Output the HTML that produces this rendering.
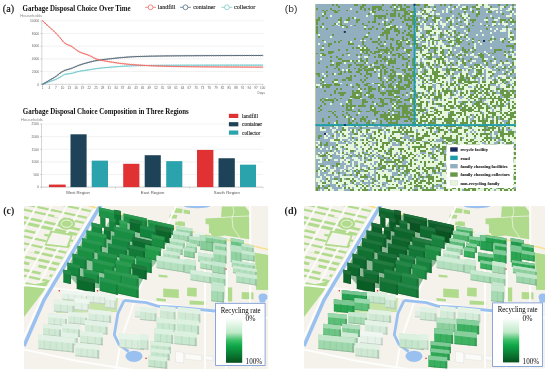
<!DOCTYPE html>
<html><head><meta charset="utf-8"><style>
html,body{margin:0;padding:0;background:#fff;}
body{width:550px;height:373px;overflow:hidden;}
svg{display:block;}
</style></head><body>
<svg width="550" height="373" viewBox="0 0 550 373">
<text x="2.8" y="12.2" font-family='"Liberation Serif", "Times New Roman", serif' font-size="10.5" fill="#111" stroke="#111" stroke-width="0.15" textLength="11.3" lengthAdjust="spacingAndGlyphs">(a)</text>
<text x="22.6" y="10.6" font-family='"Liberation Serif", "Times New Roman", serif' font-size="7.25" font-weight="bold" fill="#111" textLength="108" lengthAdjust="spacingAndGlyphs">Garbage Disposal Choice Over Time</text>
<text x="20.2" y="17.2" font-family='"Liberation Sans", Arial, sans-serif' font-size="4.1" fill="#888" textLength="21.8" lengthAdjust="spacingAndGlyphs">Households</text>
<text x="39.2" y="85.50" font-family='"Liberation Sans", Arial, sans-serif' font-size="3.3" fill="#666" text-anchor="end">0</text>
<line x1="40.3" y1="84.30" x2="41.8" y2="84.30" stroke="#999" stroke-width="0.4"/>
<line x1="42" y1="71.60" x2="263.5" y2="71.60" stroke="#e4e4e4" stroke-width="0.5"/>
<text x="39.2" y="72.80" font-family='"Liberation Sans", Arial, sans-serif' font-size="3.3" fill="#666" text-anchor="end">2000</text>
<line x1="40.3" y1="71.60" x2="41.8" y2="71.60" stroke="#999" stroke-width="0.4"/>
<line x1="42" y1="58.90" x2="263.5" y2="58.90" stroke="#e4e4e4" stroke-width="0.5"/>
<text x="39.2" y="60.10" font-family='"Liberation Sans", Arial, sans-serif' font-size="3.3" fill="#666" text-anchor="end">4000</text>
<line x1="40.3" y1="58.90" x2="41.8" y2="58.90" stroke="#999" stroke-width="0.4"/>
<line x1="42" y1="46.20" x2="263.5" y2="46.20" stroke="#e4e4e4" stroke-width="0.5"/>
<text x="39.2" y="47.40" font-family='"Liberation Sans", Arial, sans-serif' font-size="3.3" fill="#666" text-anchor="end">6000</text>
<line x1="40.3" y1="46.20" x2="41.8" y2="46.20" stroke="#999" stroke-width="0.4"/>
<line x1="42" y1="33.50" x2="263.5" y2="33.50" stroke="#e4e4e4" stroke-width="0.5"/>
<text x="39.2" y="34.70" font-family='"Liberation Sans", Arial, sans-serif' font-size="3.3" fill="#666" text-anchor="end">8000</text>
<line x1="40.3" y1="33.50" x2="41.8" y2="33.50" stroke="#999" stroke-width="0.4"/>
<line x1="42" y1="20.80" x2="263.5" y2="20.80" stroke="#e4e4e4" stroke-width="0.5"/>
<text x="39.2" y="22.00" font-family='"Liberation Sans", Arial, sans-serif' font-size="3.3" fill="#666" text-anchor="end">10000</text>
<line x1="40.3" y1="20.80" x2="41.8" y2="20.80" stroke="#999" stroke-width="0.4"/>
<line x1="41.8" y1="20.5" x2="41.8" y2="84.5" stroke="#aaa" stroke-width="0.5"/>
<line x1="41.8" y1="84.3" x2="263.5" y2="84.3" stroke="#aaa" stroke-width="0.5"/>
<line x1="42.60" y1="84.3" x2="42.60" y2="85.6" stroke="#999" stroke-width="0.35"/>
<text x="42.60" y="89.0" font-family='"Liberation Sans", Arial, sans-serif' font-size="3.2" fill="#666" text-anchor="middle">1</text>
<line x1="49.27" y1="84.3" x2="49.27" y2="85.6" stroke="#999" stroke-width="0.35"/>
<text x="49.27" y="89.0" font-family='"Liberation Sans", Arial, sans-serif' font-size="3.2" fill="#666" text-anchor="middle">4</text>
<line x1="55.93" y1="84.3" x2="55.93" y2="85.6" stroke="#999" stroke-width="0.35"/>
<text x="55.93" y="89.0" font-family='"Liberation Sans", Arial, sans-serif' font-size="3.2" fill="#666" text-anchor="middle">7</text>
<line x1="62.60" y1="84.3" x2="62.60" y2="85.6" stroke="#999" stroke-width="0.35"/>
<text x="62.60" y="89.0" font-family='"Liberation Sans", Arial, sans-serif' font-size="3.2" fill="#666" text-anchor="middle">10</text>
<line x1="69.27" y1="84.3" x2="69.27" y2="85.6" stroke="#999" stroke-width="0.35"/>
<text x="69.27" y="89.0" font-family='"Liberation Sans", Arial, sans-serif' font-size="3.2" fill="#666" text-anchor="middle">13</text>
<line x1="75.93" y1="84.3" x2="75.93" y2="85.6" stroke="#999" stroke-width="0.35"/>
<text x="75.93" y="89.0" font-family='"Liberation Sans", Arial, sans-serif' font-size="3.2" fill="#666" text-anchor="middle">16</text>
<line x1="82.60" y1="84.3" x2="82.60" y2="85.6" stroke="#999" stroke-width="0.35"/>
<text x="82.60" y="89.0" font-family='"Liberation Sans", Arial, sans-serif' font-size="3.2" fill="#666" text-anchor="middle">19</text>
<line x1="89.27" y1="84.3" x2="89.27" y2="85.6" stroke="#999" stroke-width="0.35"/>
<text x="89.27" y="89.0" font-family='"Liberation Sans", Arial, sans-serif' font-size="3.2" fill="#666" text-anchor="middle">22</text>
<line x1="95.93" y1="84.3" x2="95.93" y2="85.6" stroke="#999" stroke-width="0.35"/>
<text x="95.93" y="89.0" font-family='"Liberation Sans", Arial, sans-serif' font-size="3.2" fill="#666" text-anchor="middle">25</text>
<line x1="102.60" y1="84.3" x2="102.60" y2="85.6" stroke="#999" stroke-width="0.35"/>
<text x="102.60" y="89.0" font-family='"Liberation Sans", Arial, sans-serif' font-size="3.2" fill="#666" text-anchor="middle">28</text>
<line x1="109.27" y1="84.3" x2="109.27" y2="85.6" stroke="#999" stroke-width="0.35"/>
<text x="109.27" y="89.0" font-family='"Liberation Sans", Arial, sans-serif' font-size="3.2" fill="#666" text-anchor="middle">31</text>
<line x1="115.93" y1="84.3" x2="115.93" y2="85.6" stroke="#999" stroke-width="0.35"/>
<text x="115.93" y="89.0" font-family='"Liberation Sans", Arial, sans-serif' font-size="3.2" fill="#666" text-anchor="middle">34</text>
<line x1="122.60" y1="84.3" x2="122.60" y2="85.6" stroke="#999" stroke-width="0.35"/>
<text x="122.60" y="89.0" font-family='"Liberation Sans", Arial, sans-serif' font-size="3.2" fill="#666" text-anchor="middle">37</text>
<line x1="129.27" y1="84.3" x2="129.27" y2="85.6" stroke="#999" stroke-width="0.35"/>
<text x="129.27" y="89.0" font-family='"Liberation Sans", Arial, sans-serif' font-size="3.2" fill="#666" text-anchor="middle">40</text>
<line x1="135.93" y1="84.3" x2="135.93" y2="85.6" stroke="#999" stroke-width="0.35"/>
<text x="135.93" y="89.0" font-family='"Liberation Sans", Arial, sans-serif' font-size="3.2" fill="#666" text-anchor="middle">43</text>
<line x1="142.60" y1="84.3" x2="142.60" y2="85.6" stroke="#999" stroke-width="0.35"/>
<text x="142.60" y="89.0" font-family='"Liberation Sans", Arial, sans-serif' font-size="3.2" fill="#666" text-anchor="middle">46</text>
<line x1="149.27" y1="84.3" x2="149.27" y2="85.6" stroke="#999" stroke-width="0.35"/>
<text x="149.27" y="89.0" font-family='"Liberation Sans", Arial, sans-serif' font-size="3.2" fill="#666" text-anchor="middle">49</text>
<line x1="155.93" y1="84.3" x2="155.93" y2="85.6" stroke="#999" stroke-width="0.35"/>
<text x="155.93" y="89.0" font-family='"Liberation Sans", Arial, sans-serif' font-size="3.2" fill="#666" text-anchor="middle">52</text>
<line x1="162.60" y1="84.3" x2="162.60" y2="85.6" stroke="#999" stroke-width="0.35"/>
<text x="162.60" y="89.0" font-family='"Liberation Sans", Arial, sans-serif' font-size="3.2" fill="#666" text-anchor="middle">55</text>
<line x1="169.27" y1="84.3" x2="169.27" y2="85.6" stroke="#999" stroke-width="0.35"/>
<text x="169.27" y="89.0" font-family='"Liberation Sans", Arial, sans-serif' font-size="3.2" fill="#666" text-anchor="middle">58</text>
<line x1="175.93" y1="84.3" x2="175.93" y2="85.6" stroke="#999" stroke-width="0.35"/>
<text x="175.93" y="89.0" font-family='"Liberation Sans", Arial, sans-serif' font-size="3.2" fill="#666" text-anchor="middle">61</text>
<line x1="182.60" y1="84.3" x2="182.60" y2="85.6" stroke="#999" stroke-width="0.35"/>
<text x="182.60" y="89.0" font-family='"Liberation Sans", Arial, sans-serif' font-size="3.2" fill="#666" text-anchor="middle">64</text>
<line x1="189.27" y1="84.3" x2="189.27" y2="85.6" stroke="#999" stroke-width="0.35"/>
<text x="189.27" y="89.0" font-family='"Liberation Sans", Arial, sans-serif' font-size="3.2" fill="#666" text-anchor="middle">67</text>
<line x1="195.93" y1="84.3" x2="195.93" y2="85.6" stroke="#999" stroke-width="0.35"/>
<text x="195.93" y="89.0" font-family='"Liberation Sans", Arial, sans-serif' font-size="3.2" fill="#666" text-anchor="middle">70</text>
<line x1="202.60" y1="84.3" x2="202.60" y2="85.6" stroke="#999" stroke-width="0.35"/>
<text x="202.60" y="89.0" font-family='"Liberation Sans", Arial, sans-serif' font-size="3.2" fill="#666" text-anchor="middle">73</text>
<line x1="209.26" y1="84.3" x2="209.26" y2="85.6" stroke="#999" stroke-width="0.35"/>
<text x="209.26" y="89.0" font-family='"Liberation Sans", Arial, sans-serif' font-size="3.2" fill="#666" text-anchor="middle">76</text>
<line x1="215.93" y1="84.3" x2="215.93" y2="85.6" stroke="#999" stroke-width="0.35"/>
<text x="215.93" y="89.0" font-family='"Liberation Sans", Arial, sans-serif' font-size="3.2" fill="#666" text-anchor="middle">79</text>
<line x1="222.60" y1="84.3" x2="222.60" y2="85.6" stroke="#999" stroke-width="0.35"/>
<text x="222.60" y="89.0" font-family='"Liberation Sans", Arial, sans-serif' font-size="3.2" fill="#666" text-anchor="middle">82</text>
<line x1="229.26" y1="84.3" x2="229.26" y2="85.6" stroke="#999" stroke-width="0.35"/>
<text x="229.26" y="89.0" font-family='"Liberation Sans", Arial, sans-serif' font-size="3.2" fill="#666" text-anchor="middle">85</text>
<line x1="235.93" y1="84.3" x2="235.93" y2="85.6" stroke="#999" stroke-width="0.35"/>
<text x="235.93" y="89.0" font-family='"Liberation Sans", Arial, sans-serif' font-size="3.2" fill="#666" text-anchor="middle">88</text>
<line x1="242.60" y1="84.3" x2="242.60" y2="85.6" stroke="#999" stroke-width="0.35"/>
<text x="242.60" y="89.0" font-family='"Liberation Sans", Arial, sans-serif' font-size="3.2" fill="#666" text-anchor="middle">91</text>
<line x1="249.26" y1="84.3" x2="249.26" y2="85.6" stroke="#999" stroke-width="0.35"/>
<text x="249.26" y="89.0" font-family='"Liberation Sans", Arial, sans-serif' font-size="3.2" fill="#666" text-anchor="middle">94</text>
<line x1="255.93" y1="84.3" x2="255.93" y2="85.6" stroke="#999" stroke-width="0.35"/>
<text x="255.93" y="89.0" font-family='"Liberation Sans", Arial, sans-serif' font-size="3.2" fill="#666" text-anchor="middle">97</text>
<line x1="262.60" y1="84.3" x2="262.60" y2="85.6" stroke="#999" stroke-width="0.35"/>
<text x="262.60" y="89.0" font-family='"Liberation Sans", Arial, sans-serif' font-size="3.2" fill="#666" text-anchor="middle">100</text>
<text x="257.5" y="94.2" font-family='"Liberation Sans", Arial, sans-serif' font-size="3.2" fill="#666">Days</text>
<polyline points="42.60,84.30 44.82,83.45 47.04,82.59 49.27,81.76 51.49,81.00 53.71,80.27 55.93,79.41 58.16,78.28 60.38,77.00 62.60,75.52 64.82,74.39 67.04,73.98 69.27,73.71 71.49,73.38 73.71,72.83 75.93,72.17 78.16,71.56 80.38,71.11 82.60,70.74 84.82,70.41 87.04,70.09 89.27,69.75 91.49,69.39 93.71,69.03 95.93,68.69 98.16,68.40 100.38,68.14 102.60,67.89 104.82,67.67 107.04,67.47 109.27,67.28 111.49,67.11 113.71,66.94 115.93,66.77 118.15,66.60 120.38,66.45 122.60,66.30 124.82,66.16 127.04,66.03 129.27,65.92 131.49,65.83 133.71,65.75 135.93,65.69 138.15,65.65 140.38,65.61 142.60,65.57 144.82,65.53 147.04,65.50 149.27,65.46 151.49,65.43 153.71,65.41 155.93,65.38 158.15,65.36 160.38,65.34 162.60,65.32 164.82,65.30 167.04,65.28 169.27,65.27 171.49,65.26 173.71,65.25 175.93,65.24 178.15,65.23 180.38,65.23 182.60,65.22 184.82,65.21 187.04,65.21 189.27,65.20 191.49,65.20 193.71,65.19 195.93,65.19 198.15,65.18 200.38,65.18 202.60,65.18 204.82,65.17 207.04,65.17 209.26,65.17 211.49,65.16 213.71,65.16 215.93,65.16 218.15,65.15 220.38,65.15 222.60,65.15 224.82,65.15 227.04,65.15 229.26,65.14 231.49,65.14 233.71,65.14 235.93,65.14 238.15,65.14 240.38,65.14 242.60,65.14 244.82,65.13 247.04,65.13 249.26,65.13 251.49,65.13 253.71,65.13 255.93,65.13 258.15,65.13 260.38,65.12 262.60,65.12" fill="none" stroke="#74cbcd" stroke-width="1.0" stroke-linejoin="round"/>
<path d="M42.00 84.30a0.6 0.6 0 1 0 1.2 0a0.6 0.6 0 1 0 -1.2 0M44.22 83.45a0.6 0.6 0 1 0 1.2 0a0.6 0.6 0 1 0 -1.2 0M46.44 82.59a0.6 0.6 0 1 0 1.2 0a0.6 0.6 0 1 0 -1.2 0M48.67 81.76a0.6 0.6 0 1 0 1.2 0a0.6 0.6 0 1 0 -1.2 0M50.89 81.00a0.6 0.6 0 1 0 1.2 0a0.6 0.6 0 1 0 -1.2 0M53.11 80.27a0.6 0.6 0 1 0 1.2 0a0.6 0.6 0 1 0 -1.2 0M55.33 79.41a0.6 0.6 0 1 0 1.2 0a0.6 0.6 0 1 0 -1.2 0M57.56 78.28a0.6 0.6 0 1 0 1.2 0a0.6 0.6 0 1 0 -1.2 0M59.78 77.00a0.6 0.6 0 1 0 1.2 0a0.6 0.6 0 1 0 -1.2 0M62.00 75.52a0.6 0.6 0 1 0 1.2 0a0.6 0.6 0 1 0 -1.2 0M64.22 74.39a0.6 0.6 0 1 0 1.2 0a0.6 0.6 0 1 0 -1.2 0M66.44 73.98a0.6 0.6 0 1 0 1.2 0a0.6 0.6 0 1 0 -1.2 0M68.67 73.71a0.6 0.6 0 1 0 1.2 0a0.6 0.6 0 1 0 -1.2 0M70.89 73.38a0.6 0.6 0 1 0 1.2 0a0.6 0.6 0 1 0 -1.2 0M73.11 72.83a0.6 0.6 0 1 0 1.2 0a0.6 0.6 0 1 0 -1.2 0M75.33 72.17a0.6 0.6 0 1 0 1.2 0a0.6 0.6 0 1 0 -1.2 0M77.56 71.56a0.6 0.6 0 1 0 1.2 0a0.6 0.6 0 1 0 -1.2 0M79.78 71.11a0.6 0.6 0 1 0 1.2 0a0.6 0.6 0 1 0 -1.2 0M82.00 70.74a0.6 0.6 0 1 0 1.2 0a0.6 0.6 0 1 0 -1.2 0M84.22 70.41a0.6 0.6 0 1 0 1.2 0a0.6 0.6 0 1 0 -1.2 0M86.44 70.09a0.6 0.6 0 1 0 1.2 0a0.6 0.6 0 1 0 -1.2 0M88.67 69.75a0.6 0.6 0 1 0 1.2 0a0.6 0.6 0 1 0 -1.2 0M90.89 69.39a0.6 0.6 0 1 0 1.2 0a0.6 0.6 0 1 0 -1.2 0M93.11 69.03a0.6 0.6 0 1 0 1.2 0a0.6 0.6 0 1 0 -1.2 0M95.33 68.69a0.6 0.6 0 1 0 1.2 0a0.6 0.6 0 1 0 -1.2 0M97.56 68.40a0.6 0.6 0 1 0 1.2 0a0.6 0.6 0 1 0 -1.2 0M99.78 68.14a0.6 0.6 0 1 0 1.2 0a0.6 0.6 0 1 0 -1.2 0M102.00 67.89a0.6 0.6 0 1 0 1.2 0a0.6 0.6 0 1 0 -1.2 0M104.22 67.67a0.6 0.6 0 1 0 1.2 0a0.6 0.6 0 1 0 -1.2 0M106.44 67.47a0.6 0.6 0 1 0 1.2 0a0.6 0.6 0 1 0 -1.2 0M108.67 67.28a0.6 0.6 0 1 0 1.2 0a0.6 0.6 0 1 0 -1.2 0M110.89 67.11a0.6 0.6 0 1 0 1.2 0a0.6 0.6 0 1 0 -1.2 0M113.11 66.94a0.6 0.6 0 1 0 1.2 0a0.6 0.6 0 1 0 -1.2 0M115.33 66.77a0.6 0.6 0 1 0 1.2 0a0.6 0.6 0 1 0 -1.2 0M117.55 66.60a0.6 0.6 0 1 0 1.2 0a0.6 0.6 0 1 0 -1.2 0M119.78 66.45a0.6 0.6 0 1 0 1.2 0a0.6 0.6 0 1 0 -1.2 0M122.00 66.30a0.6 0.6 0 1 0 1.2 0a0.6 0.6 0 1 0 -1.2 0M124.22 66.16a0.6 0.6 0 1 0 1.2 0a0.6 0.6 0 1 0 -1.2 0M126.44 66.03a0.6 0.6 0 1 0 1.2 0a0.6 0.6 0 1 0 -1.2 0M128.67 65.92a0.6 0.6 0 1 0 1.2 0a0.6 0.6 0 1 0 -1.2 0M130.89 65.83a0.6 0.6 0 1 0 1.2 0a0.6 0.6 0 1 0 -1.2 0M133.11 65.75a0.6 0.6 0 1 0 1.2 0a0.6 0.6 0 1 0 -1.2 0M135.33 65.69a0.6 0.6 0 1 0 1.2 0a0.6 0.6 0 1 0 -1.2 0M137.55 65.65a0.6 0.6 0 1 0 1.2 0a0.6 0.6 0 1 0 -1.2 0M139.78 65.61a0.6 0.6 0 1 0 1.2 0a0.6 0.6 0 1 0 -1.2 0M142.00 65.57a0.6 0.6 0 1 0 1.2 0a0.6 0.6 0 1 0 -1.2 0M144.22 65.53a0.6 0.6 0 1 0 1.2 0a0.6 0.6 0 1 0 -1.2 0M146.44 65.50a0.6 0.6 0 1 0 1.2 0a0.6 0.6 0 1 0 -1.2 0M148.67 65.46a0.6 0.6 0 1 0 1.2 0a0.6 0.6 0 1 0 -1.2 0M150.89 65.43a0.6 0.6 0 1 0 1.2 0a0.6 0.6 0 1 0 -1.2 0M153.11 65.41a0.6 0.6 0 1 0 1.2 0a0.6 0.6 0 1 0 -1.2 0M155.33 65.38a0.6 0.6 0 1 0 1.2 0a0.6 0.6 0 1 0 -1.2 0M157.55 65.36a0.6 0.6 0 1 0 1.2 0a0.6 0.6 0 1 0 -1.2 0M159.78 65.34a0.6 0.6 0 1 0 1.2 0a0.6 0.6 0 1 0 -1.2 0M162.00 65.32a0.6 0.6 0 1 0 1.2 0a0.6 0.6 0 1 0 -1.2 0M164.22 65.30a0.6 0.6 0 1 0 1.2 0a0.6 0.6 0 1 0 -1.2 0M166.44 65.28a0.6 0.6 0 1 0 1.2 0a0.6 0.6 0 1 0 -1.2 0M168.67 65.27a0.6 0.6 0 1 0 1.2 0a0.6 0.6 0 1 0 -1.2 0M170.89 65.26a0.6 0.6 0 1 0 1.2 0a0.6 0.6 0 1 0 -1.2 0M173.11 65.25a0.6 0.6 0 1 0 1.2 0a0.6 0.6 0 1 0 -1.2 0M175.33 65.24a0.6 0.6 0 1 0 1.2 0a0.6 0.6 0 1 0 -1.2 0M177.55 65.23a0.6 0.6 0 1 0 1.2 0a0.6 0.6 0 1 0 -1.2 0M179.78 65.23a0.6 0.6 0 1 0 1.2 0a0.6 0.6 0 1 0 -1.2 0M182.00 65.22a0.6 0.6 0 1 0 1.2 0a0.6 0.6 0 1 0 -1.2 0M184.22 65.21a0.6 0.6 0 1 0 1.2 0a0.6 0.6 0 1 0 -1.2 0M186.44 65.21a0.6 0.6 0 1 0 1.2 0a0.6 0.6 0 1 0 -1.2 0M188.67 65.20a0.6 0.6 0 1 0 1.2 0a0.6 0.6 0 1 0 -1.2 0M190.89 65.20a0.6 0.6 0 1 0 1.2 0a0.6 0.6 0 1 0 -1.2 0M193.11 65.19a0.6 0.6 0 1 0 1.2 0a0.6 0.6 0 1 0 -1.2 0M195.33 65.19a0.6 0.6 0 1 0 1.2 0a0.6 0.6 0 1 0 -1.2 0M197.55 65.18a0.6 0.6 0 1 0 1.2 0a0.6 0.6 0 1 0 -1.2 0M199.78 65.18a0.6 0.6 0 1 0 1.2 0a0.6 0.6 0 1 0 -1.2 0M202.00 65.18a0.6 0.6 0 1 0 1.2 0a0.6 0.6 0 1 0 -1.2 0M204.22 65.17a0.6 0.6 0 1 0 1.2 0a0.6 0.6 0 1 0 -1.2 0M206.44 65.17a0.6 0.6 0 1 0 1.2 0a0.6 0.6 0 1 0 -1.2 0M208.66 65.17a0.6 0.6 0 1 0 1.2 0a0.6 0.6 0 1 0 -1.2 0M210.89 65.16a0.6 0.6 0 1 0 1.2 0a0.6 0.6 0 1 0 -1.2 0M213.11 65.16a0.6 0.6 0 1 0 1.2 0a0.6 0.6 0 1 0 -1.2 0M215.33 65.16a0.6 0.6 0 1 0 1.2 0a0.6 0.6 0 1 0 -1.2 0M217.55 65.15a0.6 0.6 0 1 0 1.2 0a0.6 0.6 0 1 0 -1.2 0M219.78 65.15a0.6 0.6 0 1 0 1.2 0a0.6 0.6 0 1 0 -1.2 0M222.00 65.15a0.6 0.6 0 1 0 1.2 0a0.6 0.6 0 1 0 -1.2 0M224.22 65.15a0.6 0.6 0 1 0 1.2 0a0.6 0.6 0 1 0 -1.2 0M226.44 65.15a0.6 0.6 0 1 0 1.2 0a0.6 0.6 0 1 0 -1.2 0M228.66 65.14a0.6 0.6 0 1 0 1.2 0a0.6 0.6 0 1 0 -1.2 0M230.89 65.14a0.6 0.6 0 1 0 1.2 0a0.6 0.6 0 1 0 -1.2 0M233.11 65.14a0.6 0.6 0 1 0 1.2 0a0.6 0.6 0 1 0 -1.2 0M235.33 65.14a0.6 0.6 0 1 0 1.2 0a0.6 0.6 0 1 0 -1.2 0M237.55 65.14a0.6 0.6 0 1 0 1.2 0a0.6 0.6 0 1 0 -1.2 0M239.78 65.14a0.6 0.6 0 1 0 1.2 0a0.6 0.6 0 1 0 -1.2 0M242.00 65.14a0.6 0.6 0 1 0 1.2 0a0.6 0.6 0 1 0 -1.2 0M244.22 65.13a0.6 0.6 0 1 0 1.2 0a0.6 0.6 0 1 0 -1.2 0M246.44 65.13a0.6 0.6 0 1 0 1.2 0a0.6 0.6 0 1 0 -1.2 0M248.66 65.13a0.6 0.6 0 1 0 1.2 0a0.6 0.6 0 1 0 -1.2 0M250.89 65.13a0.6 0.6 0 1 0 1.2 0a0.6 0.6 0 1 0 -1.2 0M253.11 65.13a0.6 0.6 0 1 0 1.2 0a0.6 0.6 0 1 0 -1.2 0M255.33 65.13a0.6 0.6 0 1 0 1.2 0a0.6 0.6 0 1 0 -1.2 0M257.55 65.13a0.6 0.6 0 1 0 1.2 0a0.6 0.6 0 1 0 -1.2 0M259.78 65.12a0.6 0.6 0 1 0 1.2 0a0.6 0.6 0 1 0 -1.2 0M262.00 65.12a0.6 0.6 0 1 0 1.2 0a0.6 0.6 0 1 0 -1.2 0" fill="none" stroke="#74cbcd" stroke-width="0.45" opacity="0.9"/>
<polyline points="42.60,84.30 44.82,82.99 47.04,81.68 49.27,80.36 51.49,79.10 53.71,77.83 55.93,76.43 58.16,74.63 60.38,72.87 62.60,71.49 64.82,70.39 67.04,69.67 69.27,69.08 71.49,68.42 73.71,67.53 75.93,66.52 78.16,65.56 80.38,64.78 82.60,64.07 84.82,63.41 87.04,62.79 89.27,62.22 91.49,61.66 93.71,61.13 95.93,60.66 98.16,60.26 100.38,59.94 102.60,59.65 104.82,59.39 107.04,59.15 109.27,58.90 111.49,58.65 113.71,58.39 115.93,58.15 118.15,57.91 120.38,57.70 122.60,57.50 124.82,57.32 127.04,57.14 129.27,56.98 131.49,56.83 133.71,56.71 135.93,56.61 138.15,56.54 140.38,56.47 142.60,56.41 144.82,56.35 147.04,56.29 149.27,56.23 151.49,56.18 153.71,56.14 155.93,56.09 158.15,56.05 160.38,56.02 162.60,55.98 164.82,55.95 167.04,55.92 169.27,55.90 171.49,55.87 173.71,55.85 175.93,55.83 178.15,55.81 180.38,55.80 182.60,55.78 184.82,55.76 187.04,55.75 189.27,55.73 191.49,55.72 193.71,55.71 195.93,55.70 198.15,55.68 200.38,55.67 202.60,55.66 204.82,55.65 207.04,55.64 209.26,55.63 211.49,55.62 213.71,55.62 215.93,55.61 218.15,55.60 220.38,55.59 222.60,55.58 224.82,55.57 227.04,55.57 229.26,55.56 231.49,55.55 233.71,55.55 235.93,55.54 238.15,55.54 240.38,55.53 242.60,55.52 244.82,55.52 247.04,55.51 249.26,55.51 251.49,55.50 253.71,55.50 255.93,55.49 258.15,55.48 260.38,55.48 262.60,55.47" fill="none" stroke="#5a6b7a" stroke-width="1.0" stroke-linejoin="round"/>
<path d="M42.00 84.30a0.6 0.6 0 1 0 1.2 0a0.6 0.6 0 1 0 -1.2 0M44.22 82.99a0.6 0.6 0 1 0 1.2 0a0.6 0.6 0 1 0 -1.2 0M46.44 81.68a0.6 0.6 0 1 0 1.2 0a0.6 0.6 0 1 0 -1.2 0M48.67 80.36a0.6 0.6 0 1 0 1.2 0a0.6 0.6 0 1 0 -1.2 0M50.89 79.10a0.6 0.6 0 1 0 1.2 0a0.6 0.6 0 1 0 -1.2 0M53.11 77.83a0.6 0.6 0 1 0 1.2 0a0.6 0.6 0 1 0 -1.2 0M55.33 76.43a0.6 0.6 0 1 0 1.2 0a0.6 0.6 0 1 0 -1.2 0M57.56 74.63a0.6 0.6 0 1 0 1.2 0a0.6 0.6 0 1 0 -1.2 0M59.78 72.87a0.6 0.6 0 1 0 1.2 0a0.6 0.6 0 1 0 -1.2 0M62.00 71.49a0.6 0.6 0 1 0 1.2 0a0.6 0.6 0 1 0 -1.2 0M64.22 70.39a0.6 0.6 0 1 0 1.2 0a0.6 0.6 0 1 0 -1.2 0M66.44 69.67a0.6 0.6 0 1 0 1.2 0a0.6 0.6 0 1 0 -1.2 0M68.67 69.08a0.6 0.6 0 1 0 1.2 0a0.6 0.6 0 1 0 -1.2 0M70.89 68.42a0.6 0.6 0 1 0 1.2 0a0.6 0.6 0 1 0 -1.2 0M73.11 67.53a0.6 0.6 0 1 0 1.2 0a0.6 0.6 0 1 0 -1.2 0M75.33 66.52a0.6 0.6 0 1 0 1.2 0a0.6 0.6 0 1 0 -1.2 0M77.56 65.56a0.6 0.6 0 1 0 1.2 0a0.6 0.6 0 1 0 -1.2 0M79.78 64.78a0.6 0.6 0 1 0 1.2 0a0.6 0.6 0 1 0 -1.2 0M82.00 64.07a0.6 0.6 0 1 0 1.2 0a0.6 0.6 0 1 0 -1.2 0M84.22 63.41a0.6 0.6 0 1 0 1.2 0a0.6 0.6 0 1 0 -1.2 0M86.44 62.79a0.6 0.6 0 1 0 1.2 0a0.6 0.6 0 1 0 -1.2 0M88.67 62.22a0.6 0.6 0 1 0 1.2 0a0.6 0.6 0 1 0 -1.2 0M90.89 61.66a0.6 0.6 0 1 0 1.2 0a0.6 0.6 0 1 0 -1.2 0M93.11 61.13a0.6 0.6 0 1 0 1.2 0a0.6 0.6 0 1 0 -1.2 0M95.33 60.66a0.6 0.6 0 1 0 1.2 0a0.6 0.6 0 1 0 -1.2 0M97.56 60.26a0.6 0.6 0 1 0 1.2 0a0.6 0.6 0 1 0 -1.2 0M99.78 59.94a0.6 0.6 0 1 0 1.2 0a0.6 0.6 0 1 0 -1.2 0M102.00 59.65a0.6 0.6 0 1 0 1.2 0a0.6 0.6 0 1 0 -1.2 0M104.22 59.39a0.6 0.6 0 1 0 1.2 0a0.6 0.6 0 1 0 -1.2 0M106.44 59.15a0.6 0.6 0 1 0 1.2 0a0.6 0.6 0 1 0 -1.2 0M108.67 58.90a0.6 0.6 0 1 0 1.2 0a0.6 0.6 0 1 0 -1.2 0M110.89 58.65a0.6 0.6 0 1 0 1.2 0a0.6 0.6 0 1 0 -1.2 0M113.11 58.39a0.6 0.6 0 1 0 1.2 0a0.6 0.6 0 1 0 -1.2 0M115.33 58.15a0.6 0.6 0 1 0 1.2 0a0.6 0.6 0 1 0 -1.2 0M117.55 57.91a0.6 0.6 0 1 0 1.2 0a0.6 0.6 0 1 0 -1.2 0M119.78 57.70a0.6 0.6 0 1 0 1.2 0a0.6 0.6 0 1 0 -1.2 0M122.00 57.50a0.6 0.6 0 1 0 1.2 0a0.6 0.6 0 1 0 -1.2 0M124.22 57.32a0.6 0.6 0 1 0 1.2 0a0.6 0.6 0 1 0 -1.2 0M126.44 57.14a0.6 0.6 0 1 0 1.2 0a0.6 0.6 0 1 0 -1.2 0M128.67 56.98a0.6 0.6 0 1 0 1.2 0a0.6 0.6 0 1 0 -1.2 0M130.89 56.83a0.6 0.6 0 1 0 1.2 0a0.6 0.6 0 1 0 -1.2 0M133.11 56.71a0.6 0.6 0 1 0 1.2 0a0.6 0.6 0 1 0 -1.2 0M135.33 56.61a0.6 0.6 0 1 0 1.2 0a0.6 0.6 0 1 0 -1.2 0M137.55 56.54a0.6 0.6 0 1 0 1.2 0a0.6 0.6 0 1 0 -1.2 0M139.78 56.47a0.6 0.6 0 1 0 1.2 0a0.6 0.6 0 1 0 -1.2 0M142.00 56.41a0.6 0.6 0 1 0 1.2 0a0.6 0.6 0 1 0 -1.2 0M144.22 56.35a0.6 0.6 0 1 0 1.2 0a0.6 0.6 0 1 0 -1.2 0M146.44 56.29a0.6 0.6 0 1 0 1.2 0a0.6 0.6 0 1 0 -1.2 0M148.67 56.23a0.6 0.6 0 1 0 1.2 0a0.6 0.6 0 1 0 -1.2 0M150.89 56.18a0.6 0.6 0 1 0 1.2 0a0.6 0.6 0 1 0 -1.2 0M153.11 56.14a0.6 0.6 0 1 0 1.2 0a0.6 0.6 0 1 0 -1.2 0M155.33 56.09a0.6 0.6 0 1 0 1.2 0a0.6 0.6 0 1 0 -1.2 0M157.55 56.05a0.6 0.6 0 1 0 1.2 0a0.6 0.6 0 1 0 -1.2 0M159.78 56.02a0.6 0.6 0 1 0 1.2 0a0.6 0.6 0 1 0 -1.2 0M162.00 55.98a0.6 0.6 0 1 0 1.2 0a0.6 0.6 0 1 0 -1.2 0M164.22 55.95a0.6 0.6 0 1 0 1.2 0a0.6 0.6 0 1 0 -1.2 0M166.44 55.92a0.6 0.6 0 1 0 1.2 0a0.6 0.6 0 1 0 -1.2 0M168.67 55.90a0.6 0.6 0 1 0 1.2 0a0.6 0.6 0 1 0 -1.2 0M170.89 55.87a0.6 0.6 0 1 0 1.2 0a0.6 0.6 0 1 0 -1.2 0M173.11 55.85a0.6 0.6 0 1 0 1.2 0a0.6 0.6 0 1 0 -1.2 0M175.33 55.83a0.6 0.6 0 1 0 1.2 0a0.6 0.6 0 1 0 -1.2 0M177.55 55.81a0.6 0.6 0 1 0 1.2 0a0.6 0.6 0 1 0 -1.2 0M179.78 55.80a0.6 0.6 0 1 0 1.2 0a0.6 0.6 0 1 0 -1.2 0M182.00 55.78a0.6 0.6 0 1 0 1.2 0a0.6 0.6 0 1 0 -1.2 0M184.22 55.76a0.6 0.6 0 1 0 1.2 0a0.6 0.6 0 1 0 -1.2 0M186.44 55.75a0.6 0.6 0 1 0 1.2 0a0.6 0.6 0 1 0 -1.2 0M188.67 55.73a0.6 0.6 0 1 0 1.2 0a0.6 0.6 0 1 0 -1.2 0M190.89 55.72a0.6 0.6 0 1 0 1.2 0a0.6 0.6 0 1 0 -1.2 0M193.11 55.71a0.6 0.6 0 1 0 1.2 0a0.6 0.6 0 1 0 -1.2 0M195.33 55.70a0.6 0.6 0 1 0 1.2 0a0.6 0.6 0 1 0 -1.2 0M197.55 55.68a0.6 0.6 0 1 0 1.2 0a0.6 0.6 0 1 0 -1.2 0M199.78 55.67a0.6 0.6 0 1 0 1.2 0a0.6 0.6 0 1 0 -1.2 0M202.00 55.66a0.6 0.6 0 1 0 1.2 0a0.6 0.6 0 1 0 -1.2 0M204.22 55.65a0.6 0.6 0 1 0 1.2 0a0.6 0.6 0 1 0 -1.2 0M206.44 55.64a0.6 0.6 0 1 0 1.2 0a0.6 0.6 0 1 0 -1.2 0M208.66 55.63a0.6 0.6 0 1 0 1.2 0a0.6 0.6 0 1 0 -1.2 0M210.89 55.62a0.6 0.6 0 1 0 1.2 0a0.6 0.6 0 1 0 -1.2 0M213.11 55.62a0.6 0.6 0 1 0 1.2 0a0.6 0.6 0 1 0 -1.2 0M215.33 55.61a0.6 0.6 0 1 0 1.2 0a0.6 0.6 0 1 0 -1.2 0M217.55 55.60a0.6 0.6 0 1 0 1.2 0a0.6 0.6 0 1 0 -1.2 0M219.78 55.59a0.6 0.6 0 1 0 1.2 0a0.6 0.6 0 1 0 -1.2 0M222.00 55.58a0.6 0.6 0 1 0 1.2 0a0.6 0.6 0 1 0 -1.2 0M224.22 55.57a0.6 0.6 0 1 0 1.2 0a0.6 0.6 0 1 0 -1.2 0M226.44 55.57a0.6 0.6 0 1 0 1.2 0a0.6 0.6 0 1 0 -1.2 0M228.66 55.56a0.6 0.6 0 1 0 1.2 0a0.6 0.6 0 1 0 -1.2 0M230.89 55.55a0.6 0.6 0 1 0 1.2 0a0.6 0.6 0 1 0 -1.2 0M233.11 55.55a0.6 0.6 0 1 0 1.2 0a0.6 0.6 0 1 0 -1.2 0M235.33 55.54a0.6 0.6 0 1 0 1.2 0a0.6 0.6 0 1 0 -1.2 0M237.55 55.54a0.6 0.6 0 1 0 1.2 0a0.6 0.6 0 1 0 -1.2 0M239.78 55.53a0.6 0.6 0 1 0 1.2 0a0.6 0.6 0 1 0 -1.2 0M242.00 55.52a0.6 0.6 0 1 0 1.2 0a0.6 0.6 0 1 0 -1.2 0M244.22 55.52a0.6 0.6 0 1 0 1.2 0a0.6 0.6 0 1 0 -1.2 0M246.44 55.51a0.6 0.6 0 1 0 1.2 0a0.6 0.6 0 1 0 -1.2 0M248.66 55.51a0.6 0.6 0 1 0 1.2 0a0.6 0.6 0 1 0 -1.2 0M250.89 55.50a0.6 0.6 0 1 0 1.2 0a0.6 0.6 0 1 0 -1.2 0M253.11 55.50a0.6 0.6 0 1 0 1.2 0a0.6 0.6 0 1 0 -1.2 0M255.33 55.49a0.6 0.6 0 1 0 1.2 0a0.6 0.6 0 1 0 -1.2 0M257.55 55.48a0.6 0.6 0 1 0 1.2 0a0.6 0.6 0 1 0 -1.2 0M259.78 55.48a0.6 0.6 0 1 0 1.2 0a0.6 0.6 0 1 0 -1.2 0M262.00 55.47a0.6 0.6 0 1 0 1.2 0a0.6 0.6 0 1 0 -1.2 0" fill="none" stroke="#5a6b7a" stroke-width="0.45" opacity="0.9"/>
<polyline points="42.60,20.80 44.82,22.88 47.04,24.95 49.27,27.02 51.49,29.04 53.71,31.05 55.93,33.18 58.16,35.56 60.38,38.07 62.60,40.88 64.82,43.22 67.04,44.43 69.27,45.39 71.49,46.33 73.71,47.81 75.93,49.61 78.16,51.23 80.38,52.31 82.60,53.14 84.82,53.88 87.04,54.62 89.27,55.49 91.49,56.57 93.71,57.75 95.93,58.82 98.16,59.60 100.38,60.14 102.60,60.59 104.82,60.97 107.04,61.33 109.27,61.69 111.49,62.06 113.71,62.42 115.93,62.77 118.15,63.10 120.38,63.40 122.60,63.66 124.82,63.90 127.04,64.13 129.27,64.34 131.49,64.54 133.71,64.71 135.93,64.87 138.15,65.02 140.38,65.16 142.60,65.29 144.82,65.43 147.04,65.55 149.27,65.67 151.49,65.78 153.71,65.89 155.93,65.98 158.15,66.06 160.38,66.14 162.60,66.20 164.82,66.26 167.04,66.31 169.27,66.36 171.49,66.41 173.71,66.46 175.93,66.50 178.15,66.54 180.38,66.58 182.60,66.61 184.82,66.65 187.04,66.68 189.27,66.70 191.49,66.73 193.71,66.75 195.93,66.77 198.15,66.79 200.38,66.81 202.60,66.83 204.82,66.85 207.04,66.86 209.26,66.88 211.49,66.89 213.71,66.91 215.93,66.92 218.15,66.93 220.38,66.95 222.60,66.96 224.82,66.97 227.04,66.98 229.26,66.99 231.49,67.00 233.71,67.01 235.93,67.02 238.15,67.03 240.38,67.04 242.60,67.05 244.82,67.07 247.04,67.08 249.26,67.09 251.49,67.10 253.71,67.11 255.93,67.12 258.15,67.13 260.38,67.14 262.60,67.16" fill="none" stroke="#f2706a" stroke-width="1.0" stroke-linejoin="round"/>
<path d="M42.00 20.80a0.6 0.6 0 1 0 1.2 0a0.6 0.6 0 1 0 -1.2 0M44.22 22.88a0.6 0.6 0 1 0 1.2 0a0.6 0.6 0 1 0 -1.2 0M46.44 24.95a0.6 0.6 0 1 0 1.2 0a0.6 0.6 0 1 0 -1.2 0M48.67 27.02a0.6 0.6 0 1 0 1.2 0a0.6 0.6 0 1 0 -1.2 0M50.89 29.04a0.6 0.6 0 1 0 1.2 0a0.6 0.6 0 1 0 -1.2 0M53.11 31.05a0.6 0.6 0 1 0 1.2 0a0.6 0.6 0 1 0 -1.2 0M55.33 33.18a0.6 0.6 0 1 0 1.2 0a0.6 0.6 0 1 0 -1.2 0M57.56 35.56a0.6 0.6 0 1 0 1.2 0a0.6 0.6 0 1 0 -1.2 0M59.78 38.07a0.6 0.6 0 1 0 1.2 0a0.6 0.6 0 1 0 -1.2 0M62.00 40.88a0.6 0.6 0 1 0 1.2 0a0.6 0.6 0 1 0 -1.2 0M64.22 43.22a0.6 0.6 0 1 0 1.2 0a0.6 0.6 0 1 0 -1.2 0M66.44 44.43a0.6 0.6 0 1 0 1.2 0a0.6 0.6 0 1 0 -1.2 0M68.67 45.39a0.6 0.6 0 1 0 1.2 0a0.6 0.6 0 1 0 -1.2 0M70.89 46.33a0.6 0.6 0 1 0 1.2 0a0.6 0.6 0 1 0 -1.2 0M73.11 47.81a0.6 0.6 0 1 0 1.2 0a0.6 0.6 0 1 0 -1.2 0M75.33 49.61a0.6 0.6 0 1 0 1.2 0a0.6 0.6 0 1 0 -1.2 0M77.56 51.23a0.6 0.6 0 1 0 1.2 0a0.6 0.6 0 1 0 -1.2 0M79.78 52.31a0.6 0.6 0 1 0 1.2 0a0.6 0.6 0 1 0 -1.2 0M82.00 53.14a0.6 0.6 0 1 0 1.2 0a0.6 0.6 0 1 0 -1.2 0M84.22 53.88a0.6 0.6 0 1 0 1.2 0a0.6 0.6 0 1 0 -1.2 0M86.44 54.62a0.6 0.6 0 1 0 1.2 0a0.6 0.6 0 1 0 -1.2 0M88.67 55.49a0.6 0.6 0 1 0 1.2 0a0.6 0.6 0 1 0 -1.2 0M90.89 56.57a0.6 0.6 0 1 0 1.2 0a0.6 0.6 0 1 0 -1.2 0M93.11 57.75a0.6 0.6 0 1 0 1.2 0a0.6 0.6 0 1 0 -1.2 0M95.33 58.82a0.6 0.6 0 1 0 1.2 0a0.6 0.6 0 1 0 -1.2 0M97.56 59.60a0.6 0.6 0 1 0 1.2 0a0.6 0.6 0 1 0 -1.2 0M99.78 60.14a0.6 0.6 0 1 0 1.2 0a0.6 0.6 0 1 0 -1.2 0M102.00 60.59a0.6 0.6 0 1 0 1.2 0a0.6 0.6 0 1 0 -1.2 0M104.22 60.97a0.6 0.6 0 1 0 1.2 0a0.6 0.6 0 1 0 -1.2 0M106.44 61.33a0.6 0.6 0 1 0 1.2 0a0.6 0.6 0 1 0 -1.2 0M108.67 61.69a0.6 0.6 0 1 0 1.2 0a0.6 0.6 0 1 0 -1.2 0M110.89 62.06a0.6 0.6 0 1 0 1.2 0a0.6 0.6 0 1 0 -1.2 0M113.11 62.42a0.6 0.6 0 1 0 1.2 0a0.6 0.6 0 1 0 -1.2 0M115.33 62.77a0.6 0.6 0 1 0 1.2 0a0.6 0.6 0 1 0 -1.2 0M117.55 63.10a0.6 0.6 0 1 0 1.2 0a0.6 0.6 0 1 0 -1.2 0M119.78 63.40a0.6 0.6 0 1 0 1.2 0a0.6 0.6 0 1 0 -1.2 0M122.00 63.66a0.6 0.6 0 1 0 1.2 0a0.6 0.6 0 1 0 -1.2 0M124.22 63.90a0.6 0.6 0 1 0 1.2 0a0.6 0.6 0 1 0 -1.2 0M126.44 64.13a0.6 0.6 0 1 0 1.2 0a0.6 0.6 0 1 0 -1.2 0M128.67 64.34a0.6 0.6 0 1 0 1.2 0a0.6 0.6 0 1 0 -1.2 0M130.89 64.54a0.6 0.6 0 1 0 1.2 0a0.6 0.6 0 1 0 -1.2 0M133.11 64.71a0.6 0.6 0 1 0 1.2 0a0.6 0.6 0 1 0 -1.2 0M135.33 64.87a0.6 0.6 0 1 0 1.2 0a0.6 0.6 0 1 0 -1.2 0M137.55 65.02a0.6 0.6 0 1 0 1.2 0a0.6 0.6 0 1 0 -1.2 0M139.78 65.16a0.6 0.6 0 1 0 1.2 0a0.6 0.6 0 1 0 -1.2 0M142.00 65.29a0.6 0.6 0 1 0 1.2 0a0.6 0.6 0 1 0 -1.2 0M144.22 65.43a0.6 0.6 0 1 0 1.2 0a0.6 0.6 0 1 0 -1.2 0M146.44 65.55a0.6 0.6 0 1 0 1.2 0a0.6 0.6 0 1 0 -1.2 0M148.67 65.67a0.6 0.6 0 1 0 1.2 0a0.6 0.6 0 1 0 -1.2 0M150.89 65.78a0.6 0.6 0 1 0 1.2 0a0.6 0.6 0 1 0 -1.2 0M153.11 65.89a0.6 0.6 0 1 0 1.2 0a0.6 0.6 0 1 0 -1.2 0M155.33 65.98a0.6 0.6 0 1 0 1.2 0a0.6 0.6 0 1 0 -1.2 0M157.55 66.06a0.6 0.6 0 1 0 1.2 0a0.6 0.6 0 1 0 -1.2 0M159.78 66.14a0.6 0.6 0 1 0 1.2 0a0.6 0.6 0 1 0 -1.2 0M162.00 66.20a0.6 0.6 0 1 0 1.2 0a0.6 0.6 0 1 0 -1.2 0M164.22 66.26a0.6 0.6 0 1 0 1.2 0a0.6 0.6 0 1 0 -1.2 0M166.44 66.31a0.6 0.6 0 1 0 1.2 0a0.6 0.6 0 1 0 -1.2 0M168.67 66.36a0.6 0.6 0 1 0 1.2 0a0.6 0.6 0 1 0 -1.2 0M170.89 66.41a0.6 0.6 0 1 0 1.2 0a0.6 0.6 0 1 0 -1.2 0M173.11 66.46a0.6 0.6 0 1 0 1.2 0a0.6 0.6 0 1 0 -1.2 0M175.33 66.50a0.6 0.6 0 1 0 1.2 0a0.6 0.6 0 1 0 -1.2 0M177.55 66.54a0.6 0.6 0 1 0 1.2 0a0.6 0.6 0 1 0 -1.2 0M179.78 66.58a0.6 0.6 0 1 0 1.2 0a0.6 0.6 0 1 0 -1.2 0M182.00 66.61a0.6 0.6 0 1 0 1.2 0a0.6 0.6 0 1 0 -1.2 0M184.22 66.65a0.6 0.6 0 1 0 1.2 0a0.6 0.6 0 1 0 -1.2 0M186.44 66.68a0.6 0.6 0 1 0 1.2 0a0.6 0.6 0 1 0 -1.2 0M188.67 66.70a0.6 0.6 0 1 0 1.2 0a0.6 0.6 0 1 0 -1.2 0M190.89 66.73a0.6 0.6 0 1 0 1.2 0a0.6 0.6 0 1 0 -1.2 0M193.11 66.75a0.6 0.6 0 1 0 1.2 0a0.6 0.6 0 1 0 -1.2 0M195.33 66.77a0.6 0.6 0 1 0 1.2 0a0.6 0.6 0 1 0 -1.2 0M197.55 66.79a0.6 0.6 0 1 0 1.2 0a0.6 0.6 0 1 0 -1.2 0M199.78 66.81a0.6 0.6 0 1 0 1.2 0a0.6 0.6 0 1 0 -1.2 0M202.00 66.83a0.6 0.6 0 1 0 1.2 0a0.6 0.6 0 1 0 -1.2 0M204.22 66.85a0.6 0.6 0 1 0 1.2 0a0.6 0.6 0 1 0 -1.2 0M206.44 66.86a0.6 0.6 0 1 0 1.2 0a0.6 0.6 0 1 0 -1.2 0M208.66 66.88a0.6 0.6 0 1 0 1.2 0a0.6 0.6 0 1 0 -1.2 0M210.89 66.89a0.6 0.6 0 1 0 1.2 0a0.6 0.6 0 1 0 -1.2 0M213.11 66.91a0.6 0.6 0 1 0 1.2 0a0.6 0.6 0 1 0 -1.2 0M215.33 66.92a0.6 0.6 0 1 0 1.2 0a0.6 0.6 0 1 0 -1.2 0M217.55 66.93a0.6 0.6 0 1 0 1.2 0a0.6 0.6 0 1 0 -1.2 0M219.78 66.95a0.6 0.6 0 1 0 1.2 0a0.6 0.6 0 1 0 -1.2 0M222.00 66.96a0.6 0.6 0 1 0 1.2 0a0.6 0.6 0 1 0 -1.2 0M224.22 66.97a0.6 0.6 0 1 0 1.2 0a0.6 0.6 0 1 0 -1.2 0M226.44 66.98a0.6 0.6 0 1 0 1.2 0a0.6 0.6 0 1 0 -1.2 0M228.66 66.99a0.6 0.6 0 1 0 1.2 0a0.6 0.6 0 1 0 -1.2 0M230.89 67.00a0.6 0.6 0 1 0 1.2 0a0.6 0.6 0 1 0 -1.2 0M233.11 67.01a0.6 0.6 0 1 0 1.2 0a0.6 0.6 0 1 0 -1.2 0M235.33 67.02a0.6 0.6 0 1 0 1.2 0a0.6 0.6 0 1 0 -1.2 0M237.55 67.03a0.6 0.6 0 1 0 1.2 0a0.6 0.6 0 1 0 -1.2 0M239.78 67.04a0.6 0.6 0 1 0 1.2 0a0.6 0.6 0 1 0 -1.2 0M242.00 67.05a0.6 0.6 0 1 0 1.2 0a0.6 0.6 0 1 0 -1.2 0M244.22 67.07a0.6 0.6 0 1 0 1.2 0a0.6 0.6 0 1 0 -1.2 0M246.44 67.08a0.6 0.6 0 1 0 1.2 0a0.6 0.6 0 1 0 -1.2 0M248.66 67.09a0.6 0.6 0 1 0 1.2 0a0.6 0.6 0 1 0 -1.2 0M250.89 67.10a0.6 0.6 0 1 0 1.2 0a0.6 0.6 0 1 0 -1.2 0M253.11 67.11a0.6 0.6 0 1 0 1.2 0a0.6 0.6 0 1 0 -1.2 0M255.33 67.12a0.6 0.6 0 1 0 1.2 0a0.6 0.6 0 1 0 -1.2 0M257.55 67.13a0.6 0.6 0 1 0 1.2 0a0.6 0.6 0 1 0 -1.2 0M259.78 67.14a0.6 0.6 0 1 0 1.2 0a0.6 0.6 0 1 0 -1.2 0M262.00 67.16a0.6 0.6 0 1 0 1.2 0a0.6 0.6 0 1 0 -1.2 0" fill="none" stroke="#f2706a" stroke-width="0.45" opacity="0.9"/>
<line x1="145.2" y1="7.3" x2="156.0" y2="7.3" stroke="#f47c74" stroke-width="0.9"/>
<circle cx="150.6" cy="7.3" r="2.4" fill="#fff" stroke="#f47c74" stroke-width="0.9"/>
<text x="157.7" y="9.2" font-family='"Liberation Serif", "Times New Roman", serif' font-size="5.8" fill="#222" stroke="#222" stroke-width="0.12" textLength="17.8" lengthAdjust="spacingAndGlyphs">landfill</text>
<line x1="180.1" y1="7.3" x2="190.9" y2="7.3" stroke="#687d8c" stroke-width="0.9"/>
<circle cx="185.5" cy="7.3" r="2.4" fill="#fff" stroke="#687d8c" stroke-width="0.9"/>
<text x="193.2" y="9.2" font-family='"Liberation Serif", "Times New Roman", serif' font-size="5.8" fill="#222" stroke="#222" stroke-width="0.12" textLength="22" lengthAdjust="spacingAndGlyphs">container</text>
<line x1="221.5" y1="7.3" x2="232.3" y2="7.3" stroke="#86d0d0" stroke-width="0.9"/>
<circle cx="226.9" cy="7.3" r="2.4" fill="#fff" stroke="#86d0d0" stroke-width="0.9"/>
<text x="234.0" y="9.2" font-family='"Liberation Serif", "Times New Roman", serif' font-size="5.8" fill="#222" stroke="#222" stroke-width="0.12" textLength="21.4" lengthAdjust="spacingAndGlyphs">collector</text>
<text x="22.8" y="113.6" font-family='"Liberation Serif", "Times New Roman", serif' font-size="7.25" font-weight="bold" fill="#111" textLength="166" lengthAdjust="spacingAndGlyphs">Garbage Disposal Choice Composition in Three Regions</text>
<text x="21" y="120.5" font-family='"Liberation Sans", Arial, sans-serif' font-size="4.1" fill="#888" textLength="21.8" lengthAdjust="spacingAndGlyphs">Households</text>
<text x="38.9" y="188.30" font-family='"Liberation Sans", Arial, sans-serif' font-size="3.3" fill="#666" text-anchor="end">0</text>
<line x1="40" y1="187.10" x2="41.5" y2="187.10" stroke="#999" stroke-width="0.4"/>
<line x1="41.5" y1="174.50" x2="263" y2="174.50" stroke="#e4e4e4" stroke-width="0.5"/>
<text x="38.9" y="175.70" font-family='"Liberation Sans", Arial, sans-serif' font-size="3.3" fill="#666" text-anchor="end">500</text>
<line x1="40" y1="174.50" x2="41.5" y2="174.50" stroke="#999" stroke-width="0.4"/>
<line x1="41.5" y1="161.90" x2="263" y2="161.90" stroke="#e4e4e4" stroke-width="0.5"/>
<text x="38.9" y="163.10" font-family='"Liberation Sans", Arial, sans-serif' font-size="3.3" fill="#666" text-anchor="end">1000</text>
<line x1="40" y1="161.90" x2="41.5" y2="161.90" stroke="#999" stroke-width="0.4"/>
<line x1="41.5" y1="149.30" x2="263" y2="149.30" stroke="#e4e4e4" stroke-width="0.5"/>
<text x="38.9" y="150.50" font-family='"Liberation Sans", Arial, sans-serif' font-size="3.3" fill="#666" text-anchor="end">1500</text>
<line x1="40" y1="149.30" x2="41.5" y2="149.30" stroke="#999" stroke-width="0.4"/>
<line x1="41.5" y1="136.70" x2="263" y2="136.70" stroke="#e4e4e4" stroke-width="0.5"/>
<text x="38.9" y="137.90" font-family='"Liberation Sans", Arial, sans-serif' font-size="3.3" fill="#666" text-anchor="end">2000</text>
<line x1="40" y1="136.70" x2="41.5" y2="136.70" stroke="#999" stroke-width="0.4"/>
<line x1="41.5" y1="124.10" x2="263" y2="124.10" stroke="#e4e4e4" stroke-width="0.5"/>
<text x="38.9" y="125.30" font-family='"Liberation Sans", Arial, sans-serif' font-size="3.3" fill="#666" text-anchor="end">2500</text>
<line x1="40" y1="124.10" x2="41.5" y2="124.10" stroke="#999" stroke-width="0.4"/>
<line x1="41.5" y1="123.5" x2="41.5" y2="187.3" stroke="#aaa" stroke-width="0.5"/>
<line x1="41.5" y1="187.1" x2="263" y2="187.1" stroke="#999" stroke-width="0.5"/>
<line x1="41.5" y1="187.1" x2="41.5" y2="188.6" stroke="#999" stroke-width="0.4"/>
<line x1="115.5" y1="187.1" x2="115.5" y2="188.6" stroke="#999" stroke-width="0.4"/>
<line x1="189.5" y1="187.1" x2="189.5" y2="188.6" stroke="#999" stroke-width="0.4"/>
<line x1="263" y1="187.1" x2="263" y2="188.6" stroke="#999" stroke-width="0.4"/>
<rect x="49.0" y="184.58" width="16.70" height="2.52" fill="#e03232"/>
<rect x="70.5" y="134.31" width="16.10" height="52.79" fill="#1e4257"/>
<rect x="91.7" y="160.64" width="16.30" height="26.46" fill="#2aa3ad"/>
<rect x="123.2" y="163.79" width="16.20" height="23.31" fill="#e03232"/>
<rect x="144.7" y="155.22" width="16.10" height="31.88" fill="#1e4257"/>
<rect x="166.2" y="161.14" width="16.10" height="25.96" fill="#2aa3ad"/>
<rect x="197.0" y="149.93" width="16.40" height="37.17" fill="#e03232"/>
<rect x="218.5" y="158.25" width="16.30" height="28.85" fill="#1e4257"/>
<rect x="240.0" y="164.67" width="16.00" height="22.43" fill="#2aa3ad"/>
<text x="65.9" y="194.0" font-family='"Liberation Sans", Arial, sans-serif' font-size="4.0" fill="#555" textLength="24" lengthAdjust="spacingAndGlyphs">West Region</text>
<text x="140.85" y="194.0" font-family='"Liberation Sans", Arial, sans-serif' font-size="4.0" fill="#555" textLength="23.5" lengthAdjust="spacingAndGlyphs">East Region</text>
<text x="213.8" y="194.0" font-family='"Liberation Sans", Arial, sans-serif' font-size="4.0" fill="#555" textLength="26" lengthAdjust="spacingAndGlyphs">South Region</text>
<rect x="228.9" y="113.80" width="9.4" height="4.2" fill="#e03232"/>
<text x="242.1" y="117.80" font-family='"Liberation Serif", "Times New Roman", serif' font-size="5.4" fill="#222" stroke="#222" stroke-width="0.12" textLength="15.9" lengthAdjust="spacingAndGlyphs">landfill</text>
<rect x="228.9" y="122.15" width="9.4" height="4.2" fill="#1e4257"/>
<text x="242.1" y="126.15" font-family='"Liberation Serif", "Times New Roman", serif' font-size="5.4" fill="#222" stroke="#222" stroke-width="0.12" textLength="19.9" lengthAdjust="spacingAndGlyphs">container</text>
<rect x="228.9" y="130.50" width="9.4" height="4.2" fill="#2aa3ad"/>
<text x="242.1" y="134.50" font-family='"Liberation Serif", "Times New Roman", serif' font-size="5.4" fill="#222" stroke="#222" stroke-width="0.12" textLength="18.2" lengthAdjust="spacingAndGlyphs">collector</text>
<text x="284.8" y="12.1" font-family='"Liberation Sans", Arial, sans-serif' font-size="9.2" fill="#333" textLength="12.6" lengthAdjust="spacingAndGlyphs">(b)</text>
<filter id="gb" x="-2%" y="-2%" width="104%" height="104%"><feGaussianBlur stdDeviation="0.5"/></filter>
<rect x="315.5" y="4.0" width="200.4" height="187.0" fill="#689847"/>
<g shape-rendering="crispEdges" filter="url(#gb)">
<path fill="#91afbf" d="M315.5 4.00h16.0v1.87h-16.0zM333.5 4.00h2.0v1.87h-2.0zM337.5 4.00h16.0v1.87h-16.0zM357.6 4.00h4.0v1.87h-4.0zM365.6 4.00h16.0v1.87h-16.0zM383.6 4.00h8.0v1.87h-8.0zM395.7 4.00h2.0v1.87h-2.0zM401.7 4.00h2.0v1.87h-2.0zM405.7 4.00h8.0v1.87h-8.0zM419.7 4.00h4.0v1.87h-4.0zM433.7 4.00h6.0v1.87h-6.0zM441.8 4.00h2.0v1.87h-2.0zM445.8 4.00h4.0v1.87h-4.0zM451.8 4.00h6.0v1.87h-6.0zM459.8 4.00h16.0v1.87h-16.0zM487.8 4.00h10.0v1.87h-10.0zM499.9 4.00h6.0v1.87h-6.0zM507.9 4.00h4.0v1.87h-4.0zM513.9 4.00h2.0v1.87h-2.0zM315.5 5.87h22.0v1.87h-22.0zM339.5 5.87h20.0v1.87h-20.0zM363.6 5.87h8.0v1.87h-8.0zM381.6 5.87h8.0v1.87h-8.0zM391.7 5.87h2.0v1.87h-2.0zM397.7 5.87h2.0v1.87h-2.0zM401.7 5.87h4.0v1.87h-4.0zM409.7 5.87h4.0v1.87h-4.0zM415.7 5.87h8.0v1.87h-8.0zM425.7 5.87h2.0v1.87h-2.0zM429.7 5.87h4.0v1.87h-4.0zM435.7 5.87h12.0v1.87h-12.0zM449.8 5.87h4.0v1.87h-4.0zM457.8 5.87h4.0v1.87h-4.0zM467.8 5.87h4.0v1.87h-4.0zM479.8 5.87h4.0v1.87h-4.0zM491.9 5.87h8.0v1.87h-8.0zM505.9 5.87h4.0v1.87h-4.0zM511.9 5.87h2.0v1.87h-2.0zM317.5 7.74h12.0v1.87h-12.0zM331.5 7.74h18.0v1.87h-18.0zM351.6 7.74h8.0v1.87h-8.0zM361.6 7.74h2.0v1.87h-2.0zM365.6 7.74h2.0v1.87h-2.0zM369.6 7.74h2.0v1.87h-2.0zM375.6 7.74h2.0v1.87h-2.0zM381.6 7.74h12.0v1.87h-12.0zM395.7 7.74h2.0v1.87h-2.0zM405.7 7.74h14.0v1.87h-14.0zM421.7 7.74h2.0v1.87h-2.0zM431.7 7.74h2.0v1.87h-2.0zM435.7 7.74h10.0v1.87h-10.0zM447.8 7.74h4.0v1.87h-4.0zM453.8 7.74h6.0v1.87h-6.0zM467.8 7.74h2.0v1.87h-2.0zM471.8 7.74h4.0v1.87h-4.0zM479.8 7.74h8.0v1.87h-8.0zM497.9 7.74h2.0v1.87h-2.0zM501.9 7.74h6.0v1.87h-6.0zM513.9 7.74h2.0v1.87h-2.0zM315.5 9.61h6.0v1.87h-6.0zM323.5 9.61h2.0v1.87h-2.0zM327.5 9.61h4.0v1.87h-4.0zM335.5 9.61h2.0v1.87h-2.0zM339.5 9.61h6.0v1.87h-6.0zM347.6 9.61h16.0v1.87h-16.0zM365.6 9.61h6.0v1.87h-6.0zM373.6 9.61h4.0v1.87h-4.0zM379.6 9.61h2.0v1.87h-2.0zM383.6 9.61h2.0v1.87h-2.0zM387.6 9.61h4.0v1.87h-4.0zM405.7 9.61h2.0v1.87h-2.0zM409.7 9.61h12.0v1.87h-12.0zM435.7 9.61h6.0v1.87h-6.0zM443.8 9.61h2.0v1.87h-2.0zM447.8 9.61h16.0v1.87h-16.0zM465.8 9.61h4.0v1.87h-4.0zM473.8 9.61h18.0v1.87h-18.0zM493.9 9.61h12.0v1.87h-12.0zM509.9 9.61h6.0v1.87h-6.0zM315.5 11.48h8.0v1.87h-8.0zM325.5 11.48h8.0v1.87h-8.0zM337.5 11.48h18.0v1.87h-18.0zM357.6 11.48h12.0v1.87h-12.0zM375.6 11.48h18.0v1.87h-18.0zM395.7 11.48h8.0v1.87h-8.0zM407.7 11.48h2.0v1.87h-2.0zM413.7 11.48h4.0v1.87h-4.0zM419.7 11.48h2.0v1.87h-2.0zM429.7 11.48h2.0v1.87h-2.0zM433.7 11.48h8.0v1.87h-8.0zM443.8 11.48h2.0v1.87h-2.0zM447.8 11.48h2.0v1.87h-2.0zM451.8 11.48h12.0v1.87h-12.0zM465.8 11.48h6.0v1.87h-6.0zM473.8 11.48h2.0v1.87h-2.0zM479.8 11.48h6.0v1.87h-6.0zM491.9 11.48h4.0v1.87h-4.0zM497.9 11.48h2.0v1.87h-2.0zM501.9 11.48h8.0v1.87h-8.0zM513.9 11.48h2.0v1.87h-2.0zM315.5 13.35h6.0v1.87h-6.0zM325.5 13.35h42.1v1.87h-42.1zM369.6 13.35h2.0v1.87h-2.0zM373.6 13.35h12.0v1.87h-12.0zM387.6 13.35h2.0v1.87h-2.0zM395.7 13.35h2.0v1.87h-2.0zM399.7 13.35h4.0v1.87h-4.0zM411.7 13.35h2.0v1.87h-2.0zM423.7 13.35h2.0v1.87h-2.0zM427.7 13.35h2.0v1.87h-2.0zM433.7 13.35h2.0v1.87h-2.0zM439.7 13.35h18.0v1.87h-18.0zM459.8 13.35h2.0v1.87h-2.0zM463.8 13.35h2.0v1.87h-2.0zM467.8 13.35h8.0v1.87h-8.0zM479.8 13.35h22.0v1.87h-22.0zM503.9 13.35h6.0v1.87h-6.0zM511.9 13.35h2.0v1.87h-2.0zM315.5 15.22h6.0v1.87h-6.0zM323.5 15.22h6.0v1.87h-6.0zM331.5 15.22h34.1v1.87h-34.1zM367.6 15.22h6.0v1.87h-6.0zM385.6 15.22h4.0v1.87h-4.0zM395.7 15.22h2.0v1.87h-2.0zM399.7 15.22h2.0v1.87h-2.0zM405.7 15.22h4.0v1.87h-4.0zM415.7 15.22h6.0v1.87h-6.0zM431.7 15.22h2.0v1.87h-2.0zM435.7 15.22h16.0v1.87h-16.0zM453.8 15.22h6.0v1.87h-6.0zM469.8 15.22h6.0v1.87h-6.0zM477.8 15.22h12.0v1.87h-12.0zM491.9 15.22h14.0v1.87h-14.0zM511.9 15.22h4.0v1.87h-4.0zM315.5 17.09h2.0v1.87h-2.0zM319.5 17.09h6.0v1.87h-6.0zM327.5 17.09h12.0v1.87h-12.0zM341.6 17.09h6.0v1.87h-6.0zM349.6 17.09h2.0v1.87h-2.0zM355.6 17.09h18.0v1.87h-18.0zM375.6 17.09h2.0v1.87h-2.0zM381.6 17.09h2.0v1.87h-2.0zM385.6 17.09h14.0v1.87h-14.0zM401.7 17.09h2.0v1.87h-2.0zM405.7 17.09h2.0v1.87h-2.0zM409.7 17.09h2.0v1.87h-2.0zM417.7 17.09h2.0v1.87h-2.0zM421.7 17.09h2.0v1.87h-2.0zM427.7 17.09h4.0v1.87h-4.0zM441.8 17.09h4.0v1.87h-4.0zM451.8 17.09h4.0v1.87h-4.0zM457.8 17.09h4.0v1.87h-4.0zM465.8 17.09h2.0v1.87h-2.0zM469.8 17.09h16.0v1.87h-16.0zM487.8 17.09h4.0v1.87h-4.0zM493.9 17.09h4.0v1.87h-4.0zM499.9 17.09h10.0v1.87h-10.0zM511.9 17.09h4.0v1.87h-4.0zM319.5 18.96h18.0v1.87h-18.0zM341.6 18.96h4.0v1.87h-4.0zM349.6 18.96h6.0v1.87h-6.0zM359.6 18.96h14.0v1.87h-14.0zM375.6 18.96h10.0v1.87h-10.0zM387.6 18.96h4.0v1.87h-4.0zM393.7 18.96h10.0v1.87h-10.0zM413.7 18.96h2.0v1.87h-2.0zM419.7 18.96h6.0v1.87h-6.0zM427.7 18.96h4.0v1.87h-4.0zM439.7 18.96h6.0v1.87h-6.0zM449.8 18.96h2.0v1.87h-2.0zM453.8 18.96h4.0v1.87h-4.0zM459.8 18.96h4.0v1.87h-4.0zM467.8 18.96h2.0v1.87h-2.0zM475.8 18.96h8.0v1.87h-8.0zM487.8 18.96h6.0v1.87h-6.0zM497.9 18.96h2.0v1.87h-2.0zM505.9 18.96h2.0v1.87h-2.0zM513.9 18.96h2.0v1.87h-2.0zM317.5 20.83h20.0v1.87h-20.0zM341.6 20.83h2.0v1.87h-2.0zM347.6 20.83h8.0v1.87h-8.0zM357.6 20.83h10.0v1.87h-10.0zM369.6 20.83h2.0v1.87h-2.0zM375.6 20.83h6.0v1.87h-6.0zM385.6 20.83h4.0v1.87h-4.0zM391.7 20.83h10.0v1.87h-10.0zM403.7 20.83h8.0v1.87h-8.0zM415.7 20.83h6.0v1.87h-6.0zM425.7 20.83h8.0v1.87h-8.0zM437.7 20.83h2.0v1.87h-2.0zM441.8 20.83h4.0v1.87h-4.0zM447.8 20.83h2.0v1.87h-2.0zM453.8 20.83h6.0v1.87h-6.0zM461.8 20.83h2.0v1.87h-2.0zM467.8 20.83h4.0v1.87h-4.0zM473.8 20.83h12.0v1.87h-12.0zM487.8 20.83h4.0v1.87h-4.0zM495.9 20.83h4.0v1.87h-4.0zM503.9 20.83h2.0v1.87h-2.0zM507.9 20.83h2.0v1.87h-2.0zM317.5 22.70h4.0v1.87h-4.0zM323.5 22.70h10.0v1.87h-10.0zM337.5 22.70h2.0v1.87h-2.0zM341.6 22.70h20.0v1.87h-20.0zM363.6 22.70h14.0v1.87h-14.0zM379.6 22.70h4.0v1.87h-4.0zM385.6 22.70h2.0v1.87h-2.0zM389.6 22.70h16.0v1.87h-16.0zM407.7 22.70h4.0v1.87h-4.0zM413.7 22.70h2.0v1.87h-2.0zM421.7 22.70h2.0v1.87h-2.0zM425.7 22.70h4.0v1.87h-4.0zM431.7 22.70h2.0v1.87h-2.0zM437.7 22.70h2.0v1.87h-2.0zM445.8 22.70h4.0v1.87h-4.0zM451.8 22.70h4.0v1.87h-4.0zM457.8 22.70h8.0v1.87h-8.0zM469.8 22.70h10.0v1.87h-10.0zM481.8 22.70h10.0v1.87h-10.0zM495.9 22.70h2.0v1.87h-2.0zM499.9 22.70h2.0v1.87h-2.0zM507.9 22.70h4.0v1.87h-4.0zM513.9 22.70h2.0v1.87h-2.0zM315.5 24.57h16.0v1.87h-16.0zM333.5 24.57h4.0v1.87h-4.0zM345.6 24.57h4.0v1.87h-4.0zM351.6 24.57h2.0v1.87h-2.0zM355.6 24.57h8.0v1.87h-8.0zM367.6 24.57h16.0v1.87h-16.0zM387.6 24.57h2.0v1.87h-2.0zM391.7 24.57h2.0v1.87h-2.0zM395.7 24.57h10.0v1.87h-10.0zM411.7 24.57h12.0v1.87h-12.0zM425.7 24.57h2.0v1.87h-2.0zM429.7 24.57h4.0v1.87h-4.0zM437.7 24.57h4.0v1.87h-4.0zM445.8 24.57h4.0v1.87h-4.0zM451.8 24.57h4.0v1.87h-4.0zM457.8 24.57h2.0v1.87h-2.0zM461.8 24.57h10.0v1.87h-10.0zM473.8 24.57h10.0v1.87h-10.0zM489.8 24.57h2.0v1.87h-2.0zM495.9 24.57h8.0v1.87h-8.0zM505.9 24.57h4.0v1.87h-4.0zM511.9 24.57h4.0v1.87h-4.0zM317.5 26.44h2.0v1.87h-2.0zM323.5 26.44h18.0v1.87h-18.0zM343.6 26.44h2.0v1.87h-2.0zM347.6 26.44h16.0v1.87h-16.0zM365.6 26.44h6.0v1.87h-6.0zM373.6 26.44h12.0v1.87h-12.0zM397.7 26.44h2.0v1.87h-2.0zM401.7 26.44h6.0v1.87h-6.0zM411.7 26.44h4.0v1.87h-4.0zM419.7 26.44h4.0v1.87h-4.0zM429.7 26.44h2.0v1.87h-2.0zM437.7 26.44h4.0v1.87h-4.0zM443.8 26.44h4.0v1.87h-4.0zM453.8 26.44h6.0v1.87h-6.0zM463.8 26.44h2.0v1.87h-2.0zM467.8 26.44h38.1v1.87h-38.1zM507.9 26.44h8.0v1.87h-8.0zM317.5 28.31h8.0v1.87h-8.0zM327.5 28.31h36.1v1.87h-36.1zM365.6 28.31h2.0v1.87h-2.0zM371.6 28.31h4.0v1.87h-4.0zM377.6 28.31h4.0v1.87h-4.0zM383.6 28.31h2.0v1.87h-2.0zM391.7 28.31h2.0v1.87h-2.0zM397.7 28.31h10.0v1.87h-10.0zM409.7 28.31h4.0v1.87h-4.0zM421.7 28.31h2.0v1.87h-2.0zM433.7 28.31h2.0v1.87h-2.0zM439.7 28.31h12.0v1.87h-12.0zM455.8 28.31h12.0v1.87h-12.0zM469.8 28.31h16.0v1.87h-16.0zM487.8 28.31h2.0v1.87h-2.0zM491.9 28.31h4.0v1.87h-4.0zM497.9 28.31h4.0v1.87h-4.0zM505.9 28.31h2.0v1.87h-2.0zM511.9 28.31h2.0v1.87h-2.0zM317.5 30.18h66.1v1.87h-66.1zM389.6 30.18h4.0v1.87h-4.0zM399.7 30.18h4.0v1.87h-4.0zM405.7 30.18h4.0v1.87h-4.0zM411.7 30.18h2.0v1.87h-2.0zM417.7 30.18h2.0v1.87h-2.0zM421.7 30.18h4.0v1.87h-4.0zM441.8 30.18h2.0v1.87h-2.0zM451.8 30.18h2.0v1.87h-2.0zM455.8 30.18h8.0v1.87h-8.0zM465.8 30.18h2.0v1.87h-2.0zM469.8 30.18h10.0v1.87h-10.0zM481.8 30.18h12.0v1.87h-12.0zM495.9 30.18h4.0v1.87h-4.0zM505.9 30.18h2.0v1.87h-2.0zM509.9 30.18h6.0v1.87h-6.0zM317.5 32.05h50.1v1.87h-50.1zM369.6 32.05h12.0v1.87h-12.0zM389.6 32.05h8.0v1.87h-8.0zM399.7 32.05h2.0v1.87h-2.0zM403.7 32.05h4.0v1.87h-4.0zM409.7 32.05h6.0v1.87h-6.0zM419.7 32.05h6.0v1.87h-6.0zM441.8 32.05h2.0v1.87h-2.0zM449.8 32.05h2.0v1.87h-2.0zM455.8 32.05h2.0v1.87h-2.0zM459.8 32.05h6.0v1.87h-6.0zM467.8 32.05h22.0v1.87h-22.0zM491.9 32.05h16.0v1.87h-16.0zM511.9 32.05h4.0v1.87h-4.0zM315.5 33.92h2.0v1.87h-2.0zM319.5 33.92h12.0v1.87h-12.0zM333.5 33.92h32.1v1.87h-32.1zM367.6 33.92h12.0v1.87h-12.0zM383.6 33.92h2.0v1.87h-2.0zM387.6 33.92h8.0v1.87h-8.0zM397.7 33.92h8.0v1.87h-8.0zM413.7 33.92h2.0v1.87h-2.0zM423.7 33.92h2.0v1.87h-2.0zM427.7 33.92h2.0v1.87h-2.0zM431.7 33.92h4.0v1.87h-4.0zM437.7 33.92h2.0v1.87h-2.0zM443.8 33.92h4.0v1.87h-4.0zM453.8 33.92h2.0v1.87h-2.0zM457.8 33.92h2.0v1.87h-2.0zM463.8 33.92h2.0v1.87h-2.0zM467.8 33.92h8.0v1.87h-8.0zM477.8 33.92h4.0v1.87h-4.0zM483.8 33.92h24.0v1.87h-24.0zM513.9 33.92h2.0v1.87h-2.0zM315.5 35.79h2.0v1.87h-2.0zM319.5 35.79h10.0v1.87h-10.0zM331.5 35.79h32.1v1.87h-32.1zM367.6 35.79h10.0v1.87h-10.0zM379.6 35.79h6.0v1.87h-6.0zM387.6 35.79h14.0v1.87h-14.0zM403.7 35.79h6.0v1.87h-6.0zM413.7 35.79h4.0v1.87h-4.0zM423.7 35.79h4.0v1.87h-4.0zM429.7 35.79h2.0v1.87h-2.0zM437.7 35.79h2.0v1.87h-2.0zM441.8 35.79h2.0v1.87h-2.0zM445.8 35.79h8.0v1.87h-8.0zM455.8 35.79h2.0v1.87h-2.0zM461.8 35.79h2.0v1.87h-2.0zM467.8 35.79h24.0v1.87h-24.0zM493.9 35.79h14.0v1.87h-14.0zM513.9 35.79h2.0v1.87h-2.0zM315.5 37.66h38.1v1.87h-38.1zM355.6 37.66h6.0v1.87h-6.0zM363.6 37.66h6.0v1.87h-6.0zM371.6 37.66h6.0v1.87h-6.0zM379.6 37.66h6.0v1.87h-6.0zM387.6 37.66h2.0v1.87h-2.0zM393.7 37.66h8.0v1.87h-8.0zM403.7 37.66h2.0v1.87h-2.0zM407.7 37.66h4.0v1.87h-4.0zM417.7 37.66h4.0v1.87h-4.0zM437.7 37.66h8.0v1.87h-8.0zM453.8 37.66h2.0v1.87h-2.0zM459.8 37.66h8.0v1.87h-8.0zM469.8 37.66h2.0v1.87h-2.0zM473.8 37.66h16.0v1.87h-16.0zM491.9 37.66h2.0v1.87h-2.0zM495.9 37.66h4.0v1.87h-4.0zM505.9 37.66h4.0v1.87h-4.0zM513.9 37.66h2.0v1.87h-2.0zM315.5 39.53h6.0v1.87h-6.0zM323.5 39.53h16.0v1.87h-16.0zM341.6 39.53h18.0v1.87h-18.0zM361.6 39.53h2.0v1.87h-2.0zM365.6 39.53h12.0v1.87h-12.0zM379.6 39.53h12.0v1.87h-12.0zM393.7 39.53h2.0v1.87h-2.0zM409.7 39.53h2.0v1.87h-2.0zM417.7 39.53h2.0v1.87h-2.0zM431.7 39.53h2.0v1.87h-2.0zM445.8 39.53h2.0v1.87h-2.0zM451.8 39.53h2.0v1.87h-2.0zM463.8 39.53h2.0v1.87h-2.0zM467.8 39.53h4.0v1.87h-4.0zM473.8 39.53h4.0v1.87h-4.0zM479.8 39.53h8.0v1.87h-8.0zM489.8 39.53h2.0v1.87h-2.0zM493.9 39.53h6.0v1.87h-6.0zM503.9 39.53h4.0v1.87h-4.0zM509.9 39.53h4.0v1.87h-4.0zM315.5 41.40h8.0v1.87h-8.0zM325.5 41.40h8.0v1.87h-8.0zM335.5 41.40h2.0v1.87h-2.0zM339.5 41.40h8.0v1.87h-8.0zM351.6 41.40h10.0v1.87h-10.0zM363.6 41.40h8.0v1.87h-8.0zM377.6 41.40h2.0v1.87h-2.0zM381.6 41.40h2.0v1.87h-2.0zM385.6 41.40h10.0v1.87h-10.0zM397.7 41.40h2.0v1.87h-2.0zM401.7 41.40h4.0v1.87h-4.0zM409.7 41.40h4.0v1.87h-4.0zM419.7 41.40h6.0v1.87h-6.0zM427.7 41.40h2.0v1.87h-2.0zM435.7 41.40h2.0v1.87h-2.0zM441.8 41.40h6.0v1.87h-6.0zM453.8 41.40h2.0v1.87h-2.0zM461.8 41.40h10.0v1.87h-10.0zM473.8 41.40h4.0v1.87h-4.0zM479.8 41.40h10.0v1.87h-10.0zM491.9 41.40h10.0v1.87h-10.0zM503.9 41.40h4.0v1.87h-4.0zM315.5 43.27h2.0v1.87h-2.0zM319.5 43.27h8.0v1.87h-8.0zM331.5 43.27h16.0v1.87h-16.0zM353.6 43.27h8.0v1.87h-8.0zM363.6 43.27h14.0v1.87h-14.0zM379.6 43.27h4.0v1.87h-4.0zM385.6 43.27h4.0v1.87h-4.0zM391.7 43.27h4.0v1.87h-4.0zM401.7 43.27h4.0v1.87h-4.0zM409.7 43.27h2.0v1.87h-2.0zM417.7 43.27h4.0v1.87h-4.0zM427.7 43.27h2.0v1.87h-2.0zM435.7 43.27h2.0v1.87h-2.0zM443.8 43.27h6.0v1.87h-6.0zM455.8 43.27h2.0v1.87h-2.0zM459.8 43.27h8.0v1.87h-8.0zM469.8 43.27h4.0v1.87h-4.0zM475.8 43.27h4.0v1.87h-4.0zM481.8 43.27h32.1v1.87h-32.1zM315.5 45.14h6.0v1.87h-6.0zM323.5 45.14h4.0v1.87h-4.0zM329.5 45.14h28.1v1.87h-28.1zM359.6 45.14h4.0v1.87h-4.0zM365.6 45.14h14.0v1.87h-14.0zM383.6 45.14h6.0v1.87h-6.0zM391.7 45.14h6.0v1.87h-6.0zM401.7 45.14h8.0v1.87h-8.0zM411.7 45.14h2.0v1.87h-2.0zM417.7 45.14h4.0v1.87h-4.0zM427.7 45.14h2.0v1.87h-2.0zM433.7 45.14h2.0v1.87h-2.0zM439.7 45.14h2.0v1.87h-2.0zM449.8 45.14h2.0v1.87h-2.0zM453.8 45.14h2.0v1.87h-2.0zM459.8 45.14h14.0v1.87h-14.0zM475.8 45.14h30.1v1.87h-30.1zM513.9 45.14h2.0v1.87h-2.0zM315.5 47.01h6.0v1.87h-6.0zM323.5 47.01h28.1v1.87h-28.1zM353.6 47.01h2.0v1.87h-2.0zM367.6 47.01h8.0v1.87h-8.0zM377.6 47.01h8.0v1.87h-8.0zM387.6 47.01h2.0v1.87h-2.0zM393.7 47.01h2.0v1.87h-2.0zM399.7 47.01h2.0v1.87h-2.0zM403.7 47.01h12.0v1.87h-12.0zM425.7 47.01h2.0v1.87h-2.0zM451.8 47.01h10.0v1.87h-10.0zM463.8 47.01h8.0v1.87h-8.0zM475.8 47.01h14.0v1.87h-14.0zM491.9 47.01h20.0v1.87h-20.0zM513.9 47.01h2.0v1.87h-2.0zM315.5 48.88h4.0v1.87h-4.0zM323.5 48.88h14.0v1.87h-14.0zM339.5 48.88h6.0v1.87h-6.0zM347.6 48.88h12.0v1.87h-12.0zM369.6 48.88h8.0v1.87h-8.0zM389.6 48.88h2.0v1.87h-2.0zM393.7 48.88h2.0v1.87h-2.0zM397.7 48.88h6.0v1.87h-6.0zM411.7 48.88h8.0v1.87h-8.0zM421.7 48.88h2.0v1.87h-2.0zM429.7 48.88h4.0v1.87h-4.0zM435.7 48.88h2.0v1.87h-2.0zM443.8 48.88h4.0v1.87h-4.0zM451.8 48.88h2.0v1.87h-2.0zM455.8 48.88h6.0v1.87h-6.0zM465.8 48.88h2.0v1.87h-2.0zM471.8 48.88h2.0v1.87h-2.0zM475.8 48.88h18.0v1.87h-18.0zM501.9 48.88h8.0v1.87h-8.0zM511.9 48.88h4.0v1.87h-4.0zM315.5 50.75h12.0v1.87h-12.0zM333.5 50.75h26.1v1.87h-26.1zM363.6 50.75h2.0v1.87h-2.0zM367.6 50.75h2.0v1.87h-2.0zM371.6 50.75h2.0v1.87h-2.0zM379.6 50.75h4.0v1.87h-4.0zM387.6 50.75h2.0v1.87h-2.0zM391.7 50.75h14.0v1.87h-14.0zM409.7 50.75h4.0v1.87h-4.0zM427.7 50.75h6.0v1.87h-6.0zM443.8 50.75h4.0v1.87h-4.0zM451.8 50.75h8.0v1.87h-8.0zM461.8 50.75h2.0v1.87h-2.0zM467.8 50.75h4.0v1.87h-4.0zM473.8 50.75h10.0v1.87h-10.0zM485.8 50.75h8.0v1.87h-8.0zM495.9 50.75h8.0v1.87h-8.0zM505.9 50.75h2.0v1.87h-2.0zM509.9 50.75h2.0v1.87h-2.0zM317.5 52.62h2.0v1.87h-2.0zM323.5 52.62h4.0v1.87h-4.0zM331.5 52.62h14.0v1.87h-14.0zM349.6 52.62h14.0v1.87h-14.0zM367.6 52.62h4.0v1.87h-4.0zM375.6 52.62h4.0v1.87h-4.0zM383.6 52.62h2.0v1.87h-2.0zM391.7 52.62h4.0v1.87h-4.0zM399.7 52.62h2.0v1.87h-2.0zM405.7 52.62h2.0v1.87h-2.0zM409.7 52.62h4.0v1.87h-4.0zM419.7 52.62h2.0v1.87h-2.0zM443.8 52.62h4.0v1.87h-4.0zM451.8 52.62h6.0v1.87h-6.0zM459.8 52.62h2.0v1.87h-2.0zM463.8 52.62h8.0v1.87h-8.0zM473.8 52.62h4.0v1.87h-4.0zM481.8 52.62h4.0v1.87h-4.0zM489.8 52.62h2.0v1.87h-2.0zM493.9 52.62h10.0v1.87h-10.0zM505.9 52.62h4.0v1.87h-4.0zM513.9 52.62h2.0v1.87h-2.0zM315.5 54.49h4.0v1.87h-4.0zM325.5 54.49h16.0v1.87h-16.0zM343.6 54.49h4.0v1.87h-4.0zM349.6 54.49h6.0v1.87h-6.0zM357.6 54.49h2.0v1.87h-2.0zM361.6 54.49h6.0v1.87h-6.0zM369.6 54.49h8.0v1.87h-8.0zM381.6 54.49h10.0v1.87h-10.0zM395.7 54.49h2.0v1.87h-2.0zM401.7 54.49h6.0v1.87h-6.0zM409.7 54.49h4.0v1.87h-4.0zM433.7 54.49h4.0v1.87h-4.0zM443.8 54.49h2.0v1.87h-2.0zM449.8 54.49h2.0v1.87h-2.0zM453.8 54.49h2.0v1.87h-2.0zM461.8 54.49h2.0v1.87h-2.0zM467.8 54.49h2.0v1.87h-2.0zM473.8 54.49h4.0v1.87h-4.0zM483.8 54.49h4.0v1.87h-4.0zM489.8 54.49h14.0v1.87h-14.0zM507.9 54.49h4.0v1.87h-4.0zM513.9 54.49h2.0v1.87h-2.0zM315.5 56.36h14.0v1.87h-14.0zM331.5 56.36h4.0v1.87h-4.0zM337.5 56.36h20.0v1.87h-20.0zM359.6 56.36h4.0v1.87h-4.0zM367.6 56.36h6.0v1.87h-6.0zM375.6 56.36h2.0v1.87h-2.0zM381.6 56.36h2.0v1.87h-2.0zM385.6 56.36h2.0v1.87h-2.0zM389.6 56.36h8.0v1.87h-8.0zM399.7 56.36h2.0v1.87h-2.0zM403.7 56.36h4.0v1.87h-4.0zM409.7 56.36h6.0v1.87h-6.0zM421.7 56.36h2.0v1.87h-2.0zM431.7 56.36h8.0v1.87h-8.0zM445.8 56.36h4.0v1.87h-4.0zM451.8 56.36h4.0v1.87h-4.0zM457.8 56.36h2.0v1.87h-2.0zM461.8 56.36h12.0v1.87h-12.0zM477.8 56.36h2.0v1.87h-2.0zM483.8 56.36h8.0v1.87h-8.0zM493.9 56.36h12.0v1.87h-12.0zM315.5 58.23h4.0v1.87h-4.0zM321.5 58.23h16.0v1.87h-16.0zM341.6 58.23h18.0v1.87h-18.0zM361.6 58.23h4.0v1.87h-4.0zM367.6 58.23h14.0v1.87h-14.0zM387.6 58.23h2.0v1.87h-2.0zM391.7 58.23h2.0v1.87h-2.0zM395.7 58.23h6.0v1.87h-6.0zM407.7 58.23h4.0v1.87h-4.0zM413.7 58.23h2.0v1.87h-2.0zM419.7 58.23h2.0v1.87h-2.0zM423.7 58.23h4.0v1.87h-4.0zM447.8 58.23h10.0v1.87h-10.0zM459.8 58.23h2.0v1.87h-2.0zM463.8 58.23h6.0v1.87h-6.0zM471.8 58.23h10.0v1.87h-10.0zM487.8 58.23h6.0v1.87h-6.0zM495.9 58.23h16.0v1.87h-16.0zM315.5 60.10h14.0v1.87h-14.0zM331.5 60.10h10.0v1.87h-10.0zM353.6 60.10h2.0v1.87h-2.0zM363.6 60.10h2.0v1.87h-2.0zM367.6 60.10h8.0v1.87h-8.0zM377.6 60.10h2.0v1.87h-2.0zM381.6 60.10h2.0v1.87h-2.0zM385.6 60.10h2.0v1.87h-2.0zM395.7 60.10h12.0v1.87h-12.0zM409.7 60.10h2.0v1.87h-2.0zM419.7 60.10h2.0v1.87h-2.0zM443.8 60.10h2.0v1.87h-2.0zM447.8 60.10h2.0v1.87h-2.0zM453.8 60.10h4.0v1.87h-4.0zM459.8 60.10h2.0v1.87h-2.0zM465.8 60.10h2.0v1.87h-2.0zM469.8 60.10h2.0v1.87h-2.0zM475.8 60.10h6.0v1.87h-6.0zM485.8 60.10h4.0v1.87h-4.0zM491.9 60.10h2.0v1.87h-2.0zM495.9 60.10h4.0v1.87h-4.0zM501.9 60.10h4.0v1.87h-4.0zM507.9 60.10h6.0v1.87h-6.0zM315.5 61.97h2.0v1.87h-2.0zM319.5 61.97h12.0v1.87h-12.0zM333.5 61.97h2.0v1.87h-2.0zM341.6 61.97h2.0v1.87h-2.0zM345.6 61.97h8.0v1.87h-8.0zM355.6 61.97h8.0v1.87h-8.0zM367.6 61.97h6.0v1.87h-6.0zM377.6 61.97h8.0v1.87h-8.0zM395.7 61.97h10.0v1.87h-10.0zM407.7 61.97h4.0v1.87h-4.0zM415.7 61.97h2.0v1.87h-2.0zM421.7 61.97h2.0v1.87h-2.0zM433.7 61.97h2.0v1.87h-2.0zM451.8 61.97h4.0v1.87h-4.0zM465.8 61.97h4.0v1.87h-4.0zM471.8 61.97h12.0v1.87h-12.0zM487.8 61.97h4.0v1.87h-4.0zM495.9 61.97h4.0v1.87h-4.0zM509.9 61.97h2.0v1.87h-2.0zM315.5 63.84h14.0v1.87h-14.0zM333.5 63.84h2.0v1.87h-2.0zM339.5 63.84h8.0v1.87h-8.0zM351.6 63.84h4.0v1.87h-4.0zM363.6 63.84h6.0v1.87h-6.0zM373.6 63.84h6.0v1.87h-6.0zM383.6 63.84h4.0v1.87h-4.0zM389.6 63.84h12.0v1.87h-12.0zM403.7 63.84h2.0v1.87h-2.0zM407.7 63.84h4.0v1.87h-4.0zM417.7 63.84h2.0v1.87h-2.0zM425.7 63.84h2.0v1.87h-2.0zM433.7 63.84h2.0v1.87h-2.0zM437.7 63.84h2.0v1.87h-2.0zM445.8 63.84h2.0v1.87h-2.0zM449.8 63.84h2.0v1.87h-2.0zM453.8 63.84h4.0v1.87h-4.0zM459.8 63.84h4.0v1.87h-4.0zM465.8 63.84h8.0v1.87h-8.0zM481.8 63.84h4.0v1.87h-4.0zM487.8 63.84h8.0v1.87h-8.0zM501.9 63.84h8.0v1.87h-8.0zM315.5 65.71h10.0v1.87h-10.0zM327.5 65.71h8.0v1.87h-8.0zM337.5 65.71h10.0v1.87h-10.0zM349.6 65.71h10.0v1.87h-10.0zM361.6 65.71h2.0v1.87h-2.0zM369.6 65.71h4.0v1.87h-4.0zM379.6 65.71h2.0v1.87h-2.0zM385.6 65.71h6.0v1.87h-6.0zM393.7 65.71h12.0v1.87h-12.0zM409.7 65.71h4.0v1.87h-4.0zM423.7 65.71h2.0v1.87h-2.0zM427.7 65.71h2.0v1.87h-2.0zM433.7 65.71h6.0v1.87h-6.0zM445.8 65.71h2.0v1.87h-2.0zM449.8 65.71h2.0v1.87h-2.0zM457.8 65.71h6.0v1.87h-6.0zM467.8 65.71h2.0v1.87h-2.0zM471.8 65.71h2.0v1.87h-2.0zM483.8 65.71h2.0v1.87h-2.0zM487.8 65.71h4.0v1.87h-4.0zM493.9 65.71h2.0v1.87h-2.0zM497.9 65.71h4.0v1.87h-4.0zM505.9 65.71h2.0v1.87h-2.0zM511.9 65.71h4.0v1.87h-4.0zM315.5 67.58h18.0v1.87h-18.0zM335.5 67.58h2.0v1.87h-2.0zM339.5 67.58h14.0v1.87h-14.0zM355.6 67.58h2.0v1.87h-2.0zM359.6 67.58h2.0v1.87h-2.0zM365.6 67.58h2.0v1.87h-2.0zM373.6 67.58h2.0v1.87h-2.0zM379.6 67.58h2.0v1.87h-2.0zM383.6 67.58h2.0v1.87h-2.0zM387.6 67.58h8.0v1.87h-8.0zM399.7 67.58h8.0v1.87h-8.0zM413.7 67.58h4.0v1.87h-4.0zM421.7 67.58h4.0v1.87h-4.0zM441.8 67.58h4.0v1.87h-4.0zM447.8 67.58h2.0v1.87h-2.0zM459.8 67.58h8.0v1.87h-8.0zM473.8 67.58h2.0v1.87h-2.0zM479.8 67.58h2.0v1.87h-2.0zM489.8 67.58h4.0v1.87h-4.0zM497.9 67.58h4.0v1.87h-4.0zM505.9 67.58h2.0v1.87h-2.0zM509.9 67.58h6.0v1.87h-6.0zM315.5 69.45h22.0v1.87h-22.0zM339.5 69.45h2.0v1.87h-2.0zM343.6 69.45h2.0v1.87h-2.0zM349.6 69.45h8.0v1.87h-8.0zM361.6 69.45h2.0v1.87h-2.0zM375.6 69.45h2.0v1.87h-2.0zM381.6 69.45h2.0v1.87h-2.0zM385.6 69.45h4.0v1.87h-4.0zM393.7 69.45h8.0v1.87h-8.0zM405.7 69.45h2.0v1.87h-2.0zM411.7 69.45h2.0v1.87h-2.0zM415.7 69.45h2.0v1.87h-2.0zM421.7 69.45h2.0v1.87h-2.0zM425.7 69.45h2.0v1.87h-2.0zM441.8 69.45h4.0v1.87h-4.0zM449.8 69.45h2.0v1.87h-2.0zM463.8 69.45h2.0v1.87h-2.0zM469.8 69.45h4.0v1.87h-4.0zM483.8 69.45h2.0v1.87h-2.0zM491.9 69.45h6.0v1.87h-6.0zM499.9 69.45h6.0v1.87h-6.0zM507.9 69.45h4.0v1.87h-4.0zM315.5 71.32h10.0v1.87h-10.0zM327.5 71.32h12.0v1.87h-12.0zM341.6 71.32h2.0v1.87h-2.0zM345.6 71.32h2.0v1.87h-2.0zM351.6 71.32h4.0v1.87h-4.0zM359.6 71.32h6.0v1.87h-6.0zM367.6 71.32h6.0v1.87h-6.0zM375.6 71.32h4.0v1.87h-4.0zM381.6 71.32h2.0v1.87h-2.0zM387.6 71.32h4.0v1.87h-4.0zM395.7 71.32h8.0v1.87h-8.0zM405.7 71.32h6.0v1.87h-6.0zM415.7 71.32h2.0v1.87h-2.0zM419.7 71.32h4.0v1.87h-4.0zM453.8 71.32h8.0v1.87h-8.0zM467.8 71.32h6.0v1.87h-6.0zM475.8 71.32h2.0v1.87h-2.0zM483.8 71.32h2.0v1.87h-2.0zM495.9 71.32h6.0v1.87h-6.0zM503.9 71.32h2.0v1.87h-2.0zM507.9 71.32h2.0v1.87h-2.0zM319.5 73.19h2.0v1.87h-2.0zM323.5 73.19h8.0v1.87h-8.0zM335.5 73.19h2.0v1.87h-2.0zM341.6 73.19h18.0v1.87h-18.0zM361.6 73.19h4.0v1.87h-4.0zM371.6 73.19h6.0v1.87h-6.0zM381.6 73.19h2.0v1.87h-2.0zM385.6 73.19h4.0v1.87h-4.0zM391.7 73.19h2.0v1.87h-2.0zM401.7 73.19h4.0v1.87h-4.0zM409.7 73.19h2.0v1.87h-2.0zM413.7 73.19h2.0v1.87h-2.0zM445.8 73.19h2.0v1.87h-2.0zM453.8 73.19h4.0v1.87h-4.0zM467.8 73.19h4.0v1.87h-4.0zM481.8 73.19h4.0v1.87h-4.0zM493.9 73.19h10.0v1.87h-10.0zM505.9 73.19h2.0v1.87h-2.0zM511.9 73.19h4.0v1.87h-4.0zM315.5 75.06h2.0v1.87h-2.0zM319.5 75.06h4.0v1.87h-4.0zM327.5 75.06h22.0v1.87h-22.0zM351.6 75.06h2.0v1.87h-2.0zM355.6 75.06h8.0v1.87h-8.0zM365.6 75.06h4.0v1.87h-4.0zM371.6 75.06h6.0v1.87h-6.0zM381.6 75.06h6.0v1.87h-6.0zM395.7 75.06h2.0v1.87h-2.0zM423.7 75.06h2.0v1.87h-2.0zM427.7 75.06h2.0v1.87h-2.0zM445.8 75.06h2.0v1.87h-2.0zM449.8 75.06h4.0v1.87h-4.0zM469.8 75.06h4.0v1.87h-4.0zM479.8 75.06h2.0v1.87h-2.0zM483.8 75.06h2.0v1.87h-2.0zM491.9 75.06h6.0v1.87h-6.0zM505.9 75.06h10.0v1.87h-10.0zM315.5 76.93h6.0v1.87h-6.0zM323.5 76.93h22.0v1.87h-22.0zM351.6 76.93h14.0v1.87h-14.0zM367.6 76.93h10.0v1.87h-10.0zM381.6 76.93h2.0v1.87h-2.0zM385.6 76.93h4.0v1.87h-4.0zM393.7 76.93h4.0v1.87h-4.0zM401.7 76.93h2.0v1.87h-2.0zM407.7 76.93h2.0v1.87h-2.0zM411.7 76.93h2.0v1.87h-2.0zM415.7 76.93h2.0v1.87h-2.0zM449.8 76.93h2.0v1.87h-2.0zM457.8 76.93h2.0v1.87h-2.0zM463.8 76.93h2.0v1.87h-2.0zM475.8 76.93h4.0v1.87h-4.0zM483.8 76.93h2.0v1.87h-2.0zM487.8 76.93h4.0v1.87h-4.0zM493.9 76.93h2.0v1.87h-2.0zM499.9 76.93h2.0v1.87h-2.0zM511.9 76.93h2.0v1.87h-2.0zM315.5 78.80h4.0v1.87h-4.0zM323.5 78.80h10.0v1.87h-10.0zM337.5 78.80h4.0v1.87h-4.0zM345.6 78.80h2.0v1.87h-2.0zM351.6 78.80h8.0v1.87h-8.0zM361.6 78.80h2.0v1.87h-2.0zM365.6 78.80h14.0v1.87h-14.0zM381.6 78.80h4.0v1.87h-4.0zM391.7 78.80h2.0v1.87h-2.0zM395.7 78.80h4.0v1.87h-4.0zM401.7 78.80h2.0v1.87h-2.0zM409.7 78.80h2.0v1.87h-2.0zM417.7 78.80h2.0v1.87h-2.0zM421.7 78.80h2.0v1.87h-2.0zM427.7 78.80h2.0v1.87h-2.0zM449.8 78.80h4.0v1.87h-4.0zM465.8 78.80h2.0v1.87h-2.0zM473.8 78.80h2.0v1.87h-2.0zM477.8 78.80h2.0v1.87h-2.0zM481.8 78.80h4.0v1.87h-4.0zM491.9 78.80h2.0v1.87h-2.0zM495.9 78.80h2.0v1.87h-2.0zM509.9 78.80h2.0v1.87h-2.0zM315.5 80.67h6.0v1.87h-6.0zM323.5 80.67h8.0v1.87h-8.0zM337.5 80.67h24.0v1.87h-24.0zM363.6 80.67h18.0v1.87h-18.0zM383.6 80.67h2.0v1.87h-2.0zM387.6 80.67h4.0v1.87h-4.0zM393.7 80.67h4.0v1.87h-4.0zM401.7 80.67h6.0v1.87h-6.0zM411.7 80.67h2.0v1.87h-2.0zM431.7 80.67h2.0v1.87h-2.0zM445.8 80.67h2.0v1.87h-2.0zM449.8 80.67h2.0v1.87h-2.0zM477.8 80.67h2.0v1.87h-2.0zM503.9 80.67h2.0v1.87h-2.0zM507.9 80.67h2.0v1.87h-2.0zM315.5 82.54h4.0v1.87h-4.0zM321.5 82.54h2.0v1.87h-2.0zM325.5 82.54h8.0v1.87h-8.0zM337.5 82.54h2.0v1.87h-2.0zM341.6 82.54h14.0v1.87h-14.0zM357.6 82.54h8.0v1.87h-8.0zM369.6 82.54h2.0v1.87h-2.0zM379.6 82.54h2.0v1.87h-2.0zM383.6 82.54h6.0v1.87h-6.0zM391.7 82.54h4.0v1.87h-4.0zM399.7 82.54h8.0v1.87h-8.0zM411.7 82.54h2.0v1.87h-2.0zM421.7 82.54h4.0v1.87h-4.0zM427.7 82.54h2.0v1.87h-2.0zM435.7 82.54h2.0v1.87h-2.0zM457.8 82.54h4.0v1.87h-4.0zM477.8 82.54h2.0v1.87h-2.0zM499.9 82.54h2.0v1.87h-2.0zM505.9 82.54h4.0v1.87h-4.0zM511.9 82.54h2.0v1.87h-2.0zM319.5 84.41h2.0v1.87h-2.0zM331.5 84.41h2.0v1.87h-2.0zM339.5 84.41h6.0v1.87h-6.0zM347.6 84.41h2.0v1.87h-2.0zM351.6 84.41h4.0v1.87h-4.0zM359.6 84.41h4.0v1.87h-4.0zM367.6 84.41h10.0v1.87h-10.0zM383.6 84.41h4.0v1.87h-4.0zM391.7 84.41h4.0v1.87h-4.0zM399.7 84.41h4.0v1.87h-4.0zM409.7 84.41h4.0v1.87h-4.0zM417.7 84.41h2.0v1.87h-2.0zM431.7 84.41h4.0v1.87h-4.0zM441.8 84.41h2.0v1.87h-2.0zM457.8 84.41h2.0v1.87h-2.0zM489.8 84.41h6.0v1.87h-6.0zM497.9 84.41h2.0v1.87h-2.0zM505.9 84.41h2.0v1.87h-2.0zM509.9 84.41h2.0v1.87h-2.0zM317.5 86.28h2.0v1.87h-2.0zM323.5 86.28h2.0v1.87h-2.0zM329.5 86.28h22.0v1.87h-22.0zM353.6 86.28h4.0v1.87h-4.0zM359.6 86.28h8.0v1.87h-8.0zM371.6 86.28h6.0v1.87h-6.0zM379.6 86.28h2.0v1.87h-2.0zM385.6 86.28h2.0v1.87h-2.0zM403.7 86.28h2.0v1.87h-2.0zM409.7 86.28h4.0v1.87h-4.0zM431.7 86.28h4.0v1.87h-4.0zM439.7 86.28h2.0v1.87h-2.0zM453.8 86.28h2.0v1.87h-2.0zM467.8 86.28h4.0v1.87h-4.0zM473.8 86.28h2.0v1.87h-2.0zM495.9 86.28h4.0v1.87h-4.0zM315.5 88.15h20.0v1.87h-20.0zM337.5 88.15h2.0v1.87h-2.0zM341.6 88.15h16.0v1.87h-16.0zM361.6 88.15h2.0v1.87h-2.0zM365.6 88.15h2.0v1.87h-2.0zM375.6 88.15h2.0v1.87h-2.0zM379.6 88.15h2.0v1.87h-2.0zM383.6 88.15h8.0v1.87h-8.0zM393.7 88.15h4.0v1.87h-4.0zM405.7 88.15h4.0v1.87h-4.0zM411.7 88.15h2.0v1.87h-2.0zM433.7 88.15h2.0v1.87h-2.0zM447.8 88.15h2.0v1.87h-2.0zM479.8 88.15h2.0v1.87h-2.0zM499.9 88.15h2.0v1.87h-2.0zM511.9 88.15h2.0v1.87h-2.0zM315.5 90.02h8.0v1.87h-8.0zM325.5 90.02h8.0v1.87h-8.0zM335.5 90.02h16.0v1.87h-16.0zM353.6 90.02h2.0v1.87h-2.0zM361.6 90.02h6.0v1.87h-6.0zM371.6 90.02h6.0v1.87h-6.0zM379.6 90.02h6.0v1.87h-6.0zM399.7 90.02h12.0v1.87h-12.0zM425.7 90.02h2.0v1.87h-2.0zM451.8 90.02h2.0v1.87h-2.0zM455.8 90.02h2.0v1.87h-2.0zM459.8 90.02h2.0v1.87h-2.0zM479.8 90.02h2.0v1.87h-2.0zM491.9 90.02h2.0v1.87h-2.0zM495.9 90.02h2.0v1.87h-2.0zM507.9 90.02h2.0v1.87h-2.0zM315.5 91.89h18.0v1.87h-18.0zM335.5 91.89h2.0v1.87h-2.0zM345.6 91.89h6.0v1.87h-6.0zM361.6 91.89h4.0v1.87h-4.0zM369.6 91.89h10.0v1.87h-10.0zM385.6 91.89h2.0v1.87h-2.0zM391.7 91.89h2.0v1.87h-2.0zM399.7 91.89h6.0v1.87h-6.0zM407.7 91.89h2.0v1.87h-2.0zM415.7 91.89h2.0v1.87h-2.0zM419.7 91.89h2.0v1.87h-2.0zM427.7 91.89h2.0v1.87h-2.0zM433.7 91.89h2.0v1.87h-2.0zM439.7 91.89h2.0v1.87h-2.0zM451.8 91.89h2.0v1.87h-2.0zM455.8 91.89h2.0v1.87h-2.0zM469.8 91.89h4.0v1.87h-4.0zM487.8 91.89h2.0v1.87h-2.0zM495.9 91.89h4.0v1.87h-4.0zM513.9 91.89h2.0v1.87h-2.0zM315.5 93.76h14.0v1.87h-14.0zM331.5 93.76h8.0v1.87h-8.0zM343.6 93.76h8.0v1.87h-8.0zM357.6 93.76h2.0v1.87h-2.0zM361.6 93.76h2.0v1.87h-2.0zM367.6 93.76h2.0v1.87h-2.0zM373.6 93.76h8.0v1.87h-8.0zM383.6 93.76h4.0v1.87h-4.0zM395.7 93.76h6.0v1.87h-6.0zM403.7 93.76h2.0v1.87h-2.0zM407.7 93.76h2.0v1.87h-2.0zM411.7 93.76h2.0v1.87h-2.0zM423.7 93.76h2.0v1.87h-2.0zM433.7 93.76h2.0v1.87h-2.0zM453.8 93.76h2.0v1.87h-2.0zM481.8 93.76h2.0v1.87h-2.0zM499.9 93.76h2.0v1.87h-2.0zM315.5 95.63h34.1v1.87h-34.1zM361.6 95.63h6.0v1.87h-6.0zM373.6 95.63h20.0v1.87h-20.0zM399.7 95.63h10.0v1.87h-10.0zM411.7 95.63h4.0v1.87h-4.0zM417.7 95.63h2.0v1.87h-2.0zM449.8 95.63h2.0v1.87h-2.0zM457.8 95.63h6.0v1.87h-6.0zM479.8 95.63h2.0v1.87h-2.0zM499.9 95.63h4.0v1.87h-4.0zM315.5 97.50h6.0v1.87h-6.0zM323.5 97.50h2.0v1.87h-2.0zM327.5 97.50h6.0v1.87h-6.0zM335.5 97.50h4.0v1.87h-4.0zM341.6 97.50h8.0v1.87h-8.0zM351.6 97.50h2.0v1.87h-2.0zM361.6 97.50h8.0v1.87h-8.0zM371.6 97.50h2.0v1.87h-2.0zM375.6 97.50h2.0v1.87h-2.0zM381.6 97.50h2.0v1.87h-2.0zM391.7 97.50h6.0v1.87h-6.0zM401.7 97.50h6.0v1.87h-6.0zM415.7 97.50h2.0v1.87h-2.0zM425.7 97.50h2.0v1.87h-2.0zM431.7 97.50h2.0v1.87h-2.0zM437.7 97.50h2.0v1.87h-2.0zM447.8 97.50h4.0v1.87h-4.0zM459.8 97.50h2.0v1.87h-2.0zM485.8 97.50h2.0v1.87h-2.0zM509.9 97.50h4.0v1.87h-4.0zM315.5 99.37h4.0v1.87h-4.0zM321.5 99.37h2.0v1.87h-2.0zM333.5 99.37h2.0v1.87h-2.0zM337.5 99.37h10.0v1.87h-10.0zM351.6 99.37h10.0v1.87h-10.0zM365.6 99.37h14.0v1.87h-14.0zM383.6 99.37h6.0v1.87h-6.0zM395.7 99.37h2.0v1.87h-2.0zM399.7 99.37h4.0v1.87h-4.0zM413.7 99.37h2.0v1.87h-2.0zM431.7 99.37h4.0v1.87h-4.0zM439.7 99.37h2.0v1.87h-2.0zM467.8 99.37h2.0v1.87h-2.0zM477.8 99.37h2.0v1.87h-2.0zM481.8 99.37h4.0v1.87h-4.0zM315.5 101.24h6.0v1.87h-6.0zM323.5 101.24h8.0v1.87h-8.0zM333.5 101.24h12.0v1.87h-12.0zM351.6 101.24h10.0v1.87h-10.0zM367.6 101.24h4.0v1.87h-4.0zM373.6 101.24h6.0v1.87h-6.0zM383.6 101.24h6.0v1.87h-6.0zM391.7 101.24h4.0v1.87h-4.0zM401.7 101.24h8.0v1.87h-8.0zM427.7 101.24h2.0v1.87h-2.0zM457.8 101.24h4.0v1.87h-4.0zM471.8 101.24h4.0v1.87h-4.0zM481.8 101.24h2.0v1.87h-2.0zM507.9 101.24h2.0v1.87h-2.0zM315.5 103.11h8.0v1.87h-8.0zM325.5 103.11h4.0v1.87h-4.0zM331.5 103.11h8.0v1.87h-8.0zM341.6 103.11h4.0v1.87h-4.0zM347.6 103.11h2.0v1.87h-2.0zM351.6 103.11h10.0v1.87h-10.0zM363.6 103.11h10.0v1.87h-10.0zM377.6 103.11h4.0v1.87h-4.0zM387.6 103.11h4.0v1.87h-4.0zM397.7 103.11h6.0v1.87h-6.0zM405.7 103.11h6.0v1.87h-6.0zM433.7 103.11h2.0v1.87h-2.0zM463.8 103.11h2.0v1.87h-2.0zM471.8 103.11h2.0v1.87h-2.0zM485.8 103.11h2.0v1.87h-2.0zM505.9 103.11h2.0v1.87h-2.0zM315.5 104.98h4.0v1.87h-4.0zM321.5 104.98h20.0v1.87h-20.0zM343.6 104.98h2.0v1.87h-2.0zM355.6 104.98h2.0v1.87h-2.0zM365.6 104.98h4.0v1.87h-4.0zM373.6 104.98h4.0v1.87h-4.0zM383.6 104.98h8.0v1.87h-8.0zM395.7 104.98h2.0v1.87h-2.0zM411.7 104.98h2.0v1.87h-2.0zM415.7 104.98h2.0v1.87h-2.0zM437.7 104.98h2.0v1.87h-2.0zM441.8 104.98h2.0v1.87h-2.0zM487.8 104.98h2.0v1.87h-2.0zM495.9 104.98h2.0v1.87h-2.0zM503.9 104.98h2.0v1.87h-2.0zM315.5 106.85h2.0v1.87h-2.0zM319.5 106.85h26.1v1.87h-26.1zM347.6 106.85h2.0v1.87h-2.0zM353.6 106.85h16.0v1.87h-16.0zM375.6 106.85h16.0v1.87h-16.0zM399.7 106.85h2.0v1.87h-2.0zM407.7 106.85h2.0v1.87h-2.0zM411.7 106.85h2.0v1.87h-2.0zM423.7 106.85h2.0v1.87h-2.0zM433.7 106.85h2.0v1.87h-2.0zM453.8 106.85h2.0v1.87h-2.0zM459.8 106.85h2.0v1.87h-2.0zM489.8 106.85h2.0v1.87h-2.0zM315.5 108.72h4.0v1.87h-4.0zM321.5 108.72h24.0v1.87h-24.0zM351.6 108.72h6.0v1.87h-6.0zM359.6 108.72h10.0v1.87h-10.0zM375.6 108.72h12.0v1.87h-12.0zM389.6 108.72h2.0v1.87h-2.0zM393.7 108.72h8.0v1.87h-8.0zM407.7 108.72h2.0v1.87h-2.0zM425.7 108.72h2.0v1.87h-2.0zM491.9 108.72h2.0v1.87h-2.0zM315.5 110.59h2.0v1.87h-2.0zM319.5 110.59h8.0v1.87h-8.0zM331.5 110.59h2.0v1.87h-2.0zM335.5 110.59h6.0v1.87h-6.0zM343.6 110.59h8.0v1.87h-8.0zM355.6 110.59h2.0v1.87h-2.0zM361.6 110.59h4.0v1.87h-4.0zM369.6 110.59h2.0v1.87h-2.0zM379.6 110.59h2.0v1.87h-2.0zM383.6 110.59h4.0v1.87h-4.0zM391.7 110.59h2.0v1.87h-2.0zM399.7 110.59h2.0v1.87h-2.0zM409.7 110.59h2.0v1.87h-2.0zM417.7 110.59h2.0v1.87h-2.0zM425.7 110.59h2.0v1.87h-2.0zM431.7 110.59h2.0v1.87h-2.0zM479.8 110.59h2.0v1.87h-2.0zM491.9 110.59h2.0v1.87h-2.0zM499.9 110.59h2.0v1.87h-2.0zM315.5 112.46h16.0v1.87h-16.0zM333.5 112.46h12.0v1.87h-12.0zM347.6 112.46h10.0v1.87h-10.0zM359.6 112.46h14.0v1.87h-14.0zM377.6 112.46h6.0v1.87h-6.0zM385.6 112.46h2.0v1.87h-2.0zM389.6 112.46h2.0v1.87h-2.0zM393.7 112.46h4.0v1.87h-4.0zM399.7 112.46h2.0v1.87h-2.0zM411.7 112.46h2.0v1.87h-2.0zM421.7 112.46h4.0v1.87h-4.0zM447.8 112.46h2.0v1.87h-2.0zM481.8 112.46h2.0v1.87h-2.0zM315.5 114.33h18.0v1.87h-18.0zM335.5 114.33h6.0v1.87h-6.0zM343.6 114.33h4.0v1.87h-4.0zM349.6 114.33h6.0v1.87h-6.0zM357.6 114.33h16.0v1.87h-16.0zM375.6 114.33h4.0v1.87h-4.0zM389.6 114.33h2.0v1.87h-2.0zM399.7 114.33h2.0v1.87h-2.0zM403.7 114.33h2.0v1.87h-2.0zM407.7 114.33h2.0v1.87h-2.0zM471.8 114.33h2.0v1.87h-2.0zM315.5 116.20h12.0v1.87h-12.0zM329.5 116.20h6.0v1.87h-6.0zM337.5 116.20h6.0v1.87h-6.0zM347.6 116.20h2.0v1.87h-2.0zM351.6 116.20h10.0v1.87h-10.0zM363.6 116.20h2.0v1.87h-2.0zM367.6 116.20h12.0v1.87h-12.0zM409.7 116.20h4.0v1.87h-4.0zM467.8 116.20h2.0v1.87h-2.0zM471.8 116.20h2.0v1.87h-2.0zM489.8 116.20h2.0v1.87h-2.0zM497.9 116.20h2.0v1.87h-2.0zM315.5 118.07h6.0v1.87h-6.0zM323.5 118.07h24.0v1.87h-24.0zM349.6 118.07h2.0v1.87h-2.0zM355.6 118.07h4.0v1.87h-4.0zM365.6 118.07h10.0v1.87h-10.0zM377.6 118.07h6.0v1.87h-6.0zM399.7 118.07h8.0v1.87h-8.0zM415.7 118.07h2.0v1.87h-2.0zM435.7 118.07h2.0v1.87h-2.0zM455.8 118.07h2.0v1.87h-2.0zM469.8 118.07h4.0v1.87h-4.0zM483.8 118.07h2.0v1.87h-2.0zM491.9 118.07h2.0v1.87h-2.0zM497.9 118.07h2.0v1.87h-2.0zM315.5 119.94h6.0v1.87h-6.0zM323.5 119.94h12.0v1.87h-12.0zM337.5 119.94h10.0v1.87h-10.0zM349.6 119.94h2.0v1.87h-2.0zM353.6 119.94h6.0v1.87h-6.0zM361.6 119.94h2.0v1.87h-2.0zM365.6 119.94h2.0v1.87h-2.0zM369.6 119.94h2.0v1.87h-2.0zM375.6 119.94h4.0v1.87h-4.0zM381.6 119.94h4.0v1.87h-4.0zM387.6 119.94h2.0v1.87h-2.0zM391.7 119.94h4.0v1.87h-4.0zM397.7 119.94h6.0v1.87h-6.0zM407.7 119.94h2.0v1.87h-2.0zM411.7 119.94h2.0v1.87h-2.0zM431.7 119.94h2.0v1.87h-2.0zM455.8 119.94h2.0v1.87h-2.0zM469.8 119.94h2.0v1.87h-2.0zM501.9 119.94h6.0v1.87h-6.0zM315.5 121.81h12.0v1.87h-12.0zM329.5 121.81h4.0v1.87h-4.0zM337.5 121.81h10.0v1.87h-10.0zM351.6 121.81h4.0v1.87h-4.0zM357.6 121.81h8.0v1.87h-8.0zM369.6 121.81h2.0v1.87h-2.0zM373.6 121.81h6.0v1.87h-6.0zM381.6 121.81h6.0v1.87h-6.0zM397.7 121.81h14.0v1.87h-14.0zM423.7 121.81h2.0v1.87h-2.0zM503.9 121.81h2.0v1.87h-2.0zM315.5 123.68h4.0v1.87h-4.0zM323.5 123.68h12.0v1.87h-12.0zM337.5 123.68h10.0v1.87h-10.0zM349.6 123.68h2.0v1.87h-2.0zM355.6 123.68h8.0v1.87h-8.0zM365.6 123.68h2.0v1.87h-2.0zM369.6 123.68h4.0v1.87h-4.0zM375.6 123.68h4.0v1.87h-4.0zM383.6 123.68h2.0v1.87h-2.0zM387.6 123.68h2.0v1.87h-2.0zM391.7 123.68h4.0v1.87h-4.0zM401.7 123.68h4.0v1.87h-4.0zM407.7 123.68h2.0v1.87h-2.0zM411.7 123.68h4.0v1.87h-4.0zM451.8 123.68h4.0v1.87h-4.0zM499.9 123.68h2.0v1.87h-2.0zM511.9 123.68h2.0v1.87h-2.0zM315.5 125.55h16.0v1.87h-16.0zM337.5 125.55h4.0v1.87h-4.0zM357.6 125.55h4.0v1.87h-4.0zM373.6 125.55h4.0v1.87h-4.0zM379.6 125.55h6.0v1.87h-6.0zM387.6 125.55h4.0v1.87h-4.0zM393.7 125.55h2.0v1.87h-2.0zM403.7 125.55h2.0v1.87h-2.0zM411.7 125.55h4.0v1.87h-4.0zM419.7 125.55h2.0v1.87h-2.0zM429.7 125.55h2.0v1.87h-2.0zM437.7 125.55h4.0v1.87h-4.0zM457.8 125.55h4.0v1.87h-4.0zM463.8 125.55h4.0v1.87h-4.0zM469.8 125.55h2.0v1.87h-2.0zM497.9 125.55h4.0v1.87h-4.0zM315.5 127.42h4.0v1.87h-4.0zM323.5 127.42h6.0v1.87h-6.0zM331.5 127.42h4.0v1.87h-4.0zM337.5 127.42h4.0v1.87h-4.0zM347.6 127.42h12.0v1.87h-12.0zM361.6 127.42h20.0v1.87h-20.0zM383.6 127.42h2.0v1.87h-2.0zM397.7 127.42h2.0v1.87h-2.0zM401.7 127.42h2.0v1.87h-2.0zM425.7 127.42h2.0v1.87h-2.0zM449.8 127.42h2.0v1.87h-2.0zM467.8 127.42h2.0v1.87h-2.0zM485.8 127.42h2.0v1.87h-2.0zM505.9 127.42h2.0v1.87h-2.0zM315.5 129.29h4.0v1.87h-4.0zM325.5 129.29h6.0v1.87h-6.0zM335.5 129.29h6.0v1.87h-6.0zM347.6 129.29h2.0v1.87h-2.0zM355.6 129.29h2.0v1.87h-2.0zM359.6 129.29h2.0v1.87h-2.0zM381.6 129.29h2.0v1.87h-2.0zM415.7 129.29h2.0v1.87h-2.0zM435.7 129.29h2.0v1.87h-2.0zM447.8 129.29h2.0v1.87h-2.0zM471.8 129.29h2.0v1.87h-2.0zM499.9 129.29h2.0v1.87h-2.0zM505.9 129.29h6.0v1.87h-6.0zM315.5 131.16h16.0v1.87h-16.0zM333.5 131.16h2.0v1.87h-2.0zM349.6 131.16h2.0v1.87h-2.0zM355.6 131.16h2.0v1.87h-2.0zM371.6 131.16h2.0v1.87h-2.0zM383.6 131.16h2.0v1.87h-2.0zM387.6 131.16h2.0v1.87h-2.0zM415.7 131.16h2.0v1.87h-2.0zM433.7 131.16h4.0v1.87h-4.0zM449.8 131.16h2.0v1.87h-2.0zM469.8 131.16h2.0v1.87h-2.0zM473.8 131.16h2.0v1.87h-2.0zM483.8 131.16h2.0v1.87h-2.0zM493.9 131.16h4.0v1.87h-4.0zM513.9 131.16h2.0v1.87h-2.0zM315.5 133.03h8.0v1.87h-8.0zM327.5 133.03h6.0v1.87h-6.0zM335.5 133.03h4.0v1.87h-4.0zM347.6 133.03h6.0v1.87h-6.0zM361.6 133.03h2.0v1.87h-2.0zM365.6 133.03h6.0v1.87h-6.0zM383.6 133.03h2.0v1.87h-2.0zM399.7 133.03h2.0v1.87h-2.0zM403.7 133.03h2.0v1.87h-2.0zM465.8 133.03h2.0v1.87h-2.0zM489.8 133.03h2.0v1.87h-2.0zM493.9 133.03h4.0v1.87h-4.0zM315.5 134.90h2.0v1.87h-2.0zM321.5 134.90h2.0v1.87h-2.0zM325.5 134.90h2.0v1.87h-2.0zM329.5 134.90h2.0v1.87h-2.0zM335.5 134.90h4.0v1.87h-4.0zM341.6 134.90h2.0v1.87h-2.0zM349.6 134.90h2.0v1.87h-2.0zM359.6 134.90h4.0v1.87h-4.0zM367.6 134.90h2.0v1.87h-2.0zM403.7 134.90h6.0v1.87h-6.0zM489.8 134.90h2.0v1.87h-2.0zM315.5 136.77h2.0v1.87h-2.0zM319.5 136.77h4.0v1.87h-4.0zM327.5 136.77h6.0v1.87h-6.0zM335.5 136.77h2.0v1.87h-2.0zM347.6 136.77h4.0v1.87h-4.0zM353.6 136.77h4.0v1.87h-4.0zM365.6 136.77h4.0v1.87h-4.0zM371.6 136.77h2.0v1.87h-2.0zM387.6 136.77h2.0v1.87h-2.0zM401.7 136.77h8.0v1.87h-8.0zM411.7 136.77h2.0v1.87h-2.0zM439.7 136.77h2.0v1.87h-2.0zM461.8 136.77h2.0v1.87h-2.0zM473.8 136.77h2.0v1.87h-2.0zM491.9 136.77h4.0v1.87h-4.0zM315.5 138.64h14.0v1.87h-14.0zM341.6 138.64h6.0v1.87h-6.0zM349.6 138.64h2.0v1.87h-2.0zM353.6 138.64h2.0v1.87h-2.0zM359.6 138.64h2.0v1.87h-2.0zM387.6 138.64h2.0v1.87h-2.0zM391.7 138.64h2.0v1.87h-2.0zM407.7 138.64h2.0v1.87h-2.0zM411.7 138.64h4.0v1.87h-4.0zM435.7 138.64h8.0v1.87h-8.0zM497.9 138.64h4.0v1.87h-4.0zM319.5 140.51h10.0v1.87h-10.0zM337.5 140.51h4.0v1.87h-4.0zM345.6 140.51h4.0v1.87h-4.0zM351.6 140.51h2.0v1.87h-2.0zM369.6 140.51h2.0v1.87h-2.0zM375.6 140.51h2.0v1.87h-2.0zM387.6 140.51h2.0v1.87h-2.0zM401.7 140.51h2.0v1.87h-2.0zM409.7 140.51h4.0v1.87h-4.0zM421.7 140.51h6.0v1.87h-6.0zM433.7 140.51h8.0v1.87h-8.0zM451.8 140.51h4.0v1.87h-4.0zM495.9 140.51h4.0v1.87h-4.0zM315.5 142.38h2.0v1.87h-2.0zM321.5 142.38h4.0v1.87h-4.0zM327.5 142.38h8.0v1.87h-8.0zM337.5 142.38h8.0v1.87h-8.0zM347.6 142.38h4.0v1.87h-4.0zM371.6 142.38h4.0v1.87h-4.0zM391.7 142.38h4.0v1.87h-4.0zM397.7 142.38h2.0v1.87h-2.0zM443.8 142.38h2.0v1.87h-2.0zM451.8 142.38h2.0v1.87h-2.0zM481.8 142.38h4.0v1.87h-4.0zM493.9 142.38h4.0v1.87h-4.0zM501.9 142.38h2.0v1.87h-2.0zM511.9 142.38h2.0v1.87h-2.0zM317.5 144.25h2.0v1.87h-2.0zM321.5 144.25h2.0v1.87h-2.0zM327.5 144.25h8.0v1.87h-8.0zM353.6 144.25h2.0v1.87h-2.0zM367.6 144.25h2.0v1.87h-2.0zM371.6 144.25h2.0v1.87h-2.0zM391.7 144.25h8.0v1.87h-8.0zM405.7 144.25h2.0v1.87h-2.0zM445.8 144.25h2.0v1.87h-2.0zM487.8 144.25h2.0v1.87h-2.0zM495.9 144.25h2.0v1.87h-2.0zM503.9 144.25h2.0v1.87h-2.0zM509.9 144.25h2.0v1.87h-2.0zM319.5 146.12h2.0v1.87h-2.0zM323.5 146.12h6.0v1.87h-6.0zM333.5 146.12h2.0v1.87h-2.0zM339.5 146.12h2.0v1.87h-2.0zM353.6 146.12h2.0v1.87h-2.0zM359.6 146.12h2.0v1.87h-2.0zM389.6 146.12h2.0v1.87h-2.0zM407.7 146.12h2.0v1.87h-2.0zM433.7 146.12h2.0v1.87h-2.0zM469.8 146.12h6.0v1.87h-6.0zM495.9 146.12h2.0v1.87h-2.0zM513.9 146.12h2.0v1.87h-2.0zM315.5 147.99h4.0v1.87h-4.0zM321.5 147.99h4.0v1.87h-4.0zM327.5 147.99h2.0v1.87h-2.0zM331.5 147.99h4.0v1.87h-4.0zM341.6 147.99h4.0v1.87h-4.0zM355.6 147.99h2.0v1.87h-2.0zM369.6 147.99h2.0v1.87h-2.0zM387.6 147.99h2.0v1.87h-2.0zM429.7 147.99h6.0v1.87h-6.0zM437.7 147.99h2.0v1.87h-2.0zM445.8 147.99h2.0v1.87h-2.0zM451.8 147.99h2.0v1.87h-2.0zM467.8 147.99h2.0v1.87h-2.0zM315.5 149.86h14.0v1.87h-14.0zM331.5 149.86h2.0v1.87h-2.0zM335.5 149.86h4.0v1.87h-4.0zM341.6 149.86h2.0v1.87h-2.0zM353.6 149.86h2.0v1.87h-2.0zM361.6 149.86h2.0v1.87h-2.0zM371.6 149.86h2.0v1.87h-2.0zM431.7 149.86h2.0v1.87h-2.0zM437.7 149.86h2.0v1.87h-2.0zM443.8 149.86h4.0v1.87h-4.0zM461.8 149.86h2.0v1.87h-2.0zM469.8 149.86h2.0v1.87h-2.0zM473.8 149.86h4.0v1.87h-4.0zM481.8 149.86h2.0v1.87h-2.0zM491.9 149.86h4.0v1.87h-4.0zM509.9 149.86h2.0v1.87h-2.0zM315.5 151.73h2.0v1.87h-2.0zM319.5 151.73h2.0v1.87h-2.0zM323.5 151.73h2.0v1.87h-2.0zM333.5 151.73h2.0v1.87h-2.0zM337.5 151.73h2.0v1.87h-2.0zM345.6 151.73h2.0v1.87h-2.0zM349.6 151.73h4.0v1.87h-4.0zM357.6 151.73h2.0v1.87h-2.0zM363.6 151.73h4.0v1.87h-4.0zM375.6 151.73h2.0v1.87h-2.0zM383.6 151.73h2.0v1.87h-2.0zM387.6 151.73h2.0v1.87h-2.0zM395.7 151.73h2.0v1.87h-2.0zM399.7 151.73h2.0v1.87h-2.0zM419.7 151.73h6.0v1.87h-6.0zM431.7 151.73h2.0v1.87h-2.0zM443.8 151.73h2.0v1.87h-2.0zM461.8 151.73h2.0v1.87h-2.0zM483.8 151.73h2.0v1.87h-2.0zM493.9 151.73h2.0v1.87h-2.0zM511.9 151.73h2.0v1.87h-2.0zM315.5 153.60h2.0v1.87h-2.0zM321.5 153.60h2.0v1.87h-2.0zM331.5 153.60h4.0v1.87h-4.0zM343.6 153.60h2.0v1.87h-2.0zM347.6 153.60h2.0v1.87h-2.0zM351.6 153.60h4.0v1.87h-4.0zM371.6 153.60h4.0v1.87h-4.0zM393.7 153.60h2.0v1.87h-2.0zM415.7 153.60h2.0v1.87h-2.0zM427.7 153.60h4.0v1.87h-4.0zM441.8 153.60h2.0v1.87h-2.0zM481.8 153.60h2.0v1.87h-2.0zM317.5 155.47h2.0v1.87h-2.0zM325.5 155.47h2.0v1.87h-2.0zM331.5 155.47h8.0v1.87h-8.0zM341.6 155.47h2.0v1.87h-2.0zM347.6 155.47h2.0v1.87h-2.0zM351.6 155.47h4.0v1.87h-4.0zM357.6 155.47h2.0v1.87h-2.0zM363.6 155.47h2.0v1.87h-2.0zM367.6 155.47h4.0v1.87h-4.0zM375.6 155.47h6.0v1.87h-6.0zM397.7 155.47h2.0v1.87h-2.0zM417.7 155.47h2.0v1.87h-2.0zM427.7 155.47h2.0v1.87h-2.0zM453.8 155.47h2.0v1.87h-2.0zM321.5 157.34h6.0v1.87h-6.0zM331.5 157.34h10.0v1.87h-10.0zM345.6 157.34h6.0v1.87h-6.0zM357.6 157.34h4.0v1.87h-4.0zM365.6 157.34h2.0v1.87h-2.0zM369.6 157.34h2.0v1.87h-2.0zM373.6 157.34h2.0v1.87h-2.0zM379.6 157.34h4.0v1.87h-4.0zM385.6 157.34h2.0v1.87h-2.0zM397.7 157.34h4.0v1.87h-4.0zM429.7 157.34h2.0v1.87h-2.0zM465.8 157.34h2.0v1.87h-2.0zM489.8 157.34h4.0v1.87h-4.0zM315.5 159.21h4.0v1.87h-4.0zM321.5 159.21h2.0v1.87h-2.0zM329.5 159.21h4.0v1.87h-4.0zM337.5 159.21h2.0v1.87h-2.0zM343.6 159.21h2.0v1.87h-2.0zM349.6 159.21h4.0v1.87h-4.0zM359.6 159.21h2.0v1.87h-2.0zM363.6 159.21h4.0v1.87h-4.0zM385.6 159.21h6.0v1.87h-6.0zM403.7 159.21h2.0v1.87h-2.0zM415.7 159.21h2.0v1.87h-2.0zM433.7 159.21h4.0v1.87h-4.0zM449.8 159.21h2.0v1.87h-2.0zM461.8 159.21h2.0v1.87h-2.0zM503.9 159.21h2.0v1.87h-2.0zM315.5 161.08h2.0v1.87h-2.0zM321.5 161.08h18.0v1.87h-18.0zM341.6 161.08h2.0v1.87h-2.0zM349.6 161.08h2.0v1.87h-2.0zM353.6 161.08h4.0v1.87h-4.0zM373.6 161.08h4.0v1.87h-4.0zM401.7 161.08h6.0v1.87h-6.0zM467.8 161.08h2.0v1.87h-2.0zM485.8 161.08h2.0v1.87h-2.0zM499.9 161.08h2.0v1.87h-2.0zM509.9 161.08h4.0v1.87h-4.0zM315.5 162.95h20.0v1.87h-20.0zM339.5 162.95h6.0v1.87h-6.0zM349.6 162.95h2.0v1.87h-2.0zM353.6 162.95h4.0v1.87h-4.0zM359.6 162.95h4.0v1.87h-4.0zM369.6 162.95h2.0v1.87h-2.0zM373.6 162.95h2.0v1.87h-2.0zM385.6 162.95h2.0v1.87h-2.0zM393.7 162.95h2.0v1.87h-2.0zM401.7 162.95h4.0v1.87h-4.0zM443.8 162.95h2.0v1.87h-2.0zM493.9 162.95h2.0v1.87h-2.0zM315.5 164.82h2.0v1.87h-2.0zM323.5 164.82h2.0v1.87h-2.0zM329.5 164.82h2.0v1.87h-2.0zM333.5 164.82h2.0v1.87h-2.0zM339.5 164.82h4.0v1.87h-4.0zM345.6 164.82h6.0v1.87h-6.0zM353.6 164.82h2.0v1.87h-2.0zM359.6 164.82h8.0v1.87h-8.0zM371.6 164.82h2.0v1.87h-2.0zM379.6 164.82h2.0v1.87h-2.0zM395.7 164.82h2.0v1.87h-2.0zM417.7 164.82h2.0v1.87h-2.0zM443.8 164.82h6.0v1.87h-6.0zM465.8 164.82h2.0v1.87h-2.0zM493.9 164.82h2.0v1.87h-2.0zM315.5 166.69h4.0v1.87h-4.0zM329.5 166.69h4.0v1.87h-4.0zM335.5 166.69h8.0v1.87h-8.0zM345.6 166.69h2.0v1.87h-2.0zM351.6 166.69h2.0v1.87h-2.0zM359.6 166.69h2.0v1.87h-2.0zM365.6 166.69h2.0v1.87h-2.0zM375.6 166.69h4.0v1.87h-4.0zM395.7 166.69h2.0v1.87h-2.0zM401.7 166.69h2.0v1.87h-2.0zM417.7 166.69h2.0v1.87h-2.0zM433.7 166.69h2.0v1.87h-2.0zM453.8 166.69h4.0v1.87h-4.0zM465.8 166.69h2.0v1.87h-2.0zM485.8 166.69h2.0v1.87h-2.0zM315.5 168.56h2.0v1.87h-2.0zM325.5 168.56h4.0v1.87h-4.0zM335.5 168.56h4.0v1.87h-4.0zM343.6 168.56h4.0v1.87h-4.0zM349.6 168.56h2.0v1.87h-2.0zM369.6 168.56h8.0v1.87h-8.0zM383.6 168.56h8.0v1.87h-8.0zM397.7 168.56h6.0v1.87h-6.0zM433.7 168.56h2.0v1.87h-2.0zM439.7 168.56h6.0v1.87h-6.0zM467.8 168.56h2.0v1.87h-2.0zM489.8 168.56h4.0v1.87h-4.0zM511.9 168.56h2.0v1.87h-2.0zM319.5 170.43h2.0v1.87h-2.0zM325.5 170.43h4.0v1.87h-4.0zM333.5 170.43h6.0v1.87h-6.0zM341.6 170.43h2.0v1.87h-2.0zM347.6 170.43h2.0v1.87h-2.0zM351.6 170.43h2.0v1.87h-2.0zM355.6 170.43h2.0v1.87h-2.0zM359.6 170.43h4.0v1.87h-4.0zM373.6 170.43h2.0v1.87h-2.0zM381.6 170.43h2.0v1.87h-2.0zM387.6 170.43h4.0v1.87h-4.0zM395.7 170.43h2.0v1.87h-2.0zM449.8 170.43h2.0v1.87h-2.0zM459.8 170.43h2.0v1.87h-2.0zM487.8 170.43h2.0v1.87h-2.0zM497.9 170.43h2.0v1.87h-2.0zM315.5 172.30h2.0v1.87h-2.0zM319.5 172.30h8.0v1.87h-8.0zM335.5 172.30h2.0v1.87h-2.0zM339.5 172.30h6.0v1.87h-6.0zM351.6 172.30h2.0v1.87h-2.0zM367.6 172.30h2.0v1.87h-2.0zM373.6 172.30h2.0v1.87h-2.0zM391.7 172.30h6.0v1.87h-6.0zM399.7 172.30h2.0v1.87h-2.0zM403.7 172.30h2.0v1.87h-2.0zM407.7 172.30h2.0v1.87h-2.0zM421.7 172.30h2.0v1.87h-2.0zM431.7 172.30h2.0v1.87h-2.0zM435.7 172.30h6.0v1.87h-6.0zM489.8 172.30h2.0v1.87h-2.0zM497.9 172.30h2.0v1.87h-2.0zM509.9 172.30h2.0v1.87h-2.0zM315.5 174.17h2.0v1.87h-2.0zM319.5 174.17h4.0v1.87h-4.0zM325.5 174.17h8.0v1.87h-8.0zM337.5 174.17h2.0v1.87h-2.0zM341.6 174.17h2.0v1.87h-2.0zM345.6 174.17h4.0v1.87h-4.0zM351.6 174.17h4.0v1.87h-4.0zM359.6 174.17h2.0v1.87h-2.0zM365.6 174.17h4.0v1.87h-4.0zM371.6 174.17h4.0v1.87h-4.0zM391.7 174.17h6.0v1.87h-6.0zM399.7 174.17h2.0v1.87h-2.0zM405.7 174.17h2.0v1.87h-2.0zM409.7 174.17h2.0v1.87h-2.0zM419.7 174.17h2.0v1.87h-2.0zM425.7 174.17h2.0v1.87h-2.0zM429.7 174.17h2.0v1.87h-2.0zM439.7 174.17h2.0v1.87h-2.0zM447.8 174.17h2.0v1.87h-2.0zM455.8 174.17h2.0v1.87h-2.0zM461.8 174.17h2.0v1.87h-2.0zM489.8 174.17h2.0v1.87h-2.0zM493.9 174.17h4.0v1.87h-4.0zM315.5 176.04h4.0v1.87h-4.0zM321.5 176.04h4.0v1.87h-4.0zM329.5 176.04h2.0v1.87h-2.0zM333.5 176.04h6.0v1.87h-6.0zM353.6 176.04h4.0v1.87h-4.0zM367.6 176.04h4.0v1.87h-4.0zM373.6 176.04h2.0v1.87h-2.0zM389.6 176.04h2.0v1.87h-2.0zM403.7 176.04h2.0v1.87h-2.0zM407.7 176.04h4.0v1.87h-4.0zM417.7 176.04h2.0v1.87h-2.0zM423.7 176.04h2.0v1.87h-2.0zM459.8 176.04h2.0v1.87h-2.0zM487.8 176.04h4.0v1.87h-4.0zM495.9 176.04h2.0v1.87h-2.0zM321.5 177.91h4.0v1.87h-4.0zM329.5 177.91h4.0v1.87h-4.0zM337.5 177.91h2.0v1.87h-2.0zM343.6 177.91h2.0v1.87h-2.0zM357.6 177.91h2.0v1.87h-2.0zM363.6 177.91h4.0v1.87h-4.0zM369.6 177.91h2.0v1.87h-2.0zM373.6 177.91h2.0v1.87h-2.0zM389.6 177.91h2.0v1.87h-2.0zM407.7 177.91h4.0v1.87h-4.0zM417.7 177.91h2.0v1.87h-2.0zM421.7 177.91h2.0v1.87h-2.0zM441.8 177.91h2.0v1.87h-2.0zM461.8 177.91h2.0v1.87h-2.0zM489.8 177.91h2.0v1.87h-2.0zM493.9 177.91h2.0v1.87h-2.0zM319.5 179.78h2.0v1.87h-2.0zM323.5 179.78h2.0v1.87h-2.0zM329.5 179.78h2.0v1.87h-2.0zM337.5 179.78h2.0v1.87h-2.0zM351.6 179.78h2.0v1.87h-2.0zM359.6 179.78h2.0v1.87h-2.0zM367.6 179.78h2.0v1.87h-2.0zM371.6 179.78h2.0v1.87h-2.0zM375.6 179.78h2.0v1.87h-2.0zM393.7 179.78h2.0v1.87h-2.0zM397.7 179.78h6.0v1.87h-6.0zM407.7 179.78h2.0v1.87h-2.0zM447.8 179.78h4.0v1.87h-4.0zM467.8 179.78h2.0v1.87h-2.0zM487.8 179.78h2.0v1.87h-2.0zM507.9 179.78h2.0v1.87h-2.0zM315.5 181.65h2.0v1.87h-2.0zM329.5 181.65h2.0v1.87h-2.0zM349.6 181.65h2.0v1.87h-2.0zM355.6 181.65h4.0v1.87h-4.0zM361.6 181.65h10.0v1.87h-10.0zM377.6 181.65h2.0v1.87h-2.0zM381.6 181.65h6.0v1.87h-6.0zM397.7 181.65h4.0v1.87h-4.0zM441.8 181.65h2.0v1.87h-2.0zM445.8 181.65h2.0v1.87h-2.0zM449.8 181.65h2.0v1.87h-2.0zM465.8 181.65h2.0v1.87h-2.0zM315.5 183.52h2.0v1.87h-2.0zM325.5 183.52h10.0v1.87h-10.0zM341.6 183.52h2.0v1.87h-2.0zM345.6 183.52h2.0v1.87h-2.0zM353.6 183.52h6.0v1.87h-6.0zM363.6 183.52h2.0v1.87h-2.0zM367.6 183.52h2.0v1.87h-2.0zM373.6 183.52h2.0v1.87h-2.0zM383.6 183.52h2.0v1.87h-2.0zM387.6 183.52h2.0v1.87h-2.0zM399.7 183.52h2.0v1.87h-2.0zM437.7 183.52h4.0v1.87h-4.0zM497.9 183.52h2.0v1.87h-2.0zM505.9 183.52h2.0v1.87h-2.0zM315.5 185.39h2.0v1.87h-2.0zM323.5 185.39h4.0v1.87h-4.0zM329.5 185.39h6.0v1.87h-6.0zM341.6 185.39h4.0v1.87h-4.0zM367.6 185.39h2.0v1.87h-2.0zM375.6 185.39h2.0v1.87h-2.0zM381.6 185.39h4.0v1.87h-4.0zM433.7 185.39h6.0v1.87h-6.0zM481.8 185.39h2.0v1.87h-2.0zM495.9 185.39h2.0v1.87h-2.0zM319.5 187.26h4.0v1.87h-4.0zM331.5 187.26h10.0v1.87h-10.0zM351.6 187.26h2.0v1.87h-2.0zM359.6 187.26h2.0v1.87h-2.0zM369.6 187.26h2.0v1.87h-2.0zM379.6 187.26h2.0v1.87h-2.0zM385.6 187.26h2.0v1.87h-2.0zM397.7 187.26h6.0v1.87h-6.0zM413.7 187.26h4.0v1.87h-4.0zM421.7 187.26h2.0v1.87h-2.0zM429.7 187.26h2.0v1.87h-2.0zM435.7 187.26h2.0v1.87h-2.0zM439.7 187.26h4.0v1.87h-4.0zM495.9 187.26h2.0v1.87h-2.0zM513.9 187.26h2.0v1.87h-2.0zM317.5 189.13h2.0v1.87h-2.0zM321.5 189.13h2.0v1.87h-2.0zM333.5 189.13h4.0v1.87h-4.0zM343.6 189.13h6.0v1.87h-6.0zM367.6 189.13h4.0v1.87h-4.0zM411.7 189.13h2.0v1.87h-2.0zM461.8 189.13h2.0v1.87h-2.0zM493.9 189.13h2.0v1.87h-2.0z"/>
<path fill="#689847" d="M331.5 4.00h2.0v1.87h-2.0zM335.5 4.00h2.0v1.87h-2.0zM353.6 4.00h4.0v1.87h-4.0zM361.6 4.00h4.0v1.87h-4.0zM381.6 4.00h2.0v1.87h-2.0zM391.7 4.00h4.0v1.87h-4.0zM397.7 4.00h4.0v1.87h-4.0zM403.7 4.00h2.0v1.87h-2.0zM415.7 4.00h4.0v1.87h-4.0zM423.7 4.00h4.0v1.87h-4.0zM439.7 4.00h2.0v1.87h-2.0zM443.8 4.00h2.0v1.87h-2.0zM449.8 4.00h2.0v1.87h-2.0zM475.8 4.00h2.0v1.87h-2.0zM481.8 4.00h2.0v1.87h-2.0zM497.9 4.00h2.0v1.87h-2.0zM505.9 4.00h2.0v1.87h-2.0zM511.9 4.00h2.0v1.87h-2.0zM337.5 5.87h2.0v1.87h-2.0zM359.6 5.87h4.0v1.87h-4.0zM371.6 5.87h10.0v1.87h-10.0zM389.6 5.87h2.0v1.87h-2.0zM395.7 5.87h2.0v1.87h-2.0zM399.7 5.87h2.0v1.87h-2.0zM405.7 5.87h4.0v1.87h-4.0zM423.7 5.87h2.0v1.87h-2.0zM427.7 5.87h2.0v1.87h-2.0zM433.7 5.87h2.0v1.87h-2.0zM453.8 5.87h2.0v1.87h-2.0zM465.8 5.87h2.0v1.87h-2.0zM471.8 5.87h4.0v1.87h-4.0zM489.8 5.87h2.0v1.87h-2.0zM503.9 5.87h2.0v1.87h-2.0zM315.5 7.74h2.0v1.87h-2.0zM329.5 7.74h2.0v1.87h-2.0zM359.6 7.74h2.0v1.87h-2.0zM363.6 7.74h2.0v1.87h-2.0zM367.6 7.74h2.0v1.87h-2.0zM371.6 7.74h4.0v1.87h-4.0zM377.6 7.74h4.0v1.87h-4.0zM393.7 7.74h2.0v1.87h-2.0zM399.7 7.74h6.0v1.87h-6.0zM419.7 7.74h2.0v1.87h-2.0zM461.8 7.74h6.0v1.87h-6.0zM475.8 7.74h4.0v1.87h-4.0zM487.8 7.74h2.0v1.87h-2.0zM511.9 7.74h2.0v1.87h-2.0zM321.5 9.61h2.0v1.87h-2.0zM325.5 9.61h2.0v1.87h-2.0zM331.5 9.61h4.0v1.87h-4.0zM337.5 9.61h2.0v1.87h-2.0zM345.6 9.61h2.0v1.87h-2.0zM363.6 9.61h2.0v1.87h-2.0zM371.6 9.61h2.0v1.87h-2.0zM377.6 9.61h2.0v1.87h-2.0zM381.6 9.61h2.0v1.87h-2.0zM385.6 9.61h2.0v1.87h-2.0zM391.7 9.61h14.0v1.87h-14.0zM407.7 9.61h2.0v1.87h-2.0zM421.7 9.61h4.0v1.87h-4.0zM431.7 9.61h4.0v1.87h-4.0zM471.8 9.61h2.0v1.87h-2.0zM323.5 11.48h2.0v1.87h-2.0zM333.5 11.48h4.0v1.87h-4.0zM355.6 11.48h2.0v1.87h-2.0zM371.6 11.48h4.0v1.87h-4.0zM393.7 11.48h2.0v1.87h-2.0zM403.7 11.48h4.0v1.87h-4.0zM409.7 11.48h4.0v1.87h-4.0zM423.7 11.48h2.0v1.87h-2.0zM449.8 11.48h2.0v1.87h-2.0zM463.8 11.48h2.0v1.87h-2.0zM471.8 11.48h2.0v1.87h-2.0zM477.8 11.48h2.0v1.87h-2.0zM487.8 11.48h4.0v1.87h-4.0zM509.9 11.48h2.0v1.87h-2.0zM323.5 13.35h2.0v1.87h-2.0zM367.6 13.35h2.0v1.87h-2.0zM385.6 13.35h2.0v1.87h-2.0zM389.6 13.35h6.0v1.87h-6.0zM397.7 13.35h2.0v1.87h-2.0zM403.7 13.35h6.0v1.87h-6.0zM413.7 13.35h2.0v1.87h-2.0zM421.7 13.35h2.0v1.87h-2.0zM425.7 13.35h2.0v1.87h-2.0zM457.8 13.35h2.0v1.87h-2.0zM475.8 13.35h4.0v1.87h-4.0zM501.9 13.35h2.0v1.87h-2.0zM321.5 15.22h2.0v1.87h-2.0zM373.6 15.22h12.0v1.87h-12.0zM389.6 15.22h6.0v1.87h-6.0zM397.7 15.22h2.0v1.87h-2.0zM401.7 15.22h4.0v1.87h-4.0zM409.7 15.22h6.0v1.87h-6.0zM427.7 15.22h4.0v1.87h-4.0zM433.7 15.22h2.0v1.87h-2.0zM459.8 15.22h2.0v1.87h-2.0zM467.8 15.22h2.0v1.87h-2.0zM475.8 15.22h2.0v1.87h-2.0zM317.5 17.09h2.0v1.87h-2.0zM325.5 17.09h2.0v1.87h-2.0zM339.5 17.09h2.0v1.87h-2.0zM347.6 17.09h2.0v1.87h-2.0zM351.6 17.09h2.0v1.87h-2.0zM373.6 17.09h2.0v1.87h-2.0zM377.6 17.09h4.0v1.87h-4.0zM383.6 17.09h2.0v1.87h-2.0zM399.7 17.09h2.0v1.87h-2.0zM403.7 17.09h2.0v1.87h-2.0zM407.7 17.09h2.0v1.87h-2.0zM411.7 17.09h2.0v1.87h-2.0zM415.7 17.09h2.0v1.87h-2.0zM419.7 17.09h2.0v1.87h-2.0zM425.7 17.09h2.0v1.87h-2.0zM433.7 17.09h6.0v1.87h-6.0zM445.8 17.09h4.0v1.87h-4.0zM455.8 17.09h2.0v1.87h-2.0zM461.8 17.09h2.0v1.87h-2.0zM485.8 17.09h2.0v1.87h-2.0zM491.9 17.09h2.0v1.87h-2.0zM509.9 17.09h2.0v1.87h-2.0zM315.5 18.96h4.0v1.87h-4.0zM337.5 18.96h4.0v1.87h-4.0zM345.6 18.96h4.0v1.87h-4.0zM355.6 18.96h4.0v1.87h-4.0zM373.6 18.96h2.0v1.87h-2.0zM391.7 18.96h2.0v1.87h-2.0zM403.7 18.96h10.0v1.87h-10.0zM415.7 18.96h2.0v1.87h-2.0zM425.7 18.96h2.0v1.87h-2.0zM431.7 18.96h4.0v1.87h-4.0zM445.8 18.96h2.0v1.87h-2.0zM463.8 18.96h2.0v1.87h-2.0zM469.8 18.96h6.0v1.87h-6.0zM499.9 18.96h6.0v1.87h-6.0zM507.9 18.96h2.0v1.87h-2.0zM511.9 18.96h2.0v1.87h-2.0zM315.5 20.83h2.0v1.87h-2.0zM339.5 20.83h2.0v1.87h-2.0zM355.6 20.83h2.0v1.87h-2.0zM367.6 20.83h2.0v1.87h-2.0zM371.6 20.83h4.0v1.87h-4.0zM383.6 20.83h2.0v1.87h-2.0zM389.6 20.83h2.0v1.87h-2.0zM401.7 20.83h2.0v1.87h-2.0zM411.7 20.83h4.0v1.87h-4.0zM423.7 20.83h2.0v1.87h-2.0zM433.7 20.83h2.0v1.87h-2.0zM449.8 20.83h2.0v1.87h-2.0zM459.8 20.83h2.0v1.87h-2.0zM471.8 20.83h2.0v1.87h-2.0zM485.8 20.83h2.0v1.87h-2.0zM491.9 20.83h4.0v1.87h-4.0zM499.9 20.83h2.0v1.87h-2.0zM505.9 20.83h2.0v1.87h-2.0zM509.9 20.83h6.0v1.87h-6.0zM315.5 22.70h2.0v1.87h-2.0zM321.5 22.70h2.0v1.87h-2.0zM333.5 22.70h2.0v1.87h-2.0zM339.5 22.70h2.0v1.87h-2.0zM361.6 22.70h2.0v1.87h-2.0zM377.6 22.70h2.0v1.87h-2.0zM383.6 22.70h2.0v1.87h-2.0zM387.6 22.70h2.0v1.87h-2.0zM405.7 22.70h2.0v1.87h-2.0zM411.7 22.70h2.0v1.87h-2.0zM415.7 22.70h4.0v1.87h-4.0zM449.8 22.70h2.0v1.87h-2.0zM455.8 22.70h2.0v1.87h-2.0zM467.8 22.70h2.0v1.87h-2.0zM331.5 24.57h2.0v1.87h-2.0zM339.5 24.57h6.0v1.87h-6.0zM353.6 24.57h2.0v1.87h-2.0zM363.6 24.57h4.0v1.87h-4.0zM383.6 24.57h4.0v1.87h-4.0zM393.7 24.57h2.0v1.87h-2.0zM405.7 24.57h6.0v1.87h-6.0zM427.7 24.57h2.0v1.87h-2.0zM435.7 24.57h2.0v1.87h-2.0zM449.8 24.57h2.0v1.87h-2.0zM459.8 24.57h2.0v1.87h-2.0zM471.8 24.57h2.0v1.87h-2.0zM483.8 24.57h2.0v1.87h-2.0zM487.8 24.57h2.0v1.87h-2.0zM493.9 24.57h2.0v1.87h-2.0zM315.5 26.44h2.0v1.87h-2.0zM319.5 26.44h2.0v1.87h-2.0zM345.6 26.44h2.0v1.87h-2.0zM371.6 26.44h2.0v1.87h-2.0zM389.6 26.44h6.0v1.87h-6.0zM407.7 26.44h4.0v1.87h-4.0zM415.7 26.44h2.0v1.87h-2.0zM431.7 26.44h2.0v1.87h-2.0zM447.8 26.44h2.0v1.87h-2.0zM465.8 26.44h2.0v1.87h-2.0zM505.9 26.44h2.0v1.87h-2.0zM315.5 28.31h2.0v1.87h-2.0zM325.5 28.31h2.0v1.87h-2.0zM363.6 28.31h2.0v1.87h-2.0zM367.6 28.31h4.0v1.87h-4.0zM375.6 28.31h2.0v1.87h-2.0zM381.6 28.31h2.0v1.87h-2.0zM385.6 28.31h6.0v1.87h-6.0zM393.7 28.31h4.0v1.87h-4.0zM407.7 28.31h2.0v1.87h-2.0zM415.7 28.31h2.0v1.87h-2.0zM431.7 28.31h2.0v1.87h-2.0zM437.7 28.31h2.0v1.87h-2.0zM467.8 28.31h2.0v1.87h-2.0zM485.8 28.31h2.0v1.87h-2.0zM513.9 28.31h2.0v1.87h-2.0zM315.5 30.18h2.0v1.87h-2.0zM383.6 30.18h6.0v1.87h-6.0zM393.7 30.18h6.0v1.87h-6.0zM403.7 30.18h2.0v1.87h-2.0zM409.7 30.18h2.0v1.87h-2.0zM415.7 30.18h2.0v1.87h-2.0zM425.7 30.18h6.0v1.87h-6.0zM445.8 30.18h2.0v1.87h-2.0zM453.8 30.18h2.0v1.87h-2.0zM467.8 30.18h2.0v1.87h-2.0zM315.5 32.05h2.0v1.87h-2.0zM367.6 32.05h2.0v1.87h-2.0zM381.6 32.05h8.0v1.87h-8.0zM397.7 32.05h2.0v1.87h-2.0zM401.7 32.05h2.0v1.87h-2.0zM407.7 32.05h2.0v1.87h-2.0zM425.7 32.05h4.0v1.87h-4.0zM433.7 32.05h2.0v1.87h-2.0zM439.7 32.05h2.0v1.87h-2.0zM447.8 32.05h2.0v1.87h-2.0zM453.8 32.05h2.0v1.87h-2.0zM457.8 32.05h2.0v1.87h-2.0zM509.9 32.05h2.0v1.87h-2.0zM331.5 33.92h2.0v1.87h-2.0zM379.6 33.92h4.0v1.87h-4.0zM385.6 33.92h2.0v1.87h-2.0zM395.7 33.92h2.0v1.87h-2.0zM405.7 33.92h8.0v1.87h-8.0zM421.7 33.92h2.0v1.87h-2.0zM429.7 33.92h2.0v1.87h-2.0zM439.7 33.92h4.0v1.87h-4.0zM449.8 33.92h2.0v1.87h-2.0zM455.8 33.92h2.0v1.87h-2.0zM465.8 33.92h2.0v1.87h-2.0zM317.5 35.79h2.0v1.87h-2.0zM363.6 35.79h4.0v1.87h-4.0zM385.6 35.79h2.0v1.87h-2.0zM401.7 35.79h2.0v1.87h-2.0zM409.7 35.79h4.0v1.87h-4.0zM419.7 35.79h4.0v1.87h-4.0zM439.7 35.79h2.0v1.87h-2.0zM453.8 35.79h2.0v1.87h-2.0zM459.8 35.79h2.0v1.87h-2.0zM463.8 35.79h2.0v1.87h-2.0zM509.9 35.79h4.0v1.87h-4.0zM353.6 37.66h2.0v1.87h-2.0zM361.6 37.66h2.0v1.87h-2.0zM369.6 37.66h2.0v1.87h-2.0zM377.6 37.66h2.0v1.87h-2.0zM385.6 37.66h2.0v1.87h-2.0zM389.6 37.66h4.0v1.87h-4.0zM401.7 37.66h2.0v1.87h-2.0zM405.7 37.66h2.0v1.87h-2.0zM411.7 37.66h4.0v1.87h-4.0zM423.7 37.66h2.0v1.87h-2.0zM429.7 37.66h4.0v1.87h-4.0zM447.8 37.66h2.0v1.87h-2.0zM455.8 37.66h4.0v1.87h-4.0zM471.8 37.66h2.0v1.87h-2.0zM489.8 37.66h2.0v1.87h-2.0zM493.9 37.66h2.0v1.87h-2.0zM503.9 37.66h2.0v1.87h-2.0zM511.9 37.66h2.0v1.87h-2.0zM321.5 39.53h2.0v1.87h-2.0zM339.5 39.53h2.0v1.87h-2.0zM377.6 39.53h2.0v1.87h-2.0zM391.7 39.53h2.0v1.87h-2.0zM395.7 39.53h4.0v1.87h-4.0zM401.7 39.53h6.0v1.87h-6.0zM411.7 39.53h6.0v1.87h-6.0zM421.7 39.53h4.0v1.87h-4.0zM427.7 39.53h2.0v1.87h-2.0zM433.7 39.53h6.0v1.87h-6.0zM441.8 39.53h4.0v1.87h-4.0zM449.8 39.53h2.0v1.87h-2.0zM453.8 39.53h6.0v1.87h-6.0zM461.8 39.53h2.0v1.87h-2.0zM477.8 39.53h2.0v1.87h-2.0zM487.8 39.53h2.0v1.87h-2.0zM501.9 39.53h2.0v1.87h-2.0zM333.5 41.40h2.0v1.87h-2.0zM337.5 41.40h2.0v1.87h-2.0zM347.6 41.40h2.0v1.87h-2.0zM361.6 41.40h2.0v1.87h-2.0zM371.6 41.40h6.0v1.87h-6.0zM379.6 41.40h2.0v1.87h-2.0zM383.6 41.40h2.0v1.87h-2.0zM395.7 41.40h2.0v1.87h-2.0zM399.7 41.40h2.0v1.87h-2.0zM407.7 41.40h2.0v1.87h-2.0zM413.7 41.40h2.0v1.87h-2.0zM431.7 41.40h2.0v1.87h-2.0zM447.8 41.40h4.0v1.87h-4.0zM455.8 41.40h6.0v1.87h-6.0zM471.8 41.40h2.0v1.87h-2.0zM501.9 41.40h2.0v1.87h-2.0zM507.9 41.40h2.0v1.87h-2.0zM327.5 43.27h4.0v1.87h-4.0zM347.6 43.27h6.0v1.87h-6.0zM361.6 43.27h2.0v1.87h-2.0zM377.6 43.27h2.0v1.87h-2.0zM389.6 43.27h2.0v1.87h-2.0zM395.7 43.27h6.0v1.87h-6.0zM405.7 43.27h4.0v1.87h-4.0zM411.7 43.27h6.0v1.87h-6.0zM431.7 43.27h2.0v1.87h-2.0zM453.8 43.27h2.0v1.87h-2.0zM457.8 43.27h2.0v1.87h-2.0zM467.8 43.27h2.0v1.87h-2.0zM513.9 43.27h2.0v1.87h-2.0zM321.5 45.14h2.0v1.87h-2.0zM327.5 45.14h2.0v1.87h-2.0zM363.6 45.14h2.0v1.87h-2.0zM379.6 45.14h4.0v1.87h-4.0zM389.6 45.14h2.0v1.87h-2.0zM397.7 45.14h4.0v1.87h-4.0zM415.7 45.14h2.0v1.87h-2.0zM421.7 45.14h4.0v1.87h-4.0zM445.8 45.14h4.0v1.87h-4.0zM451.8 45.14h2.0v1.87h-2.0zM505.9 45.14h8.0v1.87h-8.0zM351.6 47.01h2.0v1.87h-2.0zM355.6 47.01h4.0v1.87h-4.0zM361.6 47.01h2.0v1.87h-2.0zM365.6 47.01h2.0v1.87h-2.0zM375.6 47.01h2.0v1.87h-2.0zM385.6 47.01h2.0v1.87h-2.0zM389.6 47.01h4.0v1.87h-4.0zM395.7 47.01h4.0v1.87h-4.0zM401.7 47.01h2.0v1.87h-2.0zM415.7 47.01h6.0v1.87h-6.0zM423.7 47.01h2.0v1.87h-2.0zM429.7 47.01h8.0v1.87h-8.0zM439.7 47.01h2.0v1.87h-2.0zM461.8 47.01h2.0v1.87h-2.0zM471.8 47.01h2.0v1.87h-2.0zM511.9 47.01h2.0v1.87h-2.0zM319.5 48.88h4.0v1.87h-4.0zM337.5 48.88h2.0v1.87h-2.0zM345.6 48.88h2.0v1.87h-2.0zM359.6 48.88h10.0v1.87h-10.0zM377.6 48.88h12.0v1.87h-12.0zM391.7 48.88h2.0v1.87h-2.0zM395.7 48.88h2.0v1.87h-2.0zM405.7 48.88h6.0v1.87h-6.0zM419.7 48.88h2.0v1.87h-2.0zM427.7 48.88h2.0v1.87h-2.0zM433.7 48.88h2.0v1.87h-2.0zM441.8 48.88h2.0v1.87h-2.0zM447.8 48.88h2.0v1.87h-2.0zM461.8 48.88h4.0v1.87h-4.0zM467.8 48.88h2.0v1.87h-2.0zM473.8 48.88h2.0v1.87h-2.0zM493.9 48.88h8.0v1.87h-8.0zM327.5 50.75h6.0v1.87h-6.0zM361.6 50.75h2.0v1.87h-2.0zM365.6 50.75h2.0v1.87h-2.0zM369.6 50.75h2.0v1.87h-2.0zM373.6 50.75h6.0v1.87h-6.0zM383.6 50.75h4.0v1.87h-4.0zM389.6 50.75h2.0v1.87h-2.0zM405.7 50.75h4.0v1.87h-4.0zM419.7 50.75h2.0v1.87h-2.0zM433.7 50.75h2.0v1.87h-2.0zM439.7 50.75h4.0v1.87h-4.0zM449.8 50.75h2.0v1.87h-2.0zM463.8 50.75h4.0v1.87h-4.0zM471.8 50.75h2.0v1.87h-2.0zM493.9 50.75h2.0v1.87h-2.0zM503.9 50.75h2.0v1.87h-2.0zM507.9 50.75h2.0v1.87h-2.0zM511.9 50.75h2.0v1.87h-2.0zM315.5 52.62h2.0v1.87h-2.0zM319.5 52.62h4.0v1.87h-4.0zM327.5 52.62h4.0v1.87h-4.0zM345.6 52.62h4.0v1.87h-4.0zM363.6 52.62h4.0v1.87h-4.0zM371.6 52.62h4.0v1.87h-4.0zM381.6 52.62h2.0v1.87h-2.0zM385.6 52.62h2.0v1.87h-2.0zM389.6 52.62h2.0v1.87h-2.0zM395.7 52.62h4.0v1.87h-4.0zM401.7 52.62h4.0v1.87h-4.0zM407.7 52.62h2.0v1.87h-2.0zM415.7 52.62h2.0v1.87h-2.0zM425.7 52.62h6.0v1.87h-6.0zM433.7 52.62h4.0v1.87h-4.0zM439.7 52.62h4.0v1.87h-4.0zM449.8 52.62h2.0v1.87h-2.0zM479.8 52.62h2.0v1.87h-2.0zM487.8 52.62h2.0v1.87h-2.0zM491.9 52.62h2.0v1.87h-2.0zM321.5 54.49h4.0v1.87h-4.0zM341.6 54.49h2.0v1.87h-2.0zM355.6 54.49h2.0v1.87h-2.0zM359.6 54.49h2.0v1.87h-2.0zM367.6 54.49h2.0v1.87h-2.0zM377.6 54.49h4.0v1.87h-4.0zM391.7 54.49h4.0v1.87h-4.0zM397.7 54.49h4.0v1.87h-4.0zM421.7 54.49h4.0v1.87h-4.0zM429.7 54.49h2.0v1.87h-2.0zM441.8 54.49h2.0v1.87h-2.0zM447.8 54.49h2.0v1.87h-2.0zM451.8 54.49h2.0v1.87h-2.0zM457.8 54.49h4.0v1.87h-4.0zM463.8 54.49h2.0v1.87h-2.0zM477.8 54.49h6.0v1.87h-6.0zM503.9 54.49h2.0v1.87h-2.0zM329.5 56.36h2.0v1.87h-2.0zM335.5 56.36h2.0v1.87h-2.0zM373.6 56.36h2.0v1.87h-2.0zM377.6 56.36h4.0v1.87h-4.0zM383.6 56.36h2.0v1.87h-2.0zM397.7 56.36h2.0v1.87h-2.0zM401.7 56.36h2.0v1.87h-2.0zM407.7 56.36h2.0v1.87h-2.0zM415.7 56.36h2.0v1.87h-2.0zM425.7 56.36h6.0v1.87h-6.0zM439.7 56.36h2.0v1.87h-2.0zM443.8 56.36h2.0v1.87h-2.0zM455.8 56.36h2.0v1.87h-2.0zM479.8 56.36h4.0v1.87h-4.0zM507.9 56.36h4.0v1.87h-4.0zM337.5 58.23h4.0v1.87h-4.0zM359.6 58.23h2.0v1.87h-2.0zM365.6 58.23h2.0v1.87h-2.0zM381.6 58.23h6.0v1.87h-6.0zM389.6 58.23h2.0v1.87h-2.0zM393.7 58.23h2.0v1.87h-2.0zM401.7 58.23h6.0v1.87h-6.0zM411.7 58.23h2.0v1.87h-2.0zM427.7 58.23h4.0v1.87h-4.0zM435.7 58.23h8.0v1.87h-8.0zM457.8 58.23h2.0v1.87h-2.0zM461.8 58.23h2.0v1.87h-2.0zM469.8 58.23h2.0v1.87h-2.0zM481.8 58.23h2.0v1.87h-2.0zM493.9 58.23h2.0v1.87h-2.0zM511.9 58.23h4.0v1.87h-4.0zM329.5 60.10h2.0v1.87h-2.0zM341.6 60.10h8.0v1.87h-8.0zM351.6 60.10h2.0v1.87h-2.0zM355.6 60.10h2.0v1.87h-2.0zM359.6 60.10h4.0v1.87h-4.0zM365.6 60.10h2.0v1.87h-2.0zM375.6 60.10h2.0v1.87h-2.0zM379.6 60.10h2.0v1.87h-2.0zM383.6 60.10h2.0v1.87h-2.0zM387.6 60.10h8.0v1.87h-8.0zM407.7 60.10h2.0v1.87h-2.0zM411.7 60.10h2.0v1.87h-2.0zM433.7 60.10h2.0v1.87h-2.0zM437.7 60.10h2.0v1.87h-2.0zM441.8 60.10h2.0v1.87h-2.0zM461.8 60.10h2.0v1.87h-2.0zM467.8 60.10h2.0v1.87h-2.0zM481.8 60.10h4.0v1.87h-4.0zM489.8 60.10h2.0v1.87h-2.0zM499.9 60.10h2.0v1.87h-2.0zM505.9 60.10h2.0v1.87h-2.0zM317.5 61.97h2.0v1.87h-2.0zM335.5 61.97h6.0v1.87h-6.0zM353.6 61.97h2.0v1.87h-2.0zM363.6 61.97h2.0v1.87h-2.0zM373.6 61.97h4.0v1.87h-4.0zM387.6 61.97h8.0v1.87h-8.0zM405.7 61.97h2.0v1.87h-2.0zM411.7 61.97h2.0v1.87h-2.0zM419.7 61.97h2.0v1.87h-2.0zM425.7 61.97h4.0v1.87h-4.0zM437.7 61.97h2.0v1.87h-2.0zM441.8 61.97h4.0v1.87h-4.0zM449.8 61.97h2.0v1.87h-2.0zM455.8 61.97h2.0v1.87h-2.0zM461.8 61.97h4.0v1.87h-4.0zM485.8 61.97h2.0v1.87h-2.0zM501.9 61.97h2.0v1.87h-2.0zM511.9 61.97h2.0v1.87h-2.0zM329.5 63.84h4.0v1.87h-4.0zM335.5 63.84h4.0v1.87h-4.0zM347.6 63.84h4.0v1.87h-4.0zM355.6 63.84h8.0v1.87h-8.0zM369.6 63.84h2.0v1.87h-2.0zM379.6 63.84h4.0v1.87h-4.0zM387.6 63.84h2.0v1.87h-2.0zM401.7 63.84h2.0v1.87h-2.0zM405.7 63.84h2.0v1.87h-2.0zM411.7 63.84h6.0v1.87h-6.0zM419.7 63.84h4.0v1.87h-4.0zM427.7 63.84h2.0v1.87h-2.0zM431.7 63.84h2.0v1.87h-2.0zM435.7 63.84h2.0v1.87h-2.0zM443.8 63.84h2.0v1.87h-2.0zM447.8 63.84h2.0v1.87h-2.0zM451.8 63.84h2.0v1.87h-2.0zM463.8 63.84h2.0v1.87h-2.0zM473.8 63.84h6.0v1.87h-6.0zM485.8 63.84h2.0v1.87h-2.0zM495.9 63.84h2.0v1.87h-2.0zM511.9 63.84h2.0v1.87h-2.0zM325.5 65.71h2.0v1.87h-2.0zM335.5 65.71h2.0v1.87h-2.0zM347.6 65.71h2.0v1.87h-2.0zM359.6 65.71h2.0v1.87h-2.0zM363.6 65.71h4.0v1.87h-4.0zM373.6 65.71h6.0v1.87h-6.0zM381.6 65.71h4.0v1.87h-4.0zM391.7 65.71h2.0v1.87h-2.0zM405.7 65.71h2.0v1.87h-2.0zM413.7 65.71h2.0v1.87h-2.0zM419.7 65.71h4.0v1.87h-4.0zM429.7 65.71h2.0v1.87h-2.0zM439.7 65.71h2.0v1.87h-2.0zM469.8 65.71h2.0v1.87h-2.0zM475.8 65.71h2.0v1.87h-2.0zM479.8 65.71h2.0v1.87h-2.0zM491.9 65.71h2.0v1.87h-2.0zM503.9 65.71h2.0v1.87h-2.0zM509.9 65.71h2.0v1.87h-2.0zM333.5 67.58h2.0v1.87h-2.0zM337.5 67.58h2.0v1.87h-2.0zM353.6 67.58h2.0v1.87h-2.0zM357.6 67.58h2.0v1.87h-2.0zM361.6 67.58h4.0v1.87h-4.0zM367.6 67.58h6.0v1.87h-6.0zM375.6 67.58h4.0v1.87h-4.0zM381.6 67.58h2.0v1.87h-2.0zM385.6 67.58h2.0v1.87h-2.0zM395.7 67.58h4.0v1.87h-4.0zM407.7 67.58h6.0v1.87h-6.0zM417.7 67.58h2.0v1.87h-2.0zM429.7 67.58h4.0v1.87h-4.0zM435.7 67.58h2.0v1.87h-2.0zM445.8 67.58h2.0v1.87h-2.0zM449.8 67.58h8.0v1.87h-8.0zM471.8 67.58h2.0v1.87h-2.0zM481.8 67.58h2.0v1.87h-2.0zM495.9 67.58h2.0v1.87h-2.0zM501.9 67.58h4.0v1.87h-4.0zM507.9 67.58h2.0v1.87h-2.0zM337.5 69.45h2.0v1.87h-2.0zM347.6 69.45h2.0v1.87h-2.0zM357.6 69.45h4.0v1.87h-4.0zM363.6 69.45h10.0v1.87h-10.0zM379.6 69.45h2.0v1.87h-2.0zM383.6 69.45h2.0v1.87h-2.0zM389.6 69.45h4.0v1.87h-4.0zM401.7 69.45h4.0v1.87h-4.0zM407.7 69.45h4.0v1.87h-4.0zM423.7 69.45h2.0v1.87h-2.0zM431.7 69.45h2.0v1.87h-2.0zM435.7 69.45h2.0v1.87h-2.0zM445.8 69.45h4.0v1.87h-4.0zM451.8 69.45h4.0v1.87h-4.0zM457.8 69.45h4.0v1.87h-4.0zM467.8 69.45h2.0v1.87h-2.0zM475.8 69.45h6.0v1.87h-6.0zM497.9 69.45h2.0v1.87h-2.0zM511.9 69.45h2.0v1.87h-2.0zM325.5 71.32h2.0v1.87h-2.0zM339.5 71.32h2.0v1.87h-2.0zM343.6 71.32h2.0v1.87h-2.0zM347.6 71.32h4.0v1.87h-4.0zM355.6 71.32h4.0v1.87h-4.0zM365.6 71.32h2.0v1.87h-2.0zM373.6 71.32h2.0v1.87h-2.0zM379.6 71.32h2.0v1.87h-2.0zM383.6 71.32h4.0v1.87h-4.0zM391.7 71.32h4.0v1.87h-4.0zM403.7 71.32h2.0v1.87h-2.0zM411.7 71.32h2.0v1.87h-2.0zM423.7 71.32h4.0v1.87h-4.0zM431.7 71.32h8.0v1.87h-8.0zM445.8 71.32h4.0v1.87h-4.0zM477.8 71.32h4.0v1.87h-4.0zM487.8 71.32h4.0v1.87h-4.0zM505.9 71.32h2.0v1.87h-2.0zM511.9 71.32h2.0v1.87h-2.0zM315.5 73.19h4.0v1.87h-4.0zM331.5 73.19h2.0v1.87h-2.0zM337.5 73.19h4.0v1.87h-4.0zM359.6 73.19h2.0v1.87h-2.0zM365.6 73.19h6.0v1.87h-6.0zM379.6 73.19h2.0v1.87h-2.0zM383.6 73.19h2.0v1.87h-2.0zM389.6 73.19h2.0v1.87h-2.0zM393.7 73.19h2.0v1.87h-2.0zM405.7 73.19h4.0v1.87h-4.0zM411.7 73.19h2.0v1.87h-2.0zM415.7 73.19h2.0v1.87h-2.0zM421.7 73.19h4.0v1.87h-4.0zM431.7 73.19h6.0v1.87h-6.0zM443.8 73.19h2.0v1.87h-2.0zM447.8 73.19h2.0v1.87h-2.0zM451.8 73.19h2.0v1.87h-2.0zM459.8 73.19h2.0v1.87h-2.0zM465.8 73.19h2.0v1.87h-2.0zM475.8 73.19h6.0v1.87h-6.0zM491.9 73.19h2.0v1.87h-2.0zM503.9 73.19h2.0v1.87h-2.0zM509.9 73.19h2.0v1.87h-2.0zM317.5 75.06h2.0v1.87h-2.0zM325.5 75.06h2.0v1.87h-2.0zM349.6 75.06h2.0v1.87h-2.0zM353.6 75.06h2.0v1.87h-2.0zM363.6 75.06h2.0v1.87h-2.0zM369.6 75.06h2.0v1.87h-2.0zM379.6 75.06h2.0v1.87h-2.0zM387.6 75.06h8.0v1.87h-8.0zM397.7 75.06h4.0v1.87h-4.0zM403.7 75.06h12.0v1.87h-12.0zM417.7 75.06h4.0v1.87h-4.0zM425.7 75.06h2.0v1.87h-2.0zM429.7 75.06h2.0v1.87h-2.0zM433.7 75.06h10.0v1.87h-10.0zM459.8 75.06h4.0v1.87h-4.0zM465.8 75.06h2.0v1.87h-2.0zM473.8 75.06h4.0v1.87h-4.0zM489.8 75.06h2.0v1.87h-2.0zM321.5 76.93h2.0v1.87h-2.0zM345.6 76.93h6.0v1.87h-6.0zM365.6 76.93h2.0v1.87h-2.0zM377.6 76.93h4.0v1.87h-4.0zM389.6 76.93h4.0v1.87h-4.0zM397.7 76.93h4.0v1.87h-4.0zM403.7 76.93h4.0v1.87h-4.0zM409.7 76.93h2.0v1.87h-2.0zM419.7 76.93h4.0v1.87h-4.0zM429.7 76.93h2.0v1.87h-2.0zM433.7 76.93h4.0v1.87h-4.0zM441.8 76.93h4.0v1.87h-4.0zM451.8 76.93h4.0v1.87h-4.0zM459.8 76.93h4.0v1.87h-4.0zM465.8 76.93h4.0v1.87h-4.0zM471.8 76.93h4.0v1.87h-4.0zM481.8 76.93h2.0v1.87h-2.0zM497.9 76.93h2.0v1.87h-2.0zM505.9 76.93h4.0v1.87h-4.0zM513.9 76.93h2.0v1.87h-2.0zM319.5 78.80h2.0v1.87h-2.0zM333.5 78.80h4.0v1.87h-4.0zM341.6 78.80h4.0v1.87h-4.0zM347.6 78.80h4.0v1.87h-4.0zM359.6 78.80h2.0v1.87h-2.0zM363.6 78.80h2.0v1.87h-2.0zM379.6 78.80h2.0v1.87h-2.0zM387.6 78.80h4.0v1.87h-4.0zM393.7 78.80h2.0v1.87h-2.0zM399.7 78.80h2.0v1.87h-2.0zM403.7 78.80h6.0v1.87h-6.0zM411.7 78.80h2.0v1.87h-2.0zM423.7 78.80h2.0v1.87h-2.0zM429.7 78.80h6.0v1.87h-6.0zM437.7 78.80h2.0v1.87h-2.0zM457.8 78.80h8.0v1.87h-8.0zM467.8 78.80h2.0v1.87h-2.0zM493.9 78.80h2.0v1.87h-2.0zM499.9 78.80h6.0v1.87h-6.0zM321.5 80.67h2.0v1.87h-2.0zM331.5 80.67h2.0v1.87h-2.0zM361.6 80.67h2.0v1.87h-2.0zM381.6 80.67h2.0v1.87h-2.0zM385.6 80.67h2.0v1.87h-2.0zM391.7 80.67h2.0v1.87h-2.0zM397.7 80.67h4.0v1.87h-4.0zM407.7 80.67h4.0v1.87h-4.0zM413.7 80.67h2.0v1.87h-2.0zM421.7 80.67h2.0v1.87h-2.0zM425.7 80.67h2.0v1.87h-2.0zM433.7 80.67h2.0v1.87h-2.0zM441.8 80.67h2.0v1.87h-2.0zM453.8 80.67h2.0v1.87h-2.0zM457.8 80.67h4.0v1.87h-4.0zM463.8 80.67h14.0v1.87h-14.0zM481.8 80.67h4.0v1.87h-4.0zM489.8 80.67h2.0v1.87h-2.0zM493.9 80.67h4.0v1.87h-4.0zM501.9 80.67h2.0v1.87h-2.0zM505.9 80.67h2.0v1.87h-2.0zM513.9 80.67h2.0v1.87h-2.0zM319.5 82.54h2.0v1.87h-2.0zM333.5 82.54h4.0v1.87h-4.0zM355.6 82.54h2.0v1.87h-2.0zM365.6 82.54h4.0v1.87h-4.0zM373.6 82.54h6.0v1.87h-6.0zM381.6 82.54h2.0v1.87h-2.0zM389.6 82.54h2.0v1.87h-2.0zM397.7 82.54h2.0v1.87h-2.0zM407.7 82.54h4.0v1.87h-4.0zM429.7 82.54h2.0v1.87h-2.0zM437.7 82.54h4.0v1.87h-4.0zM445.8 82.54h2.0v1.87h-2.0zM449.8 82.54h6.0v1.87h-6.0zM461.8 82.54h2.0v1.87h-2.0zM467.8 82.54h4.0v1.87h-4.0zM489.8 82.54h6.0v1.87h-6.0zM503.9 82.54h2.0v1.87h-2.0zM513.9 82.54h2.0v1.87h-2.0zM321.5 84.41h10.0v1.87h-10.0zM333.5 84.41h6.0v1.87h-6.0zM345.6 84.41h2.0v1.87h-2.0zM355.6 84.41h4.0v1.87h-4.0zM363.6 84.41h4.0v1.87h-4.0zM379.6 84.41h4.0v1.87h-4.0zM387.6 84.41h4.0v1.87h-4.0zM395.7 84.41h4.0v1.87h-4.0zM403.7 84.41h6.0v1.87h-6.0zM421.7 84.41h2.0v1.87h-2.0zM439.7 84.41h2.0v1.87h-2.0zM445.8 84.41h2.0v1.87h-2.0zM449.8 84.41h4.0v1.87h-4.0zM455.8 84.41h2.0v1.87h-2.0zM463.8 84.41h4.0v1.87h-4.0zM475.8 84.41h2.0v1.87h-2.0zM479.8 84.41h2.0v1.87h-2.0zM483.8 84.41h2.0v1.87h-2.0zM487.8 84.41h2.0v1.87h-2.0zM507.9 84.41h2.0v1.87h-2.0zM513.9 84.41h2.0v1.87h-2.0zM315.5 86.28h2.0v1.87h-2.0zM321.5 86.28h2.0v1.87h-2.0zM325.5 86.28h4.0v1.87h-4.0zM351.6 86.28h2.0v1.87h-2.0zM357.6 86.28h2.0v1.87h-2.0zM367.6 86.28h4.0v1.87h-4.0zM377.6 86.28h2.0v1.87h-2.0zM381.6 86.28h4.0v1.87h-4.0zM387.6 86.28h6.0v1.87h-6.0zM395.7 86.28h8.0v1.87h-8.0zM405.7 86.28h4.0v1.87h-4.0zM413.7 86.28h2.0v1.87h-2.0zM419.7 86.28h6.0v1.87h-6.0zM427.7 86.28h4.0v1.87h-4.0zM447.8 86.28h2.0v1.87h-2.0zM457.8 86.28h2.0v1.87h-2.0zM461.8 86.28h2.0v1.87h-2.0zM475.8 86.28h2.0v1.87h-2.0zM479.8 86.28h4.0v1.87h-4.0zM487.8 86.28h2.0v1.87h-2.0zM505.9 86.28h4.0v1.87h-4.0zM511.9 86.28h2.0v1.87h-2.0zM335.5 88.15h2.0v1.87h-2.0zM339.5 88.15h2.0v1.87h-2.0zM359.6 88.15h2.0v1.87h-2.0zM363.6 88.15h2.0v1.87h-2.0zM367.6 88.15h8.0v1.87h-8.0zM377.6 88.15h2.0v1.87h-2.0zM391.7 88.15h2.0v1.87h-2.0zM397.7 88.15h8.0v1.87h-8.0zM409.7 88.15h2.0v1.87h-2.0zM423.7 88.15h2.0v1.87h-2.0zM427.7 88.15h4.0v1.87h-4.0zM441.8 88.15h2.0v1.87h-2.0zM445.8 88.15h2.0v1.87h-2.0zM453.8 88.15h2.0v1.87h-2.0zM457.8 88.15h6.0v1.87h-6.0zM473.8 88.15h2.0v1.87h-2.0zM477.8 88.15h2.0v1.87h-2.0zM483.8 88.15h6.0v1.87h-6.0zM495.9 88.15h4.0v1.87h-4.0zM501.9 88.15h2.0v1.87h-2.0zM323.5 90.02h2.0v1.87h-2.0zM333.5 90.02h2.0v1.87h-2.0zM351.6 90.02h2.0v1.87h-2.0zM355.6 90.02h4.0v1.87h-4.0zM367.6 90.02h4.0v1.87h-4.0zM377.6 90.02h2.0v1.87h-2.0zM385.6 90.02h14.0v1.87h-14.0zM411.7 90.02h4.0v1.87h-4.0zM427.7 90.02h2.0v1.87h-2.0zM433.7 90.02h2.0v1.87h-2.0zM437.7 90.02h2.0v1.87h-2.0zM441.8 90.02h10.0v1.87h-10.0zM453.8 90.02h2.0v1.87h-2.0zM465.8 90.02h2.0v1.87h-2.0zM469.8 90.02h8.0v1.87h-8.0zM481.8 90.02h2.0v1.87h-2.0zM485.8 90.02h2.0v1.87h-2.0zM489.8 90.02h2.0v1.87h-2.0zM499.9 90.02h8.0v1.87h-8.0zM509.9 90.02h6.0v1.87h-6.0zM333.5 91.89h2.0v1.87h-2.0zM337.5 91.89h8.0v1.87h-8.0zM351.6 91.89h10.0v1.87h-10.0zM365.6 91.89h4.0v1.87h-4.0zM379.6 91.89h6.0v1.87h-6.0zM387.6 91.89h4.0v1.87h-4.0zM393.7 91.89h6.0v1.87h-6.0zM405.7 91.89h2.0v1.87h-2.0zM413.7 91.89h2.0v1.87h-2.0zM417.7 91.89h2.0v1.87h-2.0zM421.7 91.89h2.0v1.87h-2.0zM431.7 91.89h2.0v1.87h-2.0zM437.7 91.89h2.0v1.87h-2.0zM443.8 91.89h4.0v1.87h-4.0zM449.8 91.89h2.0v1.87h-2.0zM459.8 91.89h4.0v1.87h-4.0zM465.8 91.89h2.0v1.87h-2.0zM473.8 91.89h2.0v1.87h-2.0zM477.8 91.89h4.0v1.87h-4.0zM483.8 91.89h4.0v1.87h-4.0zM491.9 91.89h4.0v1.87h-4.0zM499.9 91.89h4.0v1.87h-4.0zM505.9 91.89h4.0v1.87h-4.0zM511.9 91.89h2.0v1.87h-2.0zM329.5 93.76h2.0v1.87h-2.0zM339.5 93.76h4.0v1.87h-4.0zM351.6 93.76h4.0v1.87h-4.0zM359.6 93.76h2.0v1.87h-2.0zM363.6 93.76h2.0v1.87h-2.0zM369.6 93.76h4.0v1.87h-4.0zM381.6 93.76h2.0v1.87h-2.0zM387.6 93.76h6.0v1.87h-6.0zM401.7 93.76h2.0v1.87h-2.0zM409.7 93.76h2.0v1.87h-2.0zM413.7 93.76h4.0v1.87h-4.0zM421.7 93.76h2.0v1.87h-2.0zM425.7 93.76h2.0v1.87h-2.0zM429.7 93.76h4.0v1.87h-4.0zM437.7 93.76h4.0v1.87h-4.0zM443.8 93.76h2.0v1.87h-2.0zM449.8 93.76h4.0v1.87h-4.0zM459.8 93.76h2.0v1.87h-2.0zM463.8 93.76h2.0v1.87h-2.0zM469.8 93.76h4.0v1.87h-4.0zM475.8 93.76h2.0v1.87h-2.0zM485.8 93.76h4.0v1.87h-4.0zM491.9 93.76h2.0v1.87h-2.0zM501.9 93.76h10.0v1.87h-10.0zM513.9 93.76h2.0v1.87h-2.0zM349.6 95.63h12.0v1.87h-12.0zM367.6 95.63h6.0v1.87h-6.0zM393.7 95.63h6.0v1.87h-6.0zM409.7 95.63h2.0v1.87h-2.0zM415.7 95.63h2.0v1.87h-2.0zM419.7 95.63h2.0v1.87h-2.0zM423.7 95.63h2.0v1.87h-2.0zM427.7 95.63h2.0v1.87h-2.0zM433.7 95.63h8.0v1.87h-8.0zM467.8 95.63h4.0v1.87h-4.0zM473.8 95.63h4.0v1.87h-4.0zM483.8 95.63h2.0v1.87h-2.0zM489.8 95.63h2.0v1.87h-2.0zM493.9 95.63h2.0v1.87h-2.0zM497.9 95.63h2.0v1.87h-2.0zM503.9 95.63h6.0v1.87h-6.0zM513.9 95.63h2.0v1.87h-2.0zM321.5 97.50h2.0v1.87h-2.0zM333.5 97.50h2.0v1.87h-2.0zM339.5 97.50h2.0v1.87h-2.0zM353.6 97.50h6.0v1.87h-6.0zM369.6 97.50h2.0v1.87h-2.0zM373.6 97.50h2.0v1.87h-2.0zM377.6 97.50h4.0v1.87h-4.0zM383.6 97.50h8.0v1.87h-8.0zM399.7 97.50h2.0v1.87h-2.0zM407.7 97.50h6.0v1.87h-6.0zM419.7 97.50h2.0v1.87h-2.0zM427.7 97.50h2.0v1.87h-2.0zM433.7 97.50h4.0v1.87h-4.0zM439.7 97.50h2.0v1.87h-2.0zM453.8 97.50h4.0v1.87h-4.0zM465.8 97.50h2.0v1.87h-2.0zM469.8 97.50h4.0v1.87h-4.0zM477.8 97.50h8.0v1.87h-8.0zM487.8 97.50h14.0v1.87h-14.0zM505.9 97.50h2.0v1.87h-2.0zM319.5 99.37h2.0v1.87h-2.0zM323.5 99.37h10.0v1.87h-10.0zM335.5 99.37h2.0v1.87h-2.0zM347.6 99.37h4.0v1.87h-4.0zM361.6 99.37h4.0v1.87h-4.0zM379.6 99.37h4.0v1.87h-4.0zM389.6 99.37h6.0v1.87h-6.0zM397.7 99.37h2.0v1.87h-2.0zM403.7 99.37h6.0v1.87h-6.0zM411.7 99.37h2.0v1.87h-2.0zM417.7 99.37h2.0v1.87h-2.0zM435.7 99.37h2.0v1.87h-2.0zM443.8 99.37h2.0v1.87h-2.0zM453.8 99.37h2.0v1.87h-2.0zM473.8 99.37h2.0v1.87h-2.0zM479.8 99.37h2.0v1.87h-2.0zM491.9 99.37h2.0v1.87h-2.0zM497.9 99.37h6.0v1.87h-6.0zM505.9 99.37h4.0v1.87h-4.0zM321.5 101.24h2.0v1.87h-2.0zM331.5 101.24h2.0v1.87h-2.0zM347.6 101.24h4.0v1.87h-4.0zM361.6 101.24h6.0v1.87h-6.0zM371.6 101.24h2.0v1.87h-2.0zM379.6 101.24h4.0v1.87h-4.0zM389.6 101.24h2.0v1.87h-2.0zM395.7 101.24h6.0v1.87h-6.0zM411.7 101.24h4.0v1.87h-4.0zM419.7 101.24h4.0v1.87h-4.0zM425.7 101.24h2.0v1.87h-2.0zM431.7 101.24h2.0v1.87h-2.0zM447.8 101.24h4.0v1.87h-4.0zM453.8 101.24h2.0v1.87h-2.0zM461.8 101.24h6.0v1.87h-6.0zM469.8 101.24h2.0v1.87h-2.0zM475.8 101.24h6.0v1.87h-6.0zM489.8 101.24h4.0v1.87h-4.0zM495.9 101.24h2.0v1.87h-2.0zM499.9 101.24h2.0v1.87h-2.0zM503.9 101.24h2.0v1.87h-2.0zM511.9 101.24h2.0v1.87h-2.0zM323.5 103.11h2.0v1.87h-2.0zM345.6 103.11h2.0v1.87h-2.0zM349.6 103.11h2.0v1.87h-2.0zM361.6 103.11h2.0v1.87h-2.0zM375.6 103.11h2.0v1.87h-2.0zM381.6 103.11h6.0v1.87h-6.0zM391.7 103.11h2.0v1.87h-2.0zM395.7 103.11h2.0v1.87h-2.0zM403.7 103.11h2.0v1.87h-2.0zM411.7 103.11h2.0v1.87h-2.0zM415.7 103.11h6.0v1.87h-6.0zM425.7 103.11h2.0v1.87h-2.0zM431.7 103.11h2.0v1.87h-2.0zM435.7 103.11h6.0v1.87h-6.0zM445.8 103.11h2.0v1.87h-2.0zM453.8 103.11h2.0v1.87h-2.0zM459.8 103.11h4.0v1.87h-4.0zM473.8 103.11h6.0v1.87h-6.0zM481.8 103.11h4.0v1.87h-4.0zM489.8 103.11h2.0v1.87h-2.0zM495.9 103.11h2.0v1.87h-2.0zM499.9 103.11h4.0v1.87h-4.0zM507.9 103.11h2.0v1.87h-2.0zM513.9 103.11h2.0v1.87h-2.0zM319.5 104.98h2.0v1.87h-2.0zM341.6 104.98h2.0v1.87h-2.0zM345.6 104.98h10.0v1.87h-10.0zM357.6 104.98h8.0v1.87h-8.0zM369.6 104.98h4.0v1.87h-4.0zM377.6 104.98h6.0v1.87h-6.0zM393.7 104.98h2.0v1.87h-2.0zM397.7 104.98h14.0v1.87h-14.0zM413.7 104.98h2.0v1.87h-2.0zM417.7 104.98h4.0v1.87h-4.0zM425.7 104.98h2.0v1.87h-2.0zM439.7 104.98h2.0v1.87h-2.0zM443.8 104.98h2.0v1.87h-2.0zM447.8 104.98h6.0v1.87h-6.0zM455.8 104.98h6.0v1.87h-6.0zM463.8 104.98h4.0v1.87h-4.0zM471.8 104.98h2.0v1.87h-2.0zM475.8 104.98h6.0v1.87h-6.0zM485.8 104.98h2.0v1.87h-2.0zM491.9 104.98h4.0v1.87h-4.0zM497.9 104.98h6.0v1.87h-6.0zM507.9 104.98h2.0v1.87h-2.0zM511.9 104.98h2.0v1.87h-2.0zM317.5 106.85h2.0v1.87h-2.0zM345.6 106.85h2.0v1.87h-2.0zM349.6 106.85h2.0v1.87h-2.0zM369.6 106.85h2.0v1.87h-2.0zM373.6 106.85h2.0v1.87h-2.0zM391.7 106.85h2.0v1.87h-2.0zM395.7 106.85h4.0v1.87h-4.0zM401.7 106.85h6.0v1.87h-6.0zM413.7 106.85h2.0v1.87h-2.0zM419.7 106.85h2.0v1.87h-2.0zM429.7 106.85h4.0v1.87h-4.0zM443.8 106.85h2.0v1.87h-2.0zM449.8 106.85h4.0v1.87h-4.0zM457.8 106.85h2.0v1.87h-2.0zM461.8 106.85h4.0v1.87h-4.0zM467.8 106.85h4.0v1.87h-4.0zM473.8 106.85h2.0v1.87h-2.0zM477.8 106.85h6.0v1.87h-6.0zM485.8 106.85h4.0v1.87h-4.0zM493.9 106.85h2.0v1.87h-2.0zM499.9 106.85h2.0v1.87h-2.0zM507.9 106.85h2.0v1.87h-2.0zM511.9 106.85h4.0v1.87h-4.0zM319.5 108.72h2.0v1.87h-2.0zM345.6 108.72h6.0v1.87h-6.0zM357.6 108.72h2.0v1.87h-2.0zM369.6 108.72h6.0v1.87h-6.0zM387.6 108.72h2.0v1.87h-2.0zM391.7 108.72h2.0v1.87h-2.0zM401.7 108.72h6.0v1.87h-6.0zM409.7 108.72h4.0v1.87h-4.0zM415.7 108.72h10.0v1.87h-10.0zM433.7 108.72h4.0v1.87h-4.0zM443.8 108.72h6.0v1.87h-6.0zM459.8 108.72h14.0v1.87h-14.0zM477.8 108.72h2.0v1.87h-2.0zM485.8 108.72h2.0v1.87h-2.0zM499.9 108.72h2.0v1.87h-2.0zM509.9 108.72h2.0v1.87h-2.0zM317.5 110.59h2.0v1.87h-2.0zM327.5 110.59h4.0v1.87h-4.0zM333.5 110.59h2.0v1.87h-2.0zM341.6 110.59h2.0v1.87h-2.0zM351.6 110.59h4.0v1.87h-4.0zM357.6 110.59h4.0v1.87h-4.0zM365.6 110.59h4.0v1.87h-4.0zM371.6 110.59h8.0v1.87h-8.0zM381.6 110.59h2.0v1.87h-2.0zM389.6 110.59h2.0v1.87h-2.0zM393.7 110.59h6.0v1.87h-6.0zM401.7 110.59h8.0v1.87h-8.0zM411.7 110.59h2.0v1.87h-2.0zM419.7 110.59h4.0v1.87h-4.0zM429.7 110.59h2.0v1.87h-2.0zM435.7 110.59h6.0v1.87h-6.0zM449.8 110.59h4.0v1.87h-4.0zM461.8 110.59h4.0v1.87h-4.0zM467.8 110.59h4.0v1.87h-4.0zM473.8 110.59h6.0v1.87h-6.0zM485.8 110.59h4.0v1.87h-4.0zM495.9 110.59h4.0v1.87h-4.0zM507.9 110.59h2.0v1.87h-2.0zM513.9 110.59h2.0v1.87h-2.0zM331.5 112.46h2.0v1.87h-2.0zM345.6 112.46h2.0v1.87h-2.0zM373.6 112.46h4.0v1.87h-4.0zM383.6 112.46h2.0v1.87h-2.0zM387.6 112.46h2.0v1.87h-2.0zM397.7 112.46h2.0v1.87h-2.0zM401.7 112.46h10.0v1.87h-10.0zM413.7 112.46h2.0v1.87h-2.0zM417.7 112.46h2.0v1.87h-2.0zM425.7 112.46h2.0v1.87h-2.0zM433.7 112.46h4.0v1.87h-4.0zM439.7 112.46h2.0v1.87h-2.0zM449.8 112.46h4.0v1.87h-4.0zM455.8 112.46h6.0v1.87h-6.0zM463.8 112.46h2.0v1.87h-2.0zM479.8 112.46h2.0v1.87h-2.0zM487.8 112.46h8.0v1.87h-8.0zM499.9 112.46h2.0v1.87h-2.0zM503.9 112.46h4.0v1.87h-4.0zM509.9 112.46h6.0v1.87h-6.0zM333.5 114.33h2.0v1.87h-2.0zM341.6 114.33h2.0v1.87h-2.0zM347.6 114.33h2.0v1.87h-2.0zM355.6 114.33h2.0v1.87h-2.0zM373.6 114.33h2.0v1.87h-2.0zM379.6 114.33h10.0v1.87h-10.0zM391.7 114.33h8.0v1.87h-8.0zM401.7 114.33h2.0v1.87h-2.0zM405.7 114.33h2.0v1.87h-2.0zM409.7 114.33h8.0v1.87h-8.0zM421.7 114.33h2.0v1.87h-2.0zM425.7 114.33h8.0v1.87h-8.0zM437.7 114.33h2.0v1.87h-2.0zM447.8 114.33h8.0v1.87h-8.0zM459.8 114.33h2.0v1.87h-2.0zM463.8 114.33h2.0v1.87h-2.0zM469.8 114.33h2.0v1.87h-2.0zM475.8 114.33h2.0v1.87h-2.0zM481.8 114.33h2.0v1.87h-2.0zM485.8 114.33h2.0v1.87h-2.0zM491.9 114.33h4.0v1.87h-4.0zM501.9 114.33h2.0v1.87h-2.0zM505.9 114.33h8.0v1.87h-8.0zM327.5 116.20h2.0v1.87h-2.0zM335.5 116.20h2.0v1.87h-2.0zM343.6 116.20h2.0v1.87h-2.0zM349.6 116.20h2.0v1.87h-2.0zM361.6 116.20h2.0v1.87h-2.0zM365.6 116.20h2.0v1.87h-2.0zM379.6 116.20h8.0v1.87h-8.0zM389.6 116.20h2.0v1.87h-2.0zM393.7 116.20h16.0v1.87h-16.0zM419.7 116.20h6.0v1.87h-6.0zM427.7 116.20h2.0v1.87h-2.0zM433.7 116.20h2.0v1.87h-2.0zM441.8 116.20h2.0v1.87h-2.0zM447.8 116.20h4.0v1.87h-4.0zM457.8 116.20h2.0v1.87h-2.0zM465.8 116.20h2.0v1.87h-2.0zM473.8 116.20h2.0v1.87h-2.0zM477.8 116.20h2.0v1.87h-2.0zM481.8 116.20h2.0v1.87h-2.0zM485.8 116.20h4.0v1.87h-4.0zM491.9 116.20h2.0v1.87h-2.0zM495.9 116.20h2.0v1.87h-2.0zM499.9 116.20h2.0v1.87h-2.0zM503.9 116.20h2.0v1.87h-2.0zM509.9 116.20h6.0v1.87h-6.0zM321.5 118.07h2.0v1.87h-2.0zM347.6 118.07h2.0v1.87h-2.0zM353.6 118.07h2.0v1.87h-2.0zM359.6 118.07h6.0v1.87h-6.0zM375.6 118.07h2.0v1.87h-2.0zM383.6 118.07h16.0v1.87h-16.0zM407.7 118.07h8.0v1.87h-8.0zM419.7 118.07h2.0v1.87h-2.0zM425.7 118.07h2.0v1.87h-2.0zM431.7 118.07h4.0v1.87h-4.0zM437.7 118.07h4.0v1.87h-4.0zM443.8 118.07h10.0v1.87h-10.0zM461.8 118.07h2.0v1.87h-2.0zM465.8 118.07h2.0v1.87h-2.0zM477.8 118.07h2.0v1.87h-2.0zM481.8 118.07h2.0v1.87h-2.0zM485.8 118.07h2.0v1.87h-2.0zM495.9 118.07h2.0v1.87h-2.0zM499.9 118.07h4.0v1.87h-4.0zM507.9 118.07h4.0v1.87h-4.0zM321.5 119.94h2.0v1.87h-2.0zM335.5 119.94h2.0v1.87h-2.0zM347.6 119.94h2.0v1.87h-2.0zM351.6 119.94h2.0v1.87h-2.0zM359.6 119.94h2.0v1.87h-2.0zM363.6 119.94h2.0v1.87h-2.0zM367.6 119.94h2.0v1.87h-2.0zM379.6 119.94h2.0v1.87h-2.0zM385.6 119.94h2.0v1.87h-2.0zM389.6 119.94h2.0v1.87h-2.0zM395.7 119.94h2.0v1.87h-2.0zM403.7 119.94h4.0v1.87h-4.0zM409.7 119.94h2.0v1.87h-2.0zM415.7 119.94h2.0v1.87h-2.0zM419.7 119.94h8.0v1.87h-8.0zM429.7 119.94h2.0v1.87h-2.0zM433.7 119.94h2.0v1.87h-2.0zM443.8 119.94h12.0v1.87h-12.0zM461.8 119.94h2.0v1.87h-2.0zM465.8 119.94h2.0v1.87h-2.0zM471.8 119.94h4.0v1.87h-4.0zM477.8 119.94h10.0v1.87h-10.0zM489.8 119.94h4.0v1.87h-4.0zM495.9 119.94h2.0v1.87h-2.0zM507.9 119.94h2.0v1.87h-2.0zM513.9 119.94h2.0v1.87h-2.0zM327.5 121.81h2.0v1.87h-2.0zM335.5 121.81h2.0v1.87h-2.0zM347.6 121.81h4.0v1.87h-4.0zM355.6 121.81h2.0v1.87h-2.0zM365.6 121.81h4.0v1.87h-4.0zM371.6 121.81h2.0v1.87h-2.0zM379.6 121.81h2.0v1.87h-2.0zM387.6 121.81h10.0v1.87h-10.0zM411.7 121.81h4.0v1.87h-4.0zM417.7 121.81h4.0v1.87h-4.0zM427.7 121.81h8.0v1.87h-8.0zM441.8 121.81h2.0v1.87h-2.0zM445.8 121.81h6.0v1.87h-6.0zM453.8 121.81h2.0v1.87h-2.0zM459.8 121.81h8.0v1.87h-8.0zM469.8 121.81h2.0v1.87h-2.0zM473.8 121.81h2.0v1.87h-2.0zM481.8 121.81h4.0v1.87h-4.0zM489.8 121.81h4.0v1.87h-4.0zM495.9 121.81h2.0v1.87h-2.0zM499.9 121.81h2.0v1.87h-2.0zM505.9 121.81h4.0v1.87h-4.0zM513.9 121.81h2.0v1.87h-2.0zM321.5 123.68h2.0v1.87h-2.0zM335.5 123.68h2.0v1.87h-2.0zM347.6 123.68h2.0v1.87h-2.0zM351.6 123.68h4.0v1.87h-4.0zM363.6 123.68h2.0v1.87h-2.0zM367.6 123.68h2.0v1.87h-2.0zM373.6 123.68h2.0v1.87h-2.0zM379.6 123.68h4.0v1.87h-4.0zM385.6 123.68h2.0v1.87h-2.0zM389.6 123.68h2.0v1.87h-2.0zM395.7 123.68h6.0v1.87h-6.0zM405.7 123.68h2.0v1.87h-2.0zM409.7 123.68h2.0v1.87h-2.0zM415.7 123.68h2.0v1.87h-2.0zM421.7 123.68h4.0v1.87h-4.0zM427.7 123.68h2.0v1.87h-2.0zM435.7 123.68h2.0v1.87h-2.0zM449.8 123.68h2.0v1.87h-2.0zM461.8 123.68h2.0v1.87h-2.0zM475.8 123.68h4.0v1.87h-4.0zM483.8 123.68h8.0v1.87h-8.0zM497.9 123.68h2.0v1.87h-2.0zM501.9 123.68h2.0v1.87h-2.0zM507.9 123.68h2.0v1.87h-2.0zM331.5 125.55h2.0v1.87h-2.0zM353.6 125.55h2.0v1.87h-2.0zM365.6 125.55h2.0v1.87h-2.0zM385.6 125.55h2.0v1.87h-2.0zM399.7 125.55h2.0v1.87h-2.0zM407.7 125.55h2.0v1.87h-2.0zM417.7 125.55h2.0v1.87h-2.0zM423.7 125.55h2.0v1.87h-2.0zM433.7 125.55h2.0v1.87h-2.0zM443.8 125.55h12.0v1.87h-12.0zM467.8 125.55h2.0v1.87h-2.0zM473.8 125.55h2.0v1.87h-2.0zM477.8 125.55h10.0v1.87h-10.0zM491.9 125.55h2.0v1.87h-2.0zM495.9 125.55h2.0v1.87h-2.0zM503.9 125.55h2.0v1.87h-2.0zM513.9 125.55h2.0v1.87h-2.0zM321.5 127.42h2.0v1.87h-2.0zM341.6 127.42h2.0v1.87h-2.0zM359.6 127.42h2.0v1.87h-2.0zM393.7 127.42h2.0v1.87h-2.0zM399.7 127.42h2.0v1.87h-2.0zM403.7 127.42h2.0v1.87h-2.0zM409.7 127.42h2.0v1.87h-2.0zM427.7 127.42h6.0v1.87h-6.0zM435.7 127.42h4.0v1.87h-4.0zM445.8 127.42h2.0v1.87h-2.0zM455.8 127.42h6.0v1.87h-6.0zM469.8 127.42h2.0v1.87h-2.0zM483.8 127.42h2.0v1.87h-2.0zM487.8 127.42h8.0v1.87h-8.0zM497.9 127.42h2.0v1.87h-2.0zM501.9 127.42h2.0v1.87h-2.0zM507.9 127.42h2.0v1.87h-2.0zM341.6 129.29h4.0v1.87h-4.0zM351.6 129.29h2.0v1.87h-2.0zM357.6 129.29h2.0v1.87h-2.0zM365.6 129.29h4.0v1.87h-4.0zM377.6 129.29h4.0v1.87h-4.0zM385.6 129.29h4.0v1.87h-4.0zM397.7 129.29h2.0v1.87h-2.0zM401.7 129.29h2.0v1.87h-2.0zM405.7 129.29h2.0v1.87h-2.0zM409.7 129.29h2.0v1.87h-2.0zM421.7 129.29h2.0v1.87h-2.0zM429.7 129.29h2.0v1.87h-2.0zM437.7 129.29h6.0v1.87h-6.0zM449.8 129.29h2.0v1.87h-2.0zM453.8 129.29h4.0v1.87h-4.0zM463.8 129.29h4.0v1.87h-4.0zM477.8 129.29h2.0v1.87h-2.0zM481.8 129.29h8.0v1.87h-8.0zM491.9 129.29h2.0v1.87h-2.0zM497.9 129.29h2.0v1.87h-2.0zM501.9 129.29h2.0v1.87h-2.0zM335.5 131.16h2.0v1.87h-2.0zM339.5 131.16h2.0v1.87h-2.0zM351.6 131.16h2.0v1.87h-2.0zM359.6 131.16h2.0v1.87h-2.0zM365.6 131.16h2.0v1.87h-2.0zM373.6 131.16h2.0v1.87h-2.0zM377.6 131.16h2.0v1.87h-2.0zM391.7 131.16h10.0v1.87h-10.0zM403.7 131.16h10.0v1.87h-10.0zM425.7 131.16h2.0v1.87h-2.0zM429.7 131.16h2.0v1.87h-2.0zM437.7 131.16h2.0v1.87h-2.0zM443.8 131.16h4.0v1.87h-4.0zM451.8 131.16h6.0v1.87h-6.0zM463.8 131.16h2.0v1.87h-2.0zM489.8 131.16h2.0v1.87h-2.0zM497.9 131.16h6.0v1.87h-6.0zM507.9 131.16h6.0v1.87h-6.0zM341.6 133.03h2.0v1.87h-2.0zM353.6 133.03h4.0v1.87h-4.0zM373.6 133.03h2.0v1.87h-2.0zM379.6 133.03h2.0v1.87h-2.0zM391.7 133.03h2.0v1.87h-2.0zM401.7 133.03h2.0v1.87h-2.0zM405.7 133.03h2.0v1.87h-2.0zM415.7 133.03h4.0v1.87h-4.0zM423.7 133.03h4.0v1.87h-4.0zM431.7 133.03h4.0v1.87h-4.0zM443.8 133.03h2.0v1.87h-2.0zM457.8 133.03h4.0v1.87h-4.0zM471.8 133.03h2.0v1.87h-2.0zM475.8 133.03h2.0v1.87h-2.0zM479.8 133.03h10.0v1.87h-10.0zM499.9 133.03h14.0v1.87h-14.0zM317.5 134.90h4.0v1.87h-4.0zM331.5 134.90h2.0v1.87h-2.0zM343.6 134.90h2.0v1.87h-2.0zM363.6 134.90h2.0v1.87h-2.0zM369.6 134.90h2.0v1.87h-2.0zM377.6 134.90h2.0v1.87h-2.0zM383.6 134.90h2.0v1.87h-2.0zM389.6 134.90h2.0v1.87h-2.0zM409.7 134.90h4.0v1.87h-4.0zM415.7 134.90h2.0v1.87h-2.0zM421.7 134.90h8.0v1.87h-8.0zM435.7 134.90h2.0v1.87h-2.0zM441.8 134.90h2.0v1.87h-2.0zM449.8 134.90h2.0v1.87h-2.0zM455.8 134.90h2.0v1.87h-2.0zM465.8 134.90h2.0v1.87h-2.0zM473.8 134.90h2.0v1.87h-2.0zM479.8 134.90h2.0v1.87h-2.0zM485.8 134.90h2.0v1.87h-2.0zM495.9 134.90h2.0v1.87h-2.0zM499.9 134.90h4.0v1.87h-4.0zM507.9 134.90h2.0v1.87h-2.0zM511.9 134.90h2.0v1.87h-2.0zM317.5 136.77h2.0v1.87h-2.0zM351.6 136.77h2.0v1.87h-2.0zM369.6 136.77h2.0v1.87h-2.0zM373.6 136.77h2.0v1.87h-2.0zM383.6 136.77h2.0v1.87h-2.0zM391.7 136.77h4.0v1.87h-4.0zM399.7 136.77h2.0v1.87h-2.0zM415.7 136.77h8.0v1.87h-8.0zM441.8 136.77h10.0v1.87h-10.0zM455.8 136.77h2.0v1.87h-2.0zM459.8 136.77h2.0v1.87h-2.0zM483.8 136.77h8.0v1.87h-8.0zM495.9 136.77h4.0v1.87h-4.0zM501.9 136.77h2.0v1.87h-2.0zM513.9 136.77h2.0v1.87h-2.0zM333.5 138.64h6.0v1.87h-6.0zM355.6 138.64h2.0v1.87h-2.0zM361.6 138.64h2.0v1.87h-2.0zM365.6 138.64h2.0v1.87h-2.0zM371.6 138.64h2.0v1.87h-2.0zM375.6 138.64h2.0v1.87h-2.0zM379.6 138.64h2.0v1.87h-2.0zM389.6 138.64h2.0v1.87h-2.0zM393.7 138.64h6.0v1.87h-6.0zM403.7 138.64h2.0v1.87h-2.0zM409.7 138.64h2.0v1.87h-2.0zM415.7 138.64h6.0v1.87h-6.0zM427.7 138.64h2.0v1.87h-2.0zM431.7 138.64h2.0v1.87h-2.0zM445.8 138.64h12.0v1.87h-12.0zM459.8 138.64h2.0v1.87h-2.0zM465.8 138.64h2.0v1.87h-2.0zM469.8 138.64h4.0v1.87h-4.0zM481.8 138.64h2.0v1.87h-2.0zM485.8 138.64h2.0v1.87h-2.0zM489.8 138.64h2.0v1.87h-2.0zM493.9 138.64h2.0v1.87h-2.0zM501.9 138.64h4.0v1.87h-4.0zM507.9 138.64h2.0v1.87h-2.0zM343.6 140.51h2.0v1.87h-2.0zM367.6 140.51h2.0v1.87h-2.0zM379.6 140.51h2.0v1.87h-2.0zM389.6 140.51h2.0v1.87h-2.0zM395.7 140.51h6.0v1.87h-6.0zM413.7 140.51h2.0v1.87h-2.0zM429.7 140.51h2.0v1.87h-2.0zM441.8 140.51h4.0v1.87h-4.0zM447.8 140.51h4.0v1.87h-4.0zM455.8 140.51h2.0v1.87h-2.0zM467.8 140.51h4.0v1.87h-4.0zM473.8 140.51h4.0v1.87h-4.0zM479.8 140.51h2.0v1.87h-2.0zM483.8 140.51h2.0v1.87h-2.0zM487.8 140.51h2.0v1.87h-2.0zM503.9 140.51h2.0v1.87h-2.0zM509.9 140.51h2.0v1.87h-2.0zM319.5 142.38h2.0v1.87h-2.0zM325.5 142.38h2.0v1.87h-2.0zM353.6 142.38h2.0v1.87h-2.0zM361.6 142.38h2.0v1.87h-2.0zM365.6 142.38h2.0v1.87h-2.0zM375.6 142.38h2.0v1.87h-2.0zM381.6 142.38h8.0v1.87h-8.0zM399.7 142.38h4.0v1.87h-4.0zM407.7 142.38h2.0v1.87h-2.0zM411.7 142.38h2.0v1.87h-2.0zM415.7 142.38h4.0v1.87h-4.0zM423.7 142.38h6.0v1.87h-6.0zM441.8 142.38h2.0v1.87h-2.0zM445.8 142.38h2.0v1.87h-2.0zM453.8 142.38h4.0v1.87h-4.0zM463.8 142.38h4.0v1.87h-4.0zM471.8 142.38h4.0v1.87h-4.0zM487.8 142.38h2.0v1.87h-2.0zM497.9 142.38h2.0v1.87h-2.0zM505.9 142.38h6.0v1.87h-6.0zM319.5 144.25h2.0v1.87h-2.0zM323.5 144.25h4.0v1.87h-4.0zM335.5 144.25h2.0v1.87h-2.0zM345.6 144.25h2.0v1.87h-2.0zM355.6 144.25h2.0v1.87h-2.0zM363.6 144.25h2.0v1.87h-2.0zM375.6 144.25h2.0v1.87h-2.0zM381.6 144.25h2.0v1.87h-2.0zM385.6 144.25h2.0v1.87h-2.0zM399.7 144.25h2.0v1.87h-2.0zM419.7 144.25h2.0v1.87h-2.0zM423.7 144.25h2.0v1.87h-2.0zM429.7 144.25h2.0v1.87h-2.0zM433.7 144.25h2.0v1.87h-2.0zM437.7 144.25h2.0v1.87h-2.0zM447.8 144.25h4.0v1.87h-4.0zM455.8 144.25h4.0v1.87h-4.0zM465.8 144.25h14.0v1.87h-14.0zM483.8 144.25h4.0v1.87h-4.0zM489.8 144.25h6.0v1.87h-6.0zM505.9 144.25h4.0v1.87h-4.0zM513.9 144.25h2.0v1.87h-2.0zM315.5 146.12h2.0v1.87h-2.0zM331.5 146.12h2.0v1.87h-2.0zM341.6 146.12h2.0v1.87h-2.0zM369.6 146.12h2.0v1.87h-2.0zM379.6 146.12h4.0v1.87h-4.0zM411.7 146.12h14.0v1.87h-14.0zM431.7 146.12h2.0v1.87h-2.0zM435.7 146.12h4.0v1.87h-4.0zM441.8 146.12h6.0v1.87h-6.0zM455.8 146.12h4.0v1.87h-4.0zM461.8 146.12h4.0v1.87h-4.0zM467.8 146.12h2.0v1.87h-2.0zM477.8 146.12h2.0v1.87h-2.0zM481.8 146.12h2.0v1.87h-2.0zM485.8 146.12h4.0v1.87h-4.0zM497.9 146.12h4.0v1.87h-4.0zM511.9 146.12h2.0v1.87h-2.0zM335.5 147.99h2.0v1.87h-2.0zM345.6 147.99h2.0v1.87h-2.0zM361.6 147.99h2.0v1.87h-2.0zM367.6 147.99h2.0v1.87h-2.0zM373.6 147.99h4.0v1.87h-4.0zM381.6 147.99h2.0v1.87h-2.0zM389.6 147.99h4.0v1.87h-4.0zM397.7 147.99h6.0v1.87h-6.0zM407.7 147.99h2.0v1.87h-2.0zM413.7 147.99h2.0v1.87h-2.0zM417.7 147.99h2.0v1.87h-2.0zM425.7 147.99h2.0v1.87h-2.0zM439.7 147.99h6.0v1.87h-6.0zM447.8 147.99h2.0v1.87h-2.0zM453.8 147.99h2.0v1.87h-2.0zM463.8 147.99h2.0v1.87h-2.0zM473.8 147.99h10.0v1.87h-10.0zM489.8 147.99h2.0v1.87h-2.0zM497.9 147.99h2.0v1.87h-2.0zM501.9 147.99h2.0v1.87h-2.0zM509.9 147.99h2.0v1.87h-2.0zM513.9 147.99h2.0v1.87h-2.0zM329.5 149.86h2.0v1.87h-2.0zM349.6 149.86h4.0v1.87h-4.0zM365.6 149.86h2.0v1.87h-2.0zM377.6 149.86h4.0v1.87h-4.0zM383.6 149.86h2.0v1.87h-2.0zM387.6 149.86h4.0v1.87h-4.0zM399.7 149.86h2.0v1.87h-2.0zM403.7 149.86h2.0v1.87h-2.0zM413.7 149.86h2.0v1.87h-2.0zM419.7 149.86h6.0v1.87h-6.0zM435.7 149.86h2.0v1.87h-2.0zM441.8 149.86h2.0v1.87h-2.0zM449.8 149.86h2.0v1.87h-2.0zM457.8 149.86h2.0v1.87h-2.0zM465.8 149.86h2.0v1.87h-2.0zM477.8 149.86h2.0v1.87h-2.0zM489.8 149.86h2.0v1.87h-2.0zM495.9 149.86h2.0v1.87h-2.0zM499.9 149.86h2.0v1.87h-2.0zM503.9 149.86h2.0v1.87h-2.0zM325.5 151.73h2.0v1.87h-2.0zM341.6 151.73h2.0v1.87h-2.0zM361.6 151.73h2.0v1.87h-2.0zM369.6 151.73h2.0v1.87h-2.0zM385.6 151.73h2.0v1.87h-2.0zM389.6 151.73h2.0v1.87h-2.0zM405.7 151.73h2.0v1.87h-2.0zM409.7 151.73h2.0v1.87h-2.0zM427.7 151.73h4.0v1.87h-4.0zM439.7 151.73h4.0v1.87h-4.0zM451.8 151.73h2.0v1.87h-2.0zM459.8 151.73h2.0v1.87h-2.0zM463.8 151.73h2.0v1.87h-2.0zM469.8 151.73h2.0v1.87h-2.0zM477.8 151.73h2.0v1.87h-2.0zM481.8 151.73h2.0v1.87h-2.0zM489.8 151.73h2.0v1.87h-2.0zM495.9 151.73h2.0v1.87h-2.0zM499.9 151.73h2.0v1.87h-2.0zM505.9 151.73h2.0v1.87h-2.0zM509.9 151.73h2.0v1.87h-2.0zM513.9 151.73h2.0v1.87h-2.0zM317.5 153.60h2.0v1.87h-2.0zM323.5 153.60h2.0v1.87h-2.0zM327.5 153.60h2.0v1.87h-2.0zM345.6 153.60h2.0v1.87h-2.0zM357.6 153.60h2.0v1.87h-2.0zM363.6 153.60h6.0v1.87h-6.0zM377.6 153.60h2.0v1.87h-2.0zM385.6 153.60h6.0v1.87h-6.0zM395.7 153.60h2.0v1.87h-2.0zM399.7 153.60h2.0v1.87h-2.0zM407.7 153.60h6.0v1.87h-6.0zM421.7 153.60h2.0v1.87h-2.0zM431.7 153.60h4.0v1.87h-4.0zM439.7 153.60h2.0v1.87h-2.0zM443.8 153.60h16.0v1.87h-16.0zM461.8 153.60h2.0v1.87h-2.0zM471.8 153.60h2.0v1.87h-2.0zM479.8 153.60h2.0v1.87h-2.0zM483.8 153.60h2.0v1.87h-2.0zM493.9 153.60h6.0v1.87h-6.0zM503.9 153.60h2.0v1.87h-2.0zM513.9 153.60h2.0v1.87h-2.0zM319.5 155.47h6.0v1.87h-6.0zM329.5 155.47h2.0v1.87h-2.0zM349.6 155.47h2.0v1.87h-2.0zM355.6 155.47h2.0v1.87h-2.0zM359.6 155.47h2.0v1.87h-2.0zM371.6 155.47h2.0v1.87h-2.0zM381.6 155.47h2.0v1.87h-2.0zM389.6 155.47h2.0v1.87h-2.0zM393.7 155.47h2.0v1.87h-2.0zM401.7 155.47h4.0v1.87h-4.0zM407.7 155.47h2.0v1.87h-2.0zM413.7 155.47h2.0v1.87h-2.0zM423.7 155.47h2.0v1.87h-2.0zM431.7 155.47h2.0v1.87h-2.0zM435.7 155.47h2.0v1.87h-2.0zM443.8 155.47h2.0v1.87h-2.0zM451.8 155.47h2.0v1.87h-2.0zM455.8 155.47h6.0v1.87h-6.0zM463.8 155.47h2.0v1.87h-2.0zM469.8 155.47h8.0v1.87h-8.0zM487.8 155.47h10.0v1.87h-10.0zM499.9 155.47h2.0v1.87h-2.0zM503.9 155.47h6.0v1.87h-6.0zM341.6 157.34h2.0v1.87h-2.0zM363.6 157.34h2.0v1.87h-2.0zM377.6 157.34h2.0v1.87h-2.0zM383.6 157.34h2.0v1.87h-2.0zM387.6 157.34h2.0v1.87h-2.0zM391.7 157.34h2.0v1.87h-2.0zM401.7 157.34h6.0v1.87h-6.0zM411.7 157.34h2.0v1.87h-2.0zM421.7 157.34h2.0v1.87h-2.0zM431.7 157.34h4.0v1.87h-4.0zM443.8 157.34h2.0v1.87h-2.0zM457.8 157.34h8.0v1.87h-8.0zM467.8 157.34h2.0v1.87h-2.0zM475.8 157.34h2.0v1.87h-2.0zM479.8 157.34h2.0v1.87h-2.0zM483.8 157.34h4.0v1.87h-4.0zM495.9 157.34h4.0v1.87h-4.0zM511.9 157.34h4.0v1.87h-4.0zM323.5 159.21h2.0v1.87h-2.0zM327.5 159.21h2.0v1.87h-2.0zM367.6 159.21h4.0v1.87h-4.0zM379.6 159.21h4.0v1.87h-4.0zM393.7 159.21h6.0v1.87h-6.0zM401.7 159.21h2.0v1.87h-2.0zM409.7 159.21h2.0v1.87h-2.0zM413.7 159.21h2.0v1.87h-2.0zM443.8 159.21h2.0v1.87h-2.0zM451.8 159.21h4.0v1.87h-4.0zM463.8 159.21h2.0v1.87h-2.0zM475.8 159.21h4.0v1.87h-4.0zM481.8 159.21h4.0v1.87h-4.0zM489.8 159.21h4.0v1.87h-4.0zM495.9 159.21h4.0v1.87h-4.0zM505.9 159.21h8.0v1.87h-8.0zM347.6 161.08h2.0v1.87h-2.0zM363.6 161.08h2.0v1.87h-2.0zM379.6 161.08h2.0v1.87h-2.0zM383.6 161.08h12.0v1.87h-12.0zM397.7 161.08h4.0v1.87h-4.0zM409.7 161.08h2.0v1.87h-2.0zM419.7 161.08h2.0v1.87h-2.0zM423.7 161.08h2.0v1.87h-2.0zM427.7 161.08h2.0v1.87h-2.0zM431.7 161.08h2.0v1.87h-2.0zM439.7 161.08h2.0v1.87h-2.0zM457.8 161.08h2.0v1.87h-2.0zM461.8 161.08h2.0v1.87h-2.0zM465.8 161.08h2.0v1.87h-2.0zM471.8 161.08h2.0v1.87h-2.0zM493.9 161.08h2.0v1.87h-2.0zM497.9 161.08h2.0v1.87h-2.0zM501.9 161.08h2.0v1.87h-2.0zM335.5 162.95h4.0v1.87h-4.0zM377.6 162.95h4.0v1.87h-4.0zM395.7 162.95h2.0v1.87h-2.0zM407.7 162.95h4.0v1.87h-4.0zM413.7 162.95h2.0v1.87h-2.0zM423.7 162.95h2.0v1.87h-2.0zM437.7 162.95h6.0v1.87h-6.0zM449.8 162.95h2.0v1.87h-2.0zM455.8 162.95h2.0v1.87h-2.0zM463.8 162.95h2.0v1.87h-2.0zM473.8 162.95h2.0v1.87h-2.0zM477.8 162.95h2.0v1.87h-2.0zM483.8 162.95h4.0v1.87h-4.0zM489.8 162.95h4.0v1.87h-4.0zM499.9 162.95h2.0v1.87h-2.0zM503.9 162.95h2.0v1.87h-2.0zM509.9 162.95h2.0v1.87h-2.0zM319.5 164.82h4.0v1.87h-4.0zM331.5 164.82h2.0v1.87h-2.0zM335.5 164.82h2.0v1.87h-2.0zM355.6 164.82h2.0v1.87h-2.0zM377.6 164.82h2.0v1.87h-2.0zM381.6 164.82h4.0v1.87h-4.0zM387.6 164.82h2.0v1.87h-2.0zM391.7 164.82h4.0v1.87h-4.0zM397.7 164.82h10.0v1.87h-10.0zM409.7 164.82h2.0v1.87h-2.0zM423.7 164.82h2.0v1.87h-2.0zM435.7 164.82h2.0v1.87h-2.0zM441.8 164.82h2.0v1.87h-2.0zM451.8 164.82h2.0v1.87h-2.0zM455.8 164.82h4.0v1.87h-4.0zM463.8 164.82h2.0v1.87h-2.0zM467.8 164.82h4.0v1.87h-4.0zM473.8 164.82h2.0v1.87h-2.0zM479.8 164.82h4.0v1.87h-4.0zM491.9 164.82h2.0v1.87h-2.0zM495.9 164.82h10.0v1.87h-10.0zM507.9 164.82h8.0v1.87h-8.0zM325.5 166.69h2.0v1.87h-2.0zM367.6 166.69h2.0v1.87h-2.0zM373.6 166.69h2.0v1.87h-2.0zM379.6 166.69h6.0v1.87h-6.0zM391.7 166.69h2.0v1.87h-2.0zM397.7 166.69h2.0v1.87h-2.0zM405.7 166.69h2.0v1.87h-2.0zM415.7 166.69h2.0v1.87h-2.0zM421.7 166.69h2.0v1.87h-2.0zM425.7 166.69h8.0v1.87h-8.0zM435.7 166.69h4.0v1.87h-4.0zM445.8 166.69h2.0v1.87h-2.0zM461.8 166.69h2.0v1.87h-2.0zM475.8 166.69h4.0v1.87h-4.0zM481.8 166.69h2.0v1.87h-2.0zM493.9 166.69h2.0v1.87h-2.0zM499.9 166.69h4.0v1.87h-4.0zM317.5 168.56h2.0v1.87h-2.0zM321.5 168.56h2.0v1.87h-2.0zM355.6 168.56h2.0v1.87h-2.0zM359.6 168.56h4.0v1.87h-4.0zM367.6 168.56h2.0v1.87h-2.0zM377.6 168.56h4.0v1.87h-4.0zM391.7 168.56h2.0v1.87h-2.0zM395.7 168.56h2.0v1.87h-2.0zM405.7 168.56h6.0v1.87h-6.0zM413.7 168.56h2.0v1.87h-2.0zM417.7 168.56h2.0v1.87h-2.0zM421.7 168.56h4.0v1.87h-4.0zM427.7 168.56h2.0v1.87h-2.0zM431.7 168.56h2.0v1.87h-2.0zM437.7 168.56h2.0v1.87h-2.0zM445.8 168.56h2.0v1.87h-2.0zM449.8 168.56h2.0v1.87h-2.0zM453.8 168.56h4.0v1.87h-4.0zM461.8 168.56h6.0v1.87h-6.0zM469.8 168.56h10.0v1.87h-10.0zM481.8 168.56h2.0v1.87h-2.0zM497.9 168.56h2.0v1.87h-2.0zM501.9 168.56h2.0v1.87h-2.0zM509.9 168.56h2.0v1.87h-2.0zM513.9 168.56h2.0v1.87h-2.0zM315.5 170.43h2.0v1.87h-2.0zM323.5 170.43h2.0v1.87h-2.0zM345.6 170.43h2.0v1.87h-2.0zM353.6 170.43h2.0v1.87h-2.0zM357.6 170.43h2.0v1.87h-2.0zM363.6 170.43h4.0v1.87h-4.0zM397.7 170.43h2.0v1.87h-2.0zM403.7 170.43h6.0v1.87h-6.0zM411.7 170.43h4.0v1.87h-4.0zM423.7 170.43h4.0v1.87h-4.0zM431.7 170.43h4.0v1.87h-4.0zM437.7 170.43h2.0v1.87h-2.0zM441.8 170.43h4.0v1.87h-4.0zM447.8 170.43h2.0v1.87h-2.0zM451.8 170.43h2.0v1.87h-2.0zM463.8 170.43h2.0v1.87h-2.0zM469.8 170.43h2.0v1.87h-2.0zM473.8 170.43h10.0v1.87h-10.0zM489.8 170.43h2.0v1.87h-2.0zM495.9 170.43h2.0v1.87h-2.0zM499.9 170.43h4.0v1.87h-4.0zM505.9 170.43h4.0v1.87h-4.0zM331.5 172.30h2.0v1.87h-2.0zM337.5 172.30h2.0v1.87h-2.0zM355.6 172.30h4.0v1.87h-4.0zM375.6 172.30h2.0v1.87h-2.0zM401.7 172.30h2.0v1.87h-2.0zM405.7 172.30h2.0v1.87h-2.0zM415.7 172.30h4.0v1.87h-4.0zM425.7 172.30h2.0v1.87h-2.0zM433.7 172.30h2.0v1.87h-2.0zM445.8 172.30h2.0v1.87h-2.0zM449.8 172.30h2.0v1.87h-2.0zM453.8 172.30h2.0v1.87h-2.0zM459.8 172.30h8.0v1.87h-8.0zM471.8 172.30h6.0v1.87h-6.0zM487.8 172.30h2.0v1.87h-2.0zM495.9 172.30h2.0v1.87h-2.0zM505.9 172.30h2.0v1.87h-2.0zM513.9 172.30h2.0v1.87h-2.0zM343.6 174.17h2.0v1.87h-2.0zM349.6 174.17h2.0v1.87h-2.0zM355.6 174.17h2.0v1.87h-2.0zM363.6 174.17h2.0v1.87h-2.0zM377.6 174.17h2.0v1.87h-2.0zM383.6 174.17h2.0v1.87h-2.0zM397.7 174.17h2.0v1.87h-2.0zM403.7 174.17h2.0v1.87h-2.0zM413.7 174.17h2.0v1.87h-2.0zM417.7 174.17h2.0v1.87h-2.0zM427.7 174.17h2.0v1.87h-2.0zM451.8 174.17h2.0v1.87h-2.0zM463.8 174.17h2.0v1.87h-2.0zM469.8 174.17h4.0v1.87h-4.0zM475.8 174.17h2.0v1.87h-2.0zM479.8 174.17h2.0v1.87h-2.0zM485.8 174.17h4.0v1.87h-4.0zM497.9 174.17h6.0v1.87h-6.0zM505.9 174.17h2.0v1.87h-2.0zM511.9 174.17h2.0v1.87h-2.0zM359.6 176.04h8.0v1.87h-8.0zM377.6 176.04h2.0v1.87h-2.0zM381.6 176.04h6.0v1.87h-6.0zM391.7 176.04h2.0v1.87h-2.0zM413.7 176.04h2.0v1.87h-2.0zM419.7 176.04h4.0v1.87h-4.0zM425.7 176.04h8.0v1.87h-8.0zM435.7 176.04h2.0v1.87h-2.0zM449.8 176.04h2.0v1.87h-2.0zM463.8 176.04h2.0v1.87h-2.0zM467.8 176.04h4.0v1.87h-4.0zM481.8 176.04h2.0v1.87h-2.0zM485.8 176.04h2.0v1.87h-2.0zM491.9 176.04h4.0v1.87h-4.0zM497.9 176.04h4.0v1.87h-4.0zM507.9 176.04h8.0v1.87h-8.0zM325.5 177.91h2.0v1.87h-2.0zM333.5 177.91h4.0v1.87h-4.0zM339.5 177.91h2.0v1.87h-2.0zM345.6 177.91h4.0v1.87h-4.0zM351.6 177.91h2.0v1.87h-2.0zM371.6 177.91h2.0v1.87h-2.0zM377.6 177.91h2.0v1.87h-2.0zM385.6 177.91h2.0v1.87h-2.0zM393.7 177.91h6.0v1.87h-6.0zM401.7 177.91h2.0v1.87h-2.0zM411.7 177.91h2.0v1.87h-2.0zM415.7 177.91h2.0v1.87h-2.0zM427.7 177.91h6.0v1.87h-6.0zM439.7 177.91h2.0v1.87h-2.0zM455.8 177.91h2.0v1.87h-2.0zM463.8 177.91h2.0v1.87h-2.0zM467.8 177.91h2.0v1.87h-2.0zM471.8 177.91h4.0v1.87h-4.0zM479.8 177.91h2.0v1.87h-2.0zM483.8 177.91h2.0v1.87h-2.0zM491.9 177.91h2.0v1.87h-2.0zM499.9 177.91h4.0v1.87h-4.0zM505.9 177.91h10.0v1.87h-10.0zM327.5 179.78h2.0v1.87h-2.0zM339.5 179.78h2.0v1.87h-2.0zM349.6 179.78h2.0v1.87h-2.0zM353.6 179.78h2.0v1.87h-2.0zM361.6 179.78h2.0v1.87h-2.0zM373.6 179.78h2.0v1.87h-2.0zM385.6 179.78h6.0v1.87h-6.0zM405.7 179.78h2.0v1.87h-2.0zM413.7 179.78h4.0v1.87h-4.0zM419.7 179.78h6.0v1.87h-6.0zM427.7 179.78h2.0v1.87h-2.0zM431.7 179.78h2.0v1.87h-2.0zM435.7 179.78h6.0v1.87h-6.0zM443.8 179.78h2.0v1.87h-2.0zM451.8 179.78h14.0v1.87h-14.0zM471.8 179.78h4.0v1.87h-4.0zM481.8 179.78h2.0v1.87h-2.0zM485.8 179.78h2.0v1.87h-2.0zM489.8 179.78h4.0v1.87h-4.0zM495.9 179.78h6.0v1.87h-6.0zM321.5 181.65h4.0v1.87h-4.0zM335.5 181.65h2.0v1.87h-2.0zM343.6 181.65h2.0v1.87h-2.0zM351.6 181.65h2.0v1.87h-2.0zM371.6 181.65h2.0v1.87h-2.0zM403.7 181.65h2.0v1.87h-2.0zM409.7 181.65h2.0v1.87h-2.0zM413.7 181.65h2.0v1.87h-2.0zM417.7 181.65h4.0v1.87h-4.0zM425.7 181.65h6.0v1.87h-6.0zM443.8 181.65h2.0v1.87h-2.0zM447.8 181.65h2.0v1.87h-2.0zM457.8 181.65h2.0v1.87h-2.0zM473.8 181.65h2.0v1.87h-2.0zM477.8 181.65h6.0v1.87h-6.0zM491.9 181.65h2.0v1.87h-2.0zM495.9 181.65h4.0v1.87h-4.0zM505.9 181.65h6.0v1.87h-6.0zM513.9 181.65h2.0v1.87h-2.0zM343.6 183.52h2.0v1.87h-2.0zM359.6 183.52h2.0v1.87h-2.0zM381.6 183.52h2.0v1.87h-2.0zM391.7 183.52h2.0v1.87h-2.0zM395.7 183.52h2.0v1.87h-2.0zM407.7 183.52h4.0v1.87h-4.0zM415.7 183.52h2.0v1.87h-2.0zM427.7 183.52h2.0v1.87h-2.0zM431.7 183.52h2.0v1.87h-2.0zM435.7 183.52h2.0v1.87h-2.0zM449.8 183.52h4.0v1.87h-4.0zM455.8 183.52h2.0v1.87h-2.0zM459.8 183.52h4.0v1.87h-4.0zM467.8 183.52h2.0v1.87h-2.0zM473.8 183.52h2.0v1.87h-2.0zM479.8 183.52h6.0v1.87h-6.0zM489.8 183.52h2.0v1.87h-2.0zM493.9 183.52h2.0v1.87h-2.0zM499.9 183.52h2.0v1.87h-2.0zM511.9 183.52h2.0v1.87h-2.0zM317.5 185.39h2.0v1.87h-2.0zM321.5 185.39h2.0v1.87h-2.0zM327.5 185.39h2.0v1.87h-2.0zM337.5 185.39h2.0v1.87h-2.0zM355.6 185.39h2.0v1.87h-2.0zM361.6 185.39h2.0v1.87h-2.0zM365.6 185.39h2.0v1.87h-2.0zM371.6 185.39h2.0v1.87h-2.0zM377.6 185.39h2.0v1.87h-2.0zM395.7 185.39h2.0v1.87h-2.0zM403.7 185.39h2.0v1.87h-2.0zM413.7 185.39h8.0v1.87h-8.0zM423.7 185.39h2.0v1.87h-2.0zM431.7 185.39h2.0v1.87h-2.0zM439.7 185.39h2.0v1.87h-2.0zM451.8 185.39h2.0v1.87h-2.0zM455.8 185.39h2.0v1.87h-2.0zM461.8 185.39h4.0v1.87h-4.0zM469.8 185.39h4.0v1.87h-4.0zM483.8 185.39h2.0v1.87h-2.0zM487.8 185.39h2.0v1.87h-2.0zM491.9 185.39h2.0v1.87h-2.0zM499.9 185.39h2.0v1.87h-2.0zM503.9 185.39h6.0v1.87h-6.0zM315.5 187.26h4.0v1.87h-4.0zM323.5 187.26h4.0v1.87h-4.0zM343.6 187.26h2.0v1.87h-2.0zM347.6 187.26h2.0v1.87h-2.0zM363.6 187.26h2.0v1.87h-2.0zM387.6 187.26h8.0v1.87h-8.0zM403.7 187.26h2.0v1.87h-2.0zM409.7 187.26h2.0v1.87h-2.0zM419.7 187.26h2.0v1.87h-2.0zM425.7 187.26h2.0v1.87h-2.0zM431.7 187.26h2.0v1.87h-2.0zM443.8 187.26h2.0v1.87h-2.0zM451.8 187.26h4.0v1.87h-4.0zM457.8 187.26h2.0v1.87h-2.0zM463.8 187.26h2.0v1.87h-2.0zM467.8 187.26h8.0v1.87h-8.0zM477.8 187.26h2.0v1.87h-2.0zM483.8 187.26h4.0v1.87h-4.0zM489.8 187.26h2.0v1.87h-2.0zM497.9 187.26h6.0v1.87h-6.0zM507.9 187.26h2.0v1.87h-2.0zM511.9 187.26h2.0v1.87h-2.0zM315.5 189.13h2.0v1.87h-2.0zM327.5 189.13h2.0v1.87h-2.0zM349.6 189.13h4.0v1.87h-4.0zM357.6 189.13h2.0v1.87h-2.0zM361.6 189.13h6.0v1.87h-6.0zM373.6 189.13h2.0v1.87h-2.0zM377.6 189.13h4.0v1.87h-4.0zM383.6 189.13h2.0v1.87h-2.0zM387.6 189.13h2.0v1.87h-2.0zM399.7 189.13h2.0v1.87h-2.0zM407.7 189.13h2.0v1.87h-2.0zM413.7 189.13h4.0v1.87h-4.0zM421.7 189.13h14.0v1.87h-14.0zM443.8 189.13h4.0v1.87h-4.0zM449.8 189.13h2.0v1.87h-2.0zM457.8 189.13h2.0v1.87h-2.0zM463.8 189.13h6.0v1.87h-6.0zM471.8 189.13h4.0v1.87h-4.0zM483.8 189.13h2.0v1.87h-2.0zM487.8 189.13h2.0v1.87h-2.0zM499.9 189.13h2.0v1.87h-2.0zM503.9 189.13h4.0v1.87h-4.0zM509.9 189.13h2.0v1.87h-2.0zM513.9 189.13h2.0v1.87h-2.0z"/>
<path fill="#e6f6dd" d="M413.7 4.00h2.0v1.87h-2.0zM427.7 4.00h6.0v1.87h-6.0zM457.8 4.00h2.0v1.87h-2.0zM477.8 4.00h4.0v1.87h-4.0zM483.8 4.00h4.0v1.87h-4.0zM393.7 5.87h2.0v1.87h-2.0zM413.7 5.87h2.0v1.87h-2.0zM447.8 5.87h2.0v1.87h-2.0zM455.8 5.87h2.0v1.87h-2.0zM461.8 5.87h4.0v1.87h-4.0zM475.8 5.87h4.0v1.87h-4.0zM483.8 5.87h6.0v1.87h-6.0zM499.9 5.87h4.0v1.87h-4.0zM509.9 5.87h2.0v1.87h-2.0zM513.9 5.87h2.0v1.87h-2.0zM349.6 7.74h2.0v1.87h-2.0zM397.7 7.74h2.0v1.87h-2.0zM423.7 7.74h8.0v1.87h-8.0zM433.7 7.74h2.0v1.87h-2.0zM445.8 7.74h2.0v1.87h-2.0zM451.8 7.74h2.0v1.87h-2.0zM459.8 7.74h2.0v1.87h-2.0zM469.8 7.74h2.0v1.87h-2.0zM489.8 7.74h8.0v1.87h-8.0zM499.9 7.74h2.0v1.87h-2.0zM507.9 7.74h4.0v1.87h-4.0zM425.7 9.61h6.0v1.87h-6.0zM441.8 9.61h2.0v1.87h-2.0zM445.8 9.61h2.0v1.87h-2.0zM463.8 9.61h2.0v1.87h-2.0zM469.8 9.61h2.0v1.87h-2.0zM491.9 9.61h2.0v1.87h-2.0zM505.9 9.61h4.0v1.87h-4.0zM369.6 11.48h2.0v1.87h-2.0zM417.7 11.48h2.0v1.87h-2.0zM421.7 11.48h2.0v1.87h-2.0zM425.7 11.48h4.0v1.87h-4.0zM431.7 11.48h2.0v1.87h-2.0zM441.8 11.48h2.0v1.87h-2.0zM445.8 11.48h2.0v1.87h-2.0zM475.8 11.48h2.0v1.87h-2.0zM485.8 11.48h2.0v1.87h-2.0zM495.9 11.48h2.0v1.87h-2.0zM499.9 11.48h2.0v1.87h-2.0zM511.9 11.48h2.0v1.87h-2.0zM321.5 13.35h2.0v1.87h-2.0zM371.6 13.35h2.0v1.87h-2.0zM409.7 13.35h2.0v1.87h-2.0zM415.7 13.35h6.0v1.87h-6.0zM429.7 13.35h4.0v1.87h-4.0zM435.7 13.35h4.0v1.87h-4.0zM461.8 13.35h2.0v1.87h-2.0zM465.8 13.35h2.0v1.87h-2.0zM509.9 13.35h2.0v1.87h-2.0zM513.9 13.35h2.0v1.87h-2.0zM329.5 15.22h2.0v1.87h-2.0zM365.6 15.22h2.0v1.87h-2.0zM421.7 15.22h6.0v1.87h-6.0zM451.8 15.22h2.0v1.87h-2.0zM461.8 15.22h6.0v1.87h-6.0zM489.8 15.22h2.0v1.87h-2.0zM505.9 15.22h6.0v1.87h-6.0zM353.6 17.09h2.0v1.87h-2.0zM413.7 17.09h2.0v1.87h-2.0zM423.7 17.09h2.0v1.87h-2.0zM431.7 17.09h2.0v1.87h-2.0zM439.7 17.09h2.0v1.87h-2.0zM449.8 17.09h2.0v1.87h-2.0zM463.8 17.09h2.0v1.87h-2.0zM467.8 17.09h2.0v1.87h-2.0zM497.9 17.09h2.0v1.87h-2.0zM385.6 18.96h2.0v1.87h-2.0zM417.7 18.96h2.0v1.87h-2.0zM435.7 18.96h4.0v1.87h-4.0zM447.8 18.96h2.0v1.87h-2.0zM451.8 18.96h2.0v1.87h-2.0zM457.8 18.96h2.0v1.87h-2.0zM465.8 18.96h2.0v1.87h-2.0zM483.8 18.96h4.0v1.87h-4.0zM493.9 18.96h4.0v1.87h-4.0zM509.9 18.96h2.0v1.87h-2.0zM337.5 20.83h2.0v1.87h-2.0zM343.6 20.83h4.0v1.87h-4.0zM381.6 20.83h2.0v1.87h-2.0zM421.7 20.83h2.0v1.87h-2.0zM435.7 20.83h2.0v1.87h-2.0zM439.7 20.83h2.0v1.87h-2.0zM445.8 20.83h2.0v1.87h-2.0zM451.8 20.83h2.0v1.87h-2.0zM463.8 20.83h4.0v1.87h-4.0zM501.9 20.83h2.0v1.87h-2.0zM335.5 22.70h2.0v1.87h-2.0zM419.7 22.70h2.0v1.87h-2.0zM423.7 22.70h2.0v1.87h-2.0zM429.7 22.70h2.0v1.87h-2.0zM433.7 22.70h4.0v1.87h-4.0zM439.7 22.70h6.0v1.87h-6.0zM465.8 22.70h2.0v1.87h-2.0zM479.8 22.70h2.0v1.87h-2.0zM491.9 22.70h4.0v1.87h-4.0zM497.9 22.70h2.0v1.87h-2.0zM501.9 22.70h6.0v1.87h-6.0zM511.9 22.70h2.0v1.87h-2.0zM337.5 24.57h2.0v1.87h-2.0zM349.6 24.57h2.0v1.87h-2.0zM389.6 24.57h2.0v1.87h-2.0zM423.7 24.57h2.0v1.87h-2.0zM433.7 24.57h2.0v1.87h-2.0zM441.8 24.57h4.0v1.87h-4.0zM455.8 24.57h2.0v1.87h-2.0zM485.8 24.57h2.0v1.87h-2.0zM491.9 24.57h2.0v1.87h-2.0zM503.9 24.57h2.0v1.87h-2.0zM509.9 24.57h2.0v1.87h-2.0zM321.5 26.44h2.0v1.87h-2.0zM341.6 26.44h2.0v1.87h-2.0zM363.6 26.44h2.0v1.87h-2.0zM385.6 26.44h4.0v1.87h-4.0zM395.7 26.44h2.0v1.87h-2.0zM399.7 26.44h2.0v1.87h-2.0zM417.7 26.44h2.0v1.87h-2.0zM423.7 26.44h6.0v1.87h-6.0zM433.7 26.44h4.0v1.87h-4.0zM441.8 26.44h2.0v1.87h-2.0zM449.8 26.44h4.0v1.87h-4.0zM459.8 26.44h4.0v1.87h-4.0zM413.7 28.31h2.0v1.87h-2.0zM417.7 28.31h4.0v1.87h-4.0zM423.7 28.31h8.0v1.87h-8.0zM435.7 28.31h2.0v1.87h-2.0zM451.8 28.31h4.0v1.87h-4.0zM489.8 28.31h2.0v1.87h-2.0zM495.9 28.31h2.0v1.87h-2.0zM501.9 28.31h4.0v1.87h-4.0zM507.9 28.31h4.0v1.87h-4.0zM413.7 30.18h2.0v1.87h-2.0zM419.7 30.18h2.0v1.87h-2.0zM431.7 30.18h10.0v1.87h-10.0zM443.8 30.18h2.0v1.87h-2.0zM447.8 30.18h4.0v1.87h-4.0zM463.8 30.18h2.0v1.87h-2.0zM479.8 30.18h2.0v1.87h-2.0zM493.9 30.18h2.0v1.87h-2.0zM499.9 30.18h6.0v1.87h-6.0zM507.9 30.18h2.0v1.87h-2.0zM415.7 32.05h4.0v1.87h-4.0zM429.7 32.05h4.0v1.87h-4.0zM435.7 32.05h4.0v1.87h-4.0zM443.8 32.05h4.0v1.87h-4.0zM451.8 32.05h2.0v1.87h-2.0zM465.8 32.05h2.0v1.87h-2.0zM489.8 32.05h2.0v1.87h-2.0zM507.9 32.05h2.0v1.87h-2.0zM317.5 33.92h2.0v1.87h-2.0zM365.6 33.92h2.0v1.87h-2.0zM415.7 33.92h6.0v1.87h-6.0zM425.7 33.92h2.0v1.87h-2.0zM435.7 33.92h2.0v1.87h-2.0zM447.8 33.92h2.0v1.87h-2.0zM451.8 33.92h2.0v1.87h-2.0zM459.8 33.92h4.0v1.87h-4.0zM475.8 33.92h2.0v1.87h-2.0zM481.8 33.92h2.0v1.87h-2.0zM507.9 33.92h6.0v1.87h-6.0zM329.5 35.79h2.0v1.87h-2.0zM377.6 35.79h2.0v1.87h-2.0zM417.7 35.79h2.0v1.87h-2.0zM427.7 35.79h2.0v1.87h-2.0zM431.7 35.79h6.0v1.87h-6.0zM443.8 35.79h2.0v1.87h-2.0zM457.8 35.79h2.0v1.87h-2.0zM465.8 35.79h2.0v1.87h-2.0zM491.9 35.79h2.0v1.87h-2.0zM507.9 35.79h2.0v1.87h-2.0zM415.7 37.66h2.0v1.87h-2.0zM421.7 37.66h2.0v1.87h-2.0zM425.7 37.66h4.0v1.87h-4.0zM433.7 37.66h4.0v1.87h-4.0zM445.8 37.66h2.0v1.87h-2.0zM449.8 37.66h4.0v1.87h-4.0zM467.8 37.66h2.0v1.87h-2.0zM499.9 37.66h4.0v1.87h-4.0zM509.9 37.66h2.0v1.87h-2.0zM359.6 39.53h2.0v1.87h-2.0zM363.6 39.53h2.0v1.87h-2.0zM399.7 39.53h2.0v1.87h-2.0zM407.7 39.53h2.0v1.87h-2.0zM419.7 39.53h2.0v1.87h-2.0zM425.7 39.53h2.0v1.87h-2.0zM429.7 39.53h2.0v1.87h-2.0zM439.7 39.53h2.0v1.87h-2.0zM447.8 39.53h2.0v1.87h-2.0zM459.8 39.53h2.0v1.87h-2.0zM465.8 39.53h2.0v1.87h-2.0zM471.8 39.53h2.0v1.87h-2.0zM491.9 39.53h2.0v1.87h-2.0zM499.9 39.53h2.0v1.87h-2.0zM507.9 39.53h2.0v1.87h-2.0zM513.9 39.53h2.0v1.87h-2.0zM323.5 41.40h2.0v1.87h-2.0zM349.6 41.40h2.0v1.87h-2.0zM405.7 41.40h2.0v1.87h-2.0zM415.7 41.40h4.0v1.87h-4.0zM425.7 41.40h2.0v1.87h-2.0zM429.7 41.40h2.0v1.87h-2.0zM433.7 41.40h2.0v1.87h-2.0zM437.7 41.40h4.0v1.87h-4.0zM451.8 41.40h2.0v1.87h-2.0zM477.8 41.40h2.0v1.87h-2.0zM489.8 41.40h2.0v1.87h-2.0zM509.9 41.40h6.0v1.87h-6.0zM317.5 43.27h2.0v1.87h-2.0zM383.6 43.27h2.0v1.87h-2.0zM421.7 43.27h6.0v1.87h-6.0zM429.7 43.27h2.0v1.87h-2.0zM433.7 43.27h2.0v1.87h-2.0zM437.7 43.27h6.0v1.87h-6.0zM449.8 43.27h4.0v1.87h-4.0zM473.8 43.27h2.0v1.87h-2.0zM479.8 43.27h2.0v1.87h-2.0zM357.6 45.14h2.0v1.87h-2.0zM409.7 45.14h2.0v1.87h-2.0zM413.7 45.14h2.0v1.87h-2.0zM425.7 45.14h2.0v1.87h-2.0zM429.7 45.14h4.0v1.87h-4.0zM435.7 45.14h4.0v1.87h-4.0zM441.8 45.14h4.0v1.87h-4.0zM455.8 45.14h4.0v1.87h-4.0zM473.8 45.14h2.0v1.87h-2.0zM321.5 47.01h2.0v1.87h-2.0zM359.6 47.01h2.0v1.87h-2.0zM363.6 47.01h2.0v1.87h-2.0zM421.7 47.01h2.0v1.87h-2.0zM427.7 47.01h2.0v1.87h-2.0zM437.7 47.01h2.0v1.87h-2.0zM441.8 47.01h10.0v1.87h-10.0zM473.8 47.01h2.0v1.87h-2.0zM489.8 47.01h2.0v1.87h-2.0zM403.7 48.88h2.0v1.87h-2.0zM423.7 48.88h4.0v1.87h-4.0zM437.7 48.88h4.0v1.87h-4.0zM449.8 48.88h2.0v1.87h-2.0zM453.8 48.88h2.0v1.87h-2.0zM469.8 48.88h2.0v1.87h-2.0zM509.9 48.88h2.0v1.87h-2.0zM359.6 50.75h2.0v1.87h-2.0zM413.7 50.75h6.0v1.87h-6.0zM421.7 50.75h6.0v1.87h-6.0zM435.7 50.75h4.0v1.87h-4.0zM447.8 50.75h2.0v1.87h-2.0zM459.8 50.75h2.0v1.87h-2.0zM483.8 50.75h2.0v1.87h-2.0zM513.9 50.75h2.0v1.87h-2.0zM379.6 52.62h2.0v1.87h-2.0zM387.6 52.62h2.0v1.87h-2.0zM413.7 52.62h2.0v1.87h-2.0zM417.7 52.62h2.0v1.87h-2.0zM421.7 52.62h4.0v1.87h-4.0zM431.7 52.62h2.0v1.87h-2.0zM437.7 52.62h2.0v1.87h-2.0zM447.8 52.62h2.0v1.87h-2.0zM457.8 52.62h2.0v1.87h-2.0zM461.8 52.62h2.0v1.87h-2.0zM471.8 52.62h2.0v1.87h-2.0zM477.8 52.62h2.0v1.87h-2.0zM485.8 52.62h2.0v1.87h-2.0zM503.9 52.62h2.0v1.87h-2.0zM509.9 52.62h4.0v1.87h-4.0zM319.5 54.49h2.0v1.87h-2.0zM347.6 54.49h2.0v1.87h-2.0zM407.7 54.49h2.0v1.87h-2.0zM413.7 54.49h8.0v1.87h-8.0zM425.7 54.49h4.0v1.87h-4.0zM431.7 54.49h2.0v1.87h-2.0zM437.7 54.49h4.0v1.87h-4.0zM445.8 54.49h2.0v1.87h-2.0zM455.8 54.49h2.0v1.87h-2.0zM465.8 54.49h2.0v1.87h-2.0zM469.8 54.49h4.0v1.87h-4.0zM487.8 54.49h2.0v1.87h-2.0zM505.9 54.49h2.0v1.87h-2.0zM511.9 54.49h2.0v1.87h-2.0zM357.6 56.36h2.0v1.87h-2.0zM363.6 56.36h4.0v1.87h-4.0zM387.6 56.36h2.0v1.87h-2.0zM417.7 56.36h4.0v1.87h-4.0zM423.7 56.36h2.0v1.87h-2.0zM441.8 56.36h2.0v1.87h-2.0zM449.8 56.36h2.0v1.87h-2.0zM459.8 56.36h2.0v1.87h-2.0zM473.8 56.36h4.0v1.87h-4.0zM491.9 56.36h2.0v1.87h-2.0zM505.9 56.36h2.0v1.87h-2.0zM511.9 56.36h4.0v1.87h-4.0zM319.5 58.23h2.0v1.87h-2.0zM415.7 58.23h4.0v1.87h-4.0zM421.7 58.23h2.0v1.87h-2.0zM431.7 58.23h4.0v1.87h-4.0zM443.8 58.23h4.0v1.87h-4.0zM483.8 58.23h4.0v1.87h-4.0zM349.6 60.10h2.0v1.87h-2.0zM357.6 60.10h2.0v1.87h-2.0zM413.7 60.10h6.0v1.87h-6.0zM421.7 60.10h12.0v1.87h-12.0zM435.7 60.10h2.0v1.87h-2.0zM439.7 60.10h2.0v1.87h-2.0zM445.8 60.10h2.0v1.87h-2.0zM449.8 60.10h4.0v1.87h-4.0zM457.8 60.10h2.0v1.87h-2.0zM463.8 60.10h2.0v1.87h-2.0zM471.8 60.10h4.0v1.87h-4.0zM493.9 60.10h2.0v1.87h-2.0zM513.9 60.10h2.0v1.87h-2.0zM331.5 61.97h2.0v1.87h-2.0zM343.6 61.97h2.0v1.87h-2.0zM365.6 61.97h2.0v1.87h-2.0zM385.6 61.97h2.0v1.87h-2.0zM413.7 61.97h2.0v1.87h-2.0zM417.7 61.97h2.0v1.87h-2.0zM423.7 61.97h2.0v1.87h-2.0zM429.7 61.97h4.0v1.87h-4.0zM435.7 61.97h2.0v1.87h-2.0zM439.7 61.97h2.0v1.87h-2.0zM445.8 61.97h4.0v1.87h-4.0zM457.8 61.97h4.0v1.87h-4.0zM469.8 61.97h2.0v1.87h-2.0zM483.8 61.97h2.0v1.87h-2.0zM491.9 61.97h4.0v1.87h-4.0zM499.9 61.97h2.0v1.87h-2.0zM503.9 61.97h6.0v1.87h-6.0zM513.9 61.97h2.0v1.87h-2.0zM371.6 63.84h2.0v1.87h-2.0zM423.7 63.84h2.0v1.87h-2.0zM429.7 63.84h2.0v1.87h-2.0zM439.7 63.84h4.0v1.87h-4.0zM457.8 63.84h2.0v1.87h-2.0zM479.8 63.84h2.0v1.87h-2.0zM497.9 63.84h4.0v1.87h-4.0zM509.9 63.84h2.0v1.87h-2.0zM513.9 63.84h2.0v1.87h-2.0zM367.6 65.71h2.0v1.87h-2.0zM407.7 65.71h2.0v1.87h-2.0zM415.7 65.71h4.0v1.87h-4.0zM425.7 65.71h2.0v1.87h-2.0zM431.7 65.71h2.0v1.87h-2.0zM441.8 65.71h4.0v1.87h-4.0zM447.8 65.71h2.0v1.87h-2.0zM451.8 65.71h6.0v1.87h-6.0zM463.8 65.71h4.0v1.87h-4.0zM473.8 65.71h2.0v1.87h-2.0zM477.8 65.71h2.0v1.87h-2.0zM481.8 65.71h2.0v1.87h-2.0zM485.8 65.71h2.0v1.87h-2.0zM495.9 65.71h2.0v1.87h-2.0zM501.9 65.71h2.0v1.87h-2.0zM507.9 65.71h2.0v1.87h-2.0zM419.7 67.58h2.0v1.87h-2.0zM425.7 67.58h4.0v1.87h-4.0zM433.7 67.58h2.0v1.87h-2.0zM437.7 67.58h4.0v1.87h-4.0zM457.8 67.58h2.0v1.87h-2.0zM467.8 67.58h4.0v1.87h-4.0zM475.8 67.58h4.0v1.87h-4.0zM483.8 67.58h6.0v1.87h-6.0zM493.9 67.58h2.0v1.87h-2.0zM341.6 69.45h2.0v1.87h-2.0zM345.6 69.45h2.0v1.87h-2.0zM373.6 69.45h2.0v1.87h-2.0zM377.6 69.45h2.0v1.87h-2.0zM413.7 69.45h2.0v1.87h-2.0zM417.7 69.45h4.0v1.87h-4.0zM427.7 69.45h4.0v1.87h-4.0zM433.7 69.45h2.0v1.87h-2.0zM437.7 69.45h4.0v1.87h-4.0zM455.8 69.45h2.0v1.87h-2.0zM461.8 69.45h2.0v1.87h-2.0zM465.8 69.45h2.0v1.87h-2.0zM473.8 69.45h2.0v1.87h-2.0zM481.8 69.45h2.0v1.87h-2.0zM485.8 69.45h6.0v1.87h-6.0zM505.9 69.45h2.0v1.87h-2.0zM513.9 69.45h2.0v1.87h-2.0zM413.7 71.32h2.0v1.87h-2.0zM417.7 71.32h2.0v1.87h-2.0zM427.7 71.32h4.0v1.87h-4.0zM439.7 71.32h6.0v1.87h-6.0zM449.8 71.32h4.0v1.87h-4.0zM461.8 71.32h6.0v1.87h-6.0zM473.8 71.32h2.0v1.87h-2.0zM481.8 71.32h2.0v1.87h-2.0zM485.8 71.32h2.0v1.87h-2.0zM491.9 71.32h4.0v1.87h-4.0zM501.9 71.32h2.0v1.87h-2.0zM509.9 71.32h2.0v1.87h-2.0zM513.9 71.32h2.0v1.87h-2.0zM321.5 73.19h2.0v1.87h-2.0zM333.5 73.19h2.0v1.87h-2.0zM377.6 73.19h2.0v1.87h-2.0zM395.7 73.19h6.0v1.87h-6.0zM417.7 73.19h4.0v1.87h-4.0zM425.7 73.19h6.0v1.87h-6.0zM437.7 73.19h6.0v1.87h-6.0zM449.8 73.19h2.0v1.87h-2.0zM457.8 73.19h2.0v1.87h-2.0zM461.8 73.19h4.0v1.87h-4.0zM471.8 73.19h4.0v1.87h-4.0zM485.8 73.19h6.0v1.87h-6.0zM507.9 73.19h2.0v1.87h-2.0zM323.5 75.06h2.0v1.87h-2.0zM377.6 75.06h2.0v1.87h-2.0zM401.7 75.06h2.0v1.87h-2.0zM415.7 75.06h2.0v1.87h-2.0zM421.7 75.06h2.0v1.87h-2.0zM431.7 75.06h2.0v1.87h-2.0zM443.8 75.06h2.0v1.87h-2.0zM447.8 75.06h2.0v1.87h-2.0zM453.8 75.06h6.0v1.87h-6.0zM463.8 75.06h2.0v1.87h-2.0zM467.8 75.06h2.0v1.87h-2.0zM477.8 75.06h2.0v1.87h-2.0zM481.8 75.06h2.0v1.87h-2.0zM485.8 75.06h4.0v1.87h-4.0zM497.9 75.06h8.0v1.87h-8.0zM383.6 76.93h2.0v1.87h-2.0zM413.7 76.93h2.0v1.87h-2.0zM417.7 76.93h2.0v1.87h-2.0zM423.7 76.93h6.0v1.87h-6.0zM431.7 76.93h2.0v1.87h-2.0zM437.7 76.93h4.0v1.87h-4.0zM445.8 76.93h4.0v1.87h-4.0zM455.8 76.93h2.0v1.87h-2.0zM469.8 76.93h2.0v1.87h-2.0zM479.8 76.93h2.0v1.87h-2.0zM485.8 76.93h2.0v1.87h-2.0zM491.9 76.93h2.0v1.87h-2.0zM495.9 76.93h2.0v1.87h-2.0zM501.9 76.93h4.0v1.87h-4.0zM509.9 76.93h2.0v1.87h-2.0zM321.5 78.80h2.0v1.87h-2.0zM385.6 78.80h2.0v1.87h-2.0zM413.7 78.80h4.0v1.87h-4.0zM419.7 78.80h2.0v1.87h-2.0zM425.7 78.80h2.0v1.87h-2.0zM435.7 78.80h2.0v1.87h-2.0zM439.7 78.80h10.0v1.87h-10.0zM453.8 78.80h4.0v1.87h-4.0zM469.8 78.80h4.0v1.87h-4.0zM475.8 78.80h2.0v1.87h-2.0zM479.8 78.80h2.0v1.87h-2.0zM485.8 78.80h6.0v1.87h-6.0zM497.9 78.80h2.0v1.87h-2.0zM505.9 78.80h4.0v1.87h-4.0zM511.9 78.80h4.0v1.87h-4.0zM333.5 80.67h4.0v1.87h-4.0zM415.7 80.67h6.0v1.87h-6.0zM423.7 80.67h2.0v1.87h-2.0zM427.7 80.67h4.0v1.87h-4.0zM435.7 80.67h6.0v1.87h-6.0zM443.8 80.67h2.0v1.87h-2.0zM447.8 80.67h2.0v1.87h-2.0zM451.8 80.67h2.0v1.87h-2.0zM455.8 80.67h2.0v1.87h-2.0zM461.8 80.67h2.0v1.87h-2.0zM479.8 80.67h2.0v1.87h-2.0zM485.8 80.67h4.0v1.87h-4.0zM491.9 80.67h2.0v1.87h-2.0zM497.9 80.67h4.0v1.87h-4.0zM509.9 80.67h4.0v1.87h-4.0zM323.5 82.54h2.0v1.87h-2.0zM339.5 82.54h2.0v1.87h-2.0zM371.6 82.54h2.0v1.87h-2.0zM395.7 82.54h2.0v1.87h-2.0zM413.7 82.54h8.0v1.87h-8.0zM425.7 82.54h2.0v1.87h-2.0zM431.7 82.54h4.0v1.87h-4.0zM441.8 82.54h4.0v1.87h-4.0zM447.8 82.54h2.0v1.87h-2.0zM455.8 82.54h2.0v1.87h-2.0zM463.8 82.54h4.0v1.87h-4.0zM471.8 82.54h6.0v1.87h-6.0zM479.8 82.54h10.0v1.87h-10.0zM495.9 82.54h4.0v1.87h-4.0zM501.9 82.54h2.0v1.87h-2.0zM509.9 82.54h2.0v1.87h-2.0zM315.5 84.41h4.0v1.87h-4.0zM349.6 84.41h2.0v1.87h-2.0zM377.6 84.41h2.0v1.87h-2.0zM413.7 84.41h4.0v1.87h-4.0zM419.7 84.41h2.0v1.87h-2.0zM423.7 84.41h8.0v1.87h-8.0zM435.7 84.41h4.0v1.87h-4.0zM443.8 84.41h2.0v1.87h-2.0zM447.8 84.41h2.0v1.87h-2.0zM453.8 84.41h2.0v1.87h-2.0zM459.8 84.41h4.0v1.87h-4.0zM467.8 84.41h8.0v1.87h-8.0zM477.8 84.41h2.0v1.87h-2.0zM481.8 84.41h2.0v1.87h-2.0zM485.8 84.41h2.0v1.87h-2.0zM495.9 84.41h2.0v1.87h-2.0zM499.9 84.41h6.0v1.87h-6.0zM511.9 84.41h2.0v1.87h-2.0zM319.5 86.28h2.0v1.87h-2.0zM393.7 86.28h2.0v1.87h-2.0zM415.7 86.28h4.0v1.87h-4.0zM425.7 86.28h2.0v1.87h-2.0zM435.7 86.28h4.0v1.87h-4.0zM441.8 86.28h6.0v1.87h-6.0zM449.8 86.28h4.0v1.87h-4.0zM455.8 86.28h2.0v1.87h-2.0zM459.8 86.28h2.0v1.87h-2.0zM463.8 86.28h4.0v1.87h-4.0zM471.8 86.28h2.0v1.87h-2.0zM477.8 86.28h2.0v1.87h-2.0zM483.8 86.28h4.0v1.87h-4.0zM489.8 86.28h6.0v1.87h-6.0zM499.9 86.28h6.0v1.87h-6.0zM509.9 86.28h2.0v1.87h-2.0zM513.9 86.28h2.0v1.87h-2.0zM357.6 88.15h2.0v1.87h-2.0zM381.6 88.15h2.0v1.87h-2.0zM413.7 88.15h10.0v1.87h-10.0zM425.7 88.15h2.0v1.87h-2.0zM431.7 88.15h2.0v1.87h-2.0zM435.7 88.15h6.0v1.87h-6.0zM443.8 88.15h2.0v1.87h-2.0zM449.8 88.15h4.0v1.87h-4.0zM455.8 88.15h2.0v1.87h-2.0zM463.8 88.15h10.0v1.87h-10.0zM475.8 88.15h2.0v1.87h-2.0zM481.8 88.15h2.0v1.87h-2.0zM489.8 88.15h6.0v1.87h-6.0zM503.9 88.15h8.0v1.87h-8.0zM513.9 88.15h2.0v1.87h-2.0zM359.6 90.02h2.0v1.87h-2.0zM415.7 90.02h10.0v1.87h-10.0zM429.7 90.02h4.0v1.87h-4.0zM435.7 90.02h2.0v1.87h-2.0zM439.7 90.02h2.0v1.87h-2.0zM457.8 90.02h2.0v1.87h-2.0zM461.8 90.02h4.0v1.87h-4.0zM467.8 90.02h2.0v1.87h-2.0zM477.8 90.02h2.0v1.87h-2.0zM483.8 90.02h2.0v1.87h-2.0zM487.8 90.02h2.0v1.87h-2.0zM493.9 90.02h2.0v1.87h-2.0zM497.9 90.02h2.0v1.87h-2.0zM409.7 91.89h4.0v1.87h-4.0zM423.7 91.89h4.0v1.87h-4.0zM429.7 91.89h2.0v1.87h-2.0zM435.7 91.89h2.0v1.87h-2.0zM441.8 91.89h2.0v1.87h-2.0zM447.8 91.89h2.0v1.87h-2.0zM453.8 91.89h2.0v1.87h-2.0zM457.8 91.89h2.0v1.87h-2.0zM463.8 91.89h2.0v1.87h-2.0zM467.8 91.89h2.0v1.87h-2.0zM475.8 91.89h2.0v1.87h-2.0zM481.8 91.89h2.0v1.87h-2.0zM489.8 91.89h2.0v1.87h-2.0zM503.9 91.89h2.0v1.87h-2.0zM509.9 91.89h2.0v1.87h-2.0zM355.6 93.76h2.0v1.87h-2.0zM365.6 93.76h2.0v1.87h-2.0zM393.7 93.76h2.0v1.87h-2.0zM405.7 93.76h2.0v1.87h-2.0zM417.7 93.76h4.0v1.87h-4.0zM427.7 93.76h2.0v1.87h-2.0zM435.7 93.76h2.0v1.87h-2.0zM441.8 93.76h2.0v1.87h-2.0zM445.8 93.76h4.0v1.87h-4.0zM455.8 93.76h4.0v1.87h-4.0zM461.8 93.76h2.0v1.87h-2.0zM465.8 93.76h4.0v1.87h-4.0zM473.8 93.76h2.0v1.87h-2.0zM477.8 93.76h4.0v1.87h-4.0zM483.8 93.76h2.0v1.87h-2.0zM489.8 93.76h2.0v1.87h-2.0zM493.9 93.76h6.0v1.87h-6.0zM511.9 93.76h2.0v1.87h-2.0zM421.7 95.63h2.0v1.87h-2.0zM425.7 95.63h2.0v1.87h-2.0zM429.7 95.63h4.0v1.87h-4.0zM441.8 95.63h8.0v1.87h-8.0zM451.8 95.63h6.0v1.87h-6.0zM463.8 95.63h4.0v1.87h-4.0zM471.8 95.63h2.0v1.87h-2.0zM477.8 95.63h2.0v1.87h-2.0zM481.8 95.63h2.0v1.87h-2.0zM485.8 95.63h4.0v1.87h-4.0zM491.9 95.63h2.0v1.87h-2.0zM495.9 95.63h2.0v1.87h-2.0zM509.9 95.63h4.0v1.87h-4.0zM325.5 97.50h2.0v1.87h-2.0zM349.6 97.50h2.0v1.87h-2.0zM359.6 97.50h2.0v1.87h-2.0zM397.7 97.50h2.0v1.87h-2.0zM413.7 97.50h2.0v1.87h-2.0zM417.7 97.50h2.0v1.87h-2.0zM421.7 97.50h4.0v1.87h-4.0zM429.7 97.50h2.0v1.87h-2.0zM441.8 97.50h6.0v1.87h-6.0zM451.8 97.50h2.0v1.87h-2.0zM457.8 97.50h2.0v1.87h-2.0zM461.8 97.50h4.0v1.87h-4.0zM467.8 97.50h2.0v1.87h-2.0zM473.8 97.50h4.0v1.87h-4.0zM501.9 97.50h4.0v1.87h-4.0zM507.9 97.50h2.0v1.87h-2.0zM513.9 97.50h2.0v1.87h-2.0zM409.7 99.37h2.0v1.87h-2.0zM415.7 99.37h2.0v1.87h-2.0zM419.7 99.37h12.0v1.87h-12.0zM437.7 99.37h2.0v1.87h-2.0zM441.8 99.37h2.0v1.87h-2.0zM445.8 99.37h8.0v1.87h-8.0zM455.8 99.37h12.0v1.87h-12.0zM469.8 99.37h4.0v1.87h-4.0zM475.8 99.37h2.0v1.87h-2.0zM485.8 99.37h6.0v1.87h-6.0zM493.9 99.37h4.0v1.87h-4.0zM503.9 99.37h2.0v1.87h-2.0zM509.9 99.37h6.0v1.87h-6.0zM345.6 101.24h2.0v1.87h-2.0zM409.7 101.24h2.0v1.87h-2.0zM415.7 101.24h4.0v1.87h-4.0zM423.7 101.24h2.0v1.87h-2.0zM429.7 101.24h2.0v1.87h-2.0zM433.7 101.24h14.0v1.87h-14.0zM451.8 101.24h2.0v1.87h-2.0zM455.8 101.24h2.0v1.87h-2.0zM467.8 101.24h2.0v1.87h-2.0zM483.8 101.24h6.0v1.87h-6.0zM493.9 101.24h2.0v1.87h-2.0zM497.9 101.24h2.0v1.87h-2.0zM501.9 101.24h2.0v1.87h-2.0zM505.9 101.24h2.0v1.87h-2.0zM509.9 101.24h2.0v1.87h-2.0zM513.9 101.24h2.0v1.87h-2.0zM329.5 103.11h2.0v1.87h-2.0zM339.5 103.11h2.0v1.87h-2.0zM373.6 103.11h2.0v1.87h-2.0zM393.7 103.11h2.0v1.87h-2.0zM413.7 103.11h2.0v1.87h-2.0zM421.7 103.11h4.0v1.87h-4.0zM427.7 103.11h4.0v1.87h-4.0zM441.8 103.11h4.0v1.87h-4.0zM447.8 103.11h6.0v1.87h-6.0zM455.8 103.11h4.0v1.87h-4.0zM465.8 103.11h6.0v1.87h-6.0zM479.8 103.11h2.0v1.87h-2.0zM487.8 103.11h2.0v1.87h-2.0zM491.9 103.11h4.0v1.87h-4.0zM497.9 103.11h2.0v1.87h-2.0zM503.9 103.11h2.0v1.87h-2.0zM509.9 103.11h4.0v1.87h-4.0zM391.7 104.98h2.0v1.87h-2.0zM421.7 104.98h4.0v1.87h-4.0zM427.7 104.98h10.0v1.87h-10.0zM445.8 104.98h2.0v1.87h-2.0zM453.8 104.98h2.0v1.87h-2.0zM461.8 104.98h2.0v1.87h-2.0zM467.8 104.98h4.0v1.87h-4.0zM473.8 104.98h2.0v1.87h-2.0zM481.8 104.98h4.0v1.87h-4.0zM489.8 104.98h2.0v1.87h-2.0zM505.9 104.98h2.0v1.87h-2.0zM509.9 104.98h2.0v1.87h-2.0zM513.9 104.98h2.0v1.87h-2.0zM351.6 106.85h2.0v1.87h-2.0zM371.6 106.85h2.0v1.87h-2.0zM393.7 106.85h2.0v1.87h-2.0zM409.7 106.85h2.0v1.87h-2.0zM415.7 106.85h4.0v1.87h-4.0zM421.7 106.85h2.0v1.87h-2.0zM425.7 106.85h4.0v1.87h-4.0zM435.7 106.85h8.0v1.87h-8.0zM445.8 106.85h4.0v1.87h-4.0zM455.8 106.85h2.0v1.87h-2.0zM465.8 106.85h2.0v1.87h-2.0zM471.8 106.85h2.0v1.87h-2.0zM475.8 106.85h2.0v1.87h-2.0zM483.8 106.85h2.0v1.87h-2.0zM491.9 106.85h2.0v1.87h-2.0zM495.9 106.85h4.0v1.87h-4.0zM501.9 106.85h6.0v1.87h-6.0zM509.9 106.85h2.0v1.87h-2.0zM413.7 108.72h2.0v1.87h-2.0zM427.7 108.72h6.0v1.87h-6.0zM437.7 108.72h6.0v1.87h-6.0zM449.8 108.72h10.0v1.87h-10.0zM473.8 108.72h4.0v1.87h-4.0zM479.8 108.72h6.0v1.87h-6.0zM487.8 108.72h4.0v1.87h-4.0zM493.9 108.72h6.0v1.87h-6.0zM501.9 108.72h8.0v1.87h-8.0zM511.9 108.72h4.0v1.87h-4.0zM387.6 110.59h2.0v1.87h-2.0zM413.7 110.59h4.0v1.87h-4.0zM423.7 110.59h2.0v1.87h-2.0zM427.7 110.59h2.0v1.87h-2.0zM433.7 110.59h2.0v1.87h-2.0zM441.8 110.59h8.0v1.87h-8.0zM453.8 110.59h8.0v1.87h-8.0zM465.8 110.59h2.0v1.87h-2.0zM471.8 110.59h2.0v1.87h-2.0zM481.8 110.59h4.0v1.87h-4.0zM489.8 110.59h2.0v1.87h-2.0zM493.9 110.59h2.0v1.87h-2.0zM501.9 110.59h6.0v1.87h-6.0zM509.9 110.59h4.0v1.87h-4.0zM357.6 112.46h2.0v1.87h-2.0zM391.7 112.46h2.0v1.87h-2.0zM415.7 112.46h2.0v1.87h-2.0zM419.7 112.46h2.0v1.87h-2.0zM427.7 112.46h6.0v1.87h-6.0zM437.7 112.46h2.0v1.87h-2.0zM441.8 112.46h6.0v1.87h-6.0zM453.8 112.46h2.0v1.87h-2.0zM461.8 112.46h2.0v1.87h-2.0zM465.8 112.46h14.0v1.87h-14.0zM483.8 112.46h4.0v1.87h-4.0zM495.9 112.46h4.0v1.87h-4.0zM501.9 112.46h2.0v1.87h-2.0zM507.9 112.46h2.0v1.87h-2.0zM417.7 114.33h4.0v1.87h-4.0zM423.7 114.33h2.0v1.87h-2.0zM433.7 114.33h4.0v1.87h-4.0zM439.7 114.33h8.0v1.87h-8.0zM455.8 114.33h4.0v1.87h-4.0zM461.8 114.33h2.0v1.87h-2.0zM465.8 114.33h4.0v1.87h-4.0zM473.8 114.33h2.0v1.87h-2.0zM477.8 114.33h4.0v1.87h-4.0zM483.8 114.33h2.0v1.87h-2.0zM487.8 114.33h4.0v1.87h-4.0zM495.9 114.33h6.0v1.87h-6.0zM503.9 114.33h2.0v1.87h-2.0zM513.9 114.33h2.0v1.87h-2.0zM345.6 116.20h2.0v1.87h-2.0zM387.6 116.20h2.0v1.87h-2.0zM391.7 116.20h2.0v1.87h-2.0zM413.7 116.20h6.0v1.87h-6.0zM425.7 116.20h2.0v1.87h-2.0zM429.7 116.20h4.0v1.87h-4.0zM435.7 116.20h6.0v1.87h-6.0zM443.8 116.20h4.0v1.87h-4.0zM451.8 116.20h6.0v1.87h-6.0zM459.8 116.20h6.0v1.87h-6.0zM469.8 116.20h2.0v1.87h-2.0zM475.8 116.20h2.0v1.87h-2.0zM479.8 116.20h2.0v1.87h-2.0zM483.8 116.20h2.0v1.87h-2.0zM493.9 116.20h2.0v1.87h-2.0zM501.9 116.20h2.0v1.87h-2.0zM505.9 116.20h4.0v1.87h-4.0zM351.6 118.07h2.0v1.87h-2.0zM417.7 118.07h2.0v1.87h-2.0zM421.7 118.07h4.0v1.87h-4.0zM427.7 118.07h4.0v1.87h-4.0zM441.8 118.07h2.0v1.87h-2.0zM453.8 118.07h2.0v1.87h-2.0zM457.8 118.07h4.0v1.87h-4.0zM463.8 118.07h2.0v1.87h-2.0zM467.8 118.07h2.0v1.87h-2.0zM473.8 118.07h4.0v1.87h-4.0zM479.8 118.07h2.0v1.87h-2.0zM487.8 118.07h4.0v1.87h-4.0zM493.9 118.07h2.0v1.87h-2.0zM503.9 118.07h4.0v1.87h-4.0zM511.9 118.07h4.0v1.87h-4.0zM371.6 119.94h4.0v1.87h-4.0zM413.7 119.94h2.0v1.87h-2.0zM417.7 119.94h2.0v1.87h-2.0zM427.7 119.94h2.0v1.87h-2.0zM435.7 119.94h8.0v1.87h-8.0zM457.8 119.94h4.0v1.87h-4.0zM463.8 119.94h2.0v1.87h-2.0zM467.8 119.94h2.0v1.87h-2.0zM475.8 119.94h2.0v1.87h-2.0zM487.8 119.94h2.0v1.87h-2.0zM493.9 119.94h2.0v1.87h-2.0zM497.9 119.94h4.0v1.87h-4.0zM509.9 119.94h4.0v1.87h-4.0zM333.5 121.81h2.0v1.87h-2.0zM415.7 121.81h2.0v1.87h-2.0zM421.7 121.81h2.0v1.87h-2.0zM425.7 121.81h2.0v1.87h-2.0zM435.7 121.81h6.0v1.87h-6.0zM443.8 121.81h2.0v1.87h-2.0zM451.8 121.81h2.0v1.87h-2.0zM455.8 121.81h4.0v1.87h-4.0zM467.8 121.81h2.0v1.87h-2.0zM471.8 121.81h2.0v1.87h-2.0zM475.8 121.81h6.0v1.87h-6.0zM485.8 121.81h4.0v1.87h-4.0zM493.9 121.81h2.0v1.87h-2.0zM497.9 121.81h2.0v1.87h-2.0zM501.9 121.81h2.0v1.87h-2.0zM509.9 121.81h4.0v1.87h-4.0zM319.5 123.68h2.0v1.87h-2.0zM417.7 123.68h4.0v1.87h-4.0zM425.7 123.68h2.0v1.87h-2.0zM429.7 123.68h6.0v1.87h-6.0zM437.7 123.68h12.0v1.87h-12.0zM455.8 123.68h6.0v1.87h-6.0zM463.8 123.68h12.0v1.87h-12.0zM479.8 123.68h4.0v1.87h-4.0zM491.9 123.68h6.0v1.87h-6.0zM503.9 123.68h4.0v1.87h-4.0zM509.9 123.68h2.0v1.87h-2.0zM513.9 123.68h2.0v1.87h-2.0zM333.5 125.55h4.0v1.87h-4.0zM341.6 125.55h12.0v1.87h-12.0zM355.6 125.55h2.0v1.87h-2.0zM361.6 125.55h4.0v1.87h-4.0zM367.6 125.55h6.0v1.87h-6.0zM377.6 125.55h2.0v1.87h-2.0zM391.7 125.55h2.0v1.87h-2.0zM395.7 125.55h4.0v1.87h-4.0zM401.7 125.55h2.0v1.87h-2.0zM405.7 125.55h2.0v1.87h-2.0zM409.7 125.55h2.0v1.87h-2.0zM415.7 125.55h2.0v1.87h-2.0zM421.7 125.55h2.0v1.87h-2.0zM425.7 125.55h4.0v1.87h-4.0zM431.7 125.55h2.0v1.87h-2.0zM435.7 125.55h2.0v1.87h-2.0zM441.8 125.55h2.0v1.87h-2.0zM455.8 125.55h2.0v1.87h-2.0zM461.8 125.55h2.0v1.87h-2.0zM471.8 125.55h2.0v1.87h-2.0zM475.8 125.55h2.0v1.87h-2.0zM487.8 125.55h4.0v1.87h-4.0zM493.9 125.55h2.0v1.87h-2.0zM501.9 125.55h2.0v1.87h-2.0zM505.9 125.55h8.0v1.87h-8.0zM319.5 127.42h2.0v1.87h-2.0zM329.5 127.42h2.0v1.87h-2.0zM335.5 127.42h2.0v1.87h-2.0zM343.6 127.42h4.0v1.87h-4.0zM381.6 127.42h2.0v1.87h-2.0zM385.6 127.42h8.0v1.87h-8.0zM395.7 127.42h2.0v1.87h-2.0zM405.7 127.42h4.0v1.87h-4.0zM411.7 127.42h14.0v1.87h-14.0zM433.7 127.42h2.0v1.87h-2.0zM439.7 127.42h6.0v1.87h-6.0zM447.8 127.42h2.0v1.87h-2.0zM451.8 127.42h4.0v1.87h-4.0zM461.8 127.42h6.0v1.87h-6.0zM471.8 127.42h12.0v1.87h-12.0zM495.9 127.42h2.0v1.87h-2.0zM499.9 127.42h2.0v1.87h-2.0zM503.9 127.42h2.0v1.87h-2.0zM509.9 127.42h6.0v1.87h-6.0zM319.5 129.29h6.0v1.87h-6.0zM331.5 129.29h4.0v1.87h-4.0zM345.6 129.29h2.0v1.87h-2.0zM349.6 129.29h2.0v1.87h-2.0zM353.6 129.29h2.0v1.87h-2.0zM361.6 129.29h4.0v1.87h-4.0zM369.6 129.29h8.0v1.87h-8.0zM383.6 129.29h2.0v1.87h-2.0zM389.6 129.29h8.0v1.87h-8.0zM399.7 129.29h2.0v1.87h-2.0zM403.7 129.29h2.0v1.87h-2.0zM407.7 129.29h2.0v1.87h-2.0zM411.7 129.29h4.0v1.87h-4.0zM417.7 129.29h4.0v1.87h-4.0zM423.7 129.29h6.0v1.87h-6.0zM431.7 129.29h4.0v1.87h-4.0zM443.8 129.29h4.0v1.87h-4.0zM451.8 129.29h2.0v1.87h-2.0zM457.8 129.29h6.0v1.87h-6.0zM467.8 129.29h4.0v1.87h-4.0zM473.8 129.29h4.0v1.87h-4.0zM479.8 129.29h2.0v1.87h-2.0zM489.8 129.29h2.0v1.87h-2.0zM493.9 129.29h4.0v1.87h-4.0zM503.9 129.29h2.0v1.87h-2.0zM511.9 129.29h4.0v1.87h-4.0zM331.5 131.16h2.0v1.87h-2.0zM337.5 131.16h2.0v1.87h-2.0zM341.6 131.16h8.0v1.87h-8.0zM353.6 131.16h2.0v1.87h-2.0zM357.6 131.16h2.0v1.87h-2.0zM361.6 131.16h4.0v1.87h-4.0zM367.6 131.16h4.0v1.87h-4.0zM375.6 131.16h2.0v1.87h-2.0zM379.6 131.16h4.0v1.87h-4.0zM385.6 131.16h2.0v1.87h-2.0zM389.6 131.16h2.0v1.87h-2.0zM401.7 131.16h2.0v1.87h-2.0zM413.7 131.16h2.0v1.87h-2.0zM417.7 131.16h8.0v1.87h-8.0zM427.7 131.16h2.0v1.87h-2.0zM431.7 131.16h2.0v1.87h-2.0zM439.7 131.16h4.0v1.87h-4.0zM447.8 131.16h2.0v1.87h-2.0zM457.8 131.16h6.0v1.87h-6.0zM465.8 131.16h4.0v1.87h-4.0zM471.8 131.16h2.0v1.87h-2.0zM475.8 131.16h8.0v1.87h-8.0zM485.8 131.16h4.0v1.87h-4.0zM491.9 131.16h2.0v1.87h-2.0zM503.9 131.16h4.0v1.87h-4.0zM323.5 133.03h4.0v1.87h-4.0zM333.5 133.03h2.0v1.87h-2.0zM339.5 133.03h2.0v1.87h-2.0zM343.6 133.03h4.0v1.87h-4.0zM357.6 133.03h4.0v1.87h-4.0zM363.6 133.03h2.0v1.87h-2.0zM371.6 133.03h2.0v1.87h-2.0zM375.6 133.03h4.0v1.87h-4.0zM381.6 133.03h2.0v1.87h-2.0zM385.6 133.03h6.0v1.87h-6.0zM393.7 133.03h6.0v1.87h-6.0zM407.7 133.03h8.0v1.87h-8.0zM419.7 133.03h4.0v1.87h-4.0zM427.7 133.03h4.0v1.87h-4.0zM435.7 133.03h8.0v1.87h-8.0zM445.8 133.03h12.0v1.87h-12.0zM461.8 133.03h4.0v1.87h-4.0zM467.8 133.03h4.0v1.87h-4.0zM473.8 133.03h2.0v1.87h-2.0zM477.8 133.03h2.0v1.87h-2.0zM491.9 133.03h2.0v1.87h-2.0zM497.9 133.03h2.0v1.87h-2.0zM513.9 133.03h2.0v1.87h-2.0zM323.5 134.90h2.0v1.87h-2.0zM327.5 134.90h2.0v1.87h-2.0zM333.5 134.90h2.0v1.87h-2.0zM339.5 134.90h2.0v1.87h-2.0zM345.6 134.90h4.0v1.87h-4.0zM351.6 134.90h8.0v1.87h-8.0zM365.6 134.90h2.0v1.87h-2.0zM371.6 134.90h6.0v1.87h-6.0zM379.6 134.90h4.0v1.87h-4.0zM385.6 134.90h4.0v1.87h-4.0zM391.7 134.90h12.0v1.87h-12.0zM413.7 134.90h2.0v1.87h-2.0zM417.7 134.90h4.0v1.87h-4.0zM429.7 134.90h6.0v1.87h-6.0zM437.7 134.90h4.0v1.87h-4.0zM443.8 134.90h6.0v1.87h-6.0zM451.8 134.90h4.0v1.87h-4.0zM457.8 134.90h8.0v1.87h-8.0zM467.8 134.90h6.0v1.87h-6.0zM475.8 134.90h4.0v1.87h-4.0zM481.8 134.90h4.0v1.87h-4.0zM487.8 134.90h2.0v1.87h-2.0zM491.9 134.90h4.0v1.87h-4.0zM497.9 134.90h2.0v1.87h-2.0zM503.9 134.90h4.0v1.87h-4.0zM509.9 134.90h2.0v1.87h-2.0zM513.9 134.90h2.0v1.87h-2.0zM323.5 136.77h4.0v1.87h-4.0zM333.5 136.77h2.0v1.87h-2.0zM337.5 136.77h10.0v1.87h-10.0zM357.6 136.77h8.0v1.87h-8.0zM375.6 136.77h8.0v1.87h-8.0zM385.6 136.77h2.0v1.87h-2.0zM389.6 136.77h2.0v1.87h-2.0zM395.7 136.77h4.0v1.87h-4.0zM409.7 136.77h2.0v1.87h-2.0zM413.7 136.77h2.0v1.87h-2.0zM423.7 136.77h16.0v1.87h-16.0zM451.8 136.77h4.0v1.87h-4.0zM457.8 136.77h2.0v1.87h-2.0zM463.8 136.77h10.0v1.87h-10.0zM475.8 136.77h8.0v1.87h-8.0zM499.9 136.77h2.0v1.87h-2.0zM503.9 136.77h10.0v1.87h-10.0zM329.5 138.64h4.0v1.87h-4.0zM339.5 138.64h2.0v1.87h-2.0zM347.6 138.64h2.0v1.87h-2.0zM351.6 138.64h2.0v1.87h-2.0zM357.6 138.64h2.0v1.87h-2.0zM363.6 138.64h2.0v1.87h-2.0zM367.6 138.64h4.0v1.87h-4.0zM373.6 138.64h2.0v1.87h-2.0zM377.6 138.64h2.0v1.87h-2.0zM381.6 138.64h6.0v1.87h-6.0zM399.7 138.64h4.0v1.87h-4.0zM405.7 138.64h2.0v1.87h-2.0zM421.7 138.64h6.0v1.87h-6.0zM429.7 138.64h2.0v1.87h-2.0zM433.7 138.64h2.0v1.87h-2.0zM443.8 138.64h2.0v1.87h-2.0zM457.8 138.64h2.0v1.87h-2.0zM461.8 138.64h4.0v1.87h-4.0zM467.8 138.64h2.0v1.87h-2.0zM473.8 138.64h8.0v1.87h-8.0zM483.8 138.64h2.0v1.87h-2.0zM487.8 138.64h2.0v1.87h-2.0zM491.9 138.64h2.0v1.87h-2.0zM495.9 138.64h2.0v1.87h-2.0zM505.9 138.64h2.0v1.87h-2.0zM509.9 138.64h6.0v1.87h-6.0zM315.5 140.51h4.0v1.87h-4.0zM329.5 140.51h8.0v1.87h-8.0zM341.6 140.51h2.0v1.87h-2.0zM349.6 140.51h2.0v1.87h-2.0zM353.6 140.51h14.0v1.87h-14.0zM371.6 140.51h4.0v1.87h-4.0zM377.6 140.51h2.0v1.87h-2.0zM381.6 140.51h6.0v1.87h-6.0zM391.7 140.51h4.0v1.87h-4.0zM403.7 140.51h6.0v1.87h-6.0zM415.7 140.51h6.0v1.87h-6.0zM427.7 140.51h2.0v1.87h-2.0zM431.7 140.51h2.0v1.87h-2.0zM445.8 140.51h2.0v1.87h-2.0zM457.8 140.51h10.0v1.87h-10.0zM471.8 140.51h2.0v1.87h-2.0zM477.8 140.51h2.0v1.87h-2.0zM481.8 140.51h2.0v1.87h-2.0zM485.8 140.51h2.0v1.87h-2.0zM489.8 140.51h6.0v1.87h-6.0zM499.9 140.51h4.0v1.87h-4.0zM505.9 140.51h4.0v1.87h-4.0zM511.9 140.51h4.0v1.87h-4.0zM317.5 142.38h2.0v1.87h-2.0zM335.5 142.38h2.0v1.87h-2.0zM345.6 142.38h2.0v1.87h-2.0zM351.6 142.38h2.0v1.87h-2.0zM355.6 142.38h6.0v1.87h-6.0zM363.6 142.38h2.0v1.87h-2.0zM367.6 142.38h4.0v1.87h-4.0zM377.6 142.38h4.0v1.87h-4.0zM389.6 142.38h2.0v1.87h-2.0zM395.7 142.38h2.0v1.87h-2.0zM403.7 142.38h4.0v1.87h-4.0zM409.7 142.38h2.0v1.87h-2.0zM413.7 142.38h2.0v1.87h-2.0zM419.7 142.38h4.0v1.87h-4.0zM429.7 142.38h12.0v1.87h-12.0zM447.8 142.38h4.0v1.87h-4.0zM457.8 142.38h6.0v1.87h-6.0zM467.8 142.38h4.0v1.87h-4.0zM475.8 142.38h6.0v1.87h-6.0zM485.8 142.38h2.0v1.87h-2.0zM489.8 142.38h4.0v1.87h-4.0zM499.9 142.38h2.0v1.87h-2.0zM503.9 142.38h2.0v1.87h-2.0zM513.9 142.38h2.0v1.87h-2.0zM315.5 144.25h2.0v1.87h-2.0zM337.5 144.25h8.0v1.87h-8.0zM347.6 144.25h6.0v1.87h-6.0zM357.6 144.25h6.0v1.87h-6.0zM365.6 144.25h2.0v1.87h-2.0zM369.6 144.25h2.0v1.87h-2.0zM373.6 144.25h2.0v1.87h-2.0zM377.6 144.25h4.0v1.87h-4.0zM383.6 144.25h2.0v1.87h-2.0zM387.6 144.25h4.0v1.87h-4.0zM401.7 144.25h4.0v1.87h-4.0zM407.7 144.25h12.0v1.87h-12.0zM421.7 144.25h2.0v1.87h-2.0zM425.7 144.25h4.0v1.87h-4.0zM431.7 144.25h2.0v1.87h-2.0zM435.7 144.25h2.0v1.87h-2.0zM439.7 144.25h6.0v1.87h-6.0zM451.8 144.25h4.0v1.87h-4.0zM459.8 144.25h6.0v1.87h-6.0zM479.8 144.25h4.0v1.87h-4.0zM497.9 144.25h6.0v1.87h-6.0zM511.9 144.25h2.0v1.87h-2.0zM317.5 146.12h2.0v1.87h-2.0zM321.5 146.12h2.0v1.87h-2.0zM329.5 146.12h2.0v1.87h-2.0zM335.5 146.12h4.0v1.87h-4.0zM343.6 146.12h10.0v1.87h-10.0zM355.6 146.12h4.0v1.87h-4.0zM361.6 146.12h8.0v1.87h-8.0zM371.6 146.12h8.0v1.87h-8.0zM383.6 146.12h6.0v1.87h-6.0zM391.7 146.12h16.0v1.87h-16.0zM409.7 146.12h2.0v1.87h-2.0zM425.7 146.12h6.0v1.87h-6.0zM439.7 146.12h2.0v1.87h-2.0zM447.8 146.12h8.0v1.87h-8.0zM459.8 146.12h2.0v1.87h-2.0zM465.8 146.12h2.0v1.87h-2.0zM475.8 146.12h2.0v1.87h-2.0zM479.8 146.12h2.0v1.87h-2.0zM483.8 146.12h2.0v1.87h-2.0zM489.8 146.12h6.0v1.87h-6.0zM501.9 146.12h10.0v1.87h-10.0zM319.5 147.99h2.0v1.87h-2.0zM325.5 147.99h2.0v1.87h-2.0zM329.5 147.99h2.0v1.87h-2.0zM337.5 147.99h4.0v1.87h-4.0zM347.6 147.99h8.0v1.87h-8.0zM357.6 147.99h4.0v1.87h-4.0zM363.6 147.99h4.0v1.87h-4.0zM371.6 147.99h2.0v1.87h-2.0zM377.6 147.99h4.0v1.87h-4.0zM383.6 147.99h4.0v1.87h-4.0zM393.7 147.99h4.0v1.87h-4.0zM403.7 147.99h4.0v1.87h-4.0zM409.7 147.99h4.0v1.87h-4.0zM415.7 147.99h2.0v1.87h-2.0zM419.7 147.99h6.0v1.87h-6.0zM427.7 147.99h2.0v1.87h-2.0zM435.7 147.99h2.0v1.87h-2.0zM449.8 147.99h2.0v1.87h-2.0zM455.8 147.99h8.0v1.87h-8.0zM465.8 147.99h2.0v1.87h-2.0zM469.8 147.99h4.0v1.87h-4.0zM483.8 147.99h6.0v1.87h-6.0zM491.9 147.99h6.0v1.87h-6.0zM499.9 147.99h2.0v1.87h-2.0zM503.9 147.99h6.0v1.87h-6.0zM511.9 147.99h2.0v1.87h-2.0zM333.5 149.86h2.0v1.87h-2.0zM339.5 149.86h2.0v1.87h-2.0zM343.6 149.86h6.0v1.87h-6.0zM355.6 149.86h6.0v1.87h-6.0zM363.6 149.86h2.0v1.87h-2.0zM367.6 149.86h4.0v1.87h-4.0zM373.6 149.86h4.0v1.87h-4.0zM381.6 149.86h2.0v1.87h-2.0zM385.6 149.86h2.0v1.87h-2.0zM391.7 149.86h8.0v1.87h-8.0zM401.7 149.86h2.0v1.87h-2.0zM405.7 149.86h8.0v1.87h-8.0zM415.7 149.86h4.0v1.87h-4.0zM425.7 149.86h6.0v1.87h-6.0zM433.7 149.86h2.0v1.87h-2.0zM439.7 149.86h2.0v1.87h-2.0zM447.8 149.86h2.0v1.87h-2.0zM451.8 149.86h6.0v1.87h-6.0zM459.8 149.86h2.0v1.87h-2.0zM463.8 149.86h2.0v1.87h-2.0zM467.8 149.86h2.0v1.87h-2.0zM471.8 149.86h2.0v1.87h-2.0zM479.8 149.86h2.0v1.87h-2.0zM483.8 149.86h6.0v1.87h-6.0zM497.9 149.86h2.0v1.87h-2.0zM501.9 149.86h2.0v1.87h-2.0zM505.9 149.86h4.0v1.87h-4.0zM511.9 149.86h4.0v1.87h-4.0zM317.5 151.73h2.0v1.87h-2.0zM321.5 151.73h2.0v1.87h-2.0zM327.5 151.73h6.0v1.87h-6.0zM335.5 151.73h2.0v1.87h-2.0zM339.5 151.73h2.0v1.87h-2.0zM343.6 151.73h2.0v1.87h-2.0zM347.6 151.73h2.0v1.87h-2.0zM353.6 151.73h4.0v1.87h-4.0zM359.6 151.73h2.0v1.87h-2.0zM367.6 151.73h2.0v1.87h-2.0zM371.6 151.73h4.0v1.87h-4.0zM377.6 151.73h6.0v1.87h-6.0zM391.7 151.73h4.0v1.87h-4.0zM397.7 151.73h2.0v1.87h-2.0zM401.7 151.73h4.0v1.87h-4.0zM407.7 151.73h2.0v1.87h-2.0zM411.7 151.73h8.0v1.87h-8.0zM425.7 151.73h2.0v1.87h-2.0zM433.7 151.73h6.0v1.87h-6.0zM445.8 151.73h6.0v1.87h-6.0zM453.8 151.73h6.0v1.87h-6.0zM465.8 151.73h4.0v1.87h-4.0zM471.8 151.73h6.0v1.87h-6.0zM479.8 151.73h2.0v1.87h-2.0zM485.8 151.73h4.0v1.87h-4.0zM491.9 151.73h2.0v1.87h-2.0zM497.9 151.73h2.0v1.87h-2.0zM501.9 151.73h4.0v1.87h-4.0zM507.9 151.73h2.0v1.87h-2.0zM319.5 153.60h2.0v1.87h-2.0zM325.5 153.60h2.0v1.87h-2.0zM329.5 153.60h2.0v1.87h-2.0zM335.5 153.60h8.0v1.87h-8.0zM349.6 153.60h2.0v1.87h-2.0zM355.6 153.60h2.0v1.87h-2.0zM359.6 153.60h4.0v1.87h-4.0zM369.6 153.60h2.0v1.87h-2.0zM375.6 153.60h2.0v1.87h-2.0zM379.6 153.60h6.0v1.87h-6.0zM391.7 153.60h2.0v1.87h-2.0zM397.7 153.60h2.0v1.87h-2.0zM401.7 153.60h6.0v1.87h-6.0zM413.7 153.60h2.0v1.87h-2.0zM417.7 153.60h4.0v1.87h-4.0zM423.7 153.60h4.0v1.87h-4.0zM435.7 153.60h4.0v1.87h-4.0zM459.8 153.60h2.0v1.87h-2.0zM463.8 153.60h8.0v1.87h-8.0zM473.8 153.60h6.0v1.87h-6.0zM485.8 153.60h8.0v1.87h-8.0zM499.9 153.60h4.0v1.87h-4.0zM505.9 153.60h8.0v1.87h-8.0zM315.5 155.47h2.0v1.87h-2.0zM327.5 155.47h2.0v1.87h-2.0zM339.5 155.47h2.0v1.87h-2.0zM343.6 155.47h4.0v1.87h-4.0zM361.6 155.47h2.0v1.87h-2.0zM365.6 155.47h2.0v1.87h-2.0zM373.6 155.47h2.0v1.87h-2.0zM383.6 155.47h6.0v1.87h-6.0zM391.7 155.47h2.0v1.87h-2.0zM395.7 155.47h2.0v1.87h-2.0zM399.7 155.47h2.0v1.87h-2.0zM405.7 155.47h2.0v1.87h-2.0zM409.7 155.47h4.0v1.87h-4.0zM415.7 155.47h2.0v1.87h-2.0zM419.7 155.47h4.0v1.87h-4.0zM425.7 155.47h2.0v1.87h-2.0zM429.7 155.47h2.0v1.87h-2.0zM433.7 155.47h2.0v1.87h-2.0zM437.7 155.47h6.0v1.87h-6.0zM445.8 155.47h6.0v1.87h-6.0zM461.8 155.47h2.0v1.87h-2.0zM465.8 155.47h4.0v1.87h-4.0zM477.8 155.47h10.0v1.87h-10.0zM497.9 155.47h2.0v1.87h-2.0zM501.9 155.47h2.0v1.87h-2.0zM509.9 155.47h6.0v1.87h-6.0zM315.5 157.34h6.0v1.87h-6.0zM327.5 157.34h4.0v1.87h-4.0zM343.6 157.34h2.0v1.87h-2.0zM351.6 157.34h6.0v1.87h-6.0zM361.6 157.34h2.0v1.87h-2.0zM367.6 157.34h2.0v1.87h-2.0zM371.6 157.34h2.0v1.87h-2.0zM375.6 157.34h2.0v1.87h-2.0zM389.6 157.34h2.0v1.87h-2.0zM393.7 157.34h4.0v1.87h-4.0zM407.7 157.34h4.0v1.87h-4.0zM413.7 157.34h8.0v1.87h-8.0zM423.7 157.34h6.0v1.87h-6.0zM435.7 157.34h8.0v1.87h-8.0zM445.8 157.34h12.0v1.87h-12.0zM469.8 157.34h6.0v1.87h-6.0zM477.8 157.34h2.0v1.87h-2.0zM481.8 157.34h2.0v1.87h-2.0zM487.8 157.34h2.0v1.87h-2.0zM493.9 157.34h2.0v1.87h-2.0zM499.9 157.34h12.0v1.87h-12.0zM319.5 159.21h2.0v1.87h-2.0zM325.5 159.21h2.0v1.87h-2.0zM333.5 159.21h4.0v1.87h-4.0zM339.5 159.21h4.0v1.87h-4.0zM345.6 159.21h4.0v1.87h-4.0zM353.6 159.21h6.0v1.87h-6.0zM361.6 159.21h2.0v1.87h-2.0zM371.6 159.21h8.0v1.87h-8.0zM383.6 159.21h2.0v1.87h-2.0zM391.7 159.21h2.0v1.87h-2.0zM399.7 159.21h2.0v1.87h-2.0zM405.7 159.21h4.0v1.87h-4.0zM411.7 159.21h2.0v1.87h-2.0zM417.7 159.21h16.0v1.87h-16.0zM437.7 159.21h6.0v1.87h-6.0zM445.8 159.21h4.0v1.87h-4.0zM455.8 159.21h6.0v1.87h-6.0zM465.8 159.21h10.0v1.87h-10.0zM479.8 159.21h2.0v1.87h-2.0zM485.8 159.21h4.0v1.87h-4.0zM493.9 159.21h2.0v1.87h-2.0zM499.9 159.21h4.0v1.87h-4.0zM513.9 159.21h2.0v1.87h-2.0zM317.5 161.08h4.0v1.87h-4.0zM339.5 161.08h2.0v1.87h-2.0zM343.6 161.08h4.0v1.87h-4.0zM351.6 161.08h2.0v1.87h-2.0zM357.6 161.08h6.0v1.87h-6.0zM365.6 161.08h8.0v1.87h-8.0zM377.6 161.08h2.0v1.87h-2.0zM381.6 161.08h2.0v1.87h-2.0zM395.7 161.08h2.0v1.87h-2.0zM407.7 161.08h2.0v1.87h-2.0zM411.7 161.08h8.0v1.87h-8.0zM421.7 161.08h2.0v1.87h-2.0zM425.7 161.08h2.0v1.87h-2.0zM429.7 161.08h2.0v1.87h-2.0zM433.7 161.08h6.0v1.87h-6.0zM441.8 161.08h16.0v1.87h-16.0zM459.8 161.08h2.0v1.87h-2.0zM463.8 161.08h2.0v1.87h-2.0zM469.8 161.08h2.0v1.87h-2.0zM473.8 161.08h12.0v1.87h-12.0zM487.8 161.08h6.0v1.87h-6.0zM495.9 161.08h2.0v1.87h-2.0zM503.9 161.08h6.0v1.87h-6.0zM513.9 161.08h2.0v1.87h-2.0zM345.6 162.95h4.0v1.87h-4.0zM351.6 162.95h2.0v1.87h-2.0zM357.6 162.95h2.0v1.87h-2.0zM363.6 162.95h6.0v1.87h-6.0zM371.6 162.95h2.0v1.87h-2.0zM375.6 162.95h2.0v1.87h-2.0zM381.6 162.95h4.0v1.87h-4.0zM387.6 162.95h6.0v1.87h-6.0zM397.7 162.95h4.0v1.87h-4.0zM405.7 162.95h2.0v1.87h-2.0zM411.7 162.95h2.0v1.87h-2.0zM415.7 162.95h8.0v1.87h-8.0zM425.7 162.95h12.0v1.87h-12.0zM445.8 162.95h4.0v1.87h-4.0zM451.8 162.95h4.0v1.87h-4.0zM457.8 162.95h6.0v1.87h-6.0zM465.8 162.95h8.0v1.87h-8.0zM475.8 162.95h2.0v1.87h-2.0zM479.8 162.95h4.0v1.87h-4.0zM487.8 162.95h2.0v1.87h-2.0zM495.9 162.95h4.0v1.87h-4.0zM501.9 162.95h2.0v1.87h-2.0zM505.9 162.95h4.0v1.87h-4.0zM511.9 162.95h4.0v1.87h-4.0zM317.5 164.82h2.0v1.87h-2.0zM325.5 164.82h4.0v1.87h-4.0zM337.5 164.82h2.0v1.87h-2.0zM343.6 164.82h2.0v1.87h-2.0zM351.6 164.82h2.0v1.87h-2.0zM357.6 164.82h2.0v1.87h-2.0zM367.6 164.82h4.0v1.87h-4.0zM373.6 164.82h4.0v1.87h-4.0zM385.6 164.82h2.0v1.87h-2.0zM389.6 164.82h2.0v1.87h-2.0zM407.7 164.82h2.0v1.87h-2.0zM411.7 164.82h6.0v1.87h-6.0zM419.7 164.82h4.0v1.87h-4.0zM425.7 164.82h10.0v1.87h-10.0zM437.7 164.82h4.0v1.87h-4.0zM449.8 164.82h2.0v1.87h-2.0zM453.8 164.82h2.0v1.87h-2.0zM459.8 164.82h4.0v1.87h-4.0zM471.8 164.82h2.0v1.87h-2.0zM475.8 164.82h4.0v1.87h-4.0zM483.8 164.82h8.0v1.87h-8.0zM505.9 164.82h2.0v1.87h-2.0zM319.5 166.69h6.0v1.87h-6.0zM327.5 166.69h2.0v1.87h-2.0zM333.5 166.69h2.0v1.87h-2.0zM343.6 166.69h2.0v1.87h-2.0zM347.6 166.69h4.0v1.87h-4.0zM353.6 166.69h6.0v1.87h-6.0zM361.6 166.69h4.0v1.87h-4.0zM369.6 166.69h4.0v1.87h-4.0zM385.6 166.69h6.0v1.87h-6.0zM393.7 166.69h2.0v1.87h-2.0zM399.7 166.69h2.0v1.87h-2.0zM403.7 166.69h2.0v1.87h-2.0zM407.7 166.69h8.0v1.87h-8.0zM419.7 166.69h2.0v1.87h-2.0zM423.7 166.69h2.0v1.87h-2.0zM439.7 166.69h6.0v1.87h-6.0zM447.8 166.69h6.0v1.87h-6.0zM457.8 166.69h4.0v1.87h-4.0zM463.8 166.69h2.0v1.87h-2.0zM467.8 166.69h8.0v1.87h-8.0zM479.8 166.69h2.0v1.87h-2.0zM483.8 166.69h2.0v1.87h-2.0zM487.8 166.69h6.0v1.87h-6.0zM495.9 166.69h4.0v1.87h-4.0zM503.9 166.69h12.0v1.87h-12.0zM319.5 168.56h2.0v1.87h-2.0zM323.5 168.56h2.0v1.87h-2.0zM329.5 168.56h6.0v1.87h-6.0zM339.5 168.56h4.0v1.87h-4.0zM347.6 168.56h2.0v1.87h-2.0zM351.6 168.56h4.0v1.87h-4.0zM357.6 168.56h2.0v1.87h-2.0zM363.6 168.56h4.0v1.87h-4.0zM381.6 168.56h2.0v1.87h-2.0zM393.7 168.56h2.0v1.87h-2.0zM403.7 168.56h2.0v1.87h-2.0zM411.7 168.56h2.0v1.87h-2.0zM415.7 168.56h2.0v1.87h-2.0zM419.7 168.56h2.0v1.87h-2.0zM425.7 168.56h2.0v1.87h-2.0zM429.7 168.56h2.0v1.87h-2.0zM435.7 168.56h2.0v1.87h-2.0zM447.8 168.56h2.0v1.87h-2.0zM451.8 168.56h2.0v1.87h-2.0zM457.8 168.56h4.0v1.87h-4.0zM479.8 168.56h2.0v1.87h-2.0zM483.8 168.56h6.0v1.87h-6.0zM493.9 168.56h4.0v1.87h-4.0zM499.9 168.56h2.0v1.87h-2.0zM503.9 168.56h6.0v1.87h-6.0zM317.5 170.43h2.0v1.87h-2.0zM321.5 170.43h2.0v1.87h-2.0zM329.5 170.43h4.0v1.87h-4.0zM339.5 170.43h2.0v1.87h-2.0zM343.6 170.43h2.0v1.87h-2.0zM349.6 170.43h2.0v1.87h-2.0zM367.6 170.43h6.0v1.87h-6.0zM375.6 170.43h6.0v1.87h-6.0zM383.6 170.43h4.0v1.87h-4.0zM391.7 170.43h4.0v1.87h-4.0zM399.7 170.43h4.0v1.87h-4.0zM409.7 170.43h2.0v1.87h-2.0zM415.7 170.43h8.0v1.87h-8.0zM427.7 170.43h4.0v1.87h-4.0zM435.7 170.43h2.0v1.87h-2.0zM439.7 170.43h2.0v1.87h-2.0zM445.8 170.43h2.0v1.87h-2.0zM453.8 170.43h6.0v1.87h-6.0zM461.8 170.43h2.0v1.87h-2.0zM465.8 170.43h4.0v1.87h-4.0zM471.8 170.43h2.0v1.87h-2.0zM483.8 170.43h4.0v1.87h-4.0zM491.9 170.43h4.0v1.87h-4.0zM503.9 170.43h2.0v1.87h-2.0zM509.9 170.43h6.0v1.87h-6.0zM317.5 172.30h2.0v1.87h-2.0zM327.5 172.30h4.0v1.87h-4.0zM333.5 172.30h2.0v1.87h-2.0zM345.6 172.30h6.0v1.87h-6.0zM353.6 172.30h2.0v1.87h-2.0zM359.6 172.30h8.0v1.87h-8.0zM369.6 172.30h4.0v1.87h-4.0zM377.6 172.30h14.0v1.87h-14.0zM397.7 172.30h2.0v1.87h-2.0zM409.7 172.30h6.0v1.87h-6.0zM419.7 172.30h2.0v1.87h-2.0zM423.7 172.30h2.0v1.87h-2.0zM427.7 172.30h4.0v1.87h-4.0zM441.8 172.30h4.0v1.87h-4.0zM447.8 172.30h2.0v1.87h-2.0zM451.8 172.30h2.0v1.87h-2.0zM455.8 172.30h4.0v1.87h-4.0zM467.8 172.30h4.0v1.87h-4.0zM477.8 172.30h10.0v1.87h-10.0zM491.9 172.30h4.0v1.87h-4.0zM499.9 172.30h6.0v1.87h-6.0zM507.9 172.30h2.0v1.87h-2.0zM511.9 172.30h2.0v1.87h-2.0zM317.5 174.17h2.0v1.87h-2.0zM323.5 174.17h2.0v1.87h-2.0zM333.5 174.17h4.0v1.87h-4.0zM339.5 174.17h2.0v1.87h-2.0zM357.6 174.17h2.0v1.87h-2.0zM361.6 174.17h2.0v1.87h-2.0zM369.6 174.17h2.0v1.87h-2.0zM375.6 174.17h2.0v1.87h-2.0zM379.6 174.17h4.0v1.87h-4.0zM385.6 174.17h6.0v1.87h-6.0zM401.7 174.17h2.0v1.87h-2.0zM407.7 174.17h2.0v1.87h-2.0zM411.7 174.17h2.0v1.87h-2.0zM415.7 174.17h2.0v1.87h-2.0zM421.7 174.17h4.0v1.87h-4.0zM431.7 174.17h8.0v1.87h-8.0zM441.8 174.17h6.0v1.87h-6.0zM449.8 174.17h2.0v1.87h-2.0zM453.8 174.17h2.0v1.87h-2.0zM457.8 174.17h4.0v1.87h-4.0zM465.8 174.17h4.0v1.87h-4.0zM473.8 174.17h2.0v1.87h-2.0zM477.8 174.17h2.0v1.87h-2.0zM481.8 174.17h4.0v1.87h-4.0zM491.9 174.17h2.0v1.87h-2.0zM503.9 174.17h2.0v1.87h-2.0zM507.9 174.17h4.0v1.87h-4.0zM513.9 174.17h2.0v1.87h-2.0zM319.5 176.04h2.0v1.87h-2.0zM325.5 176.04h4.0v1.87h-4.0zM331.5 176.04h2.0v1.87h-2.0zM339.5 176.04h14.0v1.87h-14.0zM357.6 176.04h2.0v1.87h-2.0zM371.6 176.04h2.0v1.87h-2.0zM375.6 176.04h2.0v1.87h-2.0zM379.6 176.04h2.0v1.87h-2.0zM387.6 176.04h2.0v1.87h-2.0zM393.7 176.04h10.0v1.87h-10.0zM405.7 176.04h2.0v1.87h-2.0zM411.7 176.04h2.0v1.87h-2.0zM415.7 176.04h2.0v1.87h-2.0zM433.7 176.04h2.0v1.87h-2.0zM437.7 176.04h12.0v1.87h-12.0zM451.8 176.04h8.0v1.87h-8.0zM461.8 176.04h2.0v1.87h-2.0zM465.8 176.04h2.0v1.87h-2.0zM471.8 176.04h10.0v1.87h-10.0zM483.8 176.04h2.0v1.87h-2.0zM501.9 176.04h6.0v1.87h-6.0zM315.5 177.91h6.0v1.87h-6.0zM327.5 177.91h2.0v1.87h-2.0zM341.6 177.91h2.0v1.87h-2.0zM349.6 177.91h2.0v1.87h-2.0zM353.6 177.91h4.0v1.87h-4.0zM359.6 177.91h4.0v1.87h-4.0zM367.6 177.91h2.0v1.87h-2.0zM375.6 177.91h2.0v1.87h-2.0zM379.6 177.91h6.0v1.87h-6.0zM387.6 177.91h2.0v1.87h-2.0zM391.7 177.91h2.0v1.87h-2.0zM399.7 177.91h2.0v1.87h-2.0zM403.7 177.91h4.0v1.87h-4.0zM413.7 177.91h2.0v1.87h-2.0zM419.7 177.91h2.0v1.87h-2.0zM423.7 177.91h4.0v1.87h-4.0zM433.7 177.91h6.0v1.87h-6.0zM443.8 177.91h12.0v1.87h-12.0zM457.8 177.91h4.0v1.87h-4.0zM465.8 177.91h2.0v1.87h-2.0zM469.8 177.91h2.0v1.87h-2.0zM475.8 177.91h4.0v1.87h-4.0zM481.8 177.91h2.0v1.87h-2.0zM485.8 177.91h4.0v1.87h-4.0zM495.9 177.91h4.0v1.87h-4.0zM503.9 177.91h2.0v1.87h-2.0zM315.5 179.78h4.0v1.87h-4.0zM321.5 179.78h2.0v1.87h-2.0zM325.5 179.78h2.0v1.87h-2.0zM331.5 179.78h6.0v1.87h-6.0zM341.6 179.78h8.0v1.87h-8.0zM355.6 179.78h4.0v1.87h-4.0zM363.6 179.78h4.0v1.87h-4.0zM369.6 179.78h2.0v1.87h-2.0zM377.6 179.78h8.0v1.87h-8.0zM391.7 179.78h2.0v1.87h-2.0zM395.7 179.78h2.0v1.87h-2.0zM403.7 179.78h2.0v1.87h-2.0zM409.7 179.78h4.0v1.87h-4.0zM417.7 179.78h2.0v1.87h-2.0zM425.7 179.78h2.0v1.87h-2.0zM429.7 179.78h2.0v1.87h-2.0zM433.7 179.78h2.0v1.87h-2.0zM441.8 179.78h2.0v1.87h-2.0zM445.8 179.78h2.0v1.87h-2.0zM465.8 179.78h2.0v1.87h-2.0zM469.8 179.78h2.0v1.87h-2.0zM475.8 179.78h6.0v1.87h-6.0zM483.8 179.78h2.0v1.87h-2.0zM493.9 179.78h2.0v1.87h-2.0zM501.9 179.78h6.0v1.87h-6.0zM509.9 179.78h6.0v1.87h-6.0zM317.5 181.65h4.0v1.87h-4.0zM325.5 181.65h4.0v1.87h-4.0zM331.5 181.65h4.0v1.87h-4.0zM337.5 181.65h6.0v1.87h-6.0zM345.6 181.65h4.0v1.87h-4.0zM353.6 181.65h2.0v1.87h-2.0zM359.6 181.65h2.0v1.87h-2.0zM373.6 181.65h4.0v1.87h-4.0zM379.6 181.65h2.0v1.87h-2.0zM387.6 181.65h10.0v1.87h-10.0zM401.7 181.65h2.0v1.87h-2.0zM405.7 181.65h4.0v1.87h-4.0zM411.7 181.65h2.0v1.87h-2.0zM415.7 181.65h2.0v1.87h-2.0zM421.7 181.65h4.0v1.87h-4.0zM431.7 181.65h10.0v1.87h-10.0zM451.8 181.65h6.0v1.87h-6.0zM459.8 181.65h6.0v1.87h-6.0zM467.8 181.65h6.0v1.87h-6.0zM475.8 181.65h2.0v1.87h-2.0zM483.8 181.65h8.0v1.87h-8.0zM493.9 181.65h2.0v1.87h-2.0zM499.9 181.65h6.0v1.87h-6.0zM511.9 181.65h2.0v1.87h-2.0zM317.5 183.52h8.0v1.87h-8.0zM335.5 183.52h6.0v1.87h-6.0zM347.6 183.52h6.0v1.87h-6.0zM361.6 183.52h2.0v1.87h-2.0zM365.6 183.52h2.0v1.87h-2.0zM369.6 183.52h4.0v1.87h-4.0zM375.6 183.52h6.0v1.87h-6.0zM385.6 183.52h2.0v1.87h-2.0zM389.6 183.52h2.0v1.87h-2.0zM393.7 183.52h2.0v1.87h-2.0zM397.7 183.52h2.0v1.87h-2.0zM401.7 183.52h6.0v1.87h-6.0zM411.7 183.52h4.0v1.87h-4.0zM417.7 183.52h10.0v1.87h-10.0zM429.7 183.52h2.0v1.87h-2.0zM433.7 183.52h2.0v1.87h-2.0zM441.8 183.52h8.0v1.87h-8.0zM453.8 183.52h2.0v1.87h-2.0zM457.8 183.52h2.0v1.87h-2.0zM463.8 183.52h4.0v1.87h-4.0zM469.8 183.52h4.0v1.87h-4.0zM475.8 183.52h4.0v1.87h-4.0zM485.8 183.52h4.0v1.87h-4.0zM491.9 183.52h2.0v1.87h-2.0zM495.9 183.52h2.0v1.87h-2.0zM501.9 183.52h4.0v1.87h-4.0zM507.9 183.52h4.0v1.87h-4.0zM513.9 183.52h2.0v1.87h-2.0zM319.5 185.39h2.0v1.87h-2.0zM335.5 185.39h2.0v1.87h-2.0zM339.5 185.39h2.0v1.87h-2.0zM345.6 185.39h10.0v1.87h-10.0zM357.6 185.39h4.0v1.87h-4.0zM363.6 185.39h2.0v1.87h-2.0zM369.6 185.39h2.0v1.87h-2.0zM373.6 185.39h2.0v1.87h-2.0zM379.6 185.39h2.0v1.87h-2.0zM385.6 185.39h10.0v1.87h-10.0zM397.7 185.39h6.0v1.87h-6.0zM405.7 185.39h8.0v1.87h-8.0zM421.7 185.39h2.0v1.87h-2.0zM425.7 185.39h6.0v1.87h-6.0zM441.8 185.39h10.0v1.87h-10.0zM453.8 185.39h2.0v1.87h-2.0zM457.8 185.39h4.0v1.87h-4.0zM465.8 185.39h4.0v1.87h-4.0zM473.8 185.39h8.0v1.87h-8.0zM485.8 185.39h2.0v1.87h-2.0zM489.8 185.39h2.0v1.87h-2.0zM493.9 185.39h2.0v1.87h-2.0zM497.9 185.39h2.0v1.87h-2.0zM501.9 185.39h2.0v1.87h-2.0zM509.9 185.39h6.0v1.87h-6.0zM327.5 187.26h4.0v1.87h-4.0zM341.6 187.26h2.0v1.87h-2.0zM345.6 187.26h2.0v1.87h-2.0zM349.6 187.26h2.0v1.87h-2.0zM353.6 187.26h6.0v1.87h-6.0zM361.6 187.26h2.0v1.87h-2.0zM365.6 187.26h4.0v1.87h-4.0zM371.6 187.26h8.0v1.87h-8.0zM381.6 187.26h4.0v1.87h-4.0zM395.7 187.26h2.0v1.87h-2.0zM405.7 187.26h4.0v1.87h-4.0zM411.7 187.26h2.0v1.87h-2.0zM417.7 187.26h2.0v1.87h-2.0zM423.7 187.26h2.0v1.87h-2.0zM427.7 187.26h2.0v1.87h-2.0zM433.7 187.26h2.0v1.87h-2.0zM437.7 187.26h2.0v1.87h-2.0zM445.8 187.26h6.0v1.87h-6.0zM455.8 187.26h2.0v1.87h-2.0zM459.8 187.26h4.0v1.87h-4.0zM465.8 187.26h2.0v1.87h-2.0zM475.8 187.26h2.0v1.87h-2.0zM479.8 187.26h4.0v1.87h-4.0zM487.8 187.26h2.0v1.87h-2.0zM491.9 187.26h4.0v1.87h-4.0zM503.9 187.26h4.0v1.87h-4.0zM509.9 187.26h2.0v1.87h-2.0zM319.5 189.13h2.0v1.87h-2.0zM323.5 189.13h4.0v1.87h-4.0zM329.5 189.13h4.0v1.87h-4.0zM337.5 189.13h6.0v1.87h-6.0zM353.6 189.13h4.0v1.87h-4.0zM359.6 189.13h2.0v1.87h-2.0zM371.6 189.13h2.0v1.87h-2.0zM375.6 189.13h2.0v1.87h-2.0zM381.6 189.13h2.0v1.87h-2.0zM385.6 189.13h2.0v1.87h-2.0zM389.6 189.13h10.0v1.87h-10.0zM401.7 189.13h6.0v1.87h-6.0zM409.7 189.13h2.0v1.87h-2.0zM417.7 189.13h4.0v1.87h-4.0zM435.7 189.13h8.0v1.87h-8.0zM447.8 189.13h2.0v1.87h-2.0zM451.8 189.13h6.0v1.87h-6.0zM459.8 189.13h2.0v1.87h-2.0zM469.8 189.13h2.0v1.87h-2.0zM475.8 189.13h8.0v1.87h-8.0zM485.8 189.13h2.0v1.87h-2.0zM489.8 189.13h4.0v1.87h-4.0zM495.9 189.13h4.0v1.87h-4.0zM501.9 189.13h2.0v1.87h-2.0zM507.9 189.13h2.0v1.87h-2.0zM511.9 189.13h2.0v1.87h-2.0z"/>
</g>
<rect x="413.6" y="4.0" width="2" height="121.1" fill="#1f9ca8"/>
<rect x="315.5" y="124.14999999999999" width="200.4" height="1.9" fill="#1f9ca8"/>
<rect x="343.8" y="31" width="2" height="1.9" fill="#1b2d5c"/>
<rect x="483" y="40" width="2" height="1.9" fill="#1b2d5c"/>
<rect x="324" y="133" width="2" height="1.9" fill="#1b2d5c"/>
<rect x="413.6" y="3.8" width="2" height="1.9" fill="#1b2d5c"/>
<rect x="343.8" y="124.1" width="2" height="1.9" fill="#1b2d5c"/>
<rect x="446.5" y="144.4" width="67" height="43.6" fill="#fff"/>
<rect x="450.2" y="147.30" width="7.5" height="4.4" fill="#1b2d5c"/>
<text x="460.4" y="151.20" font-family='"Liberation Serif", "Times New Roman", serif' font-size="5.0" font-weight="bold" fill="#1a1a1a" stroke="#1a1a1a" stroke-width="0.08" textLength="27.6" lengthAdjust="spacingAndGlyphs">recycle facility</text>
<rect x="450.2" y="155.65" width="7.5" height="4.4" fill="#1f9ca8"/>
<text x="460.4" y="159.55" font-family='"Liberation Serif", "Times New Roman", serif' font-size="5.0" font-weight="bold" fill="#1a1a1a" stroke="#1a1a1a" stroke-width="0.08" textLength="9.4" lengthAdjust="spacingAndGlyphs">road</text>
<rect x="450.2" y="164.00" width="7.5" height="4.4" fill="#91afbf"/>
<text x="460.4" y="167.90" font-family='"Liberation Serif", "Times New Roman", serif' font-size="5.0" font-weight="bold" fill="#1a1a1a" stroke="#1a1a1a" stroke-width="0.08" textLength="47.2" lengthAdjust="spacingAndGlyphs">family choosing facilities</text>
<rect x="450.2" y="172.35" width="7.5" height="4.4" fill="#689847"/>
<text x="460.4" y="176.25" font-family='"Liberation Serif", "Times New Roman", serif' font-size="5.0" font-weight="bold" fill="#1a1a1a" stroke="#1a1a1a" stroke-width="0.08" textLength="49.4" lengthAdjust="spacingAndGlyphs">family choosing collectors</text>
<rect x="450.2" y="180.70" width="7.5" height="4.4" fill="#e6f6dd" stroke="#b8c8b0" stroke-width="0.3"/>
<text x="460.4" y="184.60" font-family='"Liberation Serif", "Times New Roman", serif' font-size="5.0" font-weight="bold" fill="#1a1a1a" stroke="#1a1a1a" stroke-width="0.08" textLength="39.2" lengthAdjust="spacingAndGlyphs">non-recycling family</text>
<text x="3.2" y="214.4" font-family='"Liberation Serif", "Times New Roman", serif' font-size="10.4" font-weight="bold" fill="#222" textLength="11" lengthAdjust="spacingAndGlyphs">(c)</text>
<text x="284.6" y="214.4" font-family='"Liberation Serif", "Times New Roman", serif' font-size="10.4" font-weight="bold" fill="#222" textLength="12.4" lengthAdjust="spacingAndGlyphs">(d)</text>
<svg x="24" y="206" width="244.2" height="163" viewBox="0 0 244.2 163">
<rect x="-1" y="-1" width="260" height="170" fill="#f5f2ec"/><clipPath id="cmp"><polygon points="-1.0,-1.0 70.5,-1.0 26.0,74.0 20.0,84.0 -1.0,112.0"/></clipPath><g clip-path="url(#cmp)"><rect x="-2" y="-2" width="80" height="130" fill="#b0db8c"/><line x1="-4.0" y1="-26.4" x2="76.0" y2="-8.8" stroke="#f5f2ec" stroke-width="3.3"/><line x1="-4.0" y1="-19.8" x2="76.0" y2="-2.2" stroke="#f5f2ec" stroke-width="4.8"/><line x1="-4.0" y1="-13.2" x2="76.0" y2="4.4" stroke="#f5f2ec" stroke-width="3.5"/><line x1="-4.0" y1="-6.6" x2="76.0" y2="11.0" stroke="#f5f2ec" stroke-width="5.1"/><line x1="-4.0" y1="0.0" x2="76.0" y2="17.6" stroke="#f5f2ec" stroke-width="3.4"/><line x1="-4.0" y1="6.6" x2="76.0" y2="24.2" stroke="#f5f2ec" stroke-width="5.1"/><line x1="-4.0" y1="13.2" x2="76.0" y2="30.8" stroke="#f5f2ec" stroke-width="2.4"/><line x1="-4.0" y1="19.8" x2="76.0" y2="37.4" stroke="#f5f2ec" stroke-width="4.5"/><line x1="-4.0" y1="26.4" x2="76.0" y2="44.0" stroke="#f5f2ec" stroke-width="3.7"/><line x1="-4.0" y1="33.0" x2="76.0" y2="50.6" stroke="#f5f2ec" stroke-width="4.7"/><line x1="-4.0" y1="39.6" x2="76.0" y2="57.2" stroke="#f5f2ec" stroke-width="3.7"/><line x1="-4.0" y1="46.2" x2="76.0" y2="63.8" stroke="#f5f2ec" stroke-width="4.0"/><line x1="-4.0" y1="52.8" x2="76.0" y2="70.4" stroke="#f5f2ec" stroke-width="3.1"/><line x1="-4.0" y1="59.4" x2="76.0" y2="77.0" stroke="#f5f2ec" stroke-width="4.1"/><line x1="-4.0" y1="66.0" x2="76.0" y2="83.6" stroke="#f5f2ec" stroke-width="3.2"/><line x1="-4.0" y1="72.6" x2="76.0" y2="90.2" stroke="#f5f2ec" stroke-width="4.6"/><line x1="-4.0" y1="79.2" x2="76.0" y2="96.8" stroke="#f5f2ec" stroke-width="2.4"/><line x1="-4.0" y1="85.8" x2="76.0" y2="103.4" stroke="#f5f2ec" stroke-width="4.1"/><line x1="-4.0" y1="92.4" x2="76.0" y2="110.0" stroke="#f5f2ec" stroke-width="2.8"/><line x1="-4.0" y1="99.0" x2="76.0" y2="116.6" stroke="#f5f2ec" stroke-width="5.1"/><line x1="-4.0" y1="105.6" x2="76.0" y2="123.2" stroke="#f5f2ec" stroke-width="3.5"/><line x1="-4.0" y1="112.2" x2="76.0" y2="129.8" stroke="#f5f2ec" stroke-width="4.0"/><line x1="-4.0" y1="118.8" x2="76.0" y2="136.4" stroke="#f5f2ec" stroke-width="3.5"/><line x1="-4.0" y1="125.4" x2="76.0" y2="143.0" stroke="#f5f2ec" stroke-width="4.0"/><line x1="-4.0" y1="132.0" x2="76.0" y2="149.6" stroke="#f5f2ec" stroke-width="3.3"/><line x1="-4.0" y1="138.6" x2="76.0" y2="156.2" stroke="#f5f2ec" stroke-width="4.0"/><polygon points="6.0,56.0 15.0,58.0 13.0,63.0 4.0,61.0" fill="#f5f2ec"/><polygon points="12.0,25.0 21.0,27.0 19.0,32.0 10.0,30.0" fill="#f5f2ec"/><polygon points="3.0,40.0 12.0,42.0 10.0,47.0 1.0,45.0" fill="#f5f2ec"/><polygon points="32.0,6.0 41.0,8.0 39.0,13.0 30.0,11.0" fill="#f5f2ec"/><polygon points="18.0,64.0 27.0,66.0 25.0,71.0 16.0,69.0" fill="#f5f2ec"/><line x1="-14.0" y1="-6.0" x2="-85.5" y2="124.0" stroke="#fbfaf6" stroke-width="2.2"/><line x1="1.0" y1="-6.0" x2="-70.5" y2="124.0" stroke="#fbfaf6" stroke-width="2.2"/><line x1="16.0" y1="-6.0" x2="-55.5" y2="124.0" stroke="#fbfaf6" stroke-width="2.2"/><line x1="31.0" y1="-6.0" x2="-40.5" y2="124.0" stroke="#fbfaf6" stroke-width="2.2"/><line x1="46.0" y1="-6.0" x2="-25.5" y2="124.0" stroke="#fbfaf6" stroke-width="2.2"/><line x1="61.0" y1="-6.0" x2="-10.5" y2="124.0" stroke="#fbfaf6" stroke-width="2.2"/><line x1="76.0" y1="-6.0" x2="4.5" y2="124.0" stroke="#fbfaf6" stroke-width="2.2"/><line x1="91.0" y1="-6.0" x2="19.5" y2="124.0" stroke="#fbfaf6" stroke-width="2.2"/><line x1="106.0" y1="-6.0" x2="34.5" y2="124.0" stroke="#fbfaf6" stroke-width="2.2"/><line x1="121.0" y1="-6.0" x2="49.5" y2="124.0" stroke="#fbfaf6" stroke-width="2.2"/><line x1="136.0" y1="-6.0" x2="64.5" y2="124.0" stroke="#fbfaf6" stroke-width="2.2"/></g><ellipse cx="42.7" cy="17.69999999999999" rx="8.5" ry="6" fill="#b0db8c"/><ellipse cx="42.7" cy="17.69999999999999" rx="5.5" ry="3.6" fill="none" stroke="#f7f6f0" stroke-width="0.9"/><polygon points="26.5,24.5 49.0,28.0 44.5,42.0 20.5,39.5" fill="#b0db8c"/><polygon points="28.2,26.6 46.7,29.8 42.7,40.2 22.5,37.8" fill="#f6f4ef"/><polygon points="-1.0,81.0 25.0,75.0 19.0,86.0 -1.0,112.0" fill="#b0db8c"/><polygon points="197.8,0.5 221.0,0.5 225.5,6.0 226.5,33.6 200.5,29.5 188.0,32.0 185.0,18.5 181.5,18.0 181.5,12.5 197.0,11.8" fill="#b0db8c"/><polyline points="209.0,0.5 210.0,6.0 208.0,12.0 209.0,22.0 216.0,32.0" fill="none" stroke="#eef3e6" stroke-width="0.8"/><polyline points="197.0,11.5 212.0,10.5 226.0,10.0" fill="none" stroke="#eef3e6" stroke-width="0.8"/><polygon points="149.6,1.8 158.7,3.0 158.0,7.3 149.0,6.5" fill="#b0db8c"/><polygon points="159.6,3.6 166.0,4.5 166.0,8.2 159.6,7.5" fill="#b0db8c"/><polygon points="146.0,8.2 153.3,9.0 152.5,12.7 145.0,12.0" fill="#b0db8c"/><polygon points="151.5,15.5 158.7,16.5 158.0,20.0 151.0,19.0" fill="#b0db8c"/><polygon points="184.9,19.5 198.0,20.0 198.0,29.3 185.0,27.0" fill="#b0db8c"/><polygon points="231.0,46.7 244.5,49.0 244.5,84.0 232.0,83.8" fill="#b0db8c"/><polygon points="139.2,82.4 154.8,83.5 154.8,91.9 139.2,91.0" fill="#b0db8c"/><polygon points="163.3,81.4 172.7,82.0 172.7,90.8 163.0,90.0" fill="#b0db8c"/><polygon points="165.6,94.4 182.2,95.5 182.2,99.1 165.6,98.5" fill="#b0db8c"/><polygon points="132.5,92.0 142.0,93.0 142.0,95.5 132.5,94.8" fill="#b0db8c"/><polygon points="203.5,81.4 208.2,81.4 208.2,95.5 203.5,95.5" fill="#b0db8c"/><polygon points="217.7,86.0 229.5,86.5 229.5,93.2 217.7,93.0" fill="#b0db8c"/><polygon points="233.0,79.0 241.0,79.5 241.0,83.7 233.0,83.5" fill="#b0db8c"/><polygon points="134.7,68.5 143.5,69.5 143.5,71.8 134.7,71.0" fill="#b0db8c"/><polygon points="154.4,15.0 160.9,16.0 160.9,20.5 154.4,19.5" fill="#b0db8c"/><polygon points="36.0,94.0 94.0,92.0 93.0,106.0 32.0,107.0" fill="#c6e4a8"/><polygon points="151.5,145.2 159.7,146.5 159.7,157.0 151.5,156.0" fill="#fbfbf9" stroke="#dcdcd6" stroke-width="0.4"/><polygon points="161.0,147.6 177.5,149.5 177.5,154.7 161.0,153.0" fill="#fbfbf9" stroke="#dcdcd6" stroke-width="0.4"/><polygon points="180.0,149.5 189.0,150.5 189.0,154.5 180.0,153.5" fill="#fbfbf9" stroke="#dcdcd6" stroke-width="0.4"/><polyline points="73.2,-1.0 17.2,93.0 -3.0,138.0" fill="none" stroke="#fdfdfb" stroke-width="2"/><polyline points="152.0,0.0 126.0,56.0 111.0,94.0 97.0,134.0 92.0,163.0" fill="none" stroke="#fdfdfb" stroke-width="2"/><polyline points="0.0,79.0 36.0,83.0 96.0,91.0 116.0,94.0" fill="none" stroke="#fdfdfb" stroke-width="2"/><polyline points="-2.0,143.0 56.0,155.5 116.0,165.0" fill="none" stroke="#fdfdfb" stroke-width="2"/><polyline points="226.2,0.0 226.2,163.0" fill="none" stroke="#fdfdfb" stroke-width="2"/><polyline points="116.0,94.0 186.0,106.0 244.0,112.0" fill="none" stroke="#fdfdfb" stroke-width="2"/><polyline points="181.0,64.0 181.0,163.0" fill="none" stroke="#fdfdfb" stroke-width="2"/><polyline points="203.0,62.0 202.0,163.0" fill="none" stroke="#fdfdfb" stroke-width="2"/><polyline points="65.0,0.0 150.0,21.5 244.0,43.5" fill="none" stroke="#fbe08e" stroke-width="1.6"/><polyline points="76.8,-1.0 20.0,94.0 0.0,140.0" fill="none" stroke="#9ac0f0" stroke-width="3.5"/><polyline points="100.2,94.3 122.5,96.7 133.3,100.2 154.8,101.4 190.5,105.0 206.0,105.0" fill="none" stroke="#9ac0f0" stroke-width="2.8"/><polyline points="100.2,94.3 93.9,107.4 90.3,128.9 95.0,138.4 104.6,145.6" fill="none" stroke="#9ac0f0" stroke-width="2.8"/><ellipse cx="110.0" cy="150.3" rx="8.5" ry="5.6" fill="#9ac0f0"/><ellipse cx="173.0" cy="0.0" rx="13" ry="2.2" fill="#9ac0f0"/><rect x="235.39999999999998" y="88.5" width="6" height="8" rx="1.5" fill="#9ac0f0"/><ellipse cx="239.0" cy="91.0" rx="4.5" ry="3.5" fill="#9ac0f0"/>
<polygon points="88.0,10.0 96.8,9.0 122.5,13.5 149.0,20.5 148.0,30.0 144.0,36.0 138.0,42.0 134.0,54.0 125.0,65.0 120.0,72.0 113.0,84.0 109.0,87.5 93.0,84.5 76.0,82.0 56.0,82.0 48.0,73.0 42.0,70.0 44.0,60.0 49.0,51.0 54.0,43.0 58.0,35.0 62.0,28.0 68.0,23.0 80.0,25.0 84.0,17.0" fill="#168a40" opacity="0.45"/>
<polygon points="74.9,1.3 96.5,6.1 96.5,14.9 74.9,10.1" fill="#1d9445"/><polygon points="74.9,1.3 96.5,6.1 96.5,8.7 74.9,4.0" fill="#2d9b52"/><polygon points="94.5,8.3 96.5,8.7 96.5,14.9 94.5,14.5" fill="#1a823d"/><polyline points="74.9,9.8 96.5,14.6" fill="none" stroke="#177336" stroke-width="0.6"/>
<polygon points="90.3,3.7 96.8,5.1 96.8,19.5 90.3,18.1" fill="#0e7531"/><polygon points="90.3,3.7 96.8,5.1 96.8,9.4 90.3,8.0" fill="#1f7f3f"/><polygon points="96.0,9.3 96.8,9.4 96.8,19.5 96.0,19.3" fill="#0c672b"/><polyline points="90.3,17.8 96.8,19.2" fill="none" stroke="#0b5b26" stroke-width="0.6"/>
<polygon points="99.6,7.5 122.8,12.6 122.8,21.1 99.6,16.0" fill="#1b9043"/><polygon points="99.6,7.5 122.8,12.6 122.8,15.2 99.6,10.0" fill="#2b9850"/><polygon points="120.8,14.7 122.8,15.2 122.8,21.1 120.8,20.7" fill="#187f3b"/><polyline points="99.6,15.7 122.8,20.8" fill="none" stroke="#157034" stroke-width="0.6"/>
<polygon points="76.2,7.6 81.3,8.7 81.3,22.1 76.2,21.0" fill="#198a3f"/><polygon points="76.2,7.6 81.3,8.7 81.3,12.7 76.2,11.6" fill="#29924c"/><polygon points="80.7,12.6 81.3,12.7 81.3,22.1 80.7,22.0" fill="#167937"/><polyline points="76.2,20.7 81.3,21.8" fill="none" stroke="#146c31" stroke-width="0.6"/>
<polygon points="85.2,11.4 91.6,12.8 91.6,25.9 85.2,24.5" fill="#15863d"/><polygon points="85.2,11.4 91.6,12.8 91.6,16.7 85.2,15.3" fill="#258e4b"/><polygon points="90.8,16.6 91.6,16.7 91.6,25.9 90.8,25.7" fill="#127636"/><polyline points="85.2,24.2 91.6,25.6" fill="none" stroke="#106930" stroke-width="0.6"/>
<polygon points="105.8,12.7 117.4,15.3 117.4,27.2 105.8,24.6" fill="#0c6a2c"/><polygon points="105.8,12.7 117.4,15.3 117.4,18.8 105.8,16.3" fill="#1d743b"/><polygon points="116.0,18.5 117.4,18.8 117.4,27.2 116.0,26.9" fill="#0b5d27"/><polyline points="105.8,24.3 117.4,26.9" fill="none" stroke="#095322" stroke-width="0.6"/>
<polygon points="124.3,13.7 149.8,19.3 149.8,28.8 124.3,23.2" fill="#1a8d42"/><polygon points="124.3,13.7 149.8,19.3 149.8,22.2 124.3,16.5" fill="#2a954f"/><polygon points="147.8,21.7 149.8,22.2 149.8,28.8 147.8,28.4" fill="#177c3a"/><polyline points="124.3,22.9 149.8,28.5" fill="none" stroke="#146e33" stroke-width="0.6"/>
<polygon points="95.5,14.0 103.2,15.7 103.2,25.9 95.5,24.2" fill="#289e4f"/><polygon points="95.5,14.0 103.2,15.7 103.2,18.8 95.5,17.1" fill="#37a55b"/><polygon points="102.3,18.6 103.2,18.8 103.2,25.9 102.3,25.7" fill="#238b46"/><polyline points="95.5,23.9 103.2,25.6" fill="none" stroke="#1f7b3e" stroke-width="0.6"/>
<polygon points="67.5,16.6 78.0,18.9 78.0,31.1 67.5,28.8" fill="#16883f"/><polygon points="67.5,16.6 78.0,18.9 78.0,22.6 67.5,20.3" fill="#26904c"/><polygon points="76.7,22.3 78.0,22.6 78.0,31.1 76.7,30.8" fill="#137837"/><polyline points="67.5,28.5 78.0,30.8" fill="none" stroke="#116a31" stroke-width="0.6"/>
<polygon points="116.0,19.2 131.5,22.6 131.5,33.7 116.0,30.3" fill="#12843d"/><polygon points="116.0,19.2 131.5,22.6 131.5,25.9 116.0,22.5" fill="#238d4b"/><polygon points="129.6,25.5 131.5,25.9 131.5,33.7 129.6,33.3" fill="#107436"/><polyline points="116.0,30.0 131.5,33.4" fill="none" stroke="#0e6730" stroke-width="0.6"/>
<polygon points="131.5,19.2 147.0,22.6 147.0,37.5 131.5,34.1" fill="#0c6629"/><polygon points="131.5,19.2 147.0,22.6 147.0,27.1 131.5,23.7" fill="#1d7138"/><polygon points="145.1,26.7 147.0,27.1 147.0,37.5 145.1,37.1" fill="#0b5a24"/><polyline points="131.5,33.8 147.0,37.2" fill="none" stroke="#095020" stroke-width="0.6"/>
<polygon points="80.0,20.4 86.5,21.8 86.5,33.7 80.0,32.3" fill="#0e7533"/><polygon points="80.0,20.4 86.5,21.8 86.5,25.4 80.0,24.0" fill="#1f7f41"/><polygon points="85.7,25.2 86.5,25.4 86.5,33.7 85.7,33.5" fill="#0c672d"/><polyline points="80.0,32.0 86.5,33.4" fill="none" stroke="#0b5b28" stroke-width="0.6"/>
<polygon points="90.3,20.4 110.9,24.9 110.9,36.2 90.3,31.7" fill="#198e42"/><polygon points="90.3,20.4 110.9,24.9 110.9,28.3 90.3,23.8" fill="#29964f"/><polygon points="108.9,27.9 110.9,28.3 110.9,36.2 108.9,35.8" fill="#167d3a"/><polyline points="90.3,31.4 110.9,35.9" fill="none" stroke="#146f33" stroke-width="0.6"/>
<polygon points="152.2,20.1 168.5,22.7 168.5,30.4 152.2,27.8" fill="#9ad7aa"/><polygon points="152.2,20.1 168.5,22.7 168.5,25.6 152.2,23.0" fill="#c0e6ca"/><line x1="157.6" y1="23.9" x2="157.6" y2="28.7" stroke="#92cca2" stroke-width="1.1"/><line x1="163.1" y1="24.8" x2="163.1" y2="29.5" stroke="#92cca2" stroke-width="1.1"/><polygon points="166.5,25.3 168.5,25.6 168.5,30.4 166.5,30.1" fill="#88bd96"/><polyline points="152.2,27.5 168.5,30.1" fill="none" stroke="#78a885" stroke-width="0.6"/>
<polygon points="62.5,24.3 82.3,28.7 82.3,41.4 62.5,37.0" fill="#1c9445"/><polygon points="62.5,24.3 82.3,28.7 82.3,32.5 62.5,28.1" fill="#2c9b52"/><polygon points="80.3,32.0 82.3,32.5 82.3,41.4 80.3,41.0" fill="#19823d"/><polyline points="62.5,36.7 82.3,41.1" fill="none" stroke="#167336" stroke-width="0.6"/>
<polygon points="148.9,24.5 165.3,27.1 165.3,35.8 148.9,33.2" fill="#a3d9b1"/><polygon points="148.9,24.5 165.3,27.1 165.3,30.4 148.9,27.8" fill="#c6e7cf"/><line x1="154.4" y1="28.7" x2="154.4" y2="34.1" stroke="#9bcea8" stroke-width="1.1"/><line x1="159.8" y1="29.5" x2="159.8" y2="34.9" stroke="#9bcea8" stroke-width="1.1"/><polygon points="163.3,30.1 165.3,30.4 165.3,35.8 163.3,35.5" fill="#8fbf9c"/><polyline points="148.9,32.9 165.3,35.5" fill="none" stroke="#7fa98a" stroke-width="0.6"/>
<polygon points="170.7,25.6 180.6,27.2 180.6,33.6 170.7,32.0" fill="#dcefe0"/><polygon points="170.7,25.6 180.6,27.2 180.6,29.6 170.7,28.0" fill="#e9f5ec"/><line x1="175.6" y1="28.8" x2="175.6" y2="32.8" stroke="#d1e3d5" stroke-width="1.1"/><polygon points="179.4,29.4 180.6,29.6 180.6,33.6 179.4,33.4" fill="#c2d2c5"/><polyline points="170.7,31.7 180.6,33.3" fill="none" stroke="#acbaaf" stroke-width="0.6"/>
<polygon points="127.6,28.2 140.5,31.0 140.5,42.7 127.6,39.9" fill="#198e42"/><polygon points="127.6,28.2 140.5,31.0 140.5,34.5 127.6,31.7" fill="#29964f"/><polygon points="139.0,34.2 140.5,34.5 140.5,42.7 139.0,42.4" fill="#167d3a"/><polyline points="127.6,39.6 140.5,42.4" fill="none" stroke="#146f33" stroke-width="0.6"/>
<polygon points="87.8,29.5 105.8,33.5 105.8,43.9 87.8,39.9" fill="#15873e"/><polygon points="87.8,29.5 105.8,33.5 105.8,36.6 87.8,32.6" fill="#258f4c"/><polygon points="103.8,36.2 105.8,36.6 105.8,43.9 103.8,43.5" fill="#127737"/><polyline points="87.8,39.6 105.8,43.6" fill="none" stroke="#106930" stroke-width="0.6"/>
<polygon points="108.3,30.7 127.6,34.9 127.6,46.5 108.3,42.3" fill="#0c6b2e"/><polygon points="108.3,30.7 127.6,34.9 127.6,38.4 108.3,34.2" fill="#1d753d"/><polygon points="125.6,38.0 127.6,38.4 127.6,46.5 125.6,46.1" fill="#0b5e28"/><polyline points="108.3,42.0 127.6,46.2" fill="none" stroke="#095324" stroke-width="0.6"/>
<polygon points="176.2,28.9 189.3,31.0 189.3,45.6 176.2,43.5" fill="#87cd99"/><polygon points="176.2,28.9 189.3,31.0 189.3,36.5 176.2,34.4" fill="#b5e0c0"/><line x1="182.8" y1="35.5" x2="182.8" y2="44.6" stroke="#80c391" stroke-width="1.1"/><polygon points="187.7,36.3 189.3,36.5 189.3,45.6 187.7,45.3" fill="#77b487"/><polyline points="176.2,43.2 189.3,45.3" fill="none" stroke="#69a077" stroke-width="0.6"/>
<polygon points="181.6,28.9 202.4,32.2 202.4,39.1 181.6,35.8" fill="#83cc96"/><polygon points="181.6,28.9 202.4,32.2 202.4,34.8 181.6,31.5" fill="#b2dfbe"/><line x1="188.5" y1="32.6" x2="188.5" y2="36.9" stroke="#7cc28e" stroke-width="1.1"/><line x1="195.5" y1="33.7" x2="195.5" y2="38.0" stroke="#7cc28e" stroke-width="1.1"/><polygon points="200.4,34.5 202.4,34.8 202.4,39.1 200.4,38.8" fill="#73b484"/><polyline points="181.6,35.5 202.4,38.8" fill="none" stroke="#669f75" stroke-width="0.6"/>
<polygon points="58.0,32.0 78.0,36.4 78.0,47.8 58.0,43.4" fill="#1a9043"/><polygon points="58.0,32.0 78.0,36.4 78.0,39.8 58.0,35.4" fill="#2a9850"/><polygon points="76.0,39.4 78.0,39.8 78.0,47.8 76.0,47.4" fill="#177f3b"/><polyline points="58.0,43.1 78.0,47.5" fill="none" stroke="#147034" stroke-width="0.6"/>
<polygon points="165.3,30.0 176.2,31.7 176.2,40.2 165.3,38.5" fill="#98d5a8"/><polygon points="165.3,30.0 176.2,31.7 176.2,35.0 165.3,33.2" fill="#bfe5c9"/><line x1="170.8" y1="34.1" x2="170.8" y2="39.3" stroke="#90caa0" stroke-width="1.1"/><polygon points="174.9,34.7 176.2,35.0 176.2,40.2 174.9,40.0" fill="#86bb94"/><polyline points="165.3,38.2 176.2,39.9" fill="none" stroke="#77a683" stroke-width="0.6"/>
<polygon points="145.6,32.1 160.9,34.5 160.9,42.4 145.6,40.0" fill="#a7dcb5"/><polygon points="145.6,32.1 160.9,34.5 160.9,37.5 145.6,35.1" fill="#c8e9d1"/><line x1="153.2" y1="36.3" x2="153.2" y2="41.2" stroke="#9fd1ac" stroke-width="1.1"/><polygon points="159.1,37.2 160.9,37.5 160.9,42.4 159.1,42.1" fill="#93c29f"/><polyline points="145.6,39.7 160.9,42.1" fill="none" stroke="#82ac8d" stroke-width="0.6"/>
<polygon points="206.7,32.1 219.8,34.2 219.8,42.4 206.7,40.3" fill="#6bc385"/><polygon points="206.7,32.1 219.8,34.2 219.8,37.3 206.7,35.2" fill="#a3dab3"/><line x1="213.2" y1="36.3" x2="213.2" y2="41.4" stroke="#66b97e" stroke-width="1.1"/><polygon points="218.2,37.1 219.8,37.3 219.8,42.4 218.2,42.1" fill="#5eac75"/><polyline points="206.7,40.0 219.8,42.1" fill="none" stroke="#539868" stroke-width="0.6"/>
<polygon points="83.9,37.2 103.2,41.4 103.2,53.0 83.9,48.8" fill="#15843d"/><polygon points="83.9,37.2 103.2,41.4 103.2,44.9 83.9,40.7" fill="#258d4b"/><polygon points="101.2,44.5 103.2,44.9 103.2,53.0 101.2,52.6" fill="#127436"/><polyline points="83.9,48.5 103.2,52.7" fill="none" stroke="#106730" stroke-width="0.6"/>
<polygon points="104.5,38.5 121.2,42.2 121.2,54.2 104.5,50.5" fill="#137a38"/><polygon points="104.5,38.5 121.2,42.2 121.2,45.8 104.5,42.1" fill="#248346"/><polygon points="119.2,45.3 121.2,45.8 121.2,54.2 119.2,53.8" fill="#116b31"/><polyline points="104.5,50.2 121.2,53.9" fill="none" stroke="#0f5f2c" stroke-width="0.6"/>
<polygon points="121.2,38.5 136.7,41.9 136.7,55.5 121.2,52.1" fill="#219a49"/><polygon points="121.2,38.5 136.7,41.9 136.7,46.0 121.2,42.6" fill="#31a156"/><polygon points="134.8,45.6 136.7,46.0 136.7,55.5 134.8,55.1" fill="#1d8840"/><polyline points="121.2,51.8 136.7,55.2" fill="none" stroke="#1a7839" stroke-width="0.6"/>
<polygon points="162.0,36.5 172.9,38.2 172.9,46.7 162.0,45.0" fill="#9ad7aa"/><polygon points="162.0,36.5 172.9,38.2 172.9,41.5 162.0,39.7" fill="#c0e6ca"/><line x1="167.4" y1="40.6" x2="167.4" y2="45.8" stroke="#92cca2" stroke-width="1.1"/><polygon points="171.6,41.2 172.9,41.5 172.9,46.7 171.6,46.5" fill="#88bd96"/><polyline points="162.0,44.7 172.9,46.4" fill="none" stroke="#78a885" stroke-width="0.6"/>
<polygon points="190.4,36.5 202.4,38.4 202.4,46.7 190.4,44.8" fill="#90d2a1"/><polygon points="190.4,36.5 202.4,38.4 202.4,41.6 190.4,39.6" fill="#bae3c5"/><line x1="196.4" y1="40.6" x2="196.4" y2="45.7" stroke="#89c899" stroke-width="1.1"/><polygon points="201.0,41.3 202.4,41.6 202.4,46.7 201.0,46.5" fill="#7fb98e"/><polyline points="190.4,44.5 202.4,46.4" fill="none" stroke="#70a47e" stroke-width="0.6"/>
<polygon points="53.5,39.7 70.2,43.4 70.2,55.5 53.5,51.8" fill="#1b9043"/><polygon points="53.5,39.7 70.2,43.4 70.2,47.0 53.5,43.3" fill="#2b9850"/><polygon points="68.2,46.6 70.2,47.0 70.2,55.5 68.2,55.1" fill="#187f3b"/><polyline points="53.5,51.5 70.2,55.2" fill="none" stroke="#157034" stroke-width="0.6"/>
<polygon points="142.4,37.6 158.7,40.2 158.7,48.9 142.4,46.3" fill="#aedeba"/><polygon points="142.4,37.6 158.7,40.2 158.7,43.5 142.4,40.9" fill="#cdebd4"/><line x1="147.8" y1="41.8" x2="147.8" y2="47.2" stroke="#a5d3b1" stroke-width="1.1"/><line x1="153.3" y1="42.6" x2="153.3" y2="48.0" stroke="#a5d3b1" stroke-width="1.1"/><polygon points="156.7,43.2 158.7,43.5 158.7,48.9 156.7,48.6" fill="#99c3a4"/><polyline points="142.4,46.0 158.7,48.6" fill="none" stroke="#88ad91" stroke-width="0.6"/>
<polygon points="217.6,37.6 229.6,39.5 229.6,46.7 217.6,44.8" fill="#a5dab3"/><polygon points="217.6,37.6 229.6,39.5 229.6,42.2 217.6,40.3" fill="#c7e8d0"/><line x1="223.6" y1="41.3" x2="223.6" y2="45.7" stroke="#9dcfaa" stroke-width="1.1"/><polygon points="228.2,42.0 229.6,42.2 229.6,46.7 228.2,46.5" fill="#91c09e"/><polyline points="217.6,44.5 229.6,46.4" fill="none" stroke="#81aa8c" stroke-width="0.6"/>
<polygon points="206.7,38.7 217.6,40.4 217.6,57.6 206.7,55.9" fill="#90d2a1"/><polygon points="206.7,38.7 217.6,40.4 217.6,47.0 206.7,45.2" fill="#bae3c5"/><line x1="212.1" y1="46.1" x2="212.1" y2="56.7" stroke="#89c899" stroke-width="1.1"/><polygon points="216.3,46.8 217.6,47.0 217.6,57.6 216.3,57.4" fill="#7fb98e"/><polyline points="206.7,55.6 217.6,57.3" fill="none" stroke="#70a47e" stroke-width="0.6"/>
<polygon points="159.8,40.9 170.7,42.6 170.7,52.2 159.8,50.5" fill="#90d2a1"/><polygon points="159.8,40.9 170.7,42.6 170.7,46.3 159.8,44.5" fill="#bae3c5"/><line x1="165.2" y1="45.4" x2="165.2" y2="51.3" stroke="#89c899" stroke-width="1.1"/><polygon points="169.4,46.1 170.7,46.3 170.7,52.2 169.4,52.0" fill="#7fb98e"/><polyline points="159.8,50.2 170.7,51.9" fill="none" stroke="#70a47e" stroke-width="0.6"/>
<polygon points="73.6,44.9 92.9,49.1 92.9,62.0 73.6,57.8" fill="#168c3f"/><polygon points="73.6,44.9 92.9,49.1 92.9,53.0 73.6,48.8" fill="#26944c"/><polygon points="90.9,52.6 92.9,53.0 92.9,62.0 90.9,61.6" fill="#137b37"/><polyline points="73.6,57.5 92.9,61.7" fill="none" stroke="#116d31" stroke-width="0.6"/>
<polygon points="189.3,43.0 202.4,45.1 202.4,57.6 189.3,55.5" fill="#9ad7aa"/><polygon points="189.3,43.0 202.4,45.1 202.4,49.8 189.3,47.8" fill="#c0e6ca"/><line x1="195.9" y1="48.8" x2="195.9" y2="56.6" stroke="#92cca2" stroke-width="1.1"/><polygon points="200.8,49.6 202.4,49.8 202.4,57.6 200.8,57.3" fill="#88bd96"/><polyline points="189.3,55.2 202.4,57.3" fill="none" stroke="#78a885" stroke-width="0.6"/>
<polygon points="139.1,44.1 155.5,46.7 155.5,55.5 139.1,52.9" fill="#b2dfbd"/><polygon points="139.1,44.1 155.5,46.7 155.5,50.1 139.1,47.4" fill="#cfebd6"/><line x1="144.6" y1="48.3" x2="144.6" y2="53.8" stroke="#a9d4b4" stroke-width="1.1"/><line x1="150.0" y1="49.2" x2="150.0" y2="54.6" stroke="#a9d4b4" stroke-width="1.1"/><polygon points="153.5,49.7 155.5,50.1 155.5,55.5 153.5,55.2" fill="#9dc4a6"/><polyline points="139.1,52.6 155.5,55.2" fill="none" stroke="#8bae93" stroke-width="0.6"/>
<polygon points="217.6,44.1 230.7,46.2 230.7,55.5 217.6,53.4" fill="#a7dcb5"/><polygon points="217.6,44.1 230.7,46.2 230.7,49.7 217.6,47.6" fill="#c8e9d1"/><line x1="224.1" y1="48.7" x2="224.1" y2="54.5" stroke="#9fd1ac" stroke-width="1.1"/><polygon points="229.1,49.5 230.7,49.7 230.7,55.5 229.1,55.2" fill="#93c29f"/><polyline points="217.6,53.1 230.7,55.2" fill="none" stroke="#82ac8d" stroke-width="0.6"/>
<polygon points="95.5,47.5 110.9,50.9 110.9,63.2 95.5,59.8" fill="#1d9445"/><polygon points="95.5,47.5 110.9,50.9 110.9,54.6 95.5,51.2" fill="#2d9b52"/><polygon points="109.1,54.2 110.9,54.6 110.9,63.2 109.1,62.8" fill="#1a823d"/><polyline points="95.5,59.5 110.9,62.9" fill="none" stroke="#177336" stroke-width="0.6"/>
<polygon points="48.5,47.5 62.5,50.6 62.5,63.2 48.5,60.1" fill="#15863d"/><polygon points="48.5,47.5 62.5,50.6 62.5,54.4 48.5,51.3" fill="#258e4b"/><polygon points="60.8,54.0 62.5,54.4 62.5,63.2 60.8,62.8" fill="#127636"/><polyline points="48.5,59.8 62.5,62.9" fill="none" stroke="#106930" stroke-width="0.6"/>
<polygon points="174.0,46.3 189.3,48.7 189.3,57.6 174.0,55.2" fill="#b5e1c0"/><polygon points="174.0,46.3 189.3,48.7 189.3,52.1 174.0,49.7" fill="#d1ecd8"/><line x1="181.7" y1="50.9" x2="181.7" y2="56.4" stroke="#acd6b6" stroke-width="1.1"/><polygon points="187.5,51.8 189.3,52.1 189.3,57.6 187.5,57.3" fill="#9fc6a9"/><polyline points="174.0,54.9 189.3,57.3" fill="none" stroke="#8db096" stroke-width="0.6"/>
<polygon points="112.2,50.0 127.6,53.4 127.6,67.1 112.2,63.7" fill="#198e42"/><polygon points="112.2,50.0 127.6,53.4 127.6,57.5 112.2,54.1" fill="#29964f"/><polygon points="125.8,57.1 127.6,57.5 127.6,67.1 125.8,66.7" fill="#167d3a"/><polyline points="112.2,63.4 127.6,66.8" fill="none" stroke="#146f33" stroke-width="0.6"/>
<polygon points="132.5,49.6 160.9,54.1 160.9,66.4 132.5,61.9" fill="#b5e1c0"/><polygon points="132.5,49.6 160.9,54.1 160.9,58.8 132.5,54.3" fill="#d1ecd8"/><line x1="139.6" y1="55.4" x2="139.6" y2="63.0" stroke="#acd6b6" stroke-width="1.1"/><line x1="146.7" y1="56.5" x2="146.7" y2="64.1" stroke="#acd6b6" stroke-width="1.1"/><line x1="153.8" y1="57.7" x2="153.8" y2="65.3" stroke="#acd6b6" stroke-width="1.1"/><polygon points="158.9,58.5 160.9,58.8 160.9,66.4 158.9,66.1" fill="#9fc6a9"/><polyline points="132.5,61.6 160.9,66.1" fill="none" stroke="#8db096" stroke-width="0.6"/>
<polygon points="68.5,52.6 90.3,57.4 90.3,69.7 68.5,64.9" fill="#1a9043"/><polygon points="68.5,52.6 90.3,57.4 90.3,61.1 68.5,56.3" fill="#2a9850"/><polygon points="88.3,60.6 90.3,61.1 90.3,69.7 88.3,69.3" fill="#177f3b"/><polyline points="68.5,64.6 90.3,69.4" fill="none" stroke="#147034" stroke-width="0.6"/>
<polygon points="91.6,53.9 107.0,57.3 107.0,71.0 91.6,67.6" fill="#1d9445"/><polygon points="91.6,53.9 107.0,57.3 107.0,61.4 91.6,58.0" fill="#2d9b52"/><polygon points="105.2,61.0 107.0,61.4 107.0,71.0 105.2,70.6" fill="#1a823d"/><polyline points="91.6,67.3 107.0,70.7" fill="none" stroke="#177336" stroke-width="0.6"/>
<polygon points="160.9,52.9 171.8,54.6 171.8,68.5 160.9,66.8" fill="#aedeba"/><polygon points="160.9,52.9 171.8,54.6 171.8,59.9 160.9,58.2" fill="#cdebd4"/><line x1="166.4" y1="59.0" x2="166.4" y2="67.6" stroke="#a5d3b1" stroke-width="1.1"/><polygon points="170.5,59.7 171.8,59.9 171.8,68.5 170.5,68.3" fill="#99c3a4"/><polyline points="160.9,66.5 171.8,68.2" fill="none" stroke="#88ad91" stroke-width="0.6"/>
<polygon points="176.2,54.0 188.2,55.9 188.2,64.2 176.2,62.3" fill="#aedeba"/><polygon points="176.2,54.0 188.2,55.9 188.2,59.1 176.2,57.1" fill="#cdebd4"/><line x1="182.2" y1="58.1" x2="182.2" y2="63.2" stroke="#a5d3b1" stroke-width="1.1"/><polygon points="186.8,58.8 188.2,59.1 188.2,64.2 186.8,64.0" fill="#99c3a4"/><polyline points="176.2,62.0 188.2,63.9" fill="none" stroke="#88ad91" stroke-width="0.6"/>
<polygon points="207.8,54.0 230.7,57.7 230.7,64.2 207.8,60.5" fill="#a7dcb5"/><polygon points="207.8,54.0 230.7,57.7 230.7,60.1 207.8,56.5" fill="#c8e9d1"/><line x1="213.5" y1="57.4" x2="213.5" y2="61.5" stroke="#9fd1ac" stroke-width="1.1"/><line x1="219.2" y1="58.3" x2="219.2" y2="62.4" stroke="#9fd1ac" stroke-width="1.1"/><line x1="225.0" y1="59.2" x2="225.0" y2="63.3" stroke="#9fd1ac" stroke-width="1.1"/><polygon points="228.7,59.8 230.7,60.1 230.7,64.2 228.7,63.9" fill="#93c29f"/><polyline points="207.8,60.2 230.7,63.9" fill="none" stroke="#82ac8d" stroke-width="0.6"/>
<polygon points="43.3,56.5 56.0,59.3 56.0,71.0 43.3,68.2" fill="#15863d"/><polygon points="43.3,56.5 56.0,59.3 56.0,62.8 43.3,60.0" fill="#258e4b"/><polygon points="54.5,62.5 56.0,62.8 56.0,71.0 54.5,70.7" fill="#127636"/><polyline points="43.3,67.9 56.0,70.7" fill="none" stroke="#106930" stroke-width="0.6"/>
<polygon points="188.2,55.0 201.3,57.1 201.3,68.5 188.2,66.4" fill="#a5dab3"/><polygon points="188.2,55.0 201.3,57.1 201.3,61.4 188.2,59.3" fill="#c7e8d0"/><line x1="194.8" y1="60.4" x2="194.8" y2="67.5" stroke="#9dcfaa" stroke-width="1.1"/><polygon points="199.7,61.2 201.3,61.4 201.3,68.5 199.7,68.2" fill="#91c09e"/><polyline points="188.2,66.1 201.3,68.2" fill="none" stroke="#81aa8c" stroke-width="0.6"/>
<polygon points="108.3,57.8 122.5,60.9 122.5,73.5 108.3,70.4" fill="#0e6e30"/><polygon points="108.3,57.8 122.5,60.9 122.5,64.7 108.3,61.6" fill="#1f783e"/><polygon points="120.8,64.3 122.5,64.7 122.5,73.5 120.8,73.1" fill="#0c612a"/><polyline points="108.3,70.1 122.5,73.2" fill="none" stroke="#0b5625" stroke-width="0.6"/>
<polygon points="208.9,59.4 232.9,63.2 232.9,70.7 208.9,66.9" fill="#b2dfbd"/><polygon points="208.9,59.4 232.9,63.2 232.9,66.1 208.9,62.2" fill="#cfebd6"/><line x1="214.9" y1="63.2" x2="214.9" y2="67.8" stroke="#a9d4b4" stroke-width="1.1"/><line x1="220.9" y1="64.2" x2="220.9" y2="68.8" stroke="#a9d4b4" stroke-width="1.1"/><line x1="226.9" y1="65.1" x2="226.9" y2="69.7" stroke="#a9d4b4" stroke-width="1.1"/><polygon points="230.9,65.8 232.9,66.1 232.9,70.7 230.9,70.4" fill="#9dc4a6"/><polyline points="208.9,66.6 232.9,70.4" fill="none" stroke="#8bae93" stroke-width="0.6"/>
<polygon points="59.5,62.9 74.9,66.3 74.9,77.4 59.5,74.0" fill="#198e42"/><polygon points="59.5,62.9 74.9,66.3 74.9,69.6 59.5,66.2" fill="#29964f"/><polygon points="73.1,69.2 74.9,69.6 74.9,77.4 73.1,77.0" fill="#167d3a"/><polyline points="59.5,73.7 74.9,77.1" fill="none" stroke="#146f33" stroke-width="0.6"/>
<polygon points="80.2,63.0 98.5,67.0 98.5,77.7 80.2,73.7" fill="#1d9445"/><polygon points="80.2,63.0 98.5,67.0 98.5,70.2 80.2,66.2" fill="#2d9b52"/><polygon points="96.5,69.8 98.5,70.2 98.5,77.7 96.5,77.3" fill="#1a823d"/><polyline points="80.2,73.4 98.5,77.4" fill="none" stroke="#177336" stroke-width="0.6"/>
<polygon points="39.3,63.5 47.0,65.2 47.0,78.0 39.3,76.3" fill="#13813c"/><polygon points="39.3,63.5 47.0,65.2 47.0,69.0 39.3,67.3" fill="#248a4a"/><polygon points="46.1,68.8 47.0,69.0 47.0,78.0 46.1,77.8" fill="#117235"/><polyline points="39.3,76.0 47.0,77.7" fill="none" stroke="#0f652f" stroke-width="0.6"/>
<polygon points="166.4,63.8 187.1,67.1 187.1,77.3 166.4,74.0" fill="#bde3c6"/><polygon points="166.4,63.8 187.1,67.1 187.1,71.0 166.4,67.7" fill="#d6eedc"/><line x1="173.3" y1="68.8" x2="173.3" y2="75.1" stroke="#b4d8bc" stroke-width="1.1"/><line x1="180.2" y1="69.9" x2="180.2" y2="76.2" stroke="#b4d8bc" stroke-width="1.1"/><polygon points="185.1,70.7 187.1,71.0 187.1,77.3 185.1,77.0" fill="#a6c8ae"/><polyline points="166.4,73.7 187.1,77.0" fill="none" stroke="#93b19a" stroke-width="0.6"/>
<polygon points="98.5,66.6 114.5,70.1 114.5,81.2 98.5,77.7" fill="#1f9347"/><polygon points="98.5,66.6 114.5,70.1 114.5,73.4 98.5,69.9" fill="#2f9b54"/><polygon points="112.6,73.0 114.5,73.4 114.5,81.2 112.6,80.8" fill="#1b813e"/><polyline points="98.5,77.4 114.5,80.9" fill="none" stroke="#187337" stroke-width="0.6"/>
<polygon points="212.2,66.0 232.9,69.3 232.9,79.5 212.2,76.2" fill="#b2dfbd"/><polygon points="212.2,66.0 232.9,69.3 232.9,73.2 212.2,69.9" fill="#cfebd6"/><line x1="219.1" y1="71.0" x2="219.1" y2="77.3" stroke="#a9d4b4" stroke-width="1.1"/><line x1="226.0" y1="72.1" x2="226.0" y2="78.4" stroke="#a9d4b4" stroke-width="1.1"/><polygon points="230.9,72.9 232.9,73.2 232.9,79.5 230.9,79.2" fill="#9dc4a6"/><polyline points="212.2,75.9 232.9,79.2" fill="none" stroke="#8bae93" stroke-width="0.6"/>
<polygon points="187.1,67.0 201.3,69.3 201.3,79.5 187.1,77.2" fill="#a7dcb5"/><polygon points="187.1,67.0 201.3,69.3 201.3,73.2 187.1,70.9" fill="#c8e9d1"/><line x1="194.2" y1="72.0" x2="194.2" y2="78.4" stroke="#9fd1ac" stroke-width="1.1"/><polygon points="199.6,72.9 201.3,73.2 201.3,79.5 199.6,79.2" fill="#93c29f"/><polyline points="187.1,76.9 201.3,79.2" fill="none" stroke="#82ac8d" stroke-width="0.6"/>
<polygon points="52.7,69.5 71.0,73.5 71.0,86.8 52.7,82.8" fill="#0c6a2c"/><polygon points="52.7,69.5 71.0,73.5 71.0,77.5 52.7,73.5" fill="#1d743b"/><polygon points="69.0,77.1 71.0,77.5 71.0,86.8 69.0,86.4" fill="#0b5d27"/><polyline points="52.7,82.5 71.0,86.5" fill="none" stroke="#095322" stroke-width="0.6"/>
<polygon points="75.6,71.0 93.9,75.0 93.9,88.7 75.6,84.7" fill="#198e42"/><polygon points="75.6,71.0 93.9,75.0 93.9,79.1 75.6,75.1" fill="#29964f"/><polygon points="91.9,78.7 93.9,79.1 93.9,88.7 91.9,88.3" fill="#167d3a"/><polyline points="75.6,84.4 93.9,88.4" fill="none" stroke="#146f33" stroke-width="0.6"/>
<polygon points="94.0,76.0 114.5,80.5 114.5,91.9 94.0,87.4" fill="#1b9043"/><polygon points="94.0,76.0 114.5,80.5 114.5,83.9 94.0,79.4" fill="#2b9850"/><polygon points="112.5,83.5 114.5,83.9 114.5,91.9 112.5,91.5" fill="#187f3b"/><polyline points="94.0,87.1 114.5,91.6" fill="none" stroke="#157034" stroke-width="0.6"/>
<polygon points="188.2,75.8 200.2,77.7 200.2,92.6 188.2,90.7" fill="#a7dcb5"/><polygon points="188.2,75.8 200.2,77.7 200.2,83.4 188.2,81.5" fill="#c8e9d1"/><line x1="194.2" y1="82.4" x2="194.2" y2="91.6" stroke="#9fd1ac" stroke-width="1.1"/><polygon points="198.8,83.1 200.2,83.4 200.2,92.6 198.8,92.4" fill="#93c29f"/><polyline points="188.2,90.4 200.2,92.3" fill="none" stroke="#82ac8d" stroke-width="0.6"/>
<polygon points="187.0,78.5 200.0,79.8 200.0,96.4 187.0,95.1" fill="#a5dab2"/><polygon points="187.0,78.5 200.0,79.8 200.0,86.1 187.0,84.8" fill="#c7e8cf"/><line x1="193.5" y1="85.5" x2="193.5" y2="95.7" stroke="#9dcfa9" stroke-width="1.1"/><polygon points="198.4,86.0 200.0,86.1 200.0,96.4 198.4,96.2" fill="#91c09d"/><polyline points="187.0,94.8 200.0,96.1" fill="none" stroke="#81aa8b" stroke-width="0.6"/>
<polygon points="37.8,84.1 64.1,86.7 64.1,96.0 37.8,93.4" fill="#e4f1e6"/><polygon points="37.8,84.1 64.1,86.7 64.1,90.3 37.8,87.6" fill="#eef6f0"/><line x1="44.4" y1="88.3" x2="44.4" y2="94.0" stroke="#d9e5da" stroke-width="1.1"/><line x1="50.9" y1="88.9" x2="50.9" y2="94.7" stroke="#d9e5da" stroke-width="1.1"/><line x1="57.5" y1="89.6" x2="57.5" y2="95.3" stroke="#d9e5da" stroke-width="1.1"/><polygon points="62.1,90.1 64.1,90.3 64.1,96.0 62.1,95.8" fill="#c9d4ca"/><polyline points="37.8,93.1 64.1,95.7" fill="none" stroke="#b2bcb3" stroke-width="0.6"/>
<polygon points="63.0,85.3 82.5,87.2 82.5,98.3 63.0,96.4" fill="#e2efe4"/><polygon points="63.0,85.3 82.5,87.2 82.5,91.4 63.0,89.5" fill="#edf5ee"/><line x1="69.5" y1="90.1" x2="69.5" y2="97.0" stroke="#d7e3d9" stroke-width="1.1"/><line x1="76.0" y1="90.8" x2="76.0" y2="97.7" stroke="#d7e3d9" stroke-width="1.1"/><polygon points="80.5,91.2 82.5,91.4 82.5,98.3 80.5,98.1" fill="#c7d2c9"/><polyline points="63.0,96.1 82.5,98.0" fill="none" stroke="#b0bab2" stroke-width="0.6"/>
<polygon points="81.3,88.7 91.6,89.7 91.6,102.7 81.3,101.7" fill="#dfeee2"/><polygon points="81.3,88.7 91.6,89.7 91.6,94.7 81.3,93.6" fill="#ebf4ed"/><line x1="86.4" y1="94.1" x2="86.4" y2="102.2" stroke="#d4e2d7" stroke-width="1.1"/><polygon points="90.4,94.5 91.6,94.7 91.6,102.7 90.4,102.6" fill="#c4d1c7"/><polyline points="81.3,101.4 91.6,102.4" fill="none" stroke="#aebab0" stroke-width="0.6"/>
<polygon points="50.4,92.1 65.3,93.6 65.3,105.2 50.4,103.7" fill="#e4f1e6"/><polygon points="50.4,92.1 65.3,93.6 65.3,98.0 50.4,96.5" fill="#eef6f0"/><line x1="57.8" y1="97.3" x2="57.8" y2="104.5" stroke="#d9e5da" stroke-width="1.1"/><polygon points="63.5,97.8 65.3,98.0 65.3,105.2 63.5,105.0" fill="#c9d4ca"/><polyline points="50.4,103.4 65.3,104.9" fill="none" stroke="#b2bcb3" stroke-width="0.6"/>
<polygon points="29.8,93.3 50.4,95.4 50.4,107.4 29.8,105.3" fill="#d5ebd9"/><polygon points="29.8,93.3 50.4,95.4 50.4,99.9 29.8,97.9" fill="#e5f3e7"/><line x1="36.7" y1="98.6" x2="36.7" y2="106.0" stroke="#cadfce" stroke-width="1.1"/><line x1="43.5" y1="99.2" x2="43.5" y2="106.7" stroke="#cadfce" stroke-width="1.1"/><polygon points="48.4,99.7 50.4,99.9 50.4,107.4 48.4,107.2" fill="#bbcfbf"/><polyline points="29.8,105.0 50.4,107.1" fill="none" stroke="#a6b7a9" stroke-width="0.6"/>
<polygon points="136.0,99.8 151.5,101.4 151.5,114.1 136.0,112.6" fill="#d0e9d5"/><polygon points="136.0,99.8 151.5,101.4 151.5,106.2 136.0,104.6" fill="#e2f1e5"/><line x1="143.8" y1="105.4" x2="143.8" y2="113.3" stroke="#c6ddca" stroke-width="1.1"/><polygon points="149.6,106.0 151.5,106.2 151.5,114.1 149.6,113.9" fill="#b7cdbb"/><polyline points="136.0,112.2 151.5,113.8" fill="none" stroke="#a2b6a6" stroke-width="0.6"/>
<polygon points="111.0,100.9 120.0,101.8 120.0,111.8 111.0,110.9" fill="#dfeee2"/><polygon points="111.0,100.9 120.0,101.8 120.0,105.6 111.0,104.7" fill="#ebf4ed"/><polygon points="118.9,105.5 120.0,105.6 120.0,111.8 118.9,111.7" fill="#c4d1c7"/><polyline points="111.0,110.6 120.0,111.5" fill="none" stroke="#aebab0" stroke-width="0.6"/>
<polygon points="116.0,101.0 132.5,102.6 132.5,115.3 116.0,113.7" fill="#d0e9d5"/><polygon points="116.0,101.0 132.5,102.6 132.5,107.5 116.0,105.8" fill="#e2f1e5"/><line x1="121.5" y1="106.4" x2="121.5" y2="114.2" stroke="#c6ddca" stroke-width="1.1"/><line x1="127.0" y1="106.9" x2="127.0" y2="114.8" stroke="#c6ddca" stroke-width="1.1"/><polygon points="130.5,107.3 132.5,107.5 132.5,115.3 130.5,115.1" fill="#b7cdbb"/><polyline points="116.0,113.4 132.5,115.0" fill="none" stroke="#a2b6a6" stroke-width="0.6"/>
<polygon points="153.8,101.0 176.3,103.2 176.3,116.5 153.8,114.2" fill="#d0e9d5"/><polygon points="153.8,101.0 176.3,103.2 176.3,108.3 153.8,106.0" fill="#e2f1e5"/><line x1="161.3" y1="106.8" x2="161.3" y2="115.0" stroke="#c6ddca" stroke-width="1.1"/><line x1="168.8" y1="107.5" x2="168.8" y2="115.8" stroke="#c6ddca" stroke-width="1.1"/><polygon points="174.3,108.1 176.3,108.3 176.3,116.5 174.3,116.3" fill="#b7cdbb"/><polyline points="153.8,113.9 176.3,116.2" fill="none" stroke="#a2b6a6" stroke-width="0.6"/>
<polygon points="64.4,103.3 87.1,105.6 87.1,116.6 64.4,114.3" fill="#d8ecdc"/><polygon points="64.4,103.3 87.1,105.6 87.1,109.8 64.4,107.5" fill="#e7f3e9"/><line x1="72.0" y1="108.2" x2="72.0" y2="115.1" stroke="#cde0d1" stroke-width="1.1"/><line x1="79.5" y1="109.0" x2="79.5" y2="115.8" stroke="#cde0d1" stroke-width="1.1"/><polygon points="85.1,109.6 87.1,109.8 87.1,116.6 85.1,116.4" fill="#bed0c2"/><polyline points="64.4,114.0 87.1,116.3" fill="none" stroke="#a8b8ac" stroke-width="0.6"/>
<polygon points="44.2,105.7 63.2,107.6 63.2,119.0 44.2,117.1" fill="#d5ebd9"/><polygon points="44.2,105.7 63.2,107.6 63.2,111.9 44.2,110.0" fill="#e5f3e7"/><line x1="50.5" y1="110.7" x2="50.5" y2="117.7" stroke="#cadfce" stroke-width="1.1"/><line x1="56.9" y1="111.3" x2="56.9" y2="118.4" stroke="#cadfce" stroke-width="1.1"/><polygon points="61.2,111.7 63.2,111.9 63.2,119.0 61.2,118.8" fill="#bbcfbf"/><polyline points="44.2,116.8 63.2,118.7" fill="none" stroke="#a6b7a9" stroke-width="0.6"/>
<polygon points="23.9,106.9 43.0,108.8 43.0,120.2 23.9,118.3" fill="#d8ecdc"/><polygon points="23.9,106.9 43.0,108.8 43.0,113.1 23.9,111.2" fill="#e7f3e9"/><line x1="30.3" y1="111.9" x2="30.3" y2="118.9" stroke="#cde0d1" stroke-width="1.1"/><line x1="36.6" y1="112.5" x2="36.6" y2="119.6" stroke="#cde0d1" stroke-width="1.1"/><polygon points="41.0,112.9 43.0,113.1 43.0,120.2 41.0,120.0" fill="#bed0c2"/><polyline points="23.9,118.0 43.0,119.9" fill="none" stroke="#a8b8ac" stroke-width="0.6"/>
<polygon points="132.5,111.6 151.5,113.5 151.5,126.0 132.5,124.1" fill="#c8e8cf"/><polygon points="132.5,111.6 151.5,113.5 151.5,118.2 132.5,116.4" fill="#ddf1e1"/><line x1="138.8" y1="117.0" x2="138.8" y2="124.7" stroke="#bedcc5" stroke-width="1.1"/><line x1="145.2" y1="117.6" x2="145.2" y2="125.4" stroke="#bedcc5" stroke-width="1.1"/><polygon points="149.5,118.1 151.5,118.2 151.5,126.0 149.5,125.8" fill="#b0ccb6"/><polyline points="132.5,123.8 151.5,125.7" fill="none" stroke="#9cb5a1" stroke-width="0.6"/>
<polygon points="152.6,112.8 175.1,115.1 175.1,128.3 152.6,126.1" fill="#c8e8cf"/><polygon points="152.6,112.8 175.1,115.1 175.1,120.1 152.6,117.8" fill="#ddf1e1"/><line x1="160.1" y1="118.6" x2="160.1" y2="126.8" stroke="#bedcc5" stroke-width="1.1"/><line x1="167.6" y1="119.3" x2="167.6" y2="127.6" stroke="#bedcc5" stroke-width="1.1"/><polygon points="173.1,119.9 175.1,120.1 175.1,128.3 173.1,128.1" fill="#b0ccb6"/><polyline points="152.6,125.8 175.1,128.0" fill="none" stroke="#9cb5a1" stroke-width="0.6"/>
<polygon points="60.9,114.1 83.5,116.4 83.5,128.5 60.9,126.2" fill="#d2ead6"/><polygon points="60.9,114.1 83.5,116.4 83.5,121.0 60.9,118.7" fill="#e3f2e6"/><line x1="68.4" y1="119.5" x2="68.4" y2="127.0" stroke="#c8decb" stroke-width="1.1"/><line x1="76.0" y1="120.2" x2="76.0" y2="127.7" stroke="#c8decb" stroke-width="1.1"/><polygon points="81.5,120.8 83.5,121.0 83.5,128.5 81.5,128.3" fill="#b9cebc"/><polyline points="60.9,125.9 83.5,128.2" fill="none" stroke="#a4b7a7" stroke-width="0.6"/>
<polygon points="19.1,117.7 37.0,119.5 37.0,130.9 19.1,129.1" fill="#cfe8d4"/><polygon points="19.1,117.7 37.0,119.5 37.0,123.8 19.1,122.0" fill="#e1f1e4"/><line x1="25.1" y1="122.6" x2="25.1" y2="129.7" stroke="#c5dcc9" stroke-width="1.1"/><line x1="31.0" y1="123.2" x2="31.0" y2="130.3" stroke="#c5dcc9" stroke-width="1.1"/><polygon points="35.0,123.6 37.0,123.8 37.0,130.9 35.0,130.7" fill="#b6ccbb"/><polyline points="19.1,128.8 37.0,130.6" fill="none" stroke="#a1b5a5" stroke-width="0.6"/>
<polygon points="38.2,117.7 56.1,119.5 56.1,130.9 38.2,129.1" fill="#d2ead6"/><polygon points="38.2,117.7 56.1,119.5 56.1,123.8 38.2,122.0" fill="#e3f2e6"/><line x1="44.2" y1="122.6" x2="44.2" y2="129.7" stroke="#c8decb" stroke-width="1.1"/><line x1="50.1" y1="123.2" x2="50.1" y2="130.3" stroke="#c8decb" stroke-width="1.1"/><polygon points="54.1,123.6 56.1,123.8 56.1,130.9 54.1,130.7" fill="#b9cebc"/><polyline points="38.2,128.8 56.1,130.6" fill="none" stroke="#a4b7a7" stroke-width="0.6"/>
<polygon points="130.2,122.2 149.1,124.1 149.1,137.7 130.2,135.8" fill="#c8e8cf"/><polygon points="130.2,122.2 149.1,124.1 149.1,129.3 130.2,127.4" fill="#ddf1e1"/><line x1="136.5" y1="128.0" x2="136.5" y2="136.4" stroke="#bedcc5" stroke-width="1.1"/><line x1="142.8" y1="128.6" x2="142.8" y2="137.1" stroke="#bedcc5" stroke-width="1.1"/><polygon points="147.1,129.1 149.1,129.3 149.1,137.7 147.1,137.5" fill="#b0ccb6"/><polyline points="130.2,135.5 149.1,137.4" fill="none" stroke="#9cb5a1" stroke-width="0.6"/>
<polygon points="150.3,124.6 172.7,126.8 172.7,140.1 150.3,137.9" fill="#c8e8cf"/><polygon points="150.3,124.6 172.7,126.8 172.7,131.9 150.3,129.6" fill="#ddf1e1"/><line x1="157.8" y1="130.4" x2="157.8" y2="138.6" stroke="#bedcc5" stroke-width="1.1"/><line x1="165.2" y1="131.1" x2="165.2" y2="139.4" stroke="#bedcc5" stroke-width="1.1"/><polygon points="170.7,131.7 172.7,131.9 172.7,140.1 170.7,139.9" fill="#b0ccb6"/><polyline points="150.3,137.6 172.7,139.8" fill="none" stroke="#9cb5a1" stroke-width="0.6"/>
<polygon points="56.1,124.8 78.8,127.1 78.8,139.2 56.1,136.9" fill="#d2ead6"/><polygon points="56.1,124.8 78.8,127.1 78.8,131.7 56.1,129.4" fill="#e3f2e6"/><line x1="63.7" y1="130.2" x2="63.7" y2="137.7" stroke="#c8decb" stroke-width="1.1"/><line x1="71.2" y1="130.9" x2="71.2" y2="138.4" stroke="#c8decb" stroke-width="1.1"/><polygon points="76.8,131.5 78.8,131.7 78.8,139.2 76.8,139.0" fill="#b9cebc"/><polyline points="56.1,136.6 78.8,138.9" fill="none" stroke="#a4b7a7" stroke-width="0.6"/>
<polygon points="37.0,126.0 53.7,127.7 53.7,139.2 37.0,137.5" fill="#d2ead6"/><polygon points="37.0,126.0 53.7,127.7 53.7,132.1 37.0,130.4" fill="#e3f2e6"/><line x1="42.6" y1="130.9" x2="42.6" y2="138.1" stroke="#c8decb" stroke-width="1.1"/><line x1="48.1" y1="131.5" x2="48.1" y2="138.6" stroke="#c8decb" stroke-width="1.1"/><polygon points="51.7,131.9 53.7,132.1 53.7,139.2 51.7,139.0" fill="#b9cebc"/><polyline points="37.0,137.2 53.7,138.9" fill="none" stroke="#a4b7a7" stroke-width="0.6"/>
<polygon points="95.5,127.2 120.0,129.6 120.0,144.0 95.5,141.6" fill="#d8eddb"/><polygon points="95.5,127.2 120.0,129.6 120.0,135.1 95.5,132.7" fill="#e7f4e9"/><line x1="101.6" y1="133.3" x2="101.6" y2="142.2" stroke="#cde1d0" stroke-width="1.1"/><line x1="107.8" y1="133.9" x2="107.8" y2="142.8" stroke="#cde1d0" stroke-width="1.1"/><line x1="113.9" y1="134.5" x2="113.9" y2="143.4" stroke="#cde1d0" stroke-width="1.1"/><polygon points="118.0,134.9 120.0,135.1 120.0,144.0 118.0,143.8" fill="#bed1c1"/><polyline points="95.5,141.2 120.0,143.7" fill="none" stroke="#a8b9ab" stroke-width="0.6"/>
<polygon points="116.0,128.1 124.3,128.9 124.3,143.6 116.0,142.8" fill="#cfe8d4"/><polygon points="116.0,128.1 124.3,128.9 124.3,134.5 116.0,133.7" fill="#e1f1e4"/><polygon points="123.3,134.4 124.3,134.5 124.3,143.6 123.3,143.5" fill="#b6ccbb"/><polyline points="116.0,142.5 124.3,143.3" fill="none" stroke="#a1b5a5" stroke-width="0.6"/>
<polygon points="14.3,128.4 50.1,132.0 50.1,146.4 14.3,142.8" fill="#d0e9d5"/><polygon points="14.3,128.4 50.1,132.0 50.1,137.5 14.3,133.9" fill="#e2f1e5"/><line x1="20.3" y1="134.5" x2="20.3" y2="143.4" stroke="#c6ddca" stroke-width="1.1"/><line x1="26.2" y1="135.1" x2="26.2" y2="144.0" stroke="#c6ddca" stroke-width="1.1"/><line x1="32.2" y1="135.7" x2="32.2" y2="144.6" stroke="#c6ddca" stroke-width="1.1"/><line x1="38.2" y1="136.3" x2="38.2" y2="145.2" stroke="#c6ddca" stroke-width="1.1"/><line x1="44.1" y1="136.9" x2="44.1" y2="145.8" stroke="#c6ddca" stroke-width="1.1"/><polygon points="48.1,137.3 50.1,137.5 50.1,146.4 48.1,146.2" fill="#b7cdbb"/><polyline points="14.3,142.5 50.1,146.1" fill="none" stroke="#a2b6a6" stroke-width="0.6"/>
<polygon points="126.6,135.2 146.7,137.2 146.7,147.2 126.6,145.2" fill="#c5e6cc"/><polygon points="126.6,135.2 146.7,137.2 146.7,141.0 126.6,139.0" fill="#dbf0df"/><line x1="133.3" y1="139.7" x2="133.3" y2="145.9" stroke="#bbdac2" stroke-width="1.1"/><line x1="140.0" y1="140.3" x2="140.0" y2="146.5" stroke="#bbdac2" stroke-width="1.1"/><polygon points="144.7,140.8 146.7,141.0 146.7,147.2 144.7,147.0" fill="#adcab4"/><polyline points="126.6,144.9 146.7,146.9" fill="none" stroke="#9ab39f" stroke-width="0.6"/>
<polygon points="51.3,136.7 75.2,139.1 75.2,152.4 51.3,150.0" fill="#d5ebd9"/><polygon points="51.3,136.7 75.2,139.1 75.2,144.1 51.3,141.8" fill="#e5f3e7"/><line x1="57.3" y1="142.4" x2="57.3" y2="150.6" stroke="#cadfce" stroke-width="1.1"/><line x1="63.2" y1="143.0" x2="63.2" y2="151.2" stroke="#cadfce" stroke-width="1.1"/><line x1="69.2" y1="143.6" x2="69.2" y2="151.8" stroke="#cadfce" stroke-width="1.1"/><polygon points="73.2,143.9 75.2,144.1 75.2,152.4 73.2,152.2" fill="#bbcfbf"/><polyline points="51.3,149.7 75.2,152.1" fill="none" stroke="#a6b7a9" stroke-width="0.6"/>
<polygon points="126.6,142.3 145.6,144.2 145.6,154.3 126.6,152.4" fill="#c5e6cc"/><polygon points="126.6,142.3 145.6,144.2 145.6,148.0 126.6,146.1" fill="#dbf0df"/><line x1="132.9" y1="146.8" x2="132.9" y2="153.0" stroke="#bbdac2" stroke-width="1.1"/><line x1="139.3" y1="147.4" x2="139.3" y2="153.7" stroke="#bbdac2" stroke-width="1.1"/><polygon points="143.6,147.8 145.6,148.0 145.6,154.3 143.6,154.1" fill="#adcab4"/><polyline points="126.6,152.1 145.6,154.0" fill="none" stroke="#9ab39f" stroke-width="0.6"/>
<polygon points="124.3,149.4 143.2,151.3 143.2,162.6 124.3,160.7" fill="#c5e6cc"/><polygon points="124.3,149.4 143.2,151.3 143.2,155.6 124.3,153.7" fill="#dbf0df"/><line x1="130.6" y1="154.3" x2="130.6" y2="161.3" stroke="#bbdac2" stroke-width="1.1"/><line x1="136.9" y1="155.0" x2="136.9" y2="162.0" stroke="#bbdac2" stroke-width="1.1"/><polygon points="141.2,155.4 143.2,155.6 143.2,162.6 141.2,162.4" fill="#adcab4"/><polyline points="124.3,160.4 143.2,162.3" fill="none" stroke="#9ab39f" stroke-width="0.6"/>
<rect x="201.4" y="62.4" width="1.3" height="1.3" fill="#e0242a"/>
<rect x="34.7" y="84.1" width="1.3" height="1.3" fill="#e0242a"/>
<rect x="72.9" y="84.1" width="1.3" height="1.3" fill="#e0242a"/>
<rect x="121.4" y="151.7" width="1.3" height="1.3" fill="#e0242a"/>
</svg>
<rect x="215.6" y="303.3" width="49.5" height="62.3" fill="#fff" stroke="#6f93d2" stroke-width="0.8"/><linearGradient id="grc" x1="0" y1="0" x2="0" y2="1"><stop offset="0" stop-color="#ffffff"/><stop offset="0.33" stop-color="#bfe9c8"/><stop offset="0.5" stop-color="#3cc068"/><stop offset="0.62" stop-color="#0fa848"/><stop offset="0.82" stop-color="#0a7a32"/><stop offset="1" stop-color="#064f1c"/></linearGradient><rect x="226.0" y="317.8" width="16.2" height="45" fill="url(#grc)"/><text x="220.7" y="312.6" font-family='"Liberation Serif", serif' font-size="7.6" fill="#000" textLength="40" lengthAdjust="spacingAndGlyphs">Recycling rate</text><text x="245.6" y="320.90000000000003" font-family='"Liberation Serif", serif' font-size="7.4" fill="#111" textLength="10" lengthAdjust="spacingAndGlyphs">0%</text><text x="245.6" y="364.1" font-family='"Liberation Serif", serif' font-size="7.2" fill="#111" textLength="16.6" lengthAdjust="spacingAndGlyphs">100%</text>
<svg x="304" y="206" width="241" height="162.5" viewBox="0 0 241 162.5">
<rect x="-1" y="-1" width="260" height="170" fill="#f5f2ec"/><clipPath id="cmp"><polygon points="-1.0,-1.0 70.5,-1.0 26.0,74.0 20.0,84.0 -1.0,112.0"/></clipPath><g clip-path="url(#cmp)"><rect x="-2" y="-2" width="80" height="130" fill="#b0db8c"/><line x1="-4.0" y1="-26.4" x2="76.0" y2="-8.8" stroke="#f5f2ec" stroke-width="3.3"/><line x1="-4.0" y1="-19.8" x2="76.0" y2="-2.2" stroke="#f5f2ec" stroke-width="4.8"/><line x1="-4.0" y1="-13.2" x2="76.0" y2="4.4" stroke="#f5f2ec" stroke-width="3.5"/><line x1="-4.0" y1="-6.6" x2="76.0" y2="11.0" stroke="#f5f2ec" stroke-width="5.1"/><line x1="-4.0" y1="0.0" x2="76.0" y2="17.6" stroke="#f5f2ec" stroke-width="3.4"/><line x1="-4.0" y1="6.6" x2="76.0" y2="24.2" stroke="#f5f2ec" stroke-width="5.1"/><line x1="-4.0" y1="13.2" x2="76.0" y2="30.8" stroke="#f5f2ec" stroke-width="2.4"/><line x1="-4.0" y1="19.8" x2="76.0" y2="37.4" stroke="#f5f2ec" stroke-width="4.5"/><line x1="-4.0" y1="26.4" x2="76.0" y2="44.0" stroke="#f5f2ec" stroke-width="3.7"/><line x1="-4.0" y1="33.0" x2="76.0" y2="50.6" stroke="#f5f2ec" stroke-width="4.7"/><line x1="-4.0" y1="39.6" x2="76.0" y2="57.2" stroke="#f5f2ec" stroke-width="3.7"/><line x1="-4.0" y1="46.2" x2="76.0" y2="63.8" stroke="#f5f2ec" stroke-width="4.0"/><line x1="-4.0" y1="52.8" x2="76.0" y2="70.4" stroke="#f5f2ec" stroke-width="3.1"/><line x1="-4.0" y1="59.4" x2="76.0" y2="77.0" stroke="#f5f2ec" stroke-width="4.1"/><line x1="-4.0" y1="66.0" x2="76.0" y2="83.6" stroke="#f5f2ec" stroke-width="3.2"/><line x1="-4.0" y1="72.6" x2="76.0" y2="90.2" stroke="#f5f2ec" stroke-width="4.6"/><line x1="-4.0" y1="79.2" x2="76.0" y2="96.8" stroke="#f5f2ec" stroke-width="2.4"/><line x1="-4.0" y1="85.8" x2="76.0" y2="103.4" stroke="#f5f2ec" stroke-width="4.1"/><line x1="-4.0" y1="92.4" x2="76.0" y2="110.0" stroke="#f5f2ec" stroke-width="2.8"/><line x1="-4.0" y1="99.0" x2="76.0" y2="116.6" stroke="#f5f2ec" stroke-width="5.1"/><line x1="-4.0" y1="105.6" x2="76.0" y2="123.2" stroke="#f5f2ec" stroke-width="3.5"/><line x1="-4.0" y1="112.2" x2="76.0" y2="129.8" stroke="#f5f2ec" stroke-width="4.0"/><line x1="-4.0" y1="118.8" x2="76.0" y2="136.4" stroke="#f5f2ec" stroke-width="3.5"/><line x1="-4.0" y1="125.4" x2="76.0" y2="143.0" stroke="#f5f2ec" stroke-width="4.0"/><line x1="-4.0" y1="132.0" x2="76.0" y2="149.6" stroke="#f5f2ec" stroke-width="3.3"/><line x1="-4.0" y1="138.6" x2="76.0" y2="156.2" stroke="#f5f2ec" stroke-width="4.0"/><polygon points="6.0,56.0 15.0,58.0 13.0,63.0 4.0,61.0" fill="#f5f2ec"/><polygon points="12.0,25.0 21.0,27.0 19.0,32.0 10.0,30.0" fill="#f5f2ec"/><polygon points="3.0,40.0 12.0,42.0 10.0,47.0 1.0,45.0" fill="#f5f2ec"/><polygon points="32.0,6.0 41.0,8.0 39.0,13.0 30.0,11.0" fill="#f5f2ec"/><polygon points="18.0,64.0 27.0,66.0 25.0,71.0 16.0,69.0" fill="#f5f2ec"/><line x1="-14.0" y1="-6.0" x2="-85.5" y2="124.0" stroke="#fbfaf6" stroke-width="2.2"/><line x1="1.0" y1="-6.0" x2="-70.5" y2="124.0" stroke="#fbfaf6" stroke-width="2.2"/><line x1="16.0" y1="-6.0" x2="-55.5" y2="124.0" stroke="#fbfaf6" stroke-width="2.2"/><line x1="31.0" y1="-6.0" x2="-40.5" y2="124.0" stroke="#fbfaf6" stroke-width="2.2"/><line x1="46.0" y1="-6.0" x2="-25.5" y2="124.0" stroke="#fbfaf6" stroke-width="2.2"/><line x1="61.0" y1="-6.0" x2="-10.5" y2="124.0" stroke="#fbfaf6" stroke-width="2.2"/><line x1="76.0" y1="-6.0" x2="4.5" y2="124.0" stroke="#fbfaf6" stroke-width="2.2"/><line x1="91.0" y1="-6.0" x2="19.5" y2="124.0" stroke="#fbfaf6" stroke-width="2.2"/><line x1="106.0" y1="-6.0" x2="34.5" y2="124.0" stroke="#fbfaf6" stroke-width="2.2"/><line x1="121.0" y1="-6.0" x2="49.5" y2="124.0" stroke="#fbfaf6" stroke-width="2.2"/><line x1="136.0" y1="-6.0" x2="64.5" y2="124.0" stroke="#fbfaf6" stroke-width="2.2"/></g><ellipse cx="42.7" cy="17.69999999999999" rx="8.5" ry="6" fill="#b0db8c"/><ellipse cx="42.7" cy="17.69999999999999" rx="5.5" ry="3.6" fill="none" stroke="#f7f6f0" stroke-width="0.9"/><polygon points="26.5,24.5 49.0,28.0 44.5,42.0 20.5,39.5" fill="#b0db8c"/><polygon points="28.2,26.6 46.7,29.8 42.7,40.2 22.5,37.8" fill="#f6f4ef"/><polygon points="-1.0,81.0 25.0,75.0 19.0,86.0 -1.0,112.0" fill="#b0db8c"/><polygon points="197.8,0.5 221.0,0.5 225.5,6.0 226.5,33.6 200.5,29.5 188.0,32.0 185.0,18.5 181.5,18.0 181.5,12.5 197.0,11.8" fill="#b0db8c"/><polyline points="209.0,0.5 210.0,6.0 208.0,12.0 209.0,22.0 216.0,32.0" fill="none" stroke="#eef3e6" stroke-width="0.8"/><polyline points="197.0,11.5 212.0,10.5 226.0,10.0" fill="none" stroke="#eef3e6" stroke-width="0.8"/><polygon points="149.6,1.8 158.7,3.0 158.0,7.3 149.0,6.5" fill="#b0db8c"/><polygon points="159.6,3.6 166.0,4.5 166.0,8.2 159.6,7.5" fill="#b0db8c"/><polygon points="146.0,8.2 153.3,9.0 152.5,12.7 145.0,12.0" fill="#b0db8c"/><polygon points="151.5,15.5 158.7,16.5 158.0,20.0 151.0,19.0" fill="#b0db8c"/><polygon points="184.9,19.5 198.0,20.0 198.0,29.3 185.0,27.0" fill="#b0db8c"/><polygon points="231.0,46.7 244.5,49.0 244.5,84.0 232.0,83.8" fill="#b0db8c"/><polygon points="139.2,82.4 154.8,83.5 154.8,91.9 139.2,91.0" fill="#b0db8c"/><polygon points="163.3,81.4 172.7,82.0 172.7,90.8 163.0,90.0" fill="#b0db8c"/><polygon points="165.6,94.4 182.2,95.5 182.2,99.1 165.6,98.5" fill="#b0db8c"/><polygon points="132.5,92.0 142.0,93.0 142.0,95.5 132.5,94.8" fill="#b0db8c"/><polygon points="203.5,81.4 208.2,81.4 208.2,95.5 203.5,95.5" fill="#b0db8c"/><polygon points="217.7,86.0 229.5,86.5 229.5,93.2 217.7,93.0" fill="#b0db8c"/><polygon points="233.0,79.0 241.0,79.5 241.0,83.7 233.0,83.5" fill="#b0db8c"/><polygon points="134.7,68.5 143.5,69.5 143.5,71.8 134.7,71.0" fill="#b0db8c"/><polygon points="154.4,15.0 160.9,16.0 160.9,20.5 154.4,19.5" fill="#b0db8c"/><polygon points="36.0,94.0 94.0,92.0 93.0,106.0 32.0,107.0" fill="#c6e4a8"/><polygon points="151.5,145.2 159.7,146.5 159.7,157.0 151.5,156.0" fill="#fbfbf9" stroke="#dcdcd6" stroke-width="0.4"/><polygon points="161.0,147.6 177.5,149.5 177.5,154.7 161.0,153.0" fill="#fbfbf9" stroke="#dcdcd6" stroke-width="0.4"/><polygon points="180.0,149.5 189.0,150.5 189.0,154.5 180.0,153.5" fill="#fbfbf9" stroke="#dcdcd6" stroke-width="0.4"/><polyline points="73.2,-1.0 17.2,93.0 -3.0,138.0" fill="none" stroke="#fdfdfb" stroke-width="2"/><polyline points="152.0,0.0 126.0,56.0 111.0,94.0 97.0,134.0 92.0,163.0" fill="none" stroke="#fdfdfb" stroke-width="2"/><polyline points="0.0,79.0 36.0,83.0 96.0,91.0 116.0,94.0" fill="none" stroke="#fdfdfb" stroke-width="2"/><polyline points="-2.0,143.0 56.0,155.5 116.0,165.0" fill="none" stroke="#fdfdfb" stroke-width="2"/><polyline points="226.2,0.0 226.2,163.0" fill="none" stroke="#fdfdfb" stroke-width="2"/><polyline points="116.0,94.0 186.0,106.0 244.0,112.0" fill="none" stroke="#fdfdfb" stroke-width="2"/><polyline points="181.0,64.0 181.0,163.0" fill="none" stroke="#fdfdfb" stroke-width="2"/><polyline points="203.0,62.0 202.0,163.0" fill="none" stroke="#fdfdfb" stroke-width="2"/><polyline points="65.0,0.0 150.0,21.5 244.0,43.5" fill="none" stroke="#fbe08e" stroke-width="1.6"/><polyline points="76.8,-1.0 20.0,94.0 0.0,140.0" fill="none" stroke="#9ac0f0" stroke-width="3.5"/><polyline points="100.2,94.3 122.5,96.7 133.3,100.2 154.8,101.4 190.5,105.0 206.0,105.0" fill="none" stroke="#9ac0f0" stroke-width="2.8"/><polyline points="100.2,94.3 93.9,107.4 90.3,128.9 95.0,138.4 104.6,145.6" fill="none" stroke="#9ac0f0" stroke-width="2.8"/><ellipse cx="110.0" cy="150.3" rx="8.5" ry="5.6" fill="#9ac0f0"/><ellipse cx="173.0" cy="0.0" rx="13" ry="2.2" fill="#9ac0f0"/><rect x="235.39999999999998" y="88.5" width="6" height="8" rx="1.5" fill="#9ac0f0"/><ellipse cx="239.0" cy="91.0" rx="4.5" ry="3.5" fill="#9ac0f0"/>
<polygon points="88.0,10.0 96.8,9.0 122.5,13.5 149.0,20.5 148.0,30.0 144.0,36.0 138.0,42.0 134.0,54.0 125.0,65.0 120.0,72.0 113.0,84.0 109.0,87.5 93.0,84.5 76.0,82.0 56.0,82.0 48.0,73.0 42.0,70.0 44.0,60.0 49.0,51.0 54.0,43.0 58.0,35.0 62.0,28.0 68.0,23.0 80.0,25.0 84.0,17.0" fill="#0f6e30" opacity="0.45"/>
<polygon points="74.9,1.3 96.5,6.1 96.5,14.9 74.9,10.1" fill="#0d662c"/><polygon points="74.9,1.3 96.5,6.1 96.5,8.7 74.9,4.0" fill="#1e713b"/><polygon points="94.5,8.3 96.5,8.7 96.5,14.9 94.5,14.5" fill="#0b5a27"/><polyline points="74.9,9.8 96.5,14.6" fill="none" stroke="#0a5022" stroke-width="0.6"/>
<polygon points="90.3,3.7 96.8,5.1 96.8,19.5 90.3,18.1" fill="#0a5422"/><polygon points="90.3,3.7 96.8,5.1 96.8,9.4 90.3,8.0" fill="#1b6031"/><polygon points="96.0,9.3 96.8,9.4 96.8,19.5 96.0,19.3" fill="#094a1e"/><polyline points="90.3,17.8 96.8,19.2" fill="none" stroke="#08421b" stroke-width="0.6"/>
<polygon points="99.6,7.5 122.8,12.6 122.8,21.1 99.6,16.0" fill="#0c632a"/><polygon points="99.6,7.5 122.8,12.6 122.8,15.2 99.6,10.0" fill="#1d6e39"/><polygon points="120.8,14.7 122.8,15.2 122.8,21.1 120.8,20.7" fill="#0b5725"/><polyline points="99.6,15.7 122.8,20.8" fill="none" stroke="#094d21" stroke-width="0.6"/>
<polygon points="76.2,7.6 81.3,8.7 81.3,22.1 76.2,21.0" fill="#0c6128"/><polygon points="76.2,7.6 81.3,8.7 81.3,12.7 76.2,11.6" fill="#1d6c37"/><polygon points="80.7,12.6 81.3,12.7 81.3,22.1 80.7,22.0" fill="#0b5523"/><polyline points="76.2,20.7 81.3,21.8" fill="none" stroke="#094c1f" stroke-width="0.6"/>
<polygon points="85.2,11.4 91.6,12.8 91.6,25.9 85.2,24.5" fill="#0b5d27"/><polygon points="85.2,11.4 91.6,12.8 91.6,16.7 85.2,15.3" fill="#1c6836"/><polygon points="90.8,16.6 91.6,16.7 91.6,25.9 90.8,25.7" fill="#0a5222"/><polyline points="85.2,24.2 91.6,25.6" fill="none" stroke="#09491e" stroke-width="0.6"/>
<polygon points="105.8,12.7 117.4,15.3 117.4,27.2 105.8,24.6" fill="#0a5221"/><polygon points="105.8,12.7 117.4,15.3 117.4,18.8 105.8,16.3" fill="#1b5e31"/><polygon points="116.0,18.5 117.4,18.8 117.4,27.2 116.0,26.9" fill="#09481d"/><polyline points="105.8,24.3 117.4,26.9" fill="none" stroke="#08401a" stroke-width="0.6"/>
<polygon points="124.3,13.7 149.8,19.3 149.8,28.8 124.3,23.2" fill="#0b5d27"/><polygon points="124.3,13.7 149.8,19.3 149.8,22.2 124.3,16.5" fill="#1c6836"/><polygon points="147.8,21.7 149.8,22.2 149.8,28.8 147.8,28.4" fill="#0a5222"/><polyline points="124.3,22.9 149.8,28.5" fill="none" stroke="#09491e" stroke-width="0.6"/>
<polygon points="95.5,14.0 103.2,15.7 103.2,25.9 95.5,24.2" fill="#106b30"/><polygon points="95.5,14.0 103.2,15.7 103.2,18.8 95.5,17.1" fill="#21753e"/><polygon points="102.3,18.6 103.2,18.8 103.2,25.9 102.3,25.7" fill="#0e5e2a"/><polyline points="95.5,23.9 103.2,25.6" fill="none" stroke="#0c5325" stroke-width="0.6"/>
<polygon points="67.5,16.6 78.0,18.9 78.0,31.1 67.5,28.8" fill="#0c5f28"/><polygon points="67.5,16.6 78.0,18.9 78.0,22.6 67.5,20.3" fill="#1d6a37"/><polygon points="76.7,22.3 78.0,22.6 78.0,31.1 76.7,30.8" fill="#0b5423"/><polyline points="67.5,28.5 78.0,30.8" fill="none" stroke="#094a1f" stroke-width="0.6"/>
<polygon points="116.0,19.2 131.5,22.6 131.5,33.7 116.0,30.3" fill="#106b2f"/><polygon points="116.0,19.2 131.5,22.6 131.5,25.9 116.0,22.5" fill="#21753e"/><polygon points="129.6,25.5 131.5,25.9 131.5,33.7 129.6,33.3" fill="#0e5e29"/><polyline points="116.0,30.0 131.5,33.4" fill="none" stroke="#0c5325" stroke-width="0.6"/>
<polygon points="131.5,19.2 147.0,22.6 147.0,37.5 131.5,34.1" fill="#0a5421"/><polygon points="131.5,19.2 147.0,22.6 147.0,27.1 131.5,23.7" fill="#1b6031"/><polygon points="145.1,26.7 147.0,27.1 147.0,37.5 145.1,37.1" fill="#094a1d"/><polyline points="131.5,33.8 147.0,37.2" fill="none" stroke="#08421a" stroke-width="0.6"/>
<polygon points="80.0,20.4 86.5,21.8 86.5,33.7 80.0,32.3" fill="#0b5d26"/><polygon points="80.0,20.4 86.5,21.8 86.5,25.4 80.0,24.0" fill="#1c6835"/><polygon points="85.7,25.2 86.5,25.4 86.5,33.7 85.7,33.5" fill="#0a5221"/><polyline points="80.0,32.0 86.5,33.4" fill="none" stroke="#09491e" stroke-width="0.6"/>
<polygon points="90.3,20.4 110.9,24.9 110.9,36.2 90.3,31.7" fill="#0d652b"/><polygon points="90.3,20.4 110.9,24.9 110.9,28.3 90.3,23.8" fill="#1e703a"/><polygon points="108.9,27.9 110.9,28.3 110.9,36.2 108.9,35.8" fill="#0b5926"/><polyline points="90.3,31.4 110.9,35.9" fill="none" stroke="#0a4f22" stroke-width="0.6"/>
<polygon points="152.2,20.1 168.5,22.7 168.5,30.4 152.2,27.8" fill="#45b265"/><polygon points="152.2,20.1 168.5,22.7 168.5,25.6 152.2,23.0" fill="#8ccfa0"/><line x1="157.6" y1="23.9" x2="157.6" y2="28.7" stroke="#42a960" stroke-width="1.1"/><line x1="163.1" y1="24.8" x2="163.1" y2="29.5" stroke="#42a960" stroke-width="1.1"/><polygon points="166.5,25.3 168.5,25.6 168.5,30.4 166.5,30.1" fill="#3d9d59"/><polyline points="152.2,27.5 168.5,30.1" fill="none" stroke="#368b4f" stroke-width="0.6"/>
<polygon points="62.5,24.3 82.3,28.7 82.3,41.4 62.5,37.0" fill="#106a30"/><polygon points="62.5,24.3 82.3,28.7 82.3,32.5 62.5,28.1" fill="#21743e"/><polygon points="80.3,32.0 82.3,32.5 82.3,41.4 80.3,41.0" fill="#0e5d2a"/><polyline points="62.5,36.7 82.3,41.1" fill="none" stroke="#0c5325" stroke-width="0.6"/>
<polygon points="148.9,24.5 165.3,27.1 165.3,35.8 148.9,33.2" fill="#50b66e"/><polygon points="148.9,24.5 165.3,27.1 165.3,30.4 148.9,27.8" fill="#92d2a5"/><line x1="154.4" y1="28.7" x2="154.4" y2="34.1" stroke="#4cad68" stroke-width="1.1"/><line x1="159.8" y1="29.5" x2="159.8" y2="34.9" stroke="#4cad68" stroke-width="1.1"/><polygon points="163.3,30.1 165.3,30.4 165.3,35.8 163.3,35.5" fill="#46a061"/><polyline points="148.9,32.9 165.3,35.5" fill="none" stroke="#3e8e56" stroke-width="0.6"/>
<polygon points="170.7,25.6 180.6,27.2 180.6,33.6 170.7,32.0" fill="#dcefe0"/><polygon points="170.7,25.6 180.6,27.2 180.6,29.6 170.7,28.0" fill="#e9f5ec"/><line x1="175.6" y1="28.8" x2="175.6" y2="32.8" stroke="#d1e3d5" stroke-width="1.1"/><polygon points="179.4,29.4 180.6,29.6 180.6,33.6 179.4,33.4" fill="#c2d2c5"/><polyline points="170.7,31.7 180.6,33.3" fill="none" stroke="#acbaaf" stroke-width="0.6"/>
<polygon points="127.6,28.2 140.5,31.0 140.5,42.7 127.6,39.9" fill="#19823e"/><polygon points="127.6,28.2 140.5,31.0 140.5,34.5 127.6,31.7" fill="#298b4c"/><polygon points="139.0,34.2 140.5,34.5 140.5,42.7 139.0,42.4" fill="#167237"/><polyline points="127.6,39.6 140.5,42.4" fill="none" stroke="#146530" stroke-width="0.6"/>
<polygon points="87.8,29.5 105.8,33.5 105.8,43.9 87.8,39.9" fill="#0d632a"/><polygon points="87.8,29.5 105.8,33.5 105.8,36.6 87.8,32.6" fill="#1e6e39"/><polygon points="103.8,36.2 105.8,36.6 105.8,43.9 103.8,43.5" fill="#0b5725"/><polyline points="87.8,39.6 105.8,43.6" fill="none" stroke="#0a4d21" stroke-width="0.6"/>
<polygon points="108.3,30.7 127.6,34.9 127.6,46.5 108.3,42.3" fill="#127133"/><polygon points="108.3,30.7 127.6,34.9 127.6,38.4 108.3,34.2" fill="#237b41"/><polygon points="125.6,38.0 127.6,38.4 127.6,46.5 125.6,46.1" fill="#10632d"/><polyline points="108.3,42.0 127.6,46.2" fill="none" stroke="#0e5828" stroke-width="0.6"/>
<polygon points="176.2,28.9 189.3,31.0 189.3,45.6 176.2,43.5" fill="#259f4f"/><polygon points="176.2,28.9 189.3,31.0 189.3,36.5 176.2,34.4" fill="#78c392"/><line x1="182.8" y1="35.5" x2="182.8" y2="44.6" stroke="#23974b" stroke-width="1.1"/><polygon points="187.7,36.3 189.3,36.5 189.3,45.6 187.7,45.3" fill="#218c46"/><polyline points="176.2,43.2 189.3,45.3" fill="none" stroke="#1d7c3e" stroke-width="0.6"/>
<polygon points="181.6,28.9 202.4,32.2 202.4,39.1 181.6,35.8" fill="#22a04c"/><polygon points="181.6,28.9 202.4,32.2 202.4,34.8 181.6,31.5" fill="#76c490"/><line x1="188.5" y1="32.6" x2="188.5" y2="36.9" stroke="#209848" stroke-width="1.1"/><line x1="195.5" y1="33.7" x2="195.5" y2="38.0" stroke="#209848" stroke-width="1.1"/><polygon points="200.4,34.5 202.4,34.8 202.4,39.1 200.4,38.8" fill="#1e8d43"/><polyline points="181.6,35.5 202.4,38.8" fill="none" stroke="#1b7d3b" stroke-width="0.6"/>
<polygon points="58.0,32.0 78.0,36.4 78.0,47.8 58.0,43.4" fill="#0f6b2f"/><polygon points="58.0,32.0 78.0,36.4 78.0,39.8 58.0,35.4" fill="#20753e"/><polygon points="76.0,39.4 78.0,39.8 78.0,47.8 76.0,47.4" fill="#0d5e29"/><polyline points="58.0,43.1 78.0,47.5" fill="none" stroke="#0c5325" stroke-width="0.6"/>
<polygon points="165.3,30.0 176.2,31.7 176.2,40.2 165.3,38.5" fill="#3aaf5f"/><polygon points="165.3,30.0 176.2,31.7 176.2,35.0 165.3,33.2" fill="#85cd9c"/><line x1="170.8" y1="34.1" x2="170.8" y2="39.3" stroke="#37a65a" stroke-width="1.1"/><polygon points="174.9,34.7 176.2,35.0 176.2,40.2 174.9,40.0" fill="#339a54"/><polyline points="165.3,38.2 176.2,39.9" fill="none" stroke="#2d884a" stroke-width="0.6"/>
<polygon points="145.6,32.1 160.9,34.5 160.9,42.4 145.6,40.0" fill="#5cbb77"/><polygon points="145.6,32.1 160.9,34.5 160.9,37.5 145.6,35.1" fill="#9ad5ab"/><line x1="153.2" y1="36.3" x2="153.2" y2="41.2" stroke="#57b271" stroke-width="1.1"/><polygon points="159.1,37.2 160.9,37.5 160.9,42.4 159.1,42.1" fill="#51a569"/><polyline points="145.6,39.7 160.9,42.1" fill="none" stroke="#48925d" stroke-width="0.6"/>
<polygon points="206.7,32.1 219.8,34.2 219.8,42.4 206.7,40.3" fill="#1f9a4a"/><polygon points="206.7,32.1 219.8,34.2 219.8,37.3 206.7,35.2" fill="#74c08f"/><line x1="213.2" y1="36.3" x2="213.2" y2="41.4" stroke="#1d9246" stroke-width="1.1"/><polygon points="218.2,37.1 219.8,37.3 219.8,42.4 218.2,42.1" fill="#1b8841"/><polyline points="206.7,40.0 219.8,42.1" fill="none" stroke="#18783a" stroke-width="0.6"/>
<polygon points="83.9,37.2 103.2,41.4 103.2,53.0 83.9,48.8" fill="#0c642b"/><polygon points="83.9,37.2 103.2,41.4 103.2,44.9 83.9,40.7" fill="#1d6f3a"/><polygon points="101.2,44.5 103.2,44.9 103.2,53.0 101.2,52.6" fill="#0b5826"/><polyline points="83.9,48.5 103.2,52.7" fill="none" stroke="#094e22" stroke-width="0.6"/>
<polygon points="104.5,38.5 121.2,42.2 121.2,54.2 104.5,50.5" fill="#137737"/><polygon points="104.5,38.5 121.2,42.2 121.2,45.8 104.5,42.1" fill="#248145"/><polygon points="119.2,45.3 121.2,45.8 121.2,54.2 119.2,53.8" fill="#116930"/><polyline points="104.5,50.2 121.2,53.9" fill="none" stroke="#0f5d2b" stroke-width="0.6"/>
<polygon points="121.2,38.5 136.7,41.9 136.7,55.5 121.2,52.1" fill="#1e8d44"/><polygon points="121.2,38.5 136.7,41.9 136.7,46.0 121.2,42.6" fill="#2e9551"/><polygon points="134.8,45.6 136.7,46.0 136.7,55.5 134.8,55.1" fill="#1a7c3c"/><polyline points="121.2,51.8 136.7,55.2" fill="none" stroke="#176e35" stroke-width="0.6"/>
<polygon points="162.0,36.5 172.9,38.2 172.9,46.7 162.0,45.0" fill="#40b262"/><polygon points="162.0,36.5 172.9,38.2 172.9,41.5 162.0,39.7" fill="#89cf9e"/><line x1="167.4" y1="40.6" x2="167.4" y2="45.8" stroke="#3da95d" stroke-width="1.1"/><polygon points="171.6,41.2 172.9,41.5 172.9,46.7 171.6,46.5" fill="#389d56"/><polyline points="162.0,44.7 172.9,46.4" fill="none" stroke="#328b4c" stroke-width="0.6"/>
<polygon points="190.4,36.5 202.4,38.4 202.4,46.7 190.4,44.8" fill="#2aa552"/><polygon points="190.4,36.5 202.4,38.4 202.4,41.6 190.4,39.6" fill="#7bc794"/><line x1="196.4" y1="40.6" x2="196.4" y2="45.7" stroke="#289d4e" stroke-width="1.1"/><polygon points="201.0,41.3 202.4,41.6 202.4,46.7 201.0,46.5" fill="#259148"/><polyline points="190.4,44.5 202.4,46.4" fill="none" stroke="#218140" stroke-width="0.6"/>
<polygon points="53.5,39.7 70.2,43.4 70.2,55.5 53.5,51.8" fill="#117131"/><polygon points="53.5,39.7 70.2,43.4 70.2,47.0 53.5,43.3" fill="#227b3f"/><polygon points="68.2,46.6 70.2,47.0 70.2,55.5 68.2,55.1" fill="#0f632b"/><polyline points="53.5,51.5 70.2,55.2" fill="none" stroke="#0d5826" stroke-width="0.6"/>
<polygon points="142.4,37.6 158.7,40.2 158.7,48.9 142.4,46.3" fill="#9dd6ac"/><polygon points="142.4,37.6 158.7,40.2 158.7,43.5 142.4,40.9" fill="#c2e6cc"/><line x1="147.8" y1="41.8" x2="147.8" y2="47.2" stroke="#95cba3" stroke-width="1.1"/><line x1="153.3" y1="42.6" x2="153.3" y2="48.0" stroke="#95cba3" stroke-width="1.1"/><polygon points="156.7,43.2 158.7,43.5 158.7,48.9 156.7,48.6" fill="#8abc97"/><polyline points="142.4,46.0 158.7,48.6" fill="none" stroke="#7aa786" stroke-width="0.6"/>
<polygon points="217.6,37.6 229.6,39.5 229.6,46.7 217.6,44.8" fill="#2aa552"/><polygon points="217.6,37.6 229.6,39.5 229.6,42.2 217.6,40.3" fill="#7bc794"/><line x1="223.6" y1="41.3" x2="223.6" y2="45.7" stroke="#289d4e" stroke-width="1.1"/><polygon points="228.2,42.0 229.6,42.2 229.6,46.7 228.2,46.5" fill="#259148"/><polyline points="217.6,44.5 229.6,46.4" fill="none" stroke="#218140" stroke-width="0.6"/>
<polygon points="206.7,38.7 217.6,40.4 217.6,57.6 206.7,55.9" fill="#2aa552"/><polygon points="206.7,38.7 217.6,40.4 217.6,47.0 206.7,45.2" fill="#7bc794"/><line x1="212.1" y1="46.1" x2="212.1" y2="56.7" stroke="#289d4e" stroke-width="1.1"/><polygon points="216.3,46.8 217.6,47.0 217.6,57.6 216.3,57.4" fill="#259148"/><polyline points="206.7,55.6 217.6,57.3" fill="none" stroke="#218140" stroke-width="0.6"/>
<polygon points="159.8,40.9 170.7,42.6 170.7,52.2 159.8,50.5" fill="#35ad5c"/><polygon points="159.8,40.9 170.7,42.6 170.7,46.3 159.8,44.5" fill="#82cc9a"/><line x1="165.2" y1="45.4" x2="165.2" y2="51.3" stroke="#32a457" stroke-width="1.1"/><polygon points="169.4,46.1 170.7,46.3 170.7,52.2 169.4,52.0" fill="#2f9851"/><polyline points="159.8,50.2 170.7,51.9" fill="none" stroke="#298748" stroke-width="0.6"/>
<polygon points="73.6,44.9 92.9,49.1 92.9,62.0 73.6,57.8" fill="#0d672d"/><polygon points="73.6,44.9 92.9,49.1 92.9,53.0 73.6,48.8" fill="#1e723c"/><polygon points="90.9,52.6 92.9,53.0 92.9,62.0 90.9,61.6" fill="#0b5b28"/><polyline points="73.6,57.5 92.9,61.7" fill="none" stroke="#0a5023" stroke-width="0.6"/>
<polygon points="189.3,43.0 202.4,45.1 202.4,57.6 189.3,55.5" fill="#32a958"/><polygon points="189.3,43.0 202.4,45.1 202.4,49.8 189.3,47.8" fill="#80ca97"/><line x1="195.9" y1="48.8" x2="195.9" y2="56.6" stroke="#30a154" stroke-width="1.1"/><polygon points="200.8,49.6 202.4,49.8 202.4,57.6 200.8,57.3" fill="#2c954d"/><polyline points="189.3,55.2 202.4,57.3" fill="none" stroke="#278445" stroke-width="0.6"/>
<polygon points="139.1,44.1 155.5,46.7 155.5,55.5 139.1,52.9" fill="#b5e0bf"/><polygon points="139.1,44.1 155.5,46.7 155.5,50.1 139.1,47.4" fill="#d1ecd7"/><line x1="144.6" y1="48.3" x2="144.6" y2="53.8" stroke="#acd5b5" stroke-width="1.1"/><line x1="150.0" y1="49.2" x2="150.0" y2="54.6" stroke="#acd5b5" stroke-width="1.1"/><polygon points="153.5,49.7 155.5,50.1 155.5,55.5 153.5,55.2" fill="#9fc5a8"/><polyline points="139.1,52.6 155.5,55.2" fill="none" stroke="#8daf95" stroke-width="0.6"/>
<polygon points="217.6,44.1 230.7,46.2 230.7,55.5 217.6,53.4" fill="#35ad5c"/><polygon points="217.6,44.1 230.7,46.2 230.7,49.7 217.6,47.6" fill="#82cc9a"/><line x1="224.1" y1="48.7" x2="224.1" y2="54.5" stroke="#32a457" stroke-width="1.1"/><polygon points="229.1,49.5 230.7,49.7 230.7,55.5 229.1,55.2" fill="#2f9851"/><polyline points="217.6,53.1 230.7,55.2" fill="none" stroke="#298748" stroke-width="0.6"/>
<polygon points="95.5,47.5 110.9,50.9 110.9,63.2 95.5,59.8" fill="#167b3a"/><polygon points="95.5,47.5 110.9,50.9 110.9,54.6 95.5,51.2" fill="#268448"/><polygon points="109.1,54.2 110.9,54.6 110.9,63.2 109.1,62.8" fill="#136c33"/><polyline points="95.5,59.5 110.9,62.9" fill="none" stroke="#11602d" stroke-width="0.6"/>
<polygon points="48.5,47.5 62.5,50.6 62.5,63.2 48.5,60.1" fill="#0d672d"/><polygon points="48.5,47.5 62.5,50.6 62.5,54.4 48.5,51.3" fill="#1e723c"/><polygon points="60.8,54.0 62.5,54.4 62.5,63.2 60.8,62.8" fill="#0b5b28"/><polyline points="48.5,59.8 62.5,62.9" fill="none" stroke="#0a5023" stroke-width="0.6"/>
<polygon points="174.0,46.3 189.3,48.7 189.3,57.6 174.0,55.2" fill="#2aa552"/><polygon points="174.0,46.3 189.3,48.7 189.3,52.1 174.0,49.7" fill="#7bc794"/><line x1="181.7" y1="50.9" x2="181.7" y2="56.4" stroke="#289d4e" stroke-width="1.1"/><polygon points="187.5,51.8 189.3,52.1 189.3,57.6 187.5,57.3" fill="#259148"/><polyline points="174.0,54.9 189.3,57.3" fill="none" stroke="#218140" stroke-width="0.6"/>
<polygon points="112.2,50.0 127.6,53.4 127.6,67.1 112.2,63.7" fill="#19823e"/><polygon points="112.2,50.0 127.6,53.4 127.6,57.5 112.2,54.1" fill="#298b4c"/><polygon points="125.8,57.1 127.6,57.5 127.6,67.1 125.8,66.7" fill="#167237"/><polyline points="112.2,63.4 127.6,66.8" fill="none" stroke="#146530" stroke-width="0.6"/>
<polygon points="132.5,49.6 160.9,54.1 160.9,66.4 132.5,61.9" fill="#b5e0bf"/><polygon points="132.5,49.6 160.9,54.1 160.9,58.8 132.5,54.3" fill="#d1ecd7"/><line x1="139.6" y1="55.4" x2="139.6" y2="63.0" stroke="#acd5b5" stroke-width="1.1"/><line x1="146.7" y1="56.5" x2="146.7" y2="64.1" stroke="#acd5b5" stroke-width="1.1"/><line x1="153.8" y1="57.7" x2="153.8" y2="65.3" stroke="#acd5b5" stroke-width="1.1"/><polygon points="158.9,58.5 160.9,58.8 160.9,66.4 158.9,66.1" fill="#9fc5a8"/><polyline points="132.5,61.6 160.9,66.1" fill="none" stroke="#8daf95" stroke-width="0.6"/>
<polygon points="68.5,52.6 90.3,57.4 90.3,69.7 68.5,64.9" fill="#127132"/><polygon points="68.5,52.6 90.3,57.4 90.3,61.1 68.5,56.3" fill="#237b40"/><polygon points="88.3,60.6 90.3,61.1 90.3,69.7 88.3,69.3" fill="#10632c"/><polyline points="68.5,64.6 90.3,69.4" fill="none" stroke="#0e5827" stroke-width="0.6"/>
<polygon points="91.6,53.9 107.0,57.3 107.0,71.0 91.6,67.6" fill="#177d3b"/><polygon points="91.6,53.9 107.0,57.3 107.0,61.4 91.6,58.0" fill="#278649"/><polygon points="105.2,61.0 107.0,61.4 107.0,71.0 105.2,70.6" fill="#146e34"/><polyline points="91.6,67.3 107.0,70.7" fill="none" stroke="#12622e" stroke-width="0.6"/>
<polygon points="160.9,52.9 171.8,54.6 171.8,68.5 160.9,66.8" fill="#b0dfbb"/><polygon points="160.9,52.9 171.8,54.6 171.8,59.9 160.9,58.2" fill="#ceebd5"/><line x1="166.4" y1="59.0" x2="166.4" y2="67.6" stroke="#a7d4b2" stroke-width="1.1"/><polygon points="170.5,59.7 171.8,59.9 171.8,68.5 170.5,68.3" fill="#9bc4a5"/><polyline points="160.9,66.5 171.8,68.2" fill="none" stroke="#89ae92" stroke-width="0.6"/>
<polygon points="176.2,54.0 188.2,55.9 188.2,64.2 176.2,62.3" fill="#3aaf5f"/><polygon points="176.2,54.0 188.2,55.9 188.2,59.1 176.2,57.1" fill="#85cd9c"/><line x1="182.2" y1="58.1" x2="182.2" y2="63.2" stroke="#37a65a" stroke-width="1.1"/><polygon points="186.8,58.8 188.2,59.1 188.2,64.2 186.8,64.0" fill="#339a54"/><polyline points="176.2,62.0 188.2,63.9" fill="none" stroke="#2d884a" stroke-width="0.6"/>
<polygon points="207.8,54.0 230.7,57.7 230.7,64.2 207.8,60.5" fill="#30a858"/><polygon points="207.8,54.0 230.7,57.7 230.7,60.1 207.8,56.5" fill="#7fc997"/><line x1="213.5" y1="57.4" x2="213.5" y2="61.5" stroke="#2ea054" stroke-width="1.1"/><line x1="219.2" y1="58.3" x2="219.2" y2="62.4" stroke="#2ea054" stroke-width="1.1"/><line x1="225.0" y1="59.2" x2="225.0" y2="63.3" stroke="#2ea054" stroke-width="1.1"/><polygon points="228.7,59.8 230.7,60.1 230.7,64.2 228.7,63.9" fill="#2a944d"/><polyline points="207.8,60.2 230.7,63.9" fill="none" stroke="#258345" stroke-width="0.6"/>
<polygon points="43.3,56.5 56.0,59.3 56.0,71.0 43.3,68.2" fill="#0d672d"/><polygon points="43.3,56.5 56.0,59.3 56.0,62.8 43.3,60.0" fill="#1e723c"/><polygon points="54.5,62.5 56.0,62.8 56.0,71.0 54.5,70.7" fill="#0b5b28"/><polyline points="43.3,67.9 56.0,70.7" fill="none" stroke="#0a5023" stroke-width="0.6"/>
<polygon points="188.2,55.0 201.3,57.1 201.3,68.5 188.2,66.4" fill="#a8dcb4"/><polygon points="188.2,55.0 201.3,57.1 201.3,61.4 188.2,59.3" fill="#c9e9d0"/><line x1="194.8" y1="60.4" x2="194.8" y2="67.5" stroke="#a0d1ab" stroke-width="1.1"/><polygon points="199.7,61.2 201.3,61.4 201.3,68.5 199.7,68.2" fill="#94c29e"/><polyline points="188.2,66.1 201.3,68.2" fill="none" stroke="#83ac8c" stroke-width="0.6"/>
<polygon points="108.3,57.8 122.5,60.9 122.5,73.5 108.3,70.4" fill="#1e8d43"/><polygon points="108.3,57.8 122.5,60.9 122.5,64.7 108.3,61.6" fill="#2e9550"/><polygon points="120.8,64.3 122.5,64.7 122.5,73.5 120.8,73.1" fill="#1a7c3b"/><polyline points="108.3,70.1 122.5,73.2" fill="none" stroke="#176e34" stroke-width="0.6"/>
<polygon points="208.9,59.4 232.9,63.2 232.9,70.7 208.9,66.9" fill="#8fd0a0"/><polygon points="208.9,59.4 232.9,63.2 232.9,66.1 208.9,62.2" fill="#bae2c4"/><line x1="214.9" y1="63.2" x2="214.9" y2="67.8" stroke="#88c698" stroke-width="1.1"/><line x1="220.9" y1="64.2" x2="220.9" y2="68.8" stroke="#88c698" stroke-width="1.1"/><line x1="226.9" y1="65.1" x2="226.9" y2="69.7" stroke="#88c698" stroke-width="1.1"/><polygon points="230.9,65.8 232.9,66.1 232.9,70.7 230.9,70.4" fill="#7eb78d"/><polyline points="208.9,66.6 232.9,70.4" fill="none" stroke="#70a27d" stroke-width="0.6"/>
<polygon points="59.5,62.9 74.9,66.3 74.9,77.4 59.5,74.0" fill="#106b30"/><polygon points="59.5,62.9 74.9,66.3 74.9,69.6 59.5,66.2" fill="#21753e"/><polygon points="73.1,69.2 74.9,69.6 74.9,77.4 73.1,77.0" fill="#0e5e2a"/><polyline points="59.5,73.7 74.9,77.1" fill="none" stroke="#0c5325" stroke-width="0.6"/>
<polygon points="80.2,63.0 98.5,67.0 98.5,77.7 80.2,73.7" fill="#137938"/><polygon points="80.2,63.0 98.5,67.0 98.5,70.2 80.2,66.2" fill="#248246"/><polygon points="96.5,69.8 98.5,70.2 98.5,77.7 96.5,77.3" fill="#116a31"/><polyline points="80.2,73.4 98.5,77.4" fill="none" stroke="#0f5e2c" stroke-width="0.6"/>
<polygon points="39.3,63.5 47.0,65.2 47.0,78.0 39.3,76.3" fill="#0d632a"/><polygon points="39.3,63.5 47.0,65.2 47.0,69.0 39.3,67.3" fill="#1e6e39"/><polygon points="46.1,68.8 47.0,69.0 47.0,78.0 46.1,77.8" fill="#0b5725"/><polyline points="39.3,76.0 47.0,77.7" fill="none" stroke="#0a4d21" stroke-width="0.6"/>
<polygon points="166.4,63.8 187.1,67.1 187.1,77.3 166.4,74.0" fill="#a8dcb4"/><polygon points="166.4,63.8 187.1,67.1 187.1,71.0 166.4,67.7" fill="#c9e9d0"/><line x1="173.3" y1="68.8" x2="173.3" y2="75.1" stroke="#a0d1ab" stroke-width="1.1"/><line x1="180.2" y1="69.9" x2="180.2" y2="76.2" stroke="#a0d1ab" stroke-width="1.1"/><polygon points="185.1,70.7 187.1,71.0 187.1,77.3 185.1,77.0" fill="#94c29e"/><polyline points="166.4,73.7 187.1,77.0" fill="none" stroke="#83ac8c" stroke-width="0.6"/>
<polygon points="98.5,66.6 114.5,70.1 114.5,81.2 98.5,77.7" fill="#1a833f"/><polygon points="98.5,66.6 114.5,70.1 114.5,73.4 98.5,69.9" fill="#2a8c4c"/><polygon points="112.6,73.0 114.5,73.4 114.5,81.2 112.6,80.8" fill="#177337"/><polyline points="98.5,77.4 114.5,80.9" fill="none" stroke="#146631" stroke-width="0.6"/>
<polygon points="212.2,66.0 232.9,69.3 232.9,79.5 212.2,76.2" fill="#9cd6aa"/><polygon points="212.2,66.0 232.9,69.3 232.9,73.2 212.2,69.9" fill="#c2e6ca"/><line x1="219.1" y1="71.0" x2="219.1" y2="77.3" stroke="#94cba2" stroke-width="1.1"/><line x1="226.0" y1="72.1" x2="226.0" y2="78.4" stroke="#94cba2" stroke-width="1.1"/><polygon points="230.9,72.9 232.9,73.2 232.9,79.5 230.9,79.2" fill="#89bc96"/><polyline points="212.2,75.9 232.9,79.2" fill="none" stroke="#7aa785" stroke-width="0.6"/>
<polygon points="187.1,67.0 201.3,69.3 201.3,79.5 187.1,77.2" fill="#a5dab2"/><polygon points="187.1,67.0 201.3,69.3 201.3,73.2 187.1,70.9" fill="#c7e8cf"/><line x1="194.2" y1="72.0" x2="194.2" y2="78.4" stroke="#9dcfa9" stroke-width="1.1"/><polygon points="199.6,72.9 201.3,73.2 201.3,79.5 199.6,79.2" fill="#91c09d"/><polyline points="187.1,76.9 201.3,79.2" fill="none" stroke="#81aa8b" stroke-width="0.6"/>
<polygon points="52.7,69.5 71.0,73.5 71.0,86.8 52.7,82.8" fill="#0b5d26"/><polygon points="52.7,69.5 71.0,73.5 71.0,77.5 52.7,73.5" fill="#1c6835"/><polygon points="69.0,77.1 71.0,77.5 71.0,86.8 69.0,86.4" fill="#0a5221"/><polyline points="52.7,82.5 71.0,86.5" fill="none" stroke="#09491e" stroke-width="0.6"/>
<polygon points="75.6,71.0 93.9,75.0 93.9,88.7 75.6,84.7" fill="#127132"/><polygon points="75.6,71.0 93.9,75.0 93.9,79.1 75.6,75.1" fill="#237b40"/><polygon points="91.9,78.7 93.9,79.1 93.9,88.7 91.9,88.3" fill="#10632c"/><polyline points="75.6,84.4 93.9,88.4" fill="none" stroke="#0e5827" stroke-width="0.6"/>
<polygon points="94.0,76.0 114.5,80.5 114.5,91.9 94.0,87.4" fill="#177d3b"/><polygon points="94.0,76.0 114.5,80.5 114.5,83.9 94.0,79.4" fill="#278649"/><polygon points="112.5,83.5 114.5,83.9 114.5,91.9 112.5,91.5" fill="#146e34"/><polyline points="94.0,87.1 114.5,91.6" fill="none" stroke="#12622e" stroke-width="0.6"/>
<polygon points="188.2,75.8 200.2,77.7 200.2,92.6 188.2,90.7" fill="#a5dab2"/><polygon points="188.2,75.8 200.2,77.7 200.2,83.4 188.2,81.5" fill="#c7e8cf"/><line x1="194.2" y1="82.4" x2="194.2" y2="91.6" stroke="#9dcfa9" stroke-width="1.1"/><polygon points="198.8,83.1 200.2,83.4 200.2,92.6 198.8,92.4" fill="#91c09d"/><polyline points="188.2,90.4 200.2,92.3" fill="none" stroke="#81aa8b" stroke-width="0.6"/>
<polygon points="187.0,78.5 200.0,79.8 200.0,96.4 187.0,95.1" fill="#a5dab2"/><polygon points="187.0,78.5 200.0,79.8 200.0,86.1 187.0,84.8" fill="#c7e8cf"/><line x1="193.5" y1="85.5" x2="193.5" y2="95.7" stroke="#9dcfa9" stroke-width="1.1"/><polygon points="198.4,86.0 200.0,86.1 200.0,96.4 198.4,96.2" fill="#91c09d"/><polyline points="187.0,94.8 200.0,96.1" fill="none" stroke="#81aa8b" stroke-width="0.6"/>
<polygon points="37.8,84.1 64.1,86.7 64.1,96.0 37.8,93.4" fill="#25a050"/><polygon points="37.8,84.1 64.1,86.7 64.1,90.3 37.8,87.6" fill="#78c492"/><line x1="44.4" y1="88.3" x2="44.4" y2="94.0" stroke="#23984c" stroke-width="1.1"/><line x1="50.9" y1="88.9" x2="50.9" y2="94.7" stroke="#23984c" stroke-width="1.1"/><line x1="57.5" y1="89.6" x2="57.5" y2="95.3" stroke="#23984c" stroke-width="1.1"/><polygon points="62.1,90.1 64.1,90.3 64.1,96.0 62.1,95.8" fill="#218d46"/><polyline points="37.8,93.1 64.1,95.7" fill="none" stroke="#1d7d3e" stroke-width="0.6"/>
<polygon points="63.0,85.3 82.5,87.2 82.5,98.3 63.0,96.4" fill="#c5e6cc"/><polygon points="63.0,85.3 82.5,87.2 82.5,91.4 63.0,89.5" fill="#dbf0df"/><line x1="69.5" y1="90.1" x2="69.5" y2="97.0" stroke="#bbdac2" stroke-width="1.1"/><line x1="76.0" y1="90.8" x2="76.0" y2="97.7" stroke="#bbdac2" stroke-width="1.1"/><polygon points="80.5,91.2 82.5,91.4 82.5,98.3 80.5,98.1" fill="#adcab4"/><polyline points="63.0,96.1 82.5,98.0" fill="none" stroke="#9ab39f" stroke-width="0.6"/>
<polygon points="81.3,88.7 91.6,89.7 91.6,102.7 81.3,101.7" fill="#cfe8d4"/><polygon points="81.3,88.7 91.6,89.7 91.6,94.7 81.3,93.6" fill="#e1f1e4"/><line x1="86.4" y1="94.1" x2="86.4" y2="102.2" stroke="#c5dcc9" stroke-width="1.1"/><polygon points="90.4,94.5 91.6,94.7 91.6,102.7 90.4,102.6" fill="#b6ccbb"/><polyline points="81.3,101.4 91.6,102.4" fill="none" stroke="#a1b5a5" stroke-width="0.6"/>
<polygon points="50.4,92.1 65.3,93.6 65.3,105.2 50.4,103.7" fill="#5cc07a"/><polygon points="50.4,92.1 65.3,93.6 65.3,98.0 50.4,96.5" fill="#9ad8ad"/><line x1="57.8" y1="97.3" x2="57.8" y2="104.5" stroke="#57b674" stroke-width="1.1"/><polygon points="63.5,97.8 65.3,98.0 65.3,105.2 63.5,105.0" fill="#51a96b"/><polyline points="50.4,103.4 65.3,104.9" fill="none" stroke="#48965f" stroke-width="0.6"/>
<polygon points="29.8,93.3 50.4,95.4 50.4,107.4 29.8,105.3" fill="#2aa552"/><polygon points="29.8,93.3 50.4,95.4 50.4,99.9 29.8,97.9" fill="#7bc794"/><line x1="36.7" y1="98.6" x2="36.7" y2="106.0" stroke="#289d4e" stroke-width="1.1"/><line x1="43.5" y1="99.2" x2="43.5" y2="106.7" stroke="#289d4e" stroke-width="1.1"/><polygon points="48.4,99.7 50.4,99.9 50.4,107.4 48.4,107.2" fill="#259148"/><polyline points="29.8,105.0 50.4,107.1" fill="none" stroke="#218140" stroke-width="0.6"/>
<polygon points="136.0,99.8 151.5,101.4 151.5,114.1 136.0,112.6" fill="#d5ebd9"/><polygon points="136.0,99.8 151.5,101.4 151.5,106.2 136.0,104.6" fill="#e5f3e7"/><line x1="143.8" y1="105.4" x2="143.8" y2="113.3" stroke="#cadfce" stroke-width="1.1"/><polygon points="149.6,106.0 151.5,106.2 151.5,114.1 149.6,113.9" fill="#bbcfbf"/><polyline points="136.0,112.2 151.5,113.8" fill="none" stroke="#a6b7a9" stroke-width="0.6"/>
<polygon points="111.0,100.9 120.0,101.8 120.0,111.8 111.0,110.9" fill="#dfeee2"/><polygon points="111.0,100.9 120.0,101.8 120.0,105.6 111.0,104.7" fill="#ebf4ed"/><polygon points="118.9,105.5 120.0,105.6 120.0,111.8 118.9,111.7" fill="#c4d1c7"/><polyline points="111.0,110.6 120.0,111.5" fill="none" stroke="#aebab0" stroke-width="0.6"/>
<polygon points="116.0,101.0 132.5,102.6 132.5,115.3 116.0,113.7" fill="#d0e9d5"/><polygon points="116.0,101.0 132.5,102.6 132.5,107.5 116.0,105.8" fill="#e2f1e5"/><line x1="121.5" y1="106.4" x2="121.5" y2="114.2" stroke="#c6ddca" stroke-width="1.1"/><line x1="127.0" y1="106.9" x2="127.0" y2="114.8" stroke="#c6ddca" stroke-width="1.1"/><polygon points="130.5,107.3 132.5,107.5 132.5,115.3 130.5,115.1" fill="#b7cdbb"/><polyline points="116.0,113.4 132.5,115.0" fill="none" stroke="#a2b6a6" stroke-width="0.6"/>
<polygon points="153.8,101.0 176.3,103.2 176.3,116.5 153.8,114.2" fill="#d5ebd9"/><polygon points="153.8,101.0 176.3,103.2 176.3,108.3 153.8,106.0" fill="#e5f3e7"/><line x1="161.3" y1="106.8" x2="161.3" y2="115.0" stroke="#cadfce" stroke-width="1.1"/><line x1="168.8" y1="107.5" x2="168.8" y2="115.8" stroke="#cadfce" stroke-width="1.1"/><polygon points="174.3,108.1 176.3,108.3 176.3,116.5 174.3,116.3" fill="#bbcfbf"/><polyline points="153.8,113.9 176.3,116.2" fill="none" stroke="#a6b7a9" stroke-width="0.6"/>
<polygon points="64.4,103.3 87.1,105.6 87.1,116.6 64.4,114.3" fill="#cfe8d4"/><polygon points="64.4,103.3 87.1,105.6 87.1,109.8 64.4,107.5" fill="#e1f1e4"/><line x1="72.0" y1="108.2" x2="72.0" y2="115.1" stroke="#c5dcc9" stroke-width="1.1"/><line x1="79.5" y1="109.0" x2="79.5" y2="115.8" stroke="#c5dcc9" stroke-width="1.1"/><polygon points="85.1,109.6 87.1,109.8 87.1,116.6 85.1,116.4" fill="#b6ccbb"/><polyline points="64.4,114.0 87.1,116.3" fill="none" stroke="#a1b5a5" stroke-width="0.6"/>
<polygon points="44.2,105.7 63.2,107.6 63.2,119.0 44.2,117.1" fill="#a5dab2"/><polygon points="44.2,105.7 63.2,107.6 63.2,111.9 44.2,110.0" fill="#c7e8cf"/><line x1="50.5" y1="110.7" x2="50.5" y2="117.7" stroke="#9dcfa9" stroke-width="1.1"/><line x1="56.9" y1="111.3" x2="56.9" y2="118.4" stroke="#9dcfa9" stroke-width="1.1"/><polygon points="61.2,111.7 63.2,111.9 63.2,119.0 61.2,118.8" fill="#91c09d"/><polyline points="44.2,116.8 63.2,118.7" fill="none" stroke="#81aa8b" stroke-width="0.6"/>
<polygon points="23.9,106.9 43.0,108.8 43.0,120.2 23.9,118.3" fill="#5cbf78"/><polygon points="23.9,106.9 43.0,108.8 43.0,113.1 23.9,111.2" fill="#9ad7ab"/><line x1="30.3" y1="111.9" x2="30.3" y2="118.9" stroke="#57b572" stroke-width="1.1"/><line x1="36.6" y1="112.5" x2="36.6" y2="119.6" stroke="#57b572" stroke-width="1.1"/><polygon points="41.0,112.9 43.0,113.1 43.0,120.2 41.0,120.0" fill="#51a86a"/><polyline points="23.9,118.0 43.0,119.9" fill="none" stroke="#48955e" stroke-width="0.6"/>
<polygon points="132.5,111.6 151.5,113.5 151.5,126.0 132.5,124.1" fill="#8fd0a0"/><polygon points="132.5,111.6 151.5,113.5 151.5,118.2 132.5,116.4" fill="#bae2c4"/><line x1="138.8" y1="117.0" x2="138.8" y2="124.7" stroke="#88c698" stroke-width="1.1"/><line x1="145.2" y1="117.6" x2="145.2" y2="125.4" stroke="#88c698" stroke-width="1.1"/><polygon points="149.5,118.1 151.5,118.2 151.5,126.0 149.5,125.8" fill="#7eb78d"/><polyline points="132.5,123.8 151.5,125.7" fill="none" stroke="#70a27d" stroke-width="0.6"/>
<polygon points="152.6,112.8 175.1,115.1 175.1,128.3 152.6,126.1" fill="#3cb060"/><polygon points="152.6,112.8 175.1,115.1 175.1,120.1 152.6,117.8" fill="#86ce9c"/><line x1="160.1" y1="118.6" x2="160.1" y2="126.8" stroke="#39a75b" stroke-width="1.1"/><line x1="167.6" y1="119.3" x2="167.6" y2="127.6" stroke="#39a75b" stroke-width="1.1"/><polygon points="173.1,119.9 175.1,120.1 175.1,128.3 173.1,128.1" fill="#359b54"/><polyline points="152.6,125.8 175.1,128.0" fill="none" stroke="#2f894b" stroke-width="0.6"/>
<polygon points="60.9,114.1 83.5,116.4 83.5,128.5 60.9,126.2" fill="#d5ebd9"/><polygon points="60.9,114.1 83.5,116.4 83.5,121.0 60.9,118.7" fill="#e5f3e7"/><line x1="68.4" y1="119.5" x2="68.4" y2="127.0" stroke="#cadfce" stroke-width="1.1"/><line x1="76.0" y1="120.2" x2="76.0" y2="127.7" stroke="#cadfce" stroke-width="1.1"/><polygon points="81.5,120.8 83.5,121.0 83.5,128.5 81.5,128.3" fill="#bbcfbf"/><polyline points="60.9,125.9 83.5,128.2" fill="none" stroke="#a6b7a9" stroke-width="0.6"/>
<polygon points="19.1,117.7 37.0,119.5 37.0,130.9 19.1,129.1" fill="#6cc585"/><polygon points="19.1,117.7 37.0,119.5 37.0,123.8 19.1,122.0" fill="#a4dbb3"/><line x1="25.1" y1="122.6" x2="25.1" y2="129.7" stroke="#67bb7e" stroke-width="1.1"/><line x1="31.0" y1="123.2" x2="31.0" y2="130.3" stroke="#67bb7e" stroke-width="1.1"/><polygon points="35.0,123.6 37.0,123.8 37.0,130.9 35.0,130.7" fill="#5fad75"/><polyline points="19.1,128.8 37.0,130.6" fill="none" stroke="#549a68" stroke-width="0.6"/>
<polygon points="38.2,117.7 56.1,119.5 56.1,130.9 38.2,129.1" fill="#80cc95"/><polygon points="38.2,117.7 56.1,119.5 56.1,123.8 38.2,122.0" fill="#b0dfbd"/><line x1="44.2" y1="122.6" x2="44.2" y2="129.7" stroke="#7ac28e" stroke-width="1.1"/><line x1="50.1" y1="123.2" x2="50.1" y2="130.3" stroke="#7ac28e" stroke-width="1.1"/><polygon points="54.1,123.6 56.1,123.8 56.1,130.9 54.1,130.7" fill="#71b483"/><polyline points="38.2,128.8 56.1,130.6" fill="none" stroke="#649f74" stroke-width="0.6"/>
<polygon points="130.2,122.2 149.1,124.1 149.1,137.7 130.2,135.8" fill="#3aaf5f"/><polygon points="130.2,122.2 149.1,124.1 149.1,129.3 130.2,127.4" fill="#85cd9c"/><line x1="136.5" y1="128.0" x2="136.5" y2="136.4" stroke="#37a65a" stroke-width="1.1"/><line x1="142.8" y1="128.6" x2="142.8" y2="137.1" stroke="#37a65a" stroke-width="1.1"/><polygon points="147.1,129.1 149.1,129.3 149.1,137.7 147.1,137.5" fill="#339a54"/><polyline points="130.2,135.5 149.1,137.4" fill="none" stroke="#2d884a" stroke-width="0.6"/>
<polygon points="150.3,124.6 172.7,126.8 172.7,140.1 150.3,137.9" fill="#40b262"/><polygon points="150.3,124.6 172.7,126.8 172.7,131.9 150.3,129.6" fill="#89cf9e"/><line x1="157.8" y1="130.4" x2="157.8" y2="138.6" stroke="#3da95d" stroke-width="1.1"/><line x1="165.2" y1="131.1" x2="165.2" y2="139.4" stroke="#3da95d" stroke-width="1.1"/><polygon points="170.7,131.7 172.7,131.9 172.7,140.1 170.7,139.9" fill="#389d56"/><polyline points="150.3,137.6 172.7,139.8" fill="none" stroke="#328b4c" stroke-width="0.6"/>
<polygon points="56.1,124.8 78.8,127.1 78.8,139.2 56.1,136.9" fill="#e6f1e8"/><polygon points="56.1,124.8 78.8,127.1 78.8,131.7 56.1,129.4" fill="#f0f6f1"/><line x1="63.7" y1="130.2" x2="63.7" y2="137.7" stroke="#dae5dc" stroke-width="1.1"/><line x1="71.2" y1="130.9" x2="71.2" y2="138.4" stroke="#dae5dc" stroke-width="1.1"/><polygon points="76.8,131.5 78.8,131.7 78.8,139.2 76.8,139.0" fill="#cad4cc"/><polyline points="56.1,136.6 78.8,138.9" fill="none" stroke="#b3bcb5" stroke-width="0.6"/>
<polygon points="37.0,126.0 53.7,127.7 53.7,139.2 37.0,137.5" fill="#b0dfbb"/><polygon points="37.0,126.0 53.7,127.7 53.7,132.1 37.0,130.4" fill="#ceebd5"/><line x1="42.6" y1="130.9" x2="42.6" y2="138.1" stroke="#a7d4b2" stroke-width="1.1"/><line x1="48.1" y1="131.5" x2="48.1" y2="138.6" stroke="#a7d4b2" stroke-width="1.1"/><polygon points="51.7,131.9 53.7,132.1 53.7,139.2 51.7,139.0" fill="#9bc4a5"/><polyline points="37.0,137.2 53.7,138.9" fill="none" stroke="#89ae92" stroke-width="0.6"/>
<polygon points="95.5,127.2 120.0,129.6 120.0,144.0 95.5,141.6" fill="#c5e6cc"/><polygon points="95.5,127.2 120.0,129.6 120.0,135.1 95.5,132.7" fill="#dbf0df"/><line x1="101.6" y1="133.3" x2="101.6" y2="142.2" stroke="#bbdac2" stroke-width="1.1"/><line x1="107.8" y1="133.9" x2="107.8" y2="142.8" stroke="#bbdac2" stroke-width="1.1"/><line x1="113.9" y1="134.5" x2="113.9" y2="143.4" stroke="#bbdac2" stroke-width="1.1"/><polygon points="118.0,134.9 120.0,135.1 120.0,144.0 118.0,143.8" fill="#adcab4"/><polyline points="95.5,141.2 120.0,143.7" fill="none" stroke="#9ab39f" stroke-width="0.6"/>
<polygon points="116.0,128.1 124.3,128.9 124.3,143.6 116.0,142.8" fill="#cfe8d4"/><polygon points="116.0,128.1 124.3,128.9 124.3,134.5 116.0,133.7" fill="#e1f1e4"/><polygon points="123.3,134.4 124.3,134.5 124.3,143.6 123.3,143.5" fill="#b6ccbb"/><polyline points="116.0,142.5 124.3,143.3" fill="none" stroke="#a1b5a5" stroke-width="0.6"/>
<polygon points="14.3,128.4 50.1,132.0 50.1,146.4 14.3,142.8" fill="#a0d8ad"/><polygon points="14.3,128.4 50.1,132.0 50.1,137.5 14.3,133.9" fill="#c4e7cc"/><line x1="20.3" y1="134.5" x2="20.3" y2="143.4" stroke="#98cda4" stroke-width="1.1"/><line x1="26.2" y1="135.1" x2="26.2" y2="144.0" stroke="#98cda4" stroke-width="1.1"/><line x1="32.2" y1="135.7" x2="32.2" y2="144.6" stroke="#98cda4" stroke-width="1.1"/><line x1="38.2" y1="136.3" x2="38.2" y2="145.2" stroke="#98cda4" stroke-width="1.1"/><line x1="44.1" y1="136.9" x2="44.1" y2="145.8" stroke="#98cda4" stroke-width="1.1"/><polygon points="48.1,137.3 50.1,137.5 50.1,146.4 48.1,146.2" fill="#8dbe98"/><polyline points="14.3,142.5 50.1,146.1" fill="none" stroke="#7da887" stroke-width="0.6"/>
<polygon points="126.6,135.2 146.7,137.2 146.7,147.2 126.6,145.2" fill="#30a855"/><polygon points="126.6,135.2 146.7,137.2 146.7,141.0 126.6,139.0" fill="#7fc996"/><line x1="133.3" y1="139.7" x2="133.3" y2="145.9" stroke="#2ea051" stroke-width="1.1"/><line x1="140.0" y1="140.3" x2="140.0" y2="146.5" stroke="#2ea051" stroke-width="1.1"/><polygon points="144.7,140.8 146.7,141.0 146.7,147.2 144.7,147.0" fill="#2a944b"/><polyline points="126.6,144.9 146.7,146.9" fill="none" stroke="#258342" stroke-width="0.6"/>
<polygon points="51.3,136.7 75.2,139.1 75.2,152.4 51.3,150.0" fill="#cfe8d4"/><polygon points="51.3,136.7 75.2,139.1 75.2,144.1 51.3,141.8" fill="#e1f1e4"/><line x1="57.3" y1="142.4" x2="57.3" y2="150.6" stroke="#c5dcc9" stroke-width="1.1"/><line x1="63.2" y1="143.0" x2="63.2" y2="151.2" stroke="#c5dcc9" stroke-width="1.1"/><line x1="69.2" y1="143.6" x2="69.2" y2="151.8" stroke="#c5dcc9" stroke-width="1.1"/><polygon points="73.2,143.9 75.2,144.1 75.2,152.4 73.2,152.2" fill="#b6ccbb"/><polyline points="51.3,149.7 75.2,152.1" fill="none" stroke="#a1b5a5" stroke-width="0.6"/>
<polygon points="126.6,142.3 145.6,144.2 145.6,154.3 126.6,152.4" fill="#30a855"/><polygon points="126.6,142.3 145.6,144.2 145.6,148.0 126.6,146.1" fill="#7fc996"/><line x1="132.9" y1="146.8" x2="132.9" y2="153.0" stroke="#2ea051" stroke-width="1.1"/><line x1="139.3" y1="147.4" x2="139.3" y2="153.7" stroke="#2ea051" stroke-width="1.1"/><polygon points="143.6,147.8 145.6,148.0 145.6,154.3 143.6,154.1" fill="#2a944b"/><polyline points="126.6,152.1 145.6,154.0" fill="none" stroke="#258342" stroke-width="0.6"/>
<polygon points="124.3,149.4 143.2,151.3 143.2,162.6 124.3,160.7" fill="#3aaf5f"/><polygon points="124.3,149.4 143.2,151.3 143.2,155.6 124.3,153.7" fill="#85cd9c"/><line x1="130.6" y1="154.3" x2="130.6" y2="161.3" stroke="#37a65a" stroke-width="1.1"/><line x1="136.9" y1="155.0" x2="136.9" y2="162.0" stroke="#37a65a" stroke-width="1.1"/><polygon points="141.2,155.4 143.2,155.6 143.2,162.6 141.2,162.4" fill="#339a54"/><polyline points="124.3,160.4 143.2,162.3" fill="none" stroke="#2d884a" stroke-width="0.6"/>
<rect x="201.4" y="62.4" width="1.3" height="1.3" fill="#e0242a"/>
<rect x="34.7" y="84.1" width="1.3" height="1.3" fill="#e0242a"/>
<rect x="72.9" y="84.1" width="1.3" height="1.3" fill="#e0242a"/>
<rect x="121.4" y="151.7" width="1.3" height="1.3" fill="#e0242a"/>
</svg>
<rect x="492.6" y="302.9" width="50" height="63.5" fill="#fff" stroke="#6f93d2" stroke-width="0.8"/><linearGradient id="grd" x1="0" y1="0" x2="0" y2="1"><stop offset="0" stop-color="#ffffff"/><stop offset="0.33" stop-color="#bfe9c8"/><stop offset="0.5" stop-color="#3cc068"/><stop offset="0.62" stop-color="#0fa848"/><stop offset="0.82" stop-color="#0a7a32"/><stop offset="1" stop-color="#064f1c"/></linearGradient><rect x="503.0" y="317.4" width="16.2" height="45" fill="url(#grd)"/><text x="497.70000000000005" y="312.2" font-family='"Liberation Serif", serif' font-size="7.6" fill="#000" textLength="40" lengthAdjust="spacingAndGlyphs">Recycling rate</text><text x="522.6" y="320.5" font-family='"Liberation Serif", serif' font-size="7.4" fill="#111" textLength="10" lengthAdjust="spacingAndGlyphs">0%</text><text x="522.6" y="363.7" font-family='"Liberation Serif", serif' font-size="7.2" fill="#111" textLength="16.6" lengthAdjust="spacingAndGlyphs">100%</text>
</svg>
</body></html>
